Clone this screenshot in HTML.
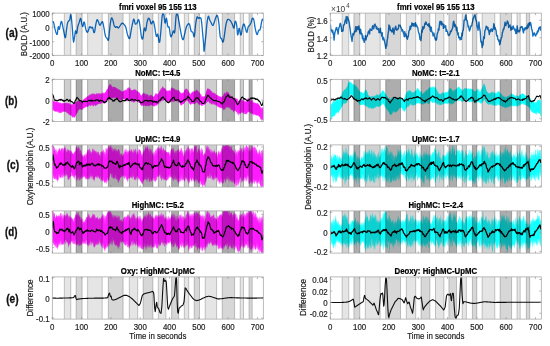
<!DOCTYPE html>
<html><head><meta charset="utf-8"><title>fNIRS motion correction figure</title>
<style>html,body{margin:0;padding:0;background:#fff;width:550px;height:346px;overflow:hidden}svg{display:block}</style>
</head><body>
<svg width="550" height="346" viewBox="0 0 550 346" font-family="'Liberation Sans', Arial, Helvetica, sans-serif"><defs><clipPath id="c00"><rect x="52.3" y="13.1" width="211" height="42.2"/></clipPath><clipPath id="c01"><rect x="52.3" y="79.3" width="211" height="42.2"/></clipPath><clipPath id="c02"><rect x="52.3" y="144.9" width="211" height="42.2"/></clipPath><clipPath id="c03"><rect x="52.3" y="210.9" width="211" height="42.2"/></clipPath><clipPath id="c04"><rect x="52.3" y="276.9" width="211" height="42.2"/></clipPath><clipPath id="c10"><rect x="330.3" y="13.1" width="211" height="42.2"/></clipPath><clipPath id="c11"><rect x="330.3" y="79.3" width="211" height="42.2"/></clipPath><clipPath id="c12"><rect x="330.3" y="144.9" width="211" height="42.2"/></clipPath><clipPath id="c13"><rect x="330.3" y="210.9" width="211" height="42.2"/></clipPath><clipPath id="c14"><rect x="330.3" y="276.9" width="211" height="42.2"/></clipPath></defs><rect width="550" height="346" fill="#fff"/><g clip-path="url(#c00)">
<path d="M52,22.48 L52.4,22.07 L52.8,21.59 L53.2,21.53 L53.6,22.38 L54,24.14 L54.4,26.26 L54.8,28.13 L55.2,29.71 L55.6,31.18 L56,32.45 L56.4,33.53 L56.8,34.48 L57.2,34.43 L57.6,31.94 L58,27.99 L58.4,26.57 L58.8,28.19 L59.2,29.41 L59.6,28.44 L60,26.64 L60.4,24.91 L60.8,22.92 L61.2,21.32 L61.6,21.32 L62,22.64 L62.4,24.59 L62.8,26.58 L63.2,28.54 L63.6,30.65 L64,32.68 L64.4,34.5 L64.8,36.48 L65.2,37.75 L65.6,37.21 L66,34.29 L66.4,30.61 L66.8,27.64 L67.2,24.87 L67.6,22.89 L68,21.91 L68.4,21.4 L68.8,20.88 L69.2,20.59 L69.6,20.07 L70,18.42 L70.4,15.64 L70.8,14.35 L71.2,16.19 L71.6,19.85 L72,24.2 L72.4,28.95 L72.8,34.71 L73.2,39.75 L73.6,42.18 L74,40.75 L74.4,37.62 L74.8,35.06 L75.2,32.28 L75.6,30.76 L76,31.72 L76.4,33.37 L76.8,33.18 L77.2,30.67 L77.6,27.65 L78,25.75 L78.4,24.48 L78.8,23.45 L79.2,22.38 L79.6,20.98 L80,19.51 L80.4,18.49 L80.8,18.47 L81.2,20.31 L81.6,22.85 L82,24.69 L82.4,26.2 L82.8,26.6 L83.2,25.31 L83.6,23.29 L84,21.88 L84.4,22.24 L84.8,24.05 L85.2,26.36 L85.6,28.23 L86,29.74 L86.4,31.08 L86.8,32.01 L87.2,32.3 L87.6,32.03 L88,31.41 L88.4,30.61 L88.8,29.33 L89.2,27.85 L89.6,26.77 L90,26.6 L90.4,27.12 L90.8,27.77 L91.2,28.02 L91.6,27.68 L92,27.23 L92.4,27.23 L92.8,28.17 L93.2,29.8 L93.6,31.52 L94,32.7 L94.4,32.68 L94.8,30.89 L95.2,28.14 L95.6,25.57 L96,23.59 L96.4,21.68 L96.8,20.21 L97.2,19.59 L97.6,19.91 L98,20.77 L98.4,21.71 L98.8,22.74 L99.2,23.99 L99.6,24.99 L100,25.25 L100.4,24.74 L100.8,23.9 L101.2,23.18 L101.6,22.51 L102,21.81 L102.4,21.58 L102.8,22.29 L103.2,23.91 L103.6,26 L104,28.12 L104.4,30.43 L104.8,32.9 L105.2,35.01 L105.6,36.31 L106,37.11 L106.4,37.62 L106.8,38.01 L107.2,38.46 L107.6,39.4 L108,40.34 L108.4,40.29 L108.8,38.28 L109.2,34.36 L109.6,29.86 L110,26.17 L110.4,23.16 L110.8,20.55 L111.2,18.69 L111.6,17.91 L112,18.11 L112.4,18.92 L112.8,19.94 L113.2,21.48 L113.6,23.33 L114,24.95 L114.4,25.98 L114.8,26.69 L115.2,27.14 L115.6,27.36 L116,27.18 L116.4,26.82 L116.8,26.62 L117.2,26.89 L117.6,27.46 L118,27.94 L118.4,27.96 L118.8,27.6 L119.2,27.03 L119.6,26.4 L120,25.84 L120.4,25.25 L120.8,24.61 L121.2,24.01 L121.6,23.51 L122,23.2 L122.4,23.14 L122.8,23.27 L123.2,23.56 L123.6,23.94 L124,24.38 L124.4,24.82 L124.8,25.29 L125.2,25.88 L125.6,26.72 L126,27.92 L126.4,29.62 L126.8,31.55 L127.2,33.4 L127.6,34.88 L128,36.04 L128.4,37.13 L128.8,38 L129.2,38.52 L129.6,38.52 L130,37.56 L130.4,35.28 L130.8,32.54 L131.2,30.21 L131.6,28.1 L132,26.03 L132.4,24.06 L132.8,22.27 L133.2,20.5 L133.6,19.21 L134,19.19 L134.4,20.58 L134.8,22.45 L135.2,23.79 L135.6,24.15 L136,24.1 L136.4,23.77 L136.8,23.3 L137.2,22.64 L137.6,21.54 L138,20.41 L138.4,19.69 L138.8,19.83 L139.2,21.2 L139.6,23.43 L140,26.01 L140.4,28.83 L140.8,32.25 L141.2,35.42 L141.6,37.5 L142,38.72 L142.4,39.16 L142.8,38.63 L143.2,36.48 L143.6,32.78 L144,29.31 L144.4,27.81 L144.8,28.67 L145.2,30.27 L145.6,30.86 L146,29.34 L146.4,26.6 L146.8,23.74 L147.2,21.73 L147.6,20.19 L148,19.03 L148.4,18.33 L148.8,18.22 L149.2,18.61 L149.6,19.3 L150,20.21 L150.4,21.69 L150.8,23.14 L151.2,23.87 L151.6,23.63 L152,22.89 L152.4,21.98 L152.8,21.25 L153.2,21.05 L153.6,21.74 L154,23.32 L154.4,25.33 L154.8,27.43 L155.2,30.02 L155.6,32.78 L156,35.14 L156.4,36.49 L156.8,36.05 L157.2,34.77 L157.6,34.14 L158,35.31 L158.4,37.72 L158.8,40.36 L159.2,42.25 L159.6,42.39 L160,40.03 L160.4,36.06 L160.8,31.71 L161.2,27.36 L161.6,22.32 L162,17.76 L162.4,14.87 L162.8,13.55 L163.2,13.34 L163.6,13.99 L164,15.93 L164.4,19.26 L164.8,22.25 L165.2,23.17 L165.6,21.62 L166,19.34 L166.4,18.29 L166.8,19.76 L167.2,22.69 L167.6,25.59 L168,27.04 L168.4,27.04 L168.8,26.75 L169.2,27.3 L169.6,29.57 L170,32.77 L170.4,35.54 L170.8,36.72 L171.2,36.6 L171.6,35.81 L172,34.91 L172.4,33.72 L172.8,32.23 L173.2,31.05 L173.6,30.92 L174,32.07 L174.4,32.97 L174.8,31.89 L175.2,27.58 L175.6,21.68 L176,16.64 L176.4,14.32 L176.8,13.76 L177.2,14.2 L177.6,15.02 L178,16.4 L178.4,18.34 L178.8,20.5 L179.2,22.71 L179.6,25.18 L180,27.68 L180.4,29.97 L180.8,32.17 L181.2,34.23 L181.6,36.01 L182,37.53 L182.4,38.87 L182.8,39.71 L183.2,39.67 L183.6,38.59 L184,36.91 L184.4,35.17 L184.8,33.54 L185.2,31.73 L185.6,29.91 L186,28.27 L186.4,26.96 L186.8,26.06 L187.2,25.29 L187.6,24.64 L188,24.15 L188.4,23.83 L188.8,23.72 L189.2,23.84 L189.6,24.37 L190,25.95 L190.4,28.07 L190.8,30.05 L191.2,31.26 L191.6,31.73 L192,31.85 L192.4,31.92 L192.8,32.24 L193.2,33.37 L193.6,35.33 L194,36.75 L194.4,36.2 L194.8,33.11 L195.2,28.78 L195.6,24.77 L196,21.98 L196.4,19.63 L196.8,17.84 L197.2,16.85 L197.6,16.97 L198,17.71 L198.4,18.34 L198.8,18.34 L199.2,18.01 L199.6,17.7 L200,17.74 L200.4,17.76 L200.8,18.06 L201.2,19.28 L201.6,21.98 L202,25.95 L202.4,30.48 L202.8,34.86 L203.2,39.22 L203.6,43.97 L204,51.23 L204.4,49.92 L204.8,45 L205.2,41.54 L205.6,38.17 L206,34.36 L206.4,29.47 L206.8,24.87 L207.2,21.7 L207.6,19.02 L208,17.09 L208.4,16.21 L208.8,16.75 L209.2,18.14 L209.6,19.55 L210,20.46 L210.4,21.29 L210.8,22.06 L211.2,22.78 L211.6,23.62 L212,24.47 L212.4,25.14 L212.8,25.42 L213.2,25.12 L213.6,24.24 L214,23.05 L214.4,21.78 L214.8,20.62 L215.2,19.31 L215.6,18.02 L216,17 L216.4,16.15 L216.8,15.47 L217.2,15.33 L217.6,16.1 L218,17.64 L218.4,19.84 L218.8,22.6 L219.2,26.44 L219.6,31.07 L220,35.16 L220.4,37.51 L220.8,38.26 L221.2,38.34 L221.6,38.7 L222,39.85 L222.4,41.23 L222.8,42.14 L223.2,41.89 L223.6,40.31 L224,38.02 L224.4,35.45 L224.8,32.44 L225.2,29.33 L225.6,26.55 L226,24.41 L226.4,22.7 L226.8,21.34 L227.2,20.32 L227.6,19.63 L228,19.33 L228.4,19.34 L228.8,19.53 L229.2,19.75 L229.6,19.97 L230,20.31 L230.4,20.77 L230.8,21.36 L231.2,22.03 L231.6,22.78 L232,23.59 L232.4,24.44 L232.8,25.51 L233.2,26.98 L233.6,28.1 L234,28.05 L234.4,26.14 L234.8,23.43 L235.2,21.43 L235.6,21.19 L236,22.03 L236.4,23.67 L236.8,25.98 L237.2,30.74 L237.6,34.87 L238,34.59 L238.4,31.91 L238.8,29.09 L239.2,28.26 L239.6,29.53 L240,31.73 L240.4,33.92 L240.8,35.15 L241.2,34.64 L241.6,32.68 L242,30.1 L242.4,27.68 L242.8,26.1 L243.2,24.91 L243.6,24.16 L244,24 L244.4,24.69 L244.8,26.03 L245.2,27.54 L245.6,28.89 L246,30.51 L246.4,31.91 L246.8,32.4 L247.2,31.39 L247.6,29.42 L248,27.47 L248.4,26.39 L248.8,25.98 L249.2,25.78 L249.6,25.4 L250,24.74 L250.4,23.97 L250.8,23.09 L251.2,22.02 L251.6,20.6 L252,19.23 L252.4,18.4 L252.8,18.19 L253.2,18.42 L253.6,19.18 L254,20.66 L254.4,23.06 L254.8,25.8 L255.2,28.2 L255.6,30.09 L256,31.74 L256.4,33.17 L256.8,34.31 L257.2,34.62 L257.6,33.78 L258,32.41 L258.4,31.04 L258.8,30.16 L259.2,30.05 L259.6,30.17 L260,29.84 L260.4,28.49 L260.8,26.39 L261.2,24.1 L261.6,22.15 L262,20.31 L262.4,19.16 L262.8,19.44 L263.2,20.64" fill="none" stroke="#0f6fcb" stroke-width="1.3" stroke-linejoin="round"/>
<rect x="64.3" y="13.1" width="6.5" height="42.2" fill="#000" fill-opacity="0.1"/>
<line x1="64.3" y1="13.1" x2="64.3" y2="55.3" stroke="#000" stroke-opacity="0.3" stroke-width="0.7"/>
<line x1="70.8" y1="13.1" x2="70.8" y2="55.3" stroke="#000" stroke-opacity="0.3" stroke-width="0.7"/>
<rect x="76.1" y="13.1" width="6" height="42.2" fill="#000" fill-opacity="0.155"/>
<line x1="76.1" y1="13.1" x2="76.1" y2="55.3" stroke="#000" stroke-opacity="0.3" stroke-width="0.7"/>
<line x1="82.1" y1="13.1" x2="82.1" y2="55.3" stroke="#000" stroke-opacity="0.3" stroke-width="0.7"/>
<rect x="87.6" y="13.1" width="14.6" height="42.2" fill="#000" fill-opacity="0.1"/>
<line x1="87.6" y1="13.1" x2="87.6" y2="55.3" stroke="#000" stroke-opacity="0.3" stroke-width="0.7"/>
<line x1="102.2" y1="13.1" x2="102.2" y2="55.3" stroke="#000" stroke-opacity="0.3" stroke-width="0.7"/>
<rect x="108.3" y="13.1" width="14.8" height="42.2" fill="#000" fill-opacity="0.155"/>
<line x1="108.3" y1="13.1" x2="108.3" y2="55.3" stroke="#000" stroke-opacity="0.3" stroke-width="0.7"/>
<line x1="123.1" y1="13.1" x2="123.1" y2="55.3" stroke="#000" stroke-opacity="0.3" stroke-width="0.7"/>
<rect x="129.3" y="13.1" width="8.4" height="42.2" fill="#000" fill-opacity="0.1"/>
<line x1="129.3" y1="13.1" x2="129.3" y2="55.3" stroke="#000" stroke-opacity="0.3" stroke-width="0.7"/>
<line x1="137.7" y1="13.1" x2="137.7" y2="55.3" stroke="#000" stroke-opacity="0.3" stroke-width="0.7"/>
<rect x="143.1" y="13.1" width="9.8" height="42.2" fill="#000" fill-opacity="0.155"/>
<line x1="143.1" y1="13.1" x2="143.1" y2="55.3" stroke="#000" stroke-opacity="0.3" stroke-width="0.7"/>
<line x1="152.9" y1="13.1" x2="152.9" y2="55.3" stroke="#000" stroke-opacity="0.3" stroke-width="0.7"/>
<rect x="158.3" y="13.1" width="7.6" height="42.2" fill="#000" fill-opacity="0.1"/>
<line x1="158.3" y1="13.1" x2="158.3" y2="55.3" stroke="#000" stroke-opacity="0.3" stroke-width="0.7"/>
<line x1="165.9" y1="13.1" x2="165.9" y2="55.3" stroke="#000" stroke-opacity="0.3" stroke-width="0.7"/>
<rect x="171.6" y="13.1" width="7" height="42.2" fill="#000" fill-opacity="0.155"/>
<line x1="171.6" y1="13.1" x2="171.6" y2="55.3" stroke="#000" stroke-opacity="0.3" stroke-width="0.7"/>
<line x1="178.6" y1="13.1" x2="178.6" y2="55.3" stroke="#000" stroke-opacity="0.3" stroke-width="0.7"/>
<rect x="184.3" y="13.1" width="4.4" height="42.2" fill="#000" fill-opacity="0.1"/>
<line x1="184.3" y1="13.1" x2="184.3" y2="55.3" stroke="#000" stroke-opacity="0.3" stroke-width="0.7"/>
<line x1="188.7" y1="13.1" x2="188.7" y2="55.3" stroke="#000" stroke-opacity="0.3" stroke-width="0.7"/>
<rect x="194.2" y="13.1" width="5.3" height="42.2" fill="#000" fill-opacity="0.155"/>
<line x1="194.2" y1="13.1" x2="194.2" y2="55.3" stroke="#000" stroke-opacity="0.3" stroke-width="0.7"/>
<line x1="199.5" y1="13.1" x2="199.5" y2="55.3" stroke="#000" stroke-opacity="0.3" stroke-width="0.7"/>
<rect x="205.2" y="13.1" width="11.4" height="42.2" fill="#000" fill-opacity="0.1"/>
<line x1="205.2" y1="13.1" x2="205.2" y2="55.3" stroke="#000" stroke-opacity="0.3" stroke-width="0.7"/>
<line x1="216.6" y1="13.1" x2="216.6" y2="55.3" stroke="#000" stroke-opacity="0.3" stroke-width="0.7"/>
<rect x="222.2" y="13.1" width="12.4" height="42.2" fill="#000" fill-opacity="0.155"/>
<line x1="222.2" y1="13.1" x2="222.2" y2="55.3" stroke="#000" stroke-opacity="0.3" stroke-width="0.7"/>
<line x1="234.6" y1="13.1" x2="234.6" y2="55.3" stroke="#000" stroke-opacity="0.3" stroke-width="0.7"/>
<rect x="240.2" y="13.1" width="3.3" height="42.2" fill="#000" fill-opacity="0.1"/>
<line x1="240.2" y1="13.1" x2="240.2" y2="55.3" stroke="#000" stroke-opacity="0.3" stroke-width="0.7"/>
<line x1="243.5" y1="13.1" x2="243.5" y2="55.3" stroke="#000" stroke-opacity="0.3" stroke-width="0.7"/>
<rect x="249" y="13.1" width="3.2" height="42.2" fill="#000" fill-opacity="0.155"/>
<line x1="249" y1="13.1" x2="249" y2="55.3" stroke="#000" stroke-opacity="0.3" stroke-width="0.7"/>
<line x1="252.2" y1="13.1" x2="252.2" y2="55.3" stroke="#000" stroke-opacity="0.3" stroke-width="0.7"/>
</g>
<rect x="52.3" y="13.1" width="211" height="42.2" fill="none" stroke="#a4a4a4" stroke-width="0.75"/>
<line x1="52.3" y1="55.3" x2="52.3" y2="53.3" stroke="#8a8a8a" stroke-width="0.6"/>
<line x1="52.3" y1="13.1" x2="52.3" y2="15.1" stroke="#8a8a8a" stroke-width="0.6"/>
<line x1="81.61" y1="55.3" x2="81.61" y2="53.3" stroke="#8a8a8a" stroke-width="0.6"/>
<line x1="81.61" y1="13.1" x2="81.61" y2="15.1" stroke="#8a8a8a" stroke-width="0.6"/>
<line x1="110.91" y1="55.3" x2="110.91" y2="53.3" stroke="#8a8a8a" stroke-width="0.6"/>
<line x1="110.91" y1="13.1" x2="110.91" y2="15.1" stroke="#8a8a8a" stroke-width="0.6"/>
<line x1="140.22" y1="55.3" x2="140.22" y2="53.3" stroke="#8a8a8a" stroke-width="0.6"/>
<line x1="140.22" y1="13.1" x2="140.22" y2="15.1" stroke="#8a8a8a" stroke-width="0.6"/>
<line x1="169.52" y1="55.3" x2="169.52" y2="53.3" stroke="#8a8a8a" stroke-width="0.6"/>
<line x1="169.52" y1="13.1" x2="169.52" y2="15.1" stroke="#8a8a8a" stroke-width="0.6"/>
<line x1="198.83" y1="55.3" x2="198.83" y2="53.3" stroke="#8a8a8a" stroke-width="0.6"/>
<line x1="198.83" y1="13.1" x2="198.83" y2="15.1" stroke="#8a8a8a" stroke-width="0.6"/>
<line x1="228.13" y1="55.3" x2="228.13" y2="53.3" stroke="#8a8a8a" stroke-width="0.6"/>
<line x1="228.13" y1="13.1" x2="228.13" y2="15.1" stroke="#8a8a8a" stroke-width="0.6"/>
<line x1="257.44" y1="55.3" x2="257.44" y2="53.3" stroke="#8a8a8a" stroke-width="0.6"/>
<line x1="257.44" y1="13.1" x2="257.44" y2="15.1" stroke="#8a8a8a" stroke-width="0.6"/>
<line x1="52.3" y1="13.2" x2="54.3" y2="13.2" stroke="#8a8a8a" stroke-width="0.6"/>
<line x1="263.3" y1="13.2" x2="261.3" y2="13.2" stroke="#8a8a8a" stroke-width="0.6"/>
<line x1="52.3" y1="27.2" x2="54.3" y2="27.2" stroke="#8a8a8a" stroke-width="0.6"/>
<line x1="263.3" y1="27.2" x2="261.3" y2="27.2" stroke="#8a8a8a" stroke-width="0.6"/>
<line x1="52.3" y1="41.7" x2="54.3" y2="41.7" stroke="#8a8a8a" stroke-width="0.6"/>
<line x1="263.3" y1="41.7" x2="261.3" y2="41.7" stroke="#8a8a8a" stroke-width="0.6"/>
<line x1="52.3" y1="55.5" x2="54.3" y2="55.5" stroke="#8a8a8a" stroke-width="0.6"/>
<line x1="263.3" y1="55.5" x2="261.3" y2="55.5" stroke="#8a8a8a" stroke-width="0.6"/>
<text font-size="7.9" text-anchor="end" stroke="#1e1e1e" stroke-width="0.18" fill="#1e1e1e" transform="translate(49.7 17.1) scale(1 1.12)">1000</text>
<text font-size="7.9" text-anchor="end" stroke="#1e1e1e" stroke-width="0.18" fill="#1e1e1e" transform="translate(49.7 31.1) scale(1 1.12)">0</text>
<text font-size="7.9" text-anchor="end" stroke="#1e1e1e" stroke-width="0.18" fill="#1e1e1e" transform="translate(49.7 45.6) scale(1 1.12)">-1000</text>
<text font-size="7.9" text-anchor="end" stroke="#1e1e1e" stroke-width="0.18" fill="#1e1e1e" transform="translate(49.7 59.4) scale(1 1.12)">-2000</text>
<text font-size="7.9" text-anchor="middle" stroke="#1e1e1e" stroke-width="0.18" fill="#1e1e1e" transform="translate(52.3 66.2) scale(1 1.12)">0</text>
<text font-size="7.9" text-anchor="middle" stroke="#1e1e1e" stroke-width="0.18" fill="#1e1e1e" transform="translate(81.61 66.2) scale(1 1.12)">100</text>
<text font-size="7.9" text-anchor="middle" stroke="#1e1e1e" stroke-width="0.18" fill="#1e1e1e" transform="translate(110.91 66.2) scale(1 1.12)">200</text>
<text font-size="7.9" text-anchor="middle" stroke="#1e1e1e" stroke-width="0.18" fill="#1e1e1e" transform="translate(140.22 66.2) scale(1 1.12)">300</text>
<text font-size="7.9" text-anchor="middle" stroke="#1e1e1e" stroke-width="0.18" fill="#1e1e1e" transform="translate(169.52 66.2) scale(1 1.12)">400</text>
<text font-size="7.9" text-anchor="middle" stroke="#1e1e1e" stroke-width="0.18" fill="#1e1e1e" transform="translate(198.83 66.2) scale(1 1.12)">500</text>
<text font-size="7.9" text-anchor="middle" stroke="#1e1e1e" stroke-width="0.18" fill="#1e1e1e" transform="translate(228.13 66.2) scale(1 1.12)">600</text>
<text font-size="7.9" text-anchor="middle" stroke="#1e1e1e" stroke-width="0.18" fill="#1e1e1e" transform="translate(257.44 66.2) scale(1 1.12)">700</text>
<text font-size="7.8" text-anchor="middle" font-weight="bold" fill="#000" transform="translate(157.8 10.2) scale(1 1.12)" stroke="#000" stroke-width="0.2">fmri voxel 95 155 113</text>
<g clip-path="url(#c01)">
<rect x="64.3" y="79.3" width="6.5" height="42.2" fill="#f0f0f0"/>
<rect x="76.1" y="79.3" width="6" height="42.2" fill="#e4e4e4"/>
<rect x="87.6" y="79.3" width="14.6" height="42.2" fill="#f0f0f0"/>
<rect x="108.3" y="79.3" width="14.8" height="42.2" fill="#e4e4e4"/>
<rect x="129.3" y="79.3" width="8.4" height="42.2" fill="#f0f0f0"/>
<rect x="143.1" y="79.3" width="9.8" height="42.2" fill="#e4e4e4"/>
<rect x="158.3" y="79.3" width="7.6" height="42.2" fill="#f0f0f0"/>
<rect x="171.6" y="79.3" width="7" height="42.2" fill="#e4e4e4"/>
<rect x="184.3" y="79.3" width="4.4" height="42.2" fill="#f0f0f0"/>
<rect x="194.2" y="79.3" width="5.3" height="42.2" fill="#e4e4e4"/>
<rect x="205.2" y="79.3" width="11.4" height="42.2" fill="#f0f0f0"/>
<rect x="222.2" y="79.3" width="12.4" height="42.2" fill="#e4e4e4"/>
<rect x="240.2" y="79.3" width="3.3" height="42.2" fill="#f0f0f0"/>
<rect x="249" y="79.3" width="3.2" height="42.2" fill="#e4e4e4"/>
<path d="M52.3,99.3 52.9,100.4 53.5,102.1 54.1,101.4 54.7,101.5 55.3,101.1 55.9,101.7 56.5,102.4 57.1,101.8 57.7,102.0 58.3,102.2 58.9,102.3 59.5,102.7 60.1,103.0 60.7,103.0 61.3,103.1 61.9,102.7 62.5,103.1 63.1,102.6 63.7,104.2 64.3,103.1 64.9,102.2 65.5,103.4 66.1,102.9 66.7,102.4 67.3,103.3 67.9,103.7 68.5,103.4 69.1,103.1 69.7,103.4 70.3,105.7 70.9,105.2 71.5,104.1 72.1,105.4 72.7,104.3 73.3,103.3 73.9,104.2 74.5,103.7 75.1,102.8 75.7,101.7 76.3,101.5 76.9,102.0 77.5,101.3 78.1,100.0 78.7,100.3 79.3,101.4 79.9,100.7 80.5,101.0 81.1,100.6 81.7,100.9 82.3,101.1 82.9,100.7 83.5,99.6 84.1,98.9 84.7,98.4 85.3,97.6 85.9,97.7 86.5,97.1 87.1,97.4 87.7,96.7 88.3,95.7 88.9,95.2 89.5,95.1 90.1,94.6 90.7,94.8 91.3,94.1 91.9,93.4 92.5,94.3 93.1,93.7 93.7,93.2 94.3,94.0 94.9,93.2 95.5,94.6 96.1,94.3 96.7,93.0 97.3,94.7 97.9,94.1 98.5,94.9 99.1,93.8 99.7,93.3 100.3,93.0 100.9,94.6 101.5,92.9 102.1,92.5 102.7,92.3 103.3,92.8 103.9,93.5 104.5,93.2 105.1,92.5 105.7,91.4 106.3,91.0 106.9,89.2 107.5,89.3 108.1,88.6 108.7,86.6 109.3,85.1 109.9,84.2 110.5,84.0 111.1,86.2 111.7,86.8 112.3,87.8 112.9,88.6 113.5,86.8 114.1,86.9 114.7,87.1 115.3,88.0 115.9,88.7 116.5,88.9 117.1,88.2 117.7,89.0 118.3,89.8 118.9,90.3 119.5,89.8 120.1,90.0 120.7,90.4 121.3,91.0 121.9,91.5 122.5,92.2 123.1,91.3 123.7,91.0 124.3,91.6 124.9,89.9 125.5,90.2 126.1,90.7 126.7,89.6 127.3,90.7 127.9,88.2 128.5,88.5 129.1,87.4 129.7,88.4 130.3,88.8 130.9,90.4 131.5,90.0 132.1,90.8 132.7,90.1 133.3,90.1 133.9,89.6 134.5,89.6 135.1,91.1 135.7,89.9 136.3,90.3 136.9,90.7 137.5,91.4 138.1,91.3 138.7,93.5 139.3,93.5 139.9,92.7 140.5,94.7 141.1,95.7 141.7,95.2 142.3,94.6 142.9,93.2 143.5,93.3 144.1,93.1 144.7,94.3 145.3,93.8 145.9,93.3 146.5,93.9 147.1,93.9 147.7,95.2 148.3,94.8 148.9,95.0 149.5,96.3 150.1,96.4 150.7,95.2 151.3,95.3 151.9,95.8 152.5,95.9 153.1,96.8 153.7,97.0 154.3,95.9 154.9,95.1 155.5,94.1 156.1,94.0 156.7,94.4 157.3,95.0 157.9,94.6 158.5,94.3 159.1,93.2 159.7,91.2 160.3,90.5 160.9,88.4 161.5,89.1 162.1,89.0 162.7,87.0 163.3,88.3 163.9,88.8 164.5,88.5 165.1,88.9 165.7,89.1 166.3,90.5 166.9,92.0 167.5,90.7 168.1,90.9 168.7,90.4 169.3,90.0 169.9,90.3 170.5,90.9 171.1,89.2 171.7,88.8 172.3,88.3 172.9,88.0 173.5,88.6 174.1,89.0 174.7,90.8 175.3,90.4 175.9,89.1 176.5,91.5 177.1,90.3 177.7,90.9 178.3,89.5 178.9,91.8 179.5,90.9 180.1,92.2 180.7,93.3 181.3,93.2 181.9,93.3 182.5,92.8 183.1,92.1 183.7,93.1 184.3,90.2 184.9,90.8 185.5,88.8 186.1,88.9 186.7,90.5 187.3,89.9 187.9,90.2 188.5,91.4 189.1,91.7 189.7,93.7 190.3,95.2 190.9,95.0 191.5,93.0 192.1,92.2 192.7,92.3 193.3,92.6 193.9,91.3 194.5,91.6 195.1,91.6 195.7,90.7 196.3,89.3 196.9,90.3 197.5,90.2 198.1,91.2 198.7,92.7 199.3,92.9 199.9,92.8 200.5,93.8 201.1,94.4 201.7,95.9 202.3,96.6 202.9,96.1 203.5,96.7 204.1,96.4 204.7,96.5 205.3,95.5 205.9,92.6 206.5,90.7 207.1,89.2 207.7,88.2 208.3,89.0 208.9,88.0 209.5,90.2 210.1,89.9 210.7,92.2 211.3,92.9 211.9,93.0 212.5,93.2 213.1,93.1 213.7,93.8 214.3,92.5 214.9,93.4 215.5,94.4 216.1,94.2 216.7,94.9 217.3,95.2 217.9,95.0 218.5,96.0 219.1,97.1 219.7,96.1 220.3,98.0 220.9,96.4 221.5,97.7 222.1,97.5 222.7,96.0 223.3,94.5 223.9,93.6 224.5,92.8 225.1,92.2 225.7,93.8 226.3,94.5 226.9,94.6 227.5,92.2 228.1,92.8 228.7,92.9 229.3,94.8 229.9,94.5 230.5,95.2 231.1,99.0 231.7,96.2 232.3,98.2 232.9,98.0 233.5,99.4 234.1,99.3 234.7,98.3 235.3,97.8 235.9,98.7 236.5,99.4 237.1,98.6 237.7,99.1 238.3,101.4 238.9,101.3 239.5,101.9 240.1,100.2 240.7,100.6 241.3,100.6 241.9,98.7 242.5,101.2 243.1,100.6 243.7,101.1 244.3,101.1 244.9,101.6 245.5,101.7 246.1,101.0 246.7,102.7 247.3,99.8 247.9,97.8 248.5,98.9 249.1,100.1 249.7,98.8 250.3,100.1 250.9,101.0 251.5,98.8 252.1,100.1 252.7,100.2 253.3,101.6 253.9,102.9 254.5,103.3 255.1,103.3 255.7,103.6 256.3,103.1 256.9,103.2 257.5,103.2 258.1,104.0 258.7,104.2 259.3,105.1 259.9,105.2 260.5,107.3 261.1,107.1 261.7,108.6 262.3,107.4 262.9,107.6 263.5,109.1 263.5,119.5 262.9,119.8 262.3,119.1 261.7,119.1 261.1,118.0 260.5,118.7 259.9,117.0 259.3,116.9 258.7,116.6 258.1,115.6 257.5,115.3 256.9,115.5 256.3,115.1 255.7,115.0 255.1,115.6 254.5,114.8 253.9,114.0 253.3,113.7 252.7,114.5 252.1,113.6 251.5,112.9 250.9,112.9 250.3,112.6 249.7,112.2 249.1,111.5 248.5,112.4 247.9,112.1 247.3,113.1 246.7,112.1 246.1,114.1 245.5,113.5 244.9,114.0 244.3,114.2 243.7,113.9 243.1,112.7 242.5,113.4 241.9,111.7 241.3,112.7 240.7,113.6 240.1,114.3 239.5,113.0 238.9,112.2 238.3,115.9 237.7,114.6 237.1,112.3 236.5,112.2 235.9,111.7 235.3,111.2 234.7,108.8 234.1,112.4 233.5,110.9 232.9,109.7 232.3,109.4 231.7,110.1 231.1,110.0 230.5,109.6 229.9,104.8 229.3,108.7 228.7,107.2 228.1,107.3 227.5,106.9 226.9,107.4 226.3,108.7 225.7,106.3 225.1,108.3 224.5,109.8 223.9,110.2 223.3,109.6 222.7,107.5 222.1,108.4 221.5,108.3 220.9,106.8 220.3,108.5 219.7,107.0 219.1,107.2 218.5,107.1 217.9,106.9 217.3,104.2 216.7,103.4 216.1,105.2 215.5,104.1 214.9,104.7 214.3,104.5 213.7,101.7 213.1,104.5 212.5,103.0 211.9,103.4 211.3,104.3 210.7,103.3 210.1,101.7 209.5,103.8 208.9,102.4 208.3,101.8 207.7,101.9 207.1,101.5 206.5,103.0 205.9,103.8 205.3,103.9 204.7,103.9 204.1,104.0 203.5,104.1 202.9,104.7 202.3,105.2 201.7,105.9 201.1,104.8 200.5,104.7 199.9,104.9 199.3,104.6 198.7,103.5 198.1,103.2 197.5,103.2 196.9,101.8 196.3,102.8 195.7,103.4 195.1,103.6 194.5,104.4 193.9,103.0 193.3,103.2 192.7,103.3 192.1,102.2 191.5,103.9 190.9,104.5 190.3,104.5 189.7,104.0 189.1,103.0 188.5,101.4 187.9,100.1 187.3,100.8 186.7,100.8 186.1,100.0 185.5,100.9 184.9,102.2 184.3,103.1 183.7,104.0 183.1,104.1 182.5,104.8 181.9,104.9 181.3,104.1 180.7,104.9 180.1,103.5 179.5,101.4 178.9,102.2 178.3,102.6 177.7,101.0 177.1,100.7 176.5,102.1 175.9,100.0 175.3,100.2 174.7,101.8 174.1,100.1 173.5,102.5 172.9,100.2 172.3,100.8 171.7,101.3 171.1,101.1 170.5,102.2 169.9,102.6 169.3,102.4 168.7,101.4 168.1,102.1 167.5,101.8 166.9,101.2 166.3,101.3 165.7,100.8 165.1,99.4 164.5,99.2 163.9,100.3 163.3,100.8 162.7,99.8 162.1,101.6 161.5,100.5 160.9,100.2 160.3,100.2 159.7,100.7 159.1,103.2 158.5,104.4 157.9,103.8 157.3,105.0 156.7,105.8 156.1,104.5 155.5,105.0 154.9,106.4 154.3,105.2 153.7,105.9 153.1,105.5 152.5,105.2 151.9,105.3 151.3,105.0 150.7,104.9 150.1,105.8 149.5,105.6 148.9,105.0 148.3,105.8 147.7,105.6 147.1,105.4 146.5,106.4 145.9,106.0 145.3,105.5 144.7,105.8 144.1,105.3 143.5,105.8 142.9,104.2 142.3,105.8 141.7,105.8 141.1,105.3 140.5,105.1 139.9,102.6 139.3,101.9 138.7,102.9 138.1,102.3 137.5,100.7 136.9,101.2 136.3,99.4 135.7,99.3 135.1,101.3 134.5,101.2 133.9,101.1 133.3,102.4 132.7,101.6 132.1,101.3 131.5,102.1 130.9,101.6 130.3,100.0 129.7,100.1 129.1,100.1 128.5,101.0 127.9,101.0 127.3,101.3 126.7,101.4 126.1,100.5 125.5,100.7 124.9,99.6 124.3,99.2 123.7,98.7 123.1,98.1 122.5,100.3 121.9,100.1 121.3,100.3 120.7,100.9 120.1,100.3 119.5,99.4 118.9,99.3 118.3,99.1 117.7,99.6 117.1,99.3 116.5,96.7 115.9,97.2 115.3,97.6 114.7,98.0 114.1,97.6 113.5,97.6 112.9,97.9 112.3,97.9 111.7,98.6 111.1,98.6 110.5,98.4 109.9,97.6 109.3,97.0 108.7,99.6 108.1,98.6 107.5,99.6 106.9,99.4 106.3,100.8 105.7,102.2 105.1,103.4 104.5,103.6 103.9,103.0 103.3,102.5 102.7,102.2 102.1,103.5 101.5,102.4 100.9,104.2 100.3,103.8 99.7,103.2 99.1,102.4 98.5,102.7 97.9,104.2 97.3,104.9 96.7,104.7 96.1,104.1 95.5,106.4 94.9,105.5 94.3,103.9 93.7,106.0 93.1,105.5 92.5,105.3 91.9,103.7 91.3,103.3 90.7,106.1 90.1,105.4 89.5,104.8 88.9,105.6 88.3,106.5 87.7,106.8 87.1,105.6 86.5,106.1 85.9,106.9 85.3,107.2 84.7,107.8 84.1,108.3 83.5,108.6 82.9,108.9 82.3,109.4 81.7,109.4 81.1,109.7 80.5,108.8 79.9,109.1 79.3,109.1 78.7,109.9 78.1,110.4 77.5,111.9 76.9,113.2 76.3,114.5 75.7,115.4 75.1,115.8 74.5,117.1 73.9,116.9 73.3,117.7 72.7,116.8 72.1,116.0 71.5,116.2 70.9,114.9 70.3,115.0 69.7,114.7 69.1,114.9 68.5,112.6 67.9,113.8 67.3,113.0 66.7,112.4 66.1,111.6 65.5,111.3 64.9,112.2 64.3,111.6 63.7,111.0 63.1,111.5 62.5,112.0 61.9,112.9 61.3,113.0 60.7,112.9 60.1,113.2 59.5,112.4 58.9,112.7 58.3,112.3 57.7,111.0 57.1,110.5 56.5,111.6 55.9,111.8 55.3,111.1 54.7,110.8 54.1,110.8 53.5,109.4 52.9,109.7 52.3,109.8Z" fill="#ff00ff" fill-opacity="0.52"/>
<path d="M52.3,100.0 52.9,101.0 53.5,100.1 54.1,101.1 54.7,102.5 55.3,101.7 55.9,101.4 56.5,101.4 57.1,101.7 57.7,102.3 58.3,102.7 58.9,101.8 59.5,103.0 60.1,102.8 60.7,102.3 61.3,103.9 61.9,104.4 62.5,103.3 63.1,102.8 63.7,103.6 64.3,103.6 64.9,103.5 65.5,102.8 66.1,102.8 66.7,103.7 67.3,104.2 67.9,103.8 68.5,103.3 69.1,103.3 69.7,104.6 70.3,104.6 70.9,104.2 71.5,103.9 72.1,105.3 72.7,104.3 73.3,103.8 73.9,103.7 74.5,104.3 75.1,102.6 75.7,102.0 76.3,102.8 76.9,102.5 77.5,101.3 78.1,101.5 78.7,100.2 79.3,101.0 79.9,100.1 80.5,100.6 81.1,101.9 81.7,101.3 82.3,102.5 82.9,100.9 83.5,99.2 84.1,99.5 84.7,98.7 85.3,97.7 85.9,98.9 86.5,97.0 87.1,96.1 87.7,96.5 88.3,95.5 88.9,96.9 89.5,95.2 90.1,94.8 90.7,94.3 91.3,93.6 91.9,94.1 92.5,93.6 93.1,94.7 93.7,94.6 94.3,95.2 94.9,93.6 95.5,94.4 96.1,94.6 96.7,94.1 97.3,94.2 97.9,92.9 98.5,93.2 99.1,93.2 99.7,93.4 100.3,94.8 100.9,94.3 101.5,93.1 102.1,93.9 102.7,93.5 103.3,92.8 103.9,94.1 104.5,93.9 105.1,92.6 105.7,92.1 106.3,90.2 106.9,89.4 107.5,89.2 108.1,88.0 108.7,85.9 109.3,85.8 109.9,85.1 110.5,85.9 111.1,86.6 111.7,85.7 112.3,86.7 112.9,88.2 113.5,87.0 114.1,86.5 114.7,87.3 115.3,87.1 115.9,87.3 116.5,87.9 117.1,88.3 117.7,88.9 118.3,89.4 118.9,90.0 119.5,90.5 120.1,90.3 120.7,91.5 121.3,90.8 121.9,92.0 122.5,92.6 123.1,91.8 123.7,91.3 124.3,90.2 124.9,90.7 125.5,89.7 126.1,89.1 126.7,90.0 127.3,88.1 127.9,87.6 128.5,87.4 129.1,87.1 129.7,89.9 130.3,89.0 130.9,89.7 131.5,90.7 132.1,91.1 132.7,90.2 133.3,90.0 133.9,89.8 134.5,90.0 135.1,89.3 135.7,89.6 136.3,90.7 136.9,90.7 137.5,91.2 138.1,91.4 138.7,93.1 139.3,91.8 139.9,93.3 140.5,94.9 141.1,96.2 141.7,96.2 142.3,94.2 142.9,93.4 143.5,93.0 144.1,92.8 144.7,94.1 145.3,95.4 145.9,95.4 146.5,95.8 147.1,94.1 147.7,94.8 148.3,97.3 148.9,97.1 149.5,96.1 150.1,94.9 150.7,94.8 151.3,94.8 151.9,96.4 152.5,97.4 153.1,98.1 153.7,96.9 154.3,95.7 154.9,95.7 155.5,93.4 156.1,93.0 156.7,94.6 157.3,95.2 157.9,93.9 158.5,93.2 159.1,92.2 159.7,90.5 160.3,90.5 160.9,91.0 161.5,88.9 162.1,87.1 162.7,86.4 163.3,87.2 163.9,88.2 164.5,88.2 165.1,88.7 165.7,90.1 166.3,90.9 166.9,90.5 167.5,90.8 168.1,90.0 168.7,91.2 169.3,90.4 169.9,91.2 170.5,90.7 171.1,87.5 171.7,87.6 172.3,87.2 172.9,88.0 173.5,88.8 174.1,88.9 174.7,88.3 175.3,89.7 175.9,89.8 176.5,90.2 177.1,89.5 177.7,91.3 178.3,90.7 178.9,89.6 179.5,91.2 180.1,92.2 180.7,92.9 181.3,92.8 181.9,93.6 182.5,92.8 183.1,92.8 183.7,93.8 184.3,89.7 184.9,89.8 185.5,89.2 186.1,88.1 186.7,89.1 187.3,88.9 187.9,91.0 188.5,90.6 189.1,92.7 189.7,92.6 190.3,94.0 190.9,94.2 191.5,92.7 192.1,92.8 192.7,91.2 193.3,91.3 193.9,90.9 194.5,91.3 195.1,91.5 195.7,90.9 196.3,90.9 196.9,90.4 197.5,90.9 198.1,90.9 198.7,91.6 199.3,91.9 199.9,94.2 200.5,94.5 201.1,96.0 201.7,98.0 202.3,96.6 202.9,96.3 203.5,96.7 204.1,96.8 204.7,96.7 205.3,94.6 205.9,92.9 206.5,91.5 207.1,88.9 207.7,89.2 208.3,89.2 208.9,89.8 209.5,89.3 210.1,89.1 210.7,91.8 211.3,91.1 211.9,90.9 212.5,93.1 213.1,92.1 213.7,93.1 214.3,92.6 214.9,93.8 215.5,95.7 216.1,95.6 216.7,97.0 217.3,95.6 217.9,95.5 218.5,96.0 219.1,96.3 219.7,96.2 220.3,96.6 220.9,96.5 221.5,97.9 222.1,97.8 222.7,95.8 223.3,96.6 223.9,93.6 224.5,93.5 225.1,94.1 225.7,93.4 226.3,91.5 226.9,91.4 227.5,93.7 228.1,92.6 228.7,94.4 229.3,94.7 229.9,95.6 230.5,95.9 231.1,98.2 231.7,96.4 232.3,97.6 232.9,97.5 233.5,98.8 234.1,99.0 234.7,97.4 235.3,97.8 235.9,98.3 236.5,99.4 237.1,98.6 237.7,99.8 238.3,101.2 238.9,100.1 239.5,101.3 240.1,101.1 240.7,99.8 241.3,98.8 241.9,97.9 242.5,100.1 243.1,99.9 243.7,100.2 244.3,99.8 244.9,102.5 245.5,101.8 246.1,100.8 246.7,100.3 247.3,99.3 247.9,98.6 248.5,98.2 249.1,97.7 249.7,99.4 250.3,98.5 250.9,101.2 251.5,100.9 252.1,101.7 252.7,102.8 253.3,102.8 253.9,102.1 254.5,103.1 255.1,102.5 255.7,103.3 256.3,104.2 256.9,103.9 257.5,103.5 258.1,103.3 258.7,105.1 259.3,105.5 259.9,105.8 260.5,108.4 261.1,107.6 261.7,109.7 262.3,109.2 262.9,108.1 263.5,108.0 263.5,119.6 262.9,120.4 262.3,119.1 261.7,120.7 261.1,119.4 260.5,119.7 259.9,116.9 259.3,115.9 258.7,115.9 258.1,114.8 257.5,115.3 256.9,115.2 256.3,115.7 255.7,114.9 255.1,114.5 254.5,113.3 253.9,113.0 253.3,114.7 252.7,114.5 252.1,112.8 251.5,113.4 250.9,113.4 250.3,112.1 249.7,112.3 249.1,112.1 248.5,112.1 247.9,111.3 247.3,112.6 246.7,114.5 246.1,113.2 245.5,114.3 244.9,112.4 244.3,111.7 243.7,113.8 243.1,113.4 242.5,112.2 241.9,111.5 241.3,112.9 240.7,112.7 240.1,112.8 239.5,113.9 238.9,112.8 238.3,114.3 237.7,113.5 237.1,111.0 236.5,112.7 235.9,110.6 235.3,109.8 234.7,109.7 234.1,111.2 233.5,112.5 232.9,110.5 232.3,110.2 231.7,109.7 231.1,109.8 230.5,108.3 229.9,106.8 229.3,109.3 228.7,106.3 228.1,107.6 227.5,106.8 226.9,105.6 226.3,107.0 225.7,107.3 225.1,109.2 224.5,108.9 223.9,109.4 223.3,107.9 222.7,108.7 222.1,108.3 221.5,107.4 220.9,107.9 220.3,107.3 219.7,107.1 219.1,106.4 218.5,107.0 217.9,106.9 217.3,106.2 216.7,104.7 216.1,106.0 215.5,105.2 214.9,104.3 214.3,104.1 213.7,103.0 213.1,104.0 212.5,104.7 211.9,102.9 211.3,104.1 210.7,102.9 210.1,102.8 209.5,103.4 208.9,101.1 208.3,100.8 207.7,102.2 207.1,102.0 206.5,102.4 205.9,102.1 205.3,103.6 204.7,104.6 204.1,104.9 203.5,105.1 202.9,105.7 202.3,104.6 201.7,106.2 201.1,103.5 200.5,104.0 199.9,104.9 199.3,104.4 198.7,103.9 198.1,104.2 197.5,103.1 196.9,99.8 196.3,100.5 195.7,102.9 195.1,103.9 194.5,103.8 193.9,103.7 193.3,103.4 192.7,104.3 192.1,103.4 191.5,103.2 190.9,104.5 190.3,104.2 189.7,103.9 189.1,102.1 188.5,101.3 187.9,101.5 187.3,100.9 186.7,100.1 186.1,101.2 185.5,101.6 184.9,102.2 184.3,103.0 183.7,103.8 183.1,103.7 182.5,103.6 181.9,105.3 181.3,104.8 180.7,105.2 180.1,103.8 179.5,102.9 178.9,101.9 178.3,101.4 177.7,102.5 177.1,100.6 176.5,99.9 175.9,101.2 175.3,100.8 174.7,101.0 174.1,101.7 173.5,101.4 172.9,102.1 172.3,101.8 171.7,102.4 171.1,99.9 170.5,102.7 169.9,101.5 169.3,100.6 168.7,102.8 168.1,100.3 167.5,101.7 166.9,101.2 166.3,100.7 165.7,100.7 165.1,99.4 164.5,99.3 163.9,99.8 163.3,101.2 162.7,100.2 162.1,99.5 161.5,100.4 160.9,102.1 160.3,102.4 159.7,102.9 159.1,102.1 158.5,102.7 157.9,102.7 157.3,103.8 156.7,105.9 156.1,104.2 155.5,104.5 154.9,105.0 154.3,106.9 153.7,105.5 153.1,106.6 152.5,106.0 151.9,105.6 151.3,104.5 150.7,105.6 150.1,105.2 149.5,105.4 148.9,106.6 148.3,105.5 147.7,105.7 147.1,105.3 146.5,106.2 145.9,105.7 145.3,106.6 144.7,105.7 144.1,104.2 143.5,105.8 142.9,105.4 142.3,105.9 141.7,106.5 141.1,104.8 140.5,105.0 139.9,103.0 139.3,101.8 138.7,102.2 138.1,101.8 137.5,101.9 136.9,100.6 136.3,100.3 135.7,100.2 135.1,101.9 134.5,102.2 133.9,102.0 133.3,101.6 132.7,101.5 132.1,101.4 131.5,102.2 130.9,98.9 130.3,100.8 129.7,100.7 129.1,99.8 128.5,100.5 127.9,101.2 127.3,101.0 126.7,100.5 126.1,99.4 125.5,100.2 124.9,99.1 124.3,99.2 123.7,98.4 123.1,98.7 122.5,99.8 121.9,99.7 121.3,100.4 120.7,100.3 120.1,99.9 119.5,98.9 118.9,99.6 118.3,100.0 117.7,99.0 117.1,98.3 116.5,98.2 115.9,97.3 115.3,97.2 114.7,97.5 114.1,98.2 113.5,98.3 112.9,98.4 112.3,98.6 111.7,97.4 111.1,98.0 110.5,98.7 109.9,97.9 109.3,99.0 108.7,100.5 108.1,99.7 107.5,99.4 106.9,99.1 106.3,100.4 105.7,101.2 105.1,102.5 104.5,103.5 103.9,102.0 103.3,103.0 102.7,103.4 102.1,102.0 101.5,102.8 100.9,103.7 100.3,103.2 99.7,103.8 99.1,103.5 98.5,104.0 97.9,104.2 97.3,103.8 96.7,104.8 96.1,105.8 95.5,105.8 94.9,104.7 94.3,105.3 93.7,106.5 93.1,106.5 92.5,104.3 91.9,105.0 91.3,104.8 90.7,105.8 90.1,106.5 89.5,104.5 88.9,105.1 88.3,106.7 87.7,106.6 87.1,106.5 86.5,106.5 85.9,107.1 85.3,107.3 84.7,107.9 84.1,107.9 83.5,108.1 82.9,109.2 82.3,109.8 81.7,109.2 81.1,109.5 80.5,109.7 79.9,109.7 79.3,109.2 78.7,110.8 78.1,110.9 77.5,112.5 76.9,113.0 76.3,114.6 75.7,116.6 75.1,116.6 74.5,117.4 73.9,117.2 73.3,116.8 72.7,117.8 72.1,116.0 71.5,114.8 70.9,115.1 70.3,115.7 69.7,115.3 69.1,113.3 68.5,114.0 67.9,113.3 67.3,112.8 66.7,112.7 66.1,112.1 65.5,111.9 64.9,111.5 64.3,111.4 63.7,111.4 63.1,111.9 62.5,111.5 61.9,111.5 61.3,112.7 60.7,112.5 60.1,112.4 59.5,112.7 58.9,112.5 58.3,112.5 57.7,111.5 57.1,111.0 56.5,112.1 55.9,111.7 55.3,111.5 54.7,111.0 54.1,110.9 53.5,110.7 52.9,110.6 52.3,109.9Z" fill="#ff00ff" fill-opacity="0.52"/>
<path d="M52.3,99.7 52.9,100.2 53.5,101.3 54.1,101.2 54.7,101.1 55.3,103.0 55.9,102.9 56.5,101.3 57.1,102.8 57.7,103.3 58.3,104.3 58.9,102.8 59.5,103.2 60.1,103.2 60.7,104.0 61.3,103.8 61.9,104.2 62.5,103.7 63.1,102.4 63.7,103.1 64.3,103.3 64.9,103.5 65.5,103.3 66.1,103.3 66.7,103.0 67.3,102.4 67.9,103.6 68.5,103.0 69.1,104.1 69.7,103.3 70.3,103.4 70.9,105.1 71.5,105.1 72.1,104.0 72.7,103.8 73.3,105.1 73.9,103.1 74.5,102.5 75.1,101.2 75.7,102.7 76.3,102.7 76.9,101.9 77.5,101.0 78.1,100.8 78.7,101.0 79.3,100.5 79.9,101.4 80.5,100.8 81.1,100.6 81.7,101.0 82.3,101.6 82.9,99.8 83.5,99.7 84.1,99.5 84.7,98.6 85.3,97.7 85.9,98.6 86.5,97.5 87.1,96.7 87.7,95.9 88.3,96.6 88.9,95.3 89.5,94.3 90.1,96.5 90.7,94.8 91.3,95.4 91.9,95.7 92.5,93.4 93.1,94.1 93.7,94.2 94.3,93.4 94.9,94.3 95.5,95.5 96.1,93.6 96.7,93.2 97.3,93.5 97.9,93.7 98.5,93.3 99.1,94.1 99.7,94.3 100.3,94.5 100.9,93.0 101.5,94.0 102.1,95.1 102.7,94.4 103.3,93.1 103.9,92.5 104.5,92.9 105.1,92.2 105.7,92.4 106.3,90.9 106.9,90.1 107.5,88.6 108.1,88.7 108.7,85.8 109.3,84.8 109.9,83.8 110.5,84.4 111.1,84.6 111.7,85.2 112.3,86.8 112.9,86.8 113.5,86.9 114.1,86.9 114.7,87.5 115.3,88.2 115.9,87.4 116.5,88.6 117.1,88.0 117.7,90.1 118.3,89.4 118.9,89.3 119.5,89.2 120.1,90.2 120.7,90.8 121.3,91.3 121.9,92.8 122.5,91.2 123.1,90.5 123.7,90.9 124.3,90.1 124.9,90.7 125.5,90.5 126.1,90.2 126.7,90.2 127.3,88.4 127.9,87.7 128.5,88.7 129.1,87.4 129.7,87.7 130.3,88.1 130.9,90.1 131.5,90.3 132.1,89.8 132.7,90.3 133.3,90.1 133.9,89.6 134.5,89.3 135.1,89.8 135.7,89.7 136.3,91.0 136.9,92.4 137.5,91.0 138.1,92.1 138.7,92.6 139.3,92.8 139.9,93.7 140.5,94.9 141.1,95.4 141.7,94.9 142.3,95.2 142.9,93.2 143.5,94.2 144.1,93.8 144.7,93.2 145.3,94.8 145.9,94.2 146.5,94.9 147.1,94.4 147.7,94.0 148.3,96.3 148.9,97.5 149.5,95.2 150.1,94.7 150.7,95.9 151.3,95.0 151.9,95.8 152.5,95.8 153.1,96.3 153.7,96.8 154.3,96.2 154.9,95.0 155.5,94.0 156.1,92.8 156.7,93.7 157.3,94.1 157.9,93.6 158.5,93.8 159.1,92.0 159.7,90.5 160.3,90.1 160.9,88.4 161.5,88.2 162.1,88.1 162.7,86.0 163.3,87.1 163.9,87.9 164.5,88.2 165.1,88.3 165.7,89.7 166.3,90.3 166.9,91.8 167.5,91.2 168.1,91.2 168.7,90.8 169.3,90.4 169.9,91.0 170.5,92.1 171.1,87.8 171.7,88.5 172.3,88.7 172.9,88.7 173.5,88.2 174.1,88.7 174.7,89.0 175.3,90.2 175.9,91.0 176.5,89.8 177.1,89.9 177.7,90.6 178.3,91.8 178.9,90.5 179.5,91.9 180.1,92.5 180.7,92.4 181.3,94.4 181.9,94.4 182.5,93.6 183.1,93.6 183.7,92.2 184.3,90.7 184.9,90.1 185.5,88.8 186.1,89.2 186.7,88.8 187.3,89.0 187.9,90.0 188.5,91.9 189.1,92.9 189.7,93.6 190.3,93.9 190.9,93.9 191.5,92.3 192.1,92.8 192.7,92.1 193.3,92.4 193.9,92.1 194.5,91.7 195.1,90.6 195.7,90.9 196.3,89.0 196.9,89.9 197.5,90.2 198.1,91.9 198.7,91.4 199.3,91.9 199.9,94.0 200.5,94.4 201.1,94.3 201.7,96.5 202.3,97.2 202.9,97.2 203.5,96.5 204.1,96.4 204.7,96.7 205.3,95.9 205.9,95.2 206.5,91.4 207.1,88.9 207.7,88.1 208.3,88.7 208.9,90.1 209.5,88.9 210.1,89.6 210.7,90.2 211.3,91.0 211.9,91.0 212.5,92.6 213.1,93.3 213.7,93.3 214.3,94.1 214.9,93.7 215.5,93.3 216.1,94.5 216.7,95.2 217.3,95.3 217.9,95.2 218.5,97.1 219.1,96.8 219.7,96.7 220.3,97.1 220.9,96.4 221.5,97.0 222.1,95.9 222.7,95.7 223.3,95.5 223.9,96.5 224.5,92.8 225.1,94.8 225.7,93.4 226.3,92.4 226.9,91.9 227.5,91.5 228.1,92.3 228.7,92.7 229.3,94.2 229.9,95.9 230.5,95.7 231.1,96.0 231.7,96.5 232.3,97.0 232.9,97.2 233.5,97.7 234.1,99.1 234.7,98.0 235.3,99.1 235.9,98.3 236.5,97.9 237.1,100.4 237.7,103.1 238.3,101.4 238.9,100.4 239.5,100.4 240.1,99.1 240.7,98.5 241.3,101.1 241.9,99.8 242.5,101.0 243.1,101.1 243.7,101.4 244.3,102.0 244.9,100.3 245.5,101.4 246.1,102.0 246.7,102.5 247.3,99.4 247.9,98.7 248.5,99.0 249.1,98.6 249.7,98.9 250.3,100.1 250.9,100.7 251.5,101.0 252.1,100.5 252.7,101.1 253.3,103.3 253.9,102.7 254.5,102.4 255.1,102.8 255.7,103.3 256.3,103.7 256.9,103.5 257.5,103.3 258.1,102.9 258.7,104.5 259.3,106.3 259.9,106.1 260.5,108.5 261.1,107.7 261.7,107.9 262.3,107.2 262.9,108.3 263.5,108.1 263.5,120.1 262.9,120.0 262.3,120.1 261.7,118.9 261.1,120.2 260.5,117.1 259.9,116.7 259.3,115.7 258.7,115.8 258.1,115.1 257.5,115.4 256.9,115.4 256.3,115.2 255.7,115.0 255.1,113.4 254.5,114.4 253.9,115.5 253.3,115.0 252.7,113.8 252.1,113.5 251.5,113.2 250.9,114.0 250.3,114.1 249.7,111.8 249.1,110.9 248.5,111.1 247.9,111.6 247.3,113.3 246.7,114.6 246.1,114.0 245.5,114.1 244.9,114.7 244.3,112.1 243.7,111.5 243.1,112.3 242.5,112.2 241.9,110.2 241.3,113.1 240.7,113.3 240.1,114.1 239.5,114.4 238.9,112.3 238.3,115.6 237.7,114.2 237.1,111.7 236.5,111.9 235.9,111.6 235.3,110.5 234.7,111.2 234.1,110.4 233.5,112.0 232.9,110.5 232.3,110.1 231.7,109.1 231.1,109.0 230.5,107.3 229.9,108.4 229.3,107.3 228.7,107.3 228.1,108.1 227.5,107.7 226.9,105.2 226.3,107.1 225.7,107.5 225.1,109.2 224.5,108.3 223.9,110.4 223.3,109.1 222.7,108.2 222.1,108.0 221.5,106.7 220.9,107.2 220.3,108.5 219.7,107.7 219.1,107.7 218.5,107.2 217.9,105.2 217.3,106.5 216.7,106.1 216.1,105.4 215.5,104.5 214.9,104.4 214.3,104.8 213.7,104.2 213.1,104.4 212.5,104.0 211.9,103.4 211.3,104.8 210.7,104.4 210.1,102.5 209.5,102.1 208.9,100.5 208.3,100.8 207.7,101.2 207.1,101.3 206.5,102.6 205.9,103.7 205.3,104.0 204.7,105.0 204.1,104.4 203.5,104.3 202.9,105.5 202.3,105.9 201.7,106.0 201.1,105.8 200.5,104.7 199.9,104.2 199.3,102.1 198.7,104.9 198.1,102.8 197.5,101.9 196.9,102.8 196.3,101.9 195.7,103.1 195.1,103.0 194.5,104.3 193.9,104.4 193.3,103.6 192.7,103.4 192.1,103.5 191.5,104.0 190.9,104.9 190.3,104.5 189.7,103.6 189.1,101.9 188.5,102.4 187.9,100.7 187.3,100.7 186.7,100.5 186.1,100.2 185.5,101.6 184.9,102.5 184.3,102.0 183.7,103.5 183.1,104.3 182.5,103.3 181.9,105.2 181.3,105.9 180.7,105.2 180.1,104.1 179.5,101.1 178.9,102.1 178.3,101.8 177.7,100.6 177.1,100.7 176.5,101.2 175.9,99.5 175.3,100.0 174.7,100.9 174.1,101.9 173.5,101.0 172.9,100.1 172.3,101.9 171.7,101.3 171.1,100.3 170.5,101.9 169.9,102.7 169.3,102.2 168.7,101.9 168.1,101.5 167.5,101.7 166.9,101.8 166.3,101.1 165.7,100.7 165.1,99.8 164.5,99.0 163.9,98.7 163.3,99.3 162.7,99.6 162.1,101.2 161.5,100.5 160.9,100.9 160.3,100.5 159.7,101.7 159.1,103.7 158.5,102.6 157.9,103.9 157.3,105.2 156.7,105.5 156.1,105.0 155.5,106.3 154.9,106.1 154.3,106.3 153.7,106.0 153.1,106.3 152.5,105.3 151.9,104.2 151.3,105.8 150.7,104.3 150.1,104.9 149.5,106.3 148.9,106.4 148.3,105.9 147.7,105.5 147.1,105.8 146.5,104.9 145.9,105.9 145.3,105.6 144.7,105.8 144.1,103.7 143.5,105.9 142.9,105.1 142.3,105.1 141.7,106.0 141.1,105.6 140.5,104.8 139.9,103.1 139.3,103.0 138.7,101.7 138.1,101.2 137.5,101.3 136.9,100.3 136.3,101.0 135.7,101.1 135.1,101.8 134.5,102.2 133.9,102.9 133.3,102.3 132.7,101.6 132.1,101.3 131.5,100.5 130.9,100.9 130.3,100.0 129.7,98.8 129.1,100.2 128.5,99.2 127.9,100.6 127.3,99.8 126.7,100.9 126.1,98.5 125.5,100.1 124.9,99.5 124.3,99.5 123.7,99.0 123.1,99.3 122.5,98.4 121.9,99.4 121.3,100.2 120.7,99.1 120.1,100.1 119.5,99.6 118.9,99.7 118.3,99.6 117.7,98.5 117.1,98.6 116.5,98.5 115.9,98.6 115.3,98.6 114.7,97.5 114.1,96.9 113.5,97.1 112.9,97.2 112.3,98.2 111.7,97.7 111.1,99.2 110.5,99.3 109.9,99.6 109.3,99.6 108.7,99.2 108.1,100.1 107.5,100.4 106.9,99.3 106.3,101.1 105.7,102.4 105.1,103.2 104.5,103.6 103.9,103.4 103.3,102.7 102.7,102.5 102.1,102.3 101.5,103.6 100.9,103.4 100.3,103.4 99.7,103.9 99.1,104.0 98.5,103.9 97.9,104.0 97.3,104.5 96.7,105.4 96.1,105.1 95.5,106.0 94.9,105.4 94.3,104.5 93.7,105.6 93.1,104.4 92.5,105.9 91.9,106.3 91.3,105.2 90.7,104.4 90.1,105.9 89.5,105.4 88.9,105.3 88.3,105.7 87.7,106.9 87.1,107.2 86.5,106.9 85.9,106.7 85.3,106.7 84.7,106.8 84.1,106.6 83.5,107.4 82.9,108.5 82.3,108.8 81.7,109.8 81.1,109.1 80.5,109.0 79.9,107.7 79.3,109.2 78.7,109.6 78.1,109.7 77.5,112.2 76.9,113.5 76.3,113.7 75.7,113.8 75.1,117.0 74.5,117.7 73.9,117.0 73.3,116.3 72.7,118.0 72.1,116.7 71.5,116.6 70.9,115.1 70.3,114.1 69.7,114.3 69.1,114.7 68.5,114.7 67.9,113.0 67.3,112.3 66.7,112.5 66.1,112.2 65.5,110.8 64.9,111.7 64.3,111.3 63.7,111.6 63.1,111.4 62.5,111.9 61.9,111.9 61.3,111.0 60.7,112.9 60.1,112.9 59.5,112.0 58.9,111.1 58.3,111.8 57.7,112.4 57.1,111.4 56.5,111.1 55.9,111.7 55.3,111.3 54.7,111.4 54.1,110.4 53.5,110.2 52.9,109.2 52.3,108.0Z" fill="#ff00ff" fill-opacity="0.52"/>
<path d="M52,93.91 L52.5,94.35 L53,95.31 L53.5,96.57 L54,98.64 L54.5,100.15 L55,99.95 L55.5,100.54 L56,100.16 L56.5,100.29 L57,101.05 L57.5,100.6 L58,100.32 L58.5,100.46 L59,99.82 L59.5,99.86 L60,99.38 L60.5,100.17 L61,99.23 L61.5,99.88 L62,99.88 L62.5,100.59 L63,100.16 L63.5,101.21 L64,100.53 L64.5,101.05 L65,100.53 L65.5,100.74 L66,100.52 L66.5,99.41 L67,99.17 L67.5,99.51 L68,100.06 L68.5,101.2 L69,101.23 L69.5,100.42 L70,99.63 L70.5,100.73 L71,101.72 L71.5,101.58 L72,101.79 L72.5,102.06 L73,102.75 L73.5,103.54 L74,102.88 L74.5,103.17 L75,101.48 L75.5,99.9 L76,99.73 L76.5,98.29 L77,97.33 L77.5,98.01 L78,98.2 L78.5,99.26 L79,99.31 L79.5,100.72 L80,100.6 L80.5,100.51 L81,100.84 L81.5,100.98 L82,102.05 L82.5,102.56 L83,101.18 L83.5,101.39 L84,101.26 L84.5,101.58 L85,101.38 L85.5,101.38 L86,101.46 L86.5,101.61 L87,101.38 L87.5,101.18 L88,100.88 L88.5,100.56 L89,100.2 L89.5,100.74 L90,100.31 L90.5,100.44 L91,101.21 L91.5,99.95 L92,101.01 L92.5,100.38 L93,100.71 L93.5,100.72 L94,100.78 L94.5,100.7 L95,100.39 L95.5,100.65 L96,99.62 L96.5,100.03 L97,99.8 L97.5,99.9 L98,100.44 L98.5,100.18 L99,101.37 L99.5,101.41 L100,100.66 L100.5,100.19 L101,100.76 L101.5,100.46 L102,100.64 L102.5,100.49 L103,101.25 L103.5,101.75 L104,102.65 L104.5,102 L105,102.5 L105.5,101.7 L106,101.59 L106.5,101.77 L107,100.03 L107.5,99.02 L108,98.48 L108.5,97.95 L109,98.51 L109.5,97.23 L110,98.71 L110.5,98.49 L111,99.33 L111.5,99.31 L112,99.46 L112.5,100.42 L113,101.31 L113.5,100.62 L114,100.32 L114.5,100.81 L115,99.27 L115.5,99.78 L116,99.49 L116.5,98.49 L117,98.18 L117.5,99.17 L118,99.88 L118.5,100.38 L119,101.2 L119.5,100.94 L120,101.91 L120.5,101.8 L121,101.51 L121.5,101.45 L122,100.99 L122.5,100.2 L123,100.4 L123.5,100.61 L124,100.91 L124.5,100.45 L125,100.87 L125.5,99.94 L126,100.32 L126.5,98.74 L127,99.5 L127.5,98.64 L128,99.67 L128.5,100.11 L129,100.73 L129.5,100.7 L130,100.55 L130.5,99.96 L131,100.1 L131.5,99.24 L132,99.52 L132.5,99.34 L133,99.77 L133.5,100.12 L134,100.41 L134.5,99.96 L135,99.48 L135.5,99.92 L136,100.22 L136.5,100.34 L137,100.71 L137.5,100.95 L138,100.42 L138.5,100.35 L139,100.28 L139.5,101.08 L140,102.17 L140.5,102.07 L141,103.03 L141.5,102.65 L142,102.61 L142.5,102.45 L143,101.92 L143.5,101.57 L144,101.33 L144.5,100.71 L145,100.53 L145.5,100.52 L146,100.68 L146.5,100.3 L147,100.63 L147.5,100.82 L148,101.36 L148.5,100.8 L149,100.69 L149.5,100.55 L150,101.07 L150.5,100.57 L151,100.59 L151.5,100.74 L152,101 L152.5,101.96 L153,101.16 L153.5,101.79 L154,102 L154.5,101.18 L155,101.66 L155.5,102.12 L156,101.24 L156.5,101.76 L157,102.93 L157.5,102.12 L158,101.79 L158.5,101.6 L159,100.54 L159.5,100.27 L160,99.79 L160.5,100.22 L161,99.02 L161.5,97.8 L162,98.2 L162.5,97.25 L163,96.91 L163.5,97.62 L164,98.14 L164.5,99.37 L165,99.06 L165.5,100.18 L166,100.78 L166.5,101.28 L167,101.58 L167.5,102.32 L168,102.64 L168.5,102.72 L169,102.47 L169.5,101.25 L170,101.34 L170.5,100.75 L171,99.46 L171.5,99.33 L172,99.13 L172.5,97.76 L173,97.66 L173.5,97.44 L174,97.13 L174.5,98.74 L175,99.93 L175.5,100.44 L176,100.15 L176.5,99.95 L177,100.1 L177.5,99.94 L178,99.41 L178.5,99.6 L179,100.48 L179.5,101.16 L180,101.82 L180.5,101.61 L181,102.6 L181.5,101.35 L182,101.38 L182.5,101.31 L183,100.74 L183.5,100.17 L184,99.95 L184.5,99.81 L185,99.75 L185.5,99.71 L186,98.85 L186.5,98.68 L187,98.25 L187.5,97.1 L188,96.11 L188.5,96.9 L189,97.72 L189.5,97.81 L190,99.09 L190.5,99.1 L191,99.79 L191.5,100.85 L192,101.72 L192.5,101.52 L193,101.42 L193.5,101.13 L194,101.01 L194.5,101.04 L195,99.53 L195.5,98.81 L196,98.02 L196.5,98.12 L197,97.78 L197.5,98.22 L198,97.84 L198.5,99.12 L199,99.33 L199.5,100.01 L200,101.12 L200.5,101.21 L201,101.65 L201.5,101.96 L202,103.41 L202.5,103.41 L203,103.58 L203.5,103.46 L204,103.09 L204.5,102.62 L205,101.8 L205.5,100.39 L206,98.99 L206.5,97.76 L207,96.75 L207.5,95.26 L208,95.21 L208.5,95.75 L209,96.22 L209.5,97.06 L210,97.58 L210.5,97.99 L211,97.89 L211.5,99.21 L212,99.25 L212.5,99.41 L213,100.22 L213.5,100.65 L214,100.72 L214.5,100.43 L215,100.39 L215.5,100.75 L216,100.49 L216.5,100.48 L217,101 L217.5,101.28 L218,101.36 L218.5,101.28 L219,101.69 L219.5,101.7 L220,101.99 L220.5,102.86 L221,102.73 L221.5,103.25 L222,104.07 L222.5,104.07 L223,102.54 L223.5,101.87 L224,101.96 L224.5,101.06 L225,99.21 L225.5,98.27 L226,96.73 L226.5,96.76 L227,96.13 L227.5,95.76 L228,94.77 L228.5,95.91 L229,96.48 L229.5,97.14 L230,97.42 L230.5,97.1 L231,97.52 L231.5,97.56 L232,96.79 L232.5,97.63 L233,98.3 L233.5,98.97 L234,98.63 L234.5,99.2 L235,100.05 L235.5,100.66 L236,101.6 L236.5,102.82 L237,103.8 L237.5,104.66 L238,104.34 L238.5,103.34 L239,102.79 L239.5,101.42 L240,100.58 L240.5,99.36 L241,98.76 L241.5,97.57 L242,97.5 L242.5,97 L243,97.62 L243.5,98.27 L244,99.36 L244.5,98.53 L245,98.8 L245.5,99.55 L246,99.81 L246.5,100.06 L247,100.36 L247.5,101.02 L248,100.48 L248.5,100.29 L249,99.82 L249.5,99.5 L250,99.29 L250.5,98.33 L251,98.12 L251.5,98.79 L252,97.68 L252.5,97.9 L253,98.71 L253.5,98.19 L254,97.88 L254.5,98.58 L255,98.61 L255.5,99.31 L256,98.69 L256.5,99.23 L257,99.64 L257.5,99.07 L258,100.01 L258.5,100.22 L259,101.37 L259.5,101 L260,101.97 L260.5,103.1 L261,104.36 L261.5,105.49 L262,105.47 L262.5,104.29 L263,102.39 L263.5,100.68" fill="none" stroke="#000" stroke-width="1.1" stroke-linejoin="round"/>
<rect x="64.3" y="79.3" width="6.5" height="42.2" fill="#000" fill-opacity="0.14"/>
<line x1="64.3" y1="79.3" x2="64.3" y2="121.5" stroke="#000" stroke-opacity="0.38" stroke-width="0.7"/>
<line x1="70.8" y1="79.3" x2="70.8" y2="121.5" stroke="#000" stroke-opacity="0.38" stroke-width="0.7"/>
<rect x="76.1" y="79.3" width="6" height="42.2" fill="#000" fill-opacity="0.25"/>
<line x1="76.1" y1="79.3" x2="76.1" y2="121.5" stroke="#000" stroke-opacity="0.38" stroke-width="0.7"/>
<line x1="82.1" y1="79.3" x2="82.1" y2="121.5" stroke="#000" stroke-opacity="0.38" stroke-width="0.7"/>
<rect x="87.6" y="79.3" width="14.6" height="42.2" fill="#000" fill-opacity="0.14"/>
<line x1="87.6" y1="79.3" x2="87.6" y2="121.5" stroke="#000" stroke-opacity="0.38" stroke-width="0.7"/>
<line x1="102.2" y1="79.3" x2="102.2" y2="121.5" stroke="#000" stroke-opacity="0.38" stroke-width="0.7"/>
<rect x="108.3" y="79.3" width="14.8" height="42.2" fill="#000" fill-opacity="0.25"/>
<line x1="108.3" y1="79.3" x2="108.3" y2="121.5" stroke="#000" stroke-opacity="0.38" stroke-width="0.7"/>
<line x1="123.1" y1="79.3" x2="123.1" y2="121.5" stroke="#000" stroke-opacity="0.38" stroke-width="0.7"/>
<rect x="129.3" y="79.3" width="8.4" height="42.2" fill="#000" fill-opacity="0.14"/>
<line x1="129.3" y1="79.3" x2="129.3" y2="121.5" stroke="#000" stroke-opacity="0.38" stroke-width="0.7"/>
<line x1="137.7" y1="79.3" x2="137.7" y2="121.5" stroke="#000" stroke-opacity="0.38" stroke-width="0.7"/>
<rect x="143.1" y="79.3" width="9.8" height="42.2" fill="#000" fill-opacity="0.25"/>
<line x1="143.1" y1="79.3" x2="143.1" y2="121.5" stroke="#000" stroke-opacity="0.38" stroke-width="0.7"/>
<line x1="152.9" y1="79.3" x2="152.9" y2="121.5" stroke="#000" stroke-opacity="0.38" stroke-width="0.7"/>
<rect x="158.3" y="79.3" width="7.6" height="42.2" fill="#000" fill-opacity="0.14"/>
<line x1="158.3" y1="79.3" x2="158.3" y2="121.5" stroke="#000" stroke-opacity="0.38" stroke-width="0.7"/>
<line x1="165.9" y1="79.3" x2="165.9" y2="121.5" stroke="#000" stroke-opacity="0.38" stroke-width="0.7"/>
<rect x="171.6" y="79.3" width="7" height="42.2" fill="#000" fill-opacity="0.25"/>
<line x1="171.6" y1="79.3" x2="171.6" y2="121.5" stroke="#000" stroke-opacity="0.38" stroke-width="0.7"/>
<line x1="178.6" y1="79.3" x2="178.6" y2="121.5" stroke="#000" stroke-opacity="0.38" stroke-width="0.7"/>
<rect x="184.3" y="79.3" width="4.4" height="42.2" fill="#000" fill-opacity="0.14"/>
<line x1="184.3" y1="79.3" x2="184.3" y2="121.5" stroke="#000" stroke-opacity="0.38" stroke-width="0.7"/>
<line x1="188.7" y1="79.3" x2="188.7" y2="121.5" stroke="#000" stroke-opacity="0.38" stroke-width="0.7"/>
<rect x="194.2" y="79.3" width="5.3" height="42.2" fill="#000" fill-opacity="0.25"/>
<line x1="194.2" y1="79.3" x2="194.2" y2="121.5" stroke="#000" stroke-opacity="0.38" stroke-width="0.7"/>
<line x1="199.5" y1="79.3" x2="199.5" y2="121.5" stroke="#000" stroke-opacity="0.38" stroke-width="0.7"/>
<rect x="205.2" y="79.3" width="11.4" height="42.2" fill="#000" fill-opacity="0.14"/>
<line x1="205.2" y1="79.3" x2="205.2" y2="121.5" stroke="#000" stroke-opacity="0.38" stroke-width="0.7"/>
<line x1="216.6" y1="79.3" x2="216.6" y2="121.5" stroke="#000" stroke-opacity="0.38" stroke-width="0.7"/>
<rect x="222.2" y="79.3" width="12.4" height="42.2" fill="#000" fill-opacity="0.25"/>
<line x1="222.2" y1="79.3" x2="222.2" y2="121.5" stroke="#000" stroke-opacity="0.38" stroke-width="0.7"/>
<line x1="234.6" y1="79.3" x2="234.6" y2="121.5" stroke="#000" stroke-opacity="0.38" stroke-width="0.7"/>
<rect x="240.2" y="79.3" width="3.3" height="42.2" fill="#000" fill-opacity="0.14"/>
<line x1="240.2" y1="79.3" x2="240.2" y2="121.5" stroke="#000" stroke-opacity="0.38" stroke-width="0.7"/>
<line x1="243.5" y1="79.3" x2="243.5" y2="121.5" stroke="#000" stroke-opacity="0.38" stroke-width="0.7"/>
<rect x="249" y="79.3" width="3.2" height="42.2" fill="#000" fill-opacity="0.25"/>
<line x1="249" y1="79.3" x2="249" y2="121.5" stroke="#000" stroke-opacity="0.38" stroke-width="0.7"/>
<line x1="252.2" y1="79.3" x2="252.2" y2="121.5" stroke="#000" stroke-opacity="0.38" stroke-width="0.7"/>
</g>
<rect x="52.3" y="79.3" width="211" height="42.2" fill="none" stroke="#a4a4a4" stroke-width="0.75"/>
<line x1="52.3" y1="121.5" x2="52.3" y2="119.5" stroke="#8a8a8a" stroke-width="0.6"/>
<line x1="52.3" y1="79.3" x2="52.3" y2="81.3" stroke="#8a8a8a" stroke-width="0.6"/>
<line x1="81.61" y1="121.5" x2="81.61" y2="119.5" stroke="#8a8a8a" stroke-width="0.6"/>
<line x1="81.61" y1="79.3" x2="81.61" y2="81.3" stroke="#8a8a8a" stroke-width="0.6"/>
<line x1="110.91" y1="121.5" x2="110.91" y2="119.5" stroke="#8a8a8a" stroke-width="0.6"/>
<line x1="110.91" y1="79.3" x2="110.91" y2="81.3" stroke="#8a8a8a" stroke-width="0.6"/>
<line x1="140.22" y1="121.5" x2="140.22" y2="119.5" stroke="#8a8a8a" stroke-width="0.6"/>
<line x1="140.22" y1="79.3" x2="140.22" y2="81.3" stroke="#8a8a8a" stroke-width="0.6"/>
<line x1="169.52" y1="121.5" x2="169.52" y2="119.5" stroke="#8a8a8a" stroke-width="0.6"/>
<line x1="169.52" y1="79.3" x2="169.52" y2="81.3" stroke="#8a8a8a" stroke-width="0.6"/>
<line x1="198.83" y1="121.5" x2="198.83" y2="119.5" stroke="#8a8a8a" stroke-width="0.6"/>
<line x1="198.83" y1="79.3" x2="198.83" y2="81.3" stroke="#8a8a8a" stroke-width="0.6"/>
<line x1="228.13" y1="121.5" x2="228.13" y2="119.5" stroke="#8a8a8a" stroke-width="0.6"/>
<line x1="228.13" y1="79.3" x2="228.13" y2="81.3" stroke="#8a8a8a" stroke-width="0.6"/>
<line x1="257.44" y1="121.5" x2="257.44" y2="119.5" stroke="#8a8a8a" stroke-width="0.6"/>
<line x1="257.44" y1="79.3" x2="257.44" y2="81.3" stroke="#8a8a8a" stroke-width="0.6"/>
<line x1="52.3" y1="79.2" x2="54.3" y2="79.2" stroke="#8a8a8a" stroke-width="0.6"/>
<line x1="263.3" y1="79.2" x2="261.3" y2="79.2" stroke="#8a8a8a" stroke-width="0.6"/>
<line x1="52.3" y1="100.1" x2="54.3" y2="100.1" stroke="#8a8a8a" stroke-width="0.6"/>
<line x1="263.3" y1="100.1" x2="261.3" y2="100.1" stroke="#8a8a8a" stroke-width="0.6"/>
<line x1="52.3" y1="121.1" x2="54.3" y2="121.1" stroke="#8a8a8a" stroke-width="0.6"/>
<line x1="263.3" y1="121.1" x2="261.3" y2="121.1" stroke="#8a8a8a" stroke-width="0.6"/>
<text font-size="7.9" text-anchor="end" stroke="#1e1e1e" stroke-width="0.18" fill="#1e1e1e" transform="translate(49.7 83.1) scale(1 1.12)">2</text>
<text font-size="7.9" text-anchor="end" stroke="#1e1e1e" stroke-width="0.18" fill="#1e1e1e" transform="translate(49.7 104) scale(1 1.12)">0</text>
<text font-size="7.9" text-anchor="end" stroke="#1e1e1e" stroke-width="0.18" fill="#1e1e1e" transform="translate(49.7 125) scale(1 1.12)">-2</text>
<text font-size="7.8" text-anchor="middle" font-weight="bold" fill="#000" transform="translate(157.8 76.4) scale(1 1.12)" stroke="#000" stroke-width="0.2">NoMC: t=4.5</text>
<g clip-path="url(#c02)">
<rect x="64.3" y="144.9" width="6.5" height="42.2" fill="#f0f0f0"/>
<rect x="76.1" y="144.9" width="6" height="42.2" fill="#e4e4e4"/>
<rect x="87.6" y="144.9" width="14.6" height="42.2" fill="#f0f0f0"/>
<rect x="108.3" y="144.9" width="14.8" height="42.2" fill="#e4e4e4"/>
<rect x="129.3" y="144.9" width="8.4" height="42.2" fill="#f0f0f0"/>
<rect x="143.1" y="144.9" width="9.8" height="42.2" fill="#e4e4e4"/>
<rect x="158.3" y="144.9" width="7.6" height="42.2" fill="#f0f0f0"/>
<rect x="171.6" y="144.9" width="7" height="42.2" fill="#e4e4e4"/>
<rect x="184.3" y="144.9" width="4.4" height="42.2" fill="#f0f0f0"/>
<rect x="194.2" y="144.9" width="5.3" height="42.2" fill="#e4e4e4"/>
<rect x="205.2" y="144.9" width="11.4" height="42.2" fill="#f0f0f0"/>
<rect x="222.2" y="144.9" width="12.4" height="42.2" fill="#e4e4e4"/>
<rect x="240.2" y="144.9" width="3.3" height="42.2" fill="#f0f0f0"/>
<rect x="249" y="144.9" width="3.2" height="42.2" fill="#e4e4e4"/>
<path d="M52.3,146.3 52.9,145.9 53.5,145.5 54.1,151.1 54.7,149.7 55.3,150.9 55.9,155.8 56.5,153.3 57.1,155.9 57.7,154.8 58.3,150.9 58.9,149.7 59.5,149.8 60.1,151.0 60.7,149.8 61.3,148.5 61.9,148.5 62.5,148.4 63.1,149.5 63.7,147.2 64.3,151.9 64.9,145.8 65.5,150.9 66.1,152.8 66.7,153.0 67.3,149.8 67.9,148.0 68.5,151.3 69.1,151.0 69.7,154.7 70.3,153.5 70.9,151.1 71.5,151.4 72.1,152.4 72.7,154.3 73.3,154.3 73.9,152.9 74.5,152.7 75.1,154.4 75.7,147.9 76.3,147.0 76.9,147.4 77.5,150.9 78.1,150.6 78.7,148.4 79.3,148.1 79.9,149.1 80.5,150.7 81.1,151.4 81.7,153.9 82.3,156.6 82.9,156.6 83.5,157.0 84.1,156.3 84.7,153.4 85.3,157.7 85.9,157.2 86.5,153.9 87.1,152.0 87.7,151.8 88.3,150.8 88.9,148.7 89.5,148.9 90.1,151.1 90.7,150.3 91.3,153.6 91.9,153.8 92.5,151.4 93.1,148.6 93.7,152.4 94.3,150.7 94.9,153.9 95.5,151.1 96.1,150.5 96.7,151.8 97.3,151.9 97.9,153.0 98.5,151.4 99.1,153.2 99.7,155.7 100.3,156.4 100.9,153.3 101.5,149.7 102.1,155.6 102.7,152.5 103.3,152.5 103.9,152.8 104.5,154.6 105.1,157.3 105.7,156.7 106.3,147.8 106.9,155.2 107.5,152.9 108.1,153.4 108.7,150.3 109.3,146.4 109.9,147.8 110.5,148.9 111.1,146.0 111.7,149.6 112.3,147.5 112.9,148.6 113.5,150.1 114.1,147.7 114.7,152.3 115.3,151.5 115.9,154.6 116.5,149.3 117.1,151.5 117.7,151.0 118.3,149.0 118.9,149.2 119.5,150.9 120.1,153.8 120.7,153.3 121.3,154.4 121.9,154.5 122.5,156.0 123.1,154.9 123.7,153.0 124.3,150.4 124.9,149.4 125.5,152.1 126.1,152.3 126.7,151.7 127.3,152.3 127.9,149.4 128.5,152.4 129.1,153.3 129.7,152.6 130.3,150.9 130.9,151.8 131.5,149.8 132.1,151.4 132.7,152.4 133.3,152.4 133.9,152.4 134.5,149.7 135.1,152.3 135.7,152.5 136.3,155.3 136.9,152.4 137.5,151.8 138.1,148.2 138.7,150.6 139.3,149.0 139.9,150.0 140.5,151.8 141.1,155.4 141.7,153.5 142.3,153.9 142.9,152.8 143.5,153.1 144.1,151.1 144.7,151.4 145.3,147.4 145.9,146.1 146.5,149.2 147.1,145.5 147.7,149.3 148.3,151.8 148.9,149.1 149.5,153.4 150.1,149.5 150.7,150.9 151.3,148.2 151.9,151.3 152.5,153.4 153.1,150.5 153.7,155.6 154.3,151.0 154.9,153.2 155.5,150.3 156.1,154.7 156.7,152.0 157.3,150.5 157.9,152.8 158.5,150.7 159.1,149.8 159.7,152.4 160.3,149.7 160.9,145.5 161.5,147.1 162.1,149.8 162.7,151.7 163.3,155.1 163.9,151.2 164.5,150.0 165.1,149.9 165.7,150.0 166.3,152.1 166.9,151.7 167.5,152.2 168.1,153.5 168.7,152.5 169.3,154.9 169.9,156.3 170.5,151.7 171.1,149.1 171.7,150.6 172.3,152.6 172.9,153.7 173.5,150.0 174.1,148.5 174.7,152.5 175.3,150.7 175.9,155.8 176.5,151.3 177.1,149.5 177.7,149.7 178.3,151.1 178.9,151.4 179.5,151.9 180.1,149.9 180.7,151.2 181.3,150.8 181.9,153.2 182.5,152.8 183.1,153.9 183.7,157.6 184.3,155.3 184.9,152.2 185.5,149.5 186.1,150.9 186.7,147.4 187.3,152.1 187.9,145.0 188.5,148.2 189.1,152.9 189.7,151.6 190.3,153.4 190.9,155.3 191.5,147.9 192.1,153.3 192.7,150.5 193.3,153.0 193.9,149.4 194.5,147.0 195.1,146.9 195.7,147.8 196.3,152.5 196.9,151.7 197.5,152.4 198.1,147.7 198.7,149.4 199.3,150.7 199.9,150.4 200.5,149.0 201.1,152.3 201.7,152.5 202.3,148.2 202.9,156.0 203.5,157.1 204.1,153.1 204.7,153.8 205.3,155.2 205.9,149.3 206.5,145.7 207.1,146.0 207.7,147.4 208.3,146.8 208.9,149.0 209.5,150.4 210.1,148.6 210.7,151.8 211.3,153.8 211.9,154.7 212.5,150.3 213.1,152.3 213.7,154.8 214.3,151.5 214.9,154.8 215.5,155.3 216.1,152.5 216.7,156.3 217.3,158.5 217.9,151.3 218.5,152.7 219.1,154.5 219.7,153.9 220.3,151.2 220.9,154.5 221.5,148.1 222.1,149.5 222.7,150.5 223.3,144.9 223.9,145.5 224.5,147.0 225.1,147.3 225.7,142.9 226.3,145.2 226.9,147.2 227.5,143.5 228.1,146.4 228.7,149.0 229.3,146.1 229.9,147.3 230.5,149.8 231.1,147.8 231.7,146.3 232.3,153.3 232.9,152.3 233.5,150.8 234.1,152.5 234.7,152.7 235.3,149.4 235.9,148.9 236.5,153.2 237.1,158.2 237.7,155.2 238.3,150.1 238.9,150.2 239.5,150.6 240.1,151.3 240.7,147.6 241.3,148.8 241.9,152.2 242.5,152.9 243.1,148.1 243.7,151.9 244.3,150.2 244.9,147.8 245.5,152.8 246.1,150.6 246.7,150.1 247.3,145.4 247.9,148.4 248.5,147.3 249.1,144.1 249.7,151.5 250.3,151.7 250.9,147.7 251.5,150.9 252.1,150.0 252.7,146.7 253.3,146.2 253.9,148.6 254.5,145.3 255.1,148.1 255.7,149.7 256.3,151.6 256.9,152.8 257.5,157.6 258.1,152.6 258.7,153.3 259.3,150.0 259.9,153.9 260.5,155.4 261.1,150.3 261.7,151.0 262.3,150.8 262.9,154.5 263.5,146.3 263.5,185.2 262.9,188.9 262.3,184.9 261.7,186.2 261.1,186.9 260.5,185.6 259.9,184.1 259.3,181.1 258.7,179.9 258.1,182.6 257.5,183.6 256.9,180.2 256.3,177.9 255.7,183.0 255.1,179.4 254.5,182.8 253.9,181.0 253.3,178.8 252.7,181.8 252.1,182.1 251.5,182.3 250.9,180.0 250.3,180.1 249.7,184.4 249.1,179.3 248.5,174.5 247.9,175.4 247.3,176.7 246.7,181.2 246.1,175.9 245.5,182.3 244.9,177.2 244.3,176.8 243.7,178.7 243.1,181.1 242.5,180.8 241.9,182.9 241.3,182.5 240.7,176.8 240.1,179.0 239.5,178.8 238.9,184.2 238.3,180.0 237.7,180.1 237.1,183.6 236.5,186.1 235.9,187.1 235.3,185.7 234.7,183.0 234.1,184.4 233.5,180.9 232.9,179.6 232.3,181.2 231.7,179.5 231.1,180.4 230.5,180.3 229.9,179.3 229.3,179.2 228.7,182.5 228.1,179.4 227.5,175.9 226.9,175.9 226.3,178.4 225.7,182.3 225.1,183.1 224.5,179.0 223.9,182.9 223.3,183.3 222.7,183.6 222.1,183.8 221.5,178.4 220.9,185.2 220.3,179.8 219.7,180.3 219.1,185.2 218.5,180.3 217.9,182.2 217.3,179.8 216.7,175.2 216.1,176.3 215.5,175.7 214.9,178.0 214.3,180.4 213.7,179.8 213.1,177.0 212.5,178.5 211.9,175.1 211.3,175.5 210.7,179.2 210.1,177.8 209.5,177.9 208.9,177.8 208.3,179.3 207.7,173.4 207.1,178.5 206.5,180.1 205.9,181.9 205.3,179.5 204.7,187.7 204.1,179.1 203.5,183.2 202.9,186.0 202.3,186.9 201.7,184.8 201.1,184.6 200.5,185.2 199.9,180.0 199.3,180.6 198.7,184.2 198.1,181.0 197.5,180.0 196.9,184.5 196.3,178.9 195.7,180.1 195.1,178.6 194.5,180.3 193.9,174.0 193.3,181.1 192.7,176.6 192.1,181.3 191.5,179.2 190.9,179.2 190.3,177.0 189.7,180.7 189.1,183.6 188.5,178.1 187.9,181.4 187.3,176.1 186.7,180.5 186.1,175.9 185.5,177.3 184.9,177.1 184.3,174.0 183.7,179.6 183.1,179.0 182.5,182.0 181.9,178.4 181.3,180.3 180.7,181.2 180.1,181.5 179.5,181.7 178.9,183.1 178.3,184.4 177.7,179.8 177.1,176.7 176.5,178.4 175.9,180.1 175.3,179.8 174.7,178.9 174.1,180.1 173.5,174.6 172.9,177.2 172.3,178.6 171.7,177.3 171.1,176.7 170.5,177.9 169.9,175.9 169.3,173.4 168.7,176.5 168.1,179.7 167.5,179.7 166.9,180.9 166.3,180.5 165.7,179.8 165.1,178.8 164.5,180.3 163.9,178.0 163.3,180.8 162.7,176.6 162.1,174.5 161.5,176.6 160.9,178.3 160.3,178.6 159.7,175.9 159.1,174.1 158.5,177.6 157.9,176.8 157.3,176.3 156.7,176.9 156.1,180.9 155.5,181.5 154.9,181.3 154.3,181.8 153.7,175.1 153.1,175.7 152.5,180.0 151.9,181.4 151.3,179.9 150.7,178.2 150.1,182.8 149.5,180.9 148.9,178.2 148.3,176.8 147.7,177.0 147.1,180.2 146.5,181.9 145.9,179.0 145.3,175.8 144.7,179.9 144.1,179.4 143.5,179.2 142.9,182.3 142.3,184.4 141.7,181.8 141.1,181.8 140.5,180.4 139.9,179.0 139.3,177.5 138.7,180.4 138.1,177.2 137.5,180.6 136.9,175.8 136.3,177.8 135.7,179.9 135.1,180.6 134.5,178.3 133.9,175.4 133.3,176.5 132.7,176.3 132.1,174.9 131.5,178.3 130.9,178.0 130.3,174.8 129.7,176.6 129.1,176.8 128.5,177.7 127.9,182.2 127.3,180.5 126.7,178.8 126.1,177.9 125.5,176.1 124.9,179.3 124.3,174.9 123.7,177.5 123.1,175.5 122.5,175.0 121.9,177.6 121.3,174.5 120.7,175.2 120.1,177.5 119.5,176.6 118.9,182.9 118.3,183.1 117.7,179.3 117.1,177.3 116.5,179.7 115.9,174.4 115.3,175.4 114.7,179.6 114.1,176.8 113.5,179.3 112.9,177.1 112.3,178.4 111.7,177.4 111.1,176.7 110.5,172.6 109.9,176.2 109.3,180.1 108.7,181.3 108.1,178.0 107.5,182.7 106.9,180.2 106.3,181.3 105.7,183.0 105.1,181.2 104.5,183.4 103.9,181.3 103.3,180.8 102.7,182.3 102.1,177.5 101.5,181.1 100.9,176.1 100.3,180.9 99.7,178.1 99.1,179.2 98.5,176.3 97.9,176.2 97.3,178.2 96.7,175.2 96.1,175.9 95.5,176.3 94.9,179.3 94.3,176.8 93.7,179.6 93.1,177.1 92.5,176.0 91.9,175.4 91.3,176.4 90.7,172.8 90.1,173.0 89.5,178.0 88.9,180.1 88.3,178.4 87.7,179.3 87.1,177.5 86.5,180.2 85.9,178.3 85.3,176.4 84.7,176.5 84.1,175.6 83.5,175.2 82.9,176.7 82.3,176.2 81.7,178.5 81.1,176.6 80.5,178.8 79.9,176.4 79.3,181.0 78.7,175.5 78.1,179.9 77.5,177.6 76.9,181.1 76.3,180.9 75.7,175.6 75.1,174.8 74.5,176.8 73.9,178.2 73.3,171.7 72.7,175.1 72.1,174.6 71.5,171.9 70.9,172.1 70.3,175.1 69.7,176.0 69.1,178.3 68.5,178.4 67.9,175.4 67.3,174.6 66.7,174.8 66.1,174.6 65.5,176.4 64.9,176.8 64.3,171.3 63.7,176.5 63.1,176.0 62.5,173.8 61.9,174.2 61.3,174.5 60.7,178.2 60.1,177.7 59.5,177.0 58.9,180.1 58.3,180.6 57.7,178.2 57.1,180.2 56.5,179.3 55.9,179.4 55.3,177.4 54.7,179.1 54.1,179.3 53.5,176.4 52.9,173.5 52.3,179.1Z" fill="#ff00ff" fill-opacity="0.52"/>
<path d="M52.3,148.4 52.9,153.1 53.5,152.7 54.1,149.8 54.7,149.0 55.3,153.7 55.9,150.1 56.5,153.2 57.1,154.0 57.7,149.7 58.3,152.6 58.9,150.3 59.5,148.0 60.1,148.3 60.7,152.5 61.3,148.3 61.9,148.3 62.5,147.8 63.1,149.3 63.7,150.2 64.3,148.5 64.9,147.7 65.5,149.2 66.1,152.7 66.7,151.6 67.3,152.2 67.9,151.5 68.5,150.1 69.1,150.6 69.7,150.9 70.3,150.7 70.9,149.4 71.5,150.8 72.1,153.3 72.7,152.5 73.3,154.4 73.9,155.2 74.5,152.2 75.1,152.3 75.7,150.3 76.3,147.5 76.9,146.1 77.5,149.4 78.1,148.0 78.7,146.3 79.3,151.2 79.9,153.3 80.5,153.6 81.1,154.0 81.7,153.4 82.3,154.6 82.9,155.7 83.5,154.8 84.1,156.7 84.7,156.4 85.3,153.5 85.9,155.1 86.5,154.9 87.1,150.7 87.7,148.8 88.3,152.1 88.9,155.2 89.5,153.3 90.1,151.8 90.7,152.3 91.3,152.2 91.9,150.7 92.5,148.1 93.1,151.9 93.7,152.1 94.3,149.1 94.9,151.1 95.5,151.1 96.1,153.0 96.7,152.4 97.3,155.3 97.9,155.1 98.5,154.6 99.1,156.2 99.7,153.3 100.3,156.5 100.9,157.8 101.5,155.0 102.1,151.4 102.7,151.8 103.3,149.5 103.9,149.9 104.5,153.6 105.1,153.3 105.7,154.7 106.3,148.7 106.9,150.7 107.5,148.6 108.1,147.2 108.7,145.8 109.3,148.0 109.9,144.6 110.5,144.0 111.1,146.3 111.7,148.3 112.3,151.7 112.9,150.6 113.5,149.0 114.1,149.0 114.7,150.9 115.3,148.4 115.9,150.4 116.5,150.4 117.1,153.6 117.7,150.1 118.3,149.0 118.9,155.9 119.5,155.9 120.1,155.7 120.7,153.7 121.3,155.6 121.9,155.6 122.5,157.0 123.1,153.0 123.7,155.5 124.3,154.4 124.9,153.0 125.5,149.0 126.1,148.2 126.7,152.1 127.3,154.9 127.9,149.7 128.5,153.5 129.1,149.8 129.7,151.4 130.3,151.9 130.9,151.8 131.5,149.2 132.1,149.6 132.7,153.7 133.3,155.0 133.9,152.1 134.5,151.8 135.1,148.5 135.7,148.8 136.3,151.7 136.9,155.2 137.5,150.4 138.1,153.9 138.7,152.0 139.3,149.0 139.9,149.9 140.5,150.9 141.1,155.3 141.7,155.4 142.3,159.0 142.9,152.1 143.5,150.2 144.1,149.2 144.7,149.4 145.3,146.9 145.9,150.3 146.5,148.4 147.1,147.1 147.7,145.2 148.3,149.8 148.9,154.1 149.5,156.7 150.1,150.4 150.7,147.8 151.3,151.0 151.9,155.6 152.5,154.6 153.1,155.6 153.7,152.1 154.3,154.2 154.9,156.5 155.5,154.3 156.1,155.5 156.7,151.6 157.3,146.7 157.9,147.5 158.5,149.9 159.1,148.0 159.7,148.1 160.3,148.6 160.9,149.4 161.5,150.5 162.1,150.6 162.7,151.5 163.3,147.6 163.9,148.4 164.5,150.8 165.1,151.1 165.7,150.8 166.3,152.2 166.9,151.9 167.5,153.8 168.1,151.4 168.7,152.8 169.3,152.6 169.9,157.1 170.5,154.6 171.1,150.1 171.7,149.0 172.3,149.9 172.9,147.7 173.5,148.7 174.1,152.7 174.7,153.9 175.3,150.1 175.9,153.0 176.5,150.5 177.1,151.3 177.7,150.0 178.3,148.7 178.9,148.7 179.5,151.2 180.1,153.1 180.7,149.1 181.3,147.7 181.9,148.7 182.5,152.5 183.1,156.6 183.7,151.4 184.3,150.1 184.9,153.4 185.5,153.1 186.1,151.6 186.7,150.3 187.3,149.1 187.9,152.9 188.5,146.8 189.1,148.1 189.7,149.1 190.3,148.5 190.9,154.0 191.5,147.4 192.1,152.4 192.7,147.9 193.3,151.8 193.9,152.6 194.5,151.6 195.1,147.7 195.7,146.0 196.3,145.4 196.9,147.4 197.5,153.0 198.1,153.2 198.7,147.7 199.3,147.1 199.9,152.9 200.5,154.5 201.1,153.2 201.7,150.6 202.3,152.2 202.9,153.5 203.5,155.0 204.1,155.0 204.7,151.7 205.3,155.3 205.9,151.3 206.5,148.8 207.1,151.0 207.7,149.1 208.3,149.0 208.9,150.8 209.5,151.6 210.1,148.2 210.7,153.0 211.3,152.5 211.9,152.4 212.5,153.3 213.1,150.2 213.7,151.4 214.3,149.0 214.9,152.7 215.5,152.4 216.1,153.9 216.7,151.4 217.3,154.5 217.9,156.4 218.5,150.6 219.1,154.0 219.7,154.9 220.3,151.3 220.9,151.5 221.5,153.6 222.1,148.8 222.7,149.6 223.3,151.4 223.9,148.3 224.5,144.6 225.1,147.4 225.7,146.3 226.3,144.2 226.9,147.2 227.5,145.2 228.1,142.6 228.7,145.2 229.3,149.8 229.9,149.8 230.5,150.8 231.1,148.8 231.7,150.9 232.3,150.0 232.9,150.0 233.5,151.3 234.1,152.0 234.7,155.2 235.3,153.5 235.9,151.7 236.5,152.3 237.1,153.9 237.7,149.8 238.3,152.1 238.9,153.8 239.5,148.9 240.1,146.6 240.7,151.0 241.3,149.5 241.9,148.0 242.5,148.1 243.1,151.4 243.7,147.1 244.3,151.2 244.9,148.9 245.5,146.6 246.1,144.5 246.7,144.9 247.3,149.3 247.9,148.1 248.5,151.7 249.1,152.1 249.7,149.7 250.3,150.5 250.9,151.6 251.5,147.0 252.1,144.8 252.7,146.7 253.3,152.0 253.9,152.7 254.5,147.2 255.1,151.2 255.7,155.3 256.3,147.3 256.9,150.4 257.5,153.7 258.1,150.4 258.7,156.1 259.3,149.3 259.9,150.8 260.5,152.5 261.1,154.8 261.7,151.8 262.3,149.0 262.9,150.4 263.5,150.2 263.5,190.0 262.9,187.2 262.3,179.4 261.7,181.4 261.1,179.6 260.5,187.1 259.9,179.3 259.3,177.3 258.7,181.2 258.1,183.8 257.5,181.1 256.9,180.2 256.3,183.4 255.7,180.2 255.1,182.2 254.5,184.4 253.9,183.4 253.3,182.2 252.7,184.3 252.1,182.3 251.5,178.2 250.9,182.9 250.3,183.1 249.7,178.6 249.1,174.9 248.5,178.6 247.9,176.1 247.3,173.6 246.7,181.3 246.1,181.5 245.5,177.5 244.9,175.6 244.3,180.5 243.7,182.0 243.1,179.1 242.5,182.5 241.9,181.2 241.3,178.4 240.7,174.8 240.1,182.3 239.5,177.8 238.9,182.7 238.3,182.9 237.7,186.6 237.1,182.3 236.5,180.6 235.9,180.3 235.3,182.1 234.7,183.2 234.1,183.6 233.5,178.6 232.9,176.9 232.3,180.1 231.7,181.7 231.1,182.6 230.5,179.8 229.9,179.4 229.3,176.7 228.7,179.4 228.1,177.6 227.5,180.1 226.9,179.2 226.3,181.0 225.7,177.9 225.1,179.0 224.5,179.7 223.9,178.3 223.3,181.0 222.7,183.5 222.1,182.6 221.5,181.9 220.9,182.7 220.3,181.0 219.7,181.9 219.1,182.7 218.5,179.0 217.9,182.0 217.3,179.1 216.7,177.4 216.1,178.0 215.5,177.8 214.9,175.2 214.3,173.9 213.7,177.8 213.1,178.2 212.5,180.8 211.9,177.0 211.3,174.7 210.7,175.5 210.1,172.6 209.5,172.0 208.9,176.1 208.3,176.1 207.7,175.6 207.1,177.6 206.5,178.1 205.9,176.3 205.3,181.6 204.7,185.5 204.1,185.4 203.5,184.8 202.9,180.8 202.3,186.6 201.7,184.3 201.1,179.7 200.5,181.4 199.9,181.2 199.3,183.9 198.7,183.8 198.1,182.3 197.5,180.4 196.9,182.1 196.3,176.8 195.7,177.9 195.1,181.5 194.5,181.8 193.9,180.1 193.3,179.5 192.7,177.6 192.1,182.6 191.5,180.5 190.9,178.2 190.3,176.7 189.7,179.6 189.1,181.1 188.5,184.5 187.9,181.6 187.3,181.1 186.7,175.3 186.1,178.4 185.5,179.0 184.9,180.7 184.3,181.2 183.7,179.6 183.1,181.2 182.5,177.4 181.9,174.1 181.3,175.6 180.7,176.8 180.1,182.2 179.5,177.8 178.9,180.0 178.3,182.5 177.7,180.7 177.1,182.5 176.5,179.6 175.9,178.2 175.3,176.3 174.7,178.8 174.1,178.0 173.5,181.5 172.9,178.0 172.3,179.9 171.7,178.2 171.1,173.4 170.5,175.7 169.9,177.2 169.3,174.8 168.7,177.8 168.1,180.6 167.5,178.4 166.9,180.0 166.3,181.2 165.7,178.2 165.1,180.0 164.5,179.1 163.9,176.7 163.3,177.9 162.7,178.4 162.1,178.8 161.5,180.5 160.9,178.1 160.3,174.9 159.7,175.4 159.1,172.4 158.5,172.8 157.9,180.2 157.3,174.7 156.7,175.4 156.1,180.4 155.5,182.8 154.9,178.1 154.3,178.3 153.7,180.5 153.1,180.8 152.5,176.6 151.9,180.2 151.3,182.3 150.7,178.2 150.1,180.9 149.5,174.7 148.9,176.9 148.3,178.6 147.7,182.2 147.1,176.3 146.5,179.6 145.9,179.6 145.3,179.0 144.7,179.8 144.1,180.3 143.5,180.4 142.9,182.7 142.3,184.6 141.7,181.5 141.1,181.6 140.5,181.4 139.9,179.9 139.3,177.5 138.7,178.8 138.1,178.0 137.5,174.9 136.9,177.2 136.3,180.8 135.7,176.0 135.1,179.7 134.5,179.1 133.9,176.6 133.3,177.3 132.7,178.2 132.1,179.0 131.5,177.5 130.9,176.0 130.3,177.6 129.7,178.7 129.1,177.3 128.5,178.3 127.9,178.6 127.3,179.4 126.7,175.4 126.1,175.5 125.5,175.5 124.9,177.5 124.3,175.6 123.7,175.7 123.1,174.5 122.5,176.6 121.9,175.2 121.3,177.3 120.7,178.2 120.1,176.8 119.5,180.4 118.9,179.4 118.3,180.6 117.7,182.3 117.1,177.0 116.5,180.3 115.9,178.8 115.3,178.6 114.7,178.8 114.1,176.6 113.5,178.2 112.9,178.3 112.3,173.6 111.7,172.5 111.1,174.7 110.5,172.7 109.9,177.5 109.3,174.2 108.7,180.1 108.1,181.5 107.5,176.6 106.9,183.5 106.3,183.5 105.7,181.3 105.1,183.4 104.5,182.7 103.9,179.9 103.3,176.0 102.7,181.5 102.1,180.9 101.5,179.2 100.9,180.0 100.3,175.2 99.7,179.3 99.1,178.6 98.5,175.9 97.9,179.2 97.3,174.9 96.7,178.0 96.1,177.8 95.5,175.4 94.9,179.2 94.3,180.2 93.7,180.8 93.1,176.8 92.5,173.9 91.9,175.1 91.3,179.6 90.7,177.9 90.1,175.9 89.5,179.6 88.9,175.7 88.3,176.1 87.7,178.6 87.1,180.1 86.5,178.0 85.9,179.1 85.3,176.6 84.7,176.6 84.1,178.0 83.5,176.7 82.9,178.1 82.3,179.0 81.7,178.6 81.1,176.9 80.5,179.6 79.9,174.5 79.3,176.7 78.7,176.4 78.1,181.3 77.5,176.5 76.9,175.2 76.3,171.5 75.7,175.6 75.1,180.0 74.5,178.7 73.9,177.6 73.3,176.1 72.7,177.1 72.1,174.6 71.5,170.6 70.9,175.7 70.3,177.0 69.7,178.9 69.1,178.3 68.5,179.7 67.9,179.8 67.3,178.6 66.7,175.0 66.1,174.9 65.5,170.4 64.9,175.3 64.3,176.9 63.7,177.5 63.1,171.8 62.5,178.2 61.9,174.4 61.3,177.7 60.7,177.1 60.1,176.9 59.5,174.4 58.9,172.9 58.3,176.6 57.7,182.4 57.1,181.2 56.5,179.1 55.9,179.6 55.3,179.2 54.7,177.7 54.1,175.0 53.5,175.4 52.9,177.7 52.3,180.2Z" fill="#ff00ff" fill-opacity="0.52"/>
<path d="M52.3,146.3 52.9,144.8 53.5,145.8 54.1,147.4 54.7,147.0 55.3,150.2 55.9,148.4 56.5,149.3 57.1,151.7 57.7,152.6 58.3,150.6 58.9,147.7 59.5,148.8 60.1,149.7 60.7,151.6 61.3,149.3 61.9,150.5 62.5,153.1 63.1,152.8 63.7,152.4 64.3,148.1 64.9,147.4 65.5,146.6 66.1,149.6 66.7,150.2 67.3,151.8 67.9,149.0 68.5,150.0 69.1,149.9 69.7,151.1 70.3,152.3 70.9,153.2 71.5,152.1 72.1,153.9 72.7,153.0 73.3,153.9 73.9,152.6 74.5,151.4 75.1,150.7 75.7,151.2 76.3,152.3 76.9,146.7 77.5,148.9 78.1,146.0 78.7,147.4 79.3,154.9 79.9,149.7 80.5,150.5 81.1,150.2 81.7,157.5 82.3,155.4 82.9,156.5 83.5,157.5 84.1,156.0 84.7,153.4 85.3,157.9 85.9,152.2 86.5,155.2 87.1,153.5 87.7,150.0 88.3,150.2 88.9,150.5 89.5,147.8 90.1,152.1 90.7,155.0 91.3,152.8 91.9,153.7 92.5,149.5 93.1,148.3 93.7,150.2 94.3,149.9 94.9,152.5 95.5,150.7 96.1,155.0 96.7,153.6 97.3,151.4 97.9,152.0 98.5,151.6 99.1,155.5 99.7,154.8 100.3,152.1 100.9,152.1 101.5,151.8 102.1,151.7 102.7,150.5 103.3,153.7 103.9,149.3 104.5,152.3 105.1,152.4 105.7,147.7 106.3,148.4 106.9,148.4 107.5,149.9 108.1,144.9 108.7,148.2 109.3,150.5 109.9,146.3 110.5,146.1 111.1,146.8 111.7,152.1 112.3,153.2 112.9,151.1 113.5,151.3 114.1,151.3 114.7,148.4 115.3,148.2 115.9,151.2 116.5,148.8 117.1,153.4 117.7,150.7 118.3,148.9 118.9,149.6 119.5,151.0 120.1,153.6 120.7,158.6 121.3,154.1 121.9,153.1 122.5,156.9 123.1,153.2 123.7,156.3 124.3,153.3 124.9,151.2 125.5,152.7 126.1,147.7 126.7,153.5 127.3,154.3 127.9,150.3 128.5,152.6 129.1,148.5 129.7,150.9 130.3,150.9 130.9,148.7 131.5,149.8 132.1,153.2 132.7,152.2 133.3,148.9 133.9,149.4 134.5,150.2 135.1,152.1 135.7,149.0 136.3,150.3 136.9,154.7 137.5,154.1 138.1,154.7 138.7,153.5 139.3,149.2 139.9,152.8 140.5,150.0 141.1,151.6 141.7,155.7 142.3,156.3 142.9,155.3 143.5,151.4 144.1,152.4 144.7,151.2 145.3,150.4 145.9,146.1 146.5,149.8 147.1,148.1 147.7,148.3 148.3,147.7 148.9,150.5 149.5,147.0 150.1,150.3 150.7,151.3 151.3,152.5 151.9,155.5 152.5,153.5 153.1,153.4 153.7,157.4 154.3,157.4 154.9,149.8 155.5,150.8 156.1,148.6 156.7,149.6 157.3,148.1 157.9,149.6 158.5,146.9 159.1,147.3 159.7,149.6 160.3,149.7 160.9,146.0 161.5,146.0 162.1,150.2 162.7,148.5 163.3,148.4 163.9,149.5 164.5,152.2 165.1,154.8 165.7,150.6 166.3,153.5 166.9,151.4 167.5,152.2 168.1,153.5 168.7,151.4 169.3,153.1 169.9,155.9 170.5,151.6 171.1,149.2 171.7,148.1 172.3,151.0 172.9,147.6 173.5,149.8 174.1,152.7 174.7,156.1 175.3,152.9 175.9,150.5 176.5,156.7 177.1,153.8 177.7,149.9 178.3,154.3 178.9,153.0 179.5,151.6 180.1,152.3 180.7,148.3 181.3,148.0 181.9,152.7 182.5,149.7 183.1,155.6 183.7,155.4 184.3,156.0 184.9,153.0 185.5,151.1 186.1,151.8 186.7,150.6 187.3,146.2 187.9,148.0 188.5,151.5 189.1,150.0 189.7,149.1 190.3,152.1 190.9,148.1 191.5,148.5 192.1,149.4 192.7,146.9 193.3,151.9 193.9,147.9 194.5,145.8 195.1,145.6 195.7,145.4 196.3,144.8 196.9,153.9 197.5,153.1 198.1,149.1 198.7,148.9 199.3,151.4 199.9,155.2 200.5,151.4 201.1,148.9 201.7,147.3 202.3,149.8 202.9,149.9 203.5,155.1 204.1,155.2 204.7,153.3 205.3,155.8 205.9,151.3 206.5,145.7 207.1,150.1 207.7,144.4 208.3,146.8 208.9,150.6 209.5,146.5 210.1,154.2 210.7,151.8 211.3,149.6 211.9,150.3 212.5,152.6 213.1,152.6 213.7,151.9 214.3,151.9 214.9,150.1 215.5,154.0 216.1,151.9 216.7,151.5 217.3,159.3 217.9,152.5 218.5,150.8 219.1,150.4 219.7,152.7 220.3,155.1 220.9,156.3 221.5,148.6 222.1,147.2 222.7,147.0 223.3,145.3 223.9,145.2 224.5,146.2 225.1,145.5 225.7,143.6 226.3,143.6 226.9,144.5 227.5,144.8 228.1,146.8 228.7,143.6 229.3,146.6 229.9,146.2 230.5,146.6 231.1,145.8 231.7,147.4 232.3,149.5 232.9,150.5 233.5,151.1 234.1,149.8 234.7,153.2 235.3,155.9 235.9,154.7 236.5,149.9 237.1,154.6 237.7,149.9 238.3,153.2 238.9,151.0 239.5,150.9 240.1,152.5 240.7,153.4 241.3,147.3 241.9,151.5 242.5,152.3 243.1,152.1 243.7,152.1 244.3,147.3 244.9,146.5 245.5,149.9 246.1,145.2 246.7,145.2 247.3,146.9 247.9,147.1 248.5,150.8 249.1,146.7 249.7,151.4 250.3,150.0 250.9,145.2 251.5,146.8 252.1,152.9 252.7,147.4 253.3,148.5 253.9,145.5 254.5,148.5 255.1,147.8 255.7,147.1 256.3,150.0 256.9,150.1 257.5,153.6 258.1,154.3 258.7,154.8 259.3,152.0 259.9,154.8 260.5,157.2 261.1,157.1 261.7,158.3 262.3,154.9 262.9,152.5 263.5,151.4 263.5,186.2 262.9,185.5 262.3,187.4 261.7,187.9 261.1,187.7 260.5,186.5 259.9,184.2 259.3,183.3 258.7,182.4 258.1,181.4 257.5,185.6 256.9,185.1 256.3,182.7 255.7,179.5 255.1,181.1 254.5,180.2 253.9,178.2 253.3,181.3 252.7,181.0 252.1,185.8 251.5,183.6 250.9,180.7 250.3,182.2 249.7,184.6 249.1,183.9 248.5,183.3 247.9,180.8 247.3,178.9 246.7,175.6 246.1,179.2 245.5,177.0 244.9,177.9 244.3,181.8 243.7,177.6 243.1,178.0 242.5,178.0 241.9,180.4 241.3,179.2 240.7,177.0 240.1,177.1 239.5,181.9 238.9,183.7 238.3,186.0 237.7,185.8 237.1,179.1 236.5,187.3 235.9,184.5 235.3,181.9 234.7,181.5 234.1,184.1 233.5,181.2 232.9,182.3 232.3,182.4 231.7,180.7 231.1,177.6 230.5,182.8 229.9,176.9 229.3,184.0 228.7,175.1 228.1,176.5 227.5,178.2 226.9,179.7 226.3,175.5 225.7,183.4 225.1,177.8 224.5,178.6 223.9,179.3 223.3,182.3 222.7,179.2 222.1,177.9 221.5,179.8 220.9,184.8 220.3,178.2 219.7,181.7 219.1,184.4 218.5,178.4 217.9,177.2 217.3,176.6 216.7,178.0 216.1,178.0 215.5,178.9 214.9,178.7 214.3,177.8 213.7,180.3 213.1,180.2 212.5,177.3 211.9,180.3 211.3,176.8 210.7,175.0 210.1,178.4 209.5,173.4 208.9,178.3 208.3,175.9 207.7,176.1 207.1,178.1 206.5,178.1 205.9,184.6 205.3,181.4 204.7,185.9 204.1,183.4 203.5,185.8 202.9,187.6 202.3,182.8 201.7,183.5 201.1,184.0 200.5,180.7 199.9,180.5 199.3,183.3 198.7,182.4 198.1,180.1 197.5,178.6 196.9,179.9 196.3,178.8 195.7,182.3 195.1,177.9 194.5,182.4 193.9,181.6 193.3,179.8 192.7,177.5 192.1,178.7 191.5,182.3 190.9,180.0 190.3,178.5 189.7,183.1 189.1,182.1 188.5,177.4 187.9,178.9 187.3,180.8 186.7,178.9 186.1,177.6 185.5,176.7 184.9,181.9 184.3,181.2 183.7,177.5 183.1,179.2 182.5,178.4 181.9,180.7 181.3,178.6 180.7,179.0 180.1,177.1 179.5,180.1 178.9,180.3 178.3,177.5 177.7,177.5 177.1,181.2 176.5,176.3 175.9,174.3 175.3,177.7 174.7,176.0 174.1,173.7 173.5,180.4 172.9,181.6 172.3,173.9 171.7,176.3 171.1,177.6 170.5,175.8 169.9,177.9 169.3,177.5 168.7,178.1 168.1,175.8 167.5,177.6 166.9,177.1 166.3,176.2 165.7,180.4 165.1,178.5 164.5,180.4 163.9,177.0 163.3,180.9 162.7,176.3 162.1,180.6 161.5,180.7 160.9,175.0 160.3,171.7 159.7,175.1 159.1,177.1 158.5,176.2 157.9,177.3 157.3,175.2 156.7,180.1 156.1,180.6 155.5,177.2 154.9,181.6 154.3,180.0 153.7,177.8 153.1,178.2 152.5,179.5 151.9,180.8 151.3,179.9 150.7,178.9 150.1,181.7 149.5,182.1 148.9,182.4 148.3,178.3 147.7,179.2 147.1,179.5 146.5,174.9 145.9,179.4 145.3,179.6 144.7,176.7 144.1,178.5 143.5,182.3 142.9,181.5 142.3,184.5 141.7,184.1 141.1,182.3 140.5,180.8 139.9,179.6 139.3,179.9 138.7,177.4 138.1,175.8 137.5,175.4 136.9,177.6 136.3,177.3 135.7,178.5 135.1,179.3 134.5,180.3 133.9,179.5 133.3,173.5 132.7,173.5 132.1,178.8 131.5,176.4 130.9,177.2 130.3,176.9 129.7,178.9 129.1,178.7 128.5,178.2 127.9,183.0 127.3,178.9 126.7,180.4 126.1,179.3 125.5,176.3 124.9,177.6 124.3,179.6 123.7,178.3 123.1,174.7 122.5,176.6 121.9,178.1 121.3,175.7 120.7,178.0 120.1,178.0 119.5,181.3 118.9,179.1 118.3,181.5 117.7,179.8 117.1,178.5 116.5,177.6 115.9,173.2 115.3,174.5 114.7,178.1 114.1,176.0 113.5,179.6 112.9,175.7 112.3,172.4 111.7,174.0 111.1,174.5 110.5,172.3 109.9,173.1 109.3,178.1 108.7,180.4 108.1,178.7 107.5,177.6 106.9,180.2 106.3,179.8 105.7,181.3 105.1,181.2 104.5,180.7 103.9,181.2 103.3,179.3 102.7,179.7 102.1,179.5 101.5,180.8 100.9,182.3 100.3,175.4 99.7,176.6 99.1,178.7 98.5,175.2 97.9,177.4 97.3,174.1 96.7,177.1 96.1,176.5 95.5,176.6 94.9,177.3 94.3,182.1 93.7,178.7 93.1,179.7 92.5,179.0 91.9,176.7 91.3,176.2 90.7,177.2 90.1,175.6 89.5,179.0 88.9,177.6 88.3,179.7 87.7,176.2 87.1,176.2 86.5,177.5 85.9,179.8 85.3,178.8 84.7,175.5 84.1,177.2 83.5,176.9 82.9,175.4 82.3,174.2 81.7,175.9 81.1,178.3 80.5,179.4 79.9,180.3 79.3,180.5 78.7,177.1 78.1,179.1 77.5,180.5 76.9,175.3 76.3,177.6 75.7,174.3 75.1,176.1 74.5,175.2 73.9,177.5 73.3,176.6 72.7,176.0 72.1,175.8 71.5,175.9 70.9,176.4 70.3,176.9 69.7,177.2 69.1,180.1 68.5,180.6 67.9,174.9 67.3,175.7 66.7,175.7 66.1,171.3 65.5,176.7 64.9,175.4 64.3,174.7 63.7,172.2 63.1,178.7 62.5,177.7 61.9,176.2 61.3,178.6 60.7,177.5 60.1,177.3 59.5,174.7 58.9,173.0 58.3,176.9 57.7,180.8 57.1,178.0 56.5,173.6 55.9,175.7 55.3,176.9 54.7,179.1 54.1,178.7 53.5,177.5 52.9,181.2 52.3,180.8Z" fill="#ff00ff" fill-opacity="0.52"/>
<path d="M52,160.67 L52.5,158.8 L53,154.84 L53.5,157.95 L54,161.59 L54.5,164.85 L55,164.1 L55.5,165.71 L56,166.19 L56.5,168.31 L57,167.73 L57.5,166.76 L58,166.85 L58.5,165.96 L59,164.92 L59.5,164.36 L60,163.28 L60.5,164.29 L61,162.73 L61.5,163.6 L62,164.11 L62.5,164.3 L63,165.36 L63.5,164.81 L64,165.38 L64.5,164.32 L65,165.5 L65.5,162.96 L66,164.13 L66.5,162.78 L67,162.96 L67.5,161.95 L68,163.19 L68.5,164.23 L69,164.06 L69.5,165.09 L70,165.89 L70.5,165.87 L71,166.23 L71.5,166.86 L72,167.4 L72.5,165.43 L73,166.72 L73.5,166.56 L74,168.66 L74.5,168.82 L75,167.73 L75.5,165.63 L76,164.85 L76.5,162.91 L77,162.21 L77.5,162.4 L78,161.31 L78.5,161.08 L79,161.56 L79.5,164.57 L80,164.57 L80.5,162.92 L81,162.56 L81.5,162.84 L82,165.65 L82.5,167.04 L83,166.53 L83.5,165.35 L84,165.74 L84.5,165.11 L85,166.23 L85.5,164.99 L86,165.74 L86.5,164.6 L87,163.85 L87.5,165.1 L88,165.15 L88.5,164.74 L89,163.71 L89.5,165.25 L90,165.2 L90.5,164.93 L91,164.03 L91.5,163.64 L92,163.38 L92.5,163.36 L93,164.12 L93.5,165.43 L94,165.85 L94.5,165.18 L95,165.24 L95.5,165.79 L96,165.27 L96.5,165.31 L97,164.5 L97.5,164.05 L98,164.97 L98.5,163.89 L99,164.92 L99.5,164.17 L100,164.86 L100.5,164.7 L101,165.09 L101.5,165.07 L102,166.44 L102.5,165.84 L103,165.92 L103.5,166.39 L104,168.12 L104.5,167.65 L105,168.04 L105.5,168.2 L106,168.51 L106.5,167.63 L107,167.18 L107.5,166.92 L108,165.8 L108.5,163.01 L109,161.91 L109.5,160.84 L110,161.47 L110.5,161.3 L111,161.06 L111.5,161.66 L112,161.18 L112.5,163 L113,162.67 L113.5,162.57 L114,163.35 L114.5,163.72 L115,163.68 L115.5,164.31 L116,164.03 L116.5,162.49 L117,161.34 L117.5,162.17 L118,163.49 L118.5,164.77 L119,167.05 L119.5,167.91 L120,165.43 L120.5,166.7 L121,166.31 L121.5,166.34 L122,166.61 L122.5,166.38 L123,165.19 L123.5,165.72 L124,165.5 L124.5,164.59 L125,165.36 L125.5,164.87 L126,164.14 L126.5,163.79 L127,164.03 L127.5,163.38 L128,164.37 L128.5,163.08 L129,162.48 L129.5,165.1 L130,165.93 L130.5,167.39 L131,166.43 L131.5,165.93 L132,164.88 L132.5,165.36 L133,163.74 L133.5,163.62 L134,163.61 L134.5,163.93 L135,162.81 L135.5,162.98 L136,164.36 L136.5,163.76 L137,163.95 L137.5,164.11 L138,164.92 L138.5,164.85 L139,163.7 L139.5,166.48 L140,167.36 L140.5,167.95 L141,168.03 L141.5,169.32 L142,168.17 L142.5,169.82 L143,167.27 L143.5,165.82 L144,165.07 L144.5,165.09 L145,163.26 L145.5,163.46 L146,162.6 L146.5,162.58 L147,163.48 L147.5,164.28 L148,163.33 L148.5,163.35 L149,163.83 L149.5,164.22 L150,164.28 L150.5,164.59 L151,164.79 L151.5,165.77 L152,166.61 L152.5,168.74 L153,166.68 L153.5,167.53 L154,165.98 L154.5,165.46 L155,165.92 L155.5,166.44 L156,165.6 L156.5,165.71 L157,166.11 L157.5,165.83 L158,165.28 L158.5,165.09 L159,164.27 L159.5,162.69 L160,162.18 L160.5,161.69 L161,160.38 L161.5,158.71 L162,159.71 L162.5,160.54 L163,161.21 L163.5,163.01 L164,164.81 L164.5,167.25 L165,167 L165.5,166.44 L166,166.99 L166.5,167.46 L167,167.14 L167.5,167.73 L168,167.04 L168.5,167.91 L169,168.18 L169.5,167.5 L170,167.7 L170.5,166.85 L171,166.03 L171.5,165.5 L172,163.51 L172.5,162.89 L173,161.89 L173.5,160.02 L174,162.74 L174.5,163.53 L175,165.03 L175.5,164.85 L176,165.47 L176.5,165.86 L177,165.44 L177.5,165.21 L178,164.04 L178.5,162.43 L179,162.78 L179.5,163.8 L180,165.25 L180.5,165.33 L181,166.39 L181.5,166.88 L182,167.19 L182.5,165.78 L183,166.96 L183.5,166.07 L184,166.52 L184.5,166.35 L185,165.44 L185.5,163.92 L186,163.35 L186.5,163.64 L187,161.97 L187.5,160.26 L188,159.92 L188.5,161.01 L189,161.46 L189.5,163.42 L190,164 L190.5,165.78 L191,166.71 L191.5,168.05 L192,166.94 L192.5,168.73 L193,168.74 L193.5,170.23 L194,168.23 L194.5,166.82 L195,164.43 L195.5,162.91 L196,162.26 L196.5,161.98 L197,159.96 L197.5,161.87 L198,162.53 L198.5,162.64 L199,164.86 L199.5,164.26 L200,165.48 L200.5,165.25 L201,166.25 L201.5,167.78 L202,168.83 L202.5,171.71 L203,171.49 L203.5,171.56 L204,172.06 L204.5,171.56 L205,169.28 L205.5,165.7 L206,164.93 L206.5,161.41 L207,159.27 L207.5,158.49 L208,156.76 L208.5,157.29 L209,157.92 L209.5,158.76 L210,159.83 L210.5,162.13 L211,162.53 L211.5,163.14 L212,163.34 L212.5,165.58 L213,165.29 L213.5,166.06 L214,166.16 L214.5,166.03 L215,165.46 L215.5,166.41 L216,166.42 L216.5,165.26 L217,165.38 L217.5,166.23 L218,165.23 L218.5,165.52 L219,164.92 L219.5,166.44 L220,167.9 L220.5,169.09 L221,169.13 L221.5,170.51 L222,170.41 L222.5,169.23 L223,170 L223.5,169.94 L224,167.54 L224.5,167.3 L225,164.6 L225.5,164.72 L226,162.43 L226.5,160.23 L227,161.54 L227.5,160.44 L228,160.79 L228.5,160.31 L229,161.62 L229.5,161.45 L230,161.3 L230.5,162.12 L231,162.43 L231.5,162.35 L232,162.42 L232.5,163.33 L233,162.3 L233.5,163.8 L234,163.61 L234.5,164.64 L235,165.29 L235.5,166.64 L236,168.36 L236.5,168.09 L237,169.96 L237.5,170.01 L238,170.61 L238.5,169.49 L239,168.93 L239.5,167.64 L240,167.58 L240.5,164.92 L241,164.38 L241.5,162.49 L242,160.65 L242.5,161.03 L243,161.94 L243.5,161.06 L244,161.94 L244.5,161.89 L245,165.42 L245.5,164.61 L246,167.07 L246.5,167.49 L247,167.68 L247.5,167.82 L248,166.62 L248.5,164.47 L249,164.96 L249.5,162.3 L250,162.11 L250.5,161.55 L251,161.6 L251.5,162.24 L252,161.46 L252.5,163.3 L253,162.78 L253.5,163.17 L254,162.83 L254.5,163.77 L255,164.42 L255.5,164.3 L256,163.94 L256.5,165.43 L257,165.74 L257.5,166.08 L258,165.62 L258.5,166.29 L259,166.28 L259.5,167.14 L260,167.03 L260.5,167.26 L261,169.1 L261.5,171.55 L262,173.41 L262.5,171.67 L263,170.89 L263.5,170.08" fill="none" stroke="#000" stroke-width="1.15" stroke-linejoin="round"/>
<rect x="64.3" y="144.9" width="6.5" height="42.2" fill="#000" fill-opacity="0.14"/>
<line x1="64.3" y1="144.9" x2="64.3" y2="187.1" stroke="#000" stroke-opacity="0.38" stroke-width="0.7"/>
<line x1="70.8" y1="144.9" x2="70.8" y2="187.1" stroke="#000" stroke-opacity="0.38" stroke-width="0.7"/>
<rect x="76.1" y="144.9" width="6" height="42.2" fill="#000" fill-opacity="0.25"/>
<line x1="76.1" y1="144.9" x2="76.1" y2="187.1" stroke="#000" stroke-opacity="0.38" stroke-width="0.7"/>
<line x1="82.1" y1="144.9" x2="82.1" y2="187.1" stroke="#000" stroke-opacity="0.38" stroke-width="0.7"/>
<rect x="87.6" y="144.9" width="14.6" height="42.2" fill="#000" fill-opacity="0.14"/>
<line x1="87.6" y1="144.9" x2="87.6" y2="187.1" stroke="#000" stroke-opacity="0.38" stroke-width="0.7"/>
<line x1="102.2" y1="144.9" x2="102.2" y2="187.1" stroke="#000" stroke-opacity="0.38" stroke-width="0.7"/>
<rect x="108.3" y="144.9" width="14.8" height="42.2" fill="#000" fill-opacity="0.25"/>
<line x1="108.3" y1="144.9" x2="108.3" y2="187.1" stroke="#000" stroke-opacity="0.38" stroke-width="0.7"/>
<line x1="123.1" y1="144.9" x2="123.1" y2="187.1" stroke="#000" stroke-opacity="0.38" stroke-width="0.7"/>
<rect x="129.3" y="144.9" width="8.4" height="42.2" fill="#000" fill-opacity="0.14"/>
<line x1="129.3" y1="144.9" x2="129.3" y2="187.1" stroke="#000" stroke-opacity="0.38" stroke-width="0.7"/>
<line x1="137.7" y1="144.9" x2="137.7" y2="187.1" stroke="#000" stroke-opacity="0.38" stroke-width="0.7"/>
<rect x="143.1" y="144.9" width="9.8" height="42.2" fill="#000" fill-opacity="0.25"/>
<line x1="143.1" y1="144.9" x2="143.1" y2="187.1" stroke="#000" stroke-opacity="0.38" stroke-width="0.7"/>
<line x1="152.9" y1="144.9" x2="152.9" y2="187.1" stroke="#000" stroke-opacity="0.38" stroke-width="0.7"/>
<rect x="158.3" y="144.9" width="7.6" height="42.2" fill="#000" fill-opacity="0.14"/>
<line x1="158.3" y1="144.9" x2="158.3" y2="187.1" stroke="#000" stroke-opacity="0.38" stroke-width="0.7"/>
<line x1="165.9" y1="144.9" x2="165.9" y2="187.1" stroke="#000" stroke-opacity="0.38" stroke-width="0.7"/>
<rect x="171.6" y="144.9" width="7" height="42.2" fill="#000" fill-opacity="0.25"/>
<line x1="171.6" y1="144.9" x2="171.6" y2="187.1" stroke="#000" stroke-opacity="0.38" stroke-width="0.7"/>
<line x1="178.6" y1="144.9" x2="178.6" y2="187.1" stroke="#000" stroke-opacity="0.38" stroke-width="0.7"/>
<rect x="184.3" y="144.9" width="4.4" height="42.2" fill="#000" fill-opacity="0.14"/>
<line x1="184.3" y1="144.9" x2="184.3" y2="187.1" stroke="#000" stroke-opacity="0.38" stroke-width="0.7"/>
<line x1="188.7" y1="144.9" x2="188.7" y2="187.1" stroke="#000" stroke-opacity="0.38" stroke-width="0.7"/>
<rect x="194.2" y="144.9" width="5.3" height="42.2" fill="#000" fill-opacity="0.25"/>
<line x1="194.2" y1="144.9" x2="194.2" y2="187.1" stroke="#000" stroke-opacity="0.38" stroke-width="0.7"/>
<line x1="199.5" y1="144.9" x2="199.5" y2="187.1" stroke="#000" stroke-opacity="0.38" stroke-width="0.7"/>
<rect x="205.2" y="144.9" width="11.4" height="42.2" fill="#000" fill-opacity="0.14"/>
<line x1="205.2" y1="144.9" x2="205.2" y2="187.1" stroke="#000" stroke-opacity="0.38" stroke-width="0.7"/>
<line x1="216.6" y1="144.9" x2="216.6" y2="187.1" stroke="#000" stroke-opacity="0.38" stroke-width="0.7"/>
<rect x="222.2" y="144.9" width="12.4" height="42.2" fill="#000" fill-opacity="0.25"/>
<line x1="222.2" y1="144.9" x2="222.2" y2="187.1" stroke="#000" stroke-opacity="0.38" stroke-width="0.7"/>
<line x1="234.6" y1="144.9" x2="234.6" y2="187.1" stroke="#000" stroke-opacity="0.38" stroke-width="0.7"/>
<rect x="240.2" y="144.9" width="3.3" height="42.2" fill="#000" fill-opacity="0.14"/>
<line x1="240.2" y1="144.9" x2="240.2" y2="187.1" stroke="#000" stroke-opacity="0.38" stroke-width="0.7"/>
<line x1="243.5" y1="144.9" x2="243.5" y2="187.1" stroke="#000" stroke-opacity="0.38" stroke-width="0.7"/>
<rect x="249" y="144.9" width="3.2" height="42.2" fill="#000" fill-opacity="0.25"/>
<line x1="249" y1="144.9" x2="249" y2="187.1" stroke="#000" stroke-opacity="0.38" stroke-width="0.7"/>
<line x1="252.2" y1="144.9" x2="252.2" y2="187.1" stroke="#000" stroke-opacity="0.38" stroke-width="0.7"/>
</g>
<rect x="52.3" y="144.9" width="211" height="42.2" fill="none" stroke="#a4a4a4" stroke-width="0.75"/>
<line x1="52.3" y1="187.1" x2="52.3" y2="185.1" stroke="#8a8a8a" stroke-width="0.6"/>
<line x1="52.3" y1="144.9" x2="52.3" y2="146.9" stroke="#8a8a8a" stroke-width="0.6"/>
<line x1="81.61" y1="187.1" x2="81.61" y2="185.1" stroke="#8a8a8a" stroke-width="0.6"/>
<line x1="81.61" y1="144.9" x2="81.61" y2="146.9" stroke="#8a8a8a" stroke-width="0.6"/>
<line x1="110.91" y1="187.1" x2="110.91" y2="185.1" stroke="#8a8a8a" stroke-width="0.6"/>
<line x1="110.91" y1="144.9" x2="110.91" y2="146.9" stroke="#8a8a8a" stroke-width="0.6"/>
<line x1="140.22" y1="187.1" x2="140.22" y2="185.1" stroke="#8a8a8a" stroke-width="0.6"/>
<line x1="140.22" y1="144.9" x2="140.22" y2="146.9" stroke="#8a8a8a" stroke-width="0.6"/>
<line x1="169.52" y1="187.1" x2="169.52" y2="185.1" stroke="#8a8a8a" stroke-width="0.6"/>
<line x1="169.52" y1="144.9" x2="169.52" y2="146.9" stroke="#8a8a8a" stroke-width="0.6"/>
<line x1="198.83" y1="187.1" x2="198.83" y2="185.1" stroke="#8a8a8a" stroke-width="0.6"/>
<line x1="198.83" y1="144.9" x2="198.83" y2="146.9" stroke="#8a8a8a" stroke-width="0.6"/>
<line x1="228.13" y1="187.1" x2="228.13" y2="185.1" stroke="#8a8a8a" stroke-width="0.6"/>
<line x1="228.13" y1="144.9" x2="228.13" y2="146.9" stroke="#8a8a8a" stroke-width="0.6"/>
<line x1="257.44" y1="187.1" x2="257.44" y2="185.1" stroke="#8a8a8a" stroke-width="0.6"/>
<line x1="257.44" y1="144.9" x2="257.44" y2="146.9" stroke="#8a8a8a" stroke-width="0.6"/>
<line x1="52.3" y1="147.1" x2="54.3" y2="147.1" stroke="#8a8a8a" stroke-width="0.6"/>
<line x1="263.3" y1="147.1" x2="261.3" y2="147.1" stroke="#8a8a8a" stroke-width="0.6"/>
<line x1="52.3" y1="164.55" x2="54.3" y2="164.55" stroke="#8a8a8a" stroke-width="0.6"/>
<line x1="263.3" y1="164.55" x2="261.3" y2="164.55" stroke="#8a8a8a" stroke-width="0.6"/>
<line x1="52.3" y1="181.6" x2="54.3" y2="181.6" stroke="#8a8a8a" stroke-width="0.6"/>
<line x1="263.3" y1="181.6" x2="261.3" y2="181.6" stroke="#8a8a8a" stroke-width="0.6"/>
<text font-size="7.9" text-anchor="end" stroke="#1e1e1e" stroke-width="0.18" fill="#1e1e1e" transform="translate(49.7 151) scale(1 1.12)">0.5</text>
<text font-size="7.9" text-anchor="end" stroke="#1e1e1e" stroke-width="0.18" fill="#1e1e1e" transform="translate(49.7 168.45) scale(1 1.12)">0</text>
<text font-size="7.9" text-anchor="end" stroke="#1e1e1e" stroke-width="0.18" fill="#1e1e1e" transform="translate(49.7 185.5) scale(1 1.12)">-0.5</text>
<text font-size="7.8" text-anchor="middle" font-weight="bold" fill="#000" transform="translate(157.8 142) scale(1 1.12)" stroke="#000" stroke-width="0.2">UpMC: t=4.9</text>
<g clip-path="url(#c03)">
<rect x="64.3" y="210.9" width="6.5" height="42.2" fill="#f0f0f0"/>
<rect x="76.1" y="210.9" width="6" height="42.2" fill="#e4e4e4"/>
<rect x="87.6" y="210.9" width="14.6" height="42.2" fill="#f0f0f0"/>
<rect x="108.3" y="210.9" width="14.8" height="42.2" fill="#e4e4e4"/>
<rect x="129.3" y="210.9" width="8.4" height="42.2" fill="#f0f0f0"/>
<rect x="143.1" y="210.9" width="9.8" height="42.2" fill="#e4e4e4"/>
<rect x="158.3" y="210.9" width="7.6" height="42.2" fill="#f0f0f0"/>
<rect x="171.6" y="210.9" width="7" height="42.2" fill="#e4e4e4"/>
<rect x="184.3" y="210.9" width="4.4" height="42.2" fill="#f0f0f0"/>
<rect x="194.2" y="210.9" width="5.3" height="42.2" fill="#e4e4e4"/>
<rect x="205.2" y="210.9" width="11.4" height="42.2" fill="#f0f0f0"/>
<rect x="222.2" y="210.9" width="12.4" height="42.2" fill="#e4e4e4"/>
<rect x="240.2" y="210.9" width="3.3" height="42.2" fill="#f0f0f0"/>
<rect x="249" y="210.9" width="3.2" height="42.2" fill="#e4e4e4"/>
<path d="M52.3,208.6 52.9,214.6 53.5,210.3 54.1,212.7 54.7,213.5 55.3,219.0 55.9,217.8 56.5,215.8 57.1,215.7 57.7,218.6 58.3,214.7 58.9,222.7 59.5,216.3 60.1,213.3 60.7,212.7 61.3,213.1 61.9,217.7 62.5,214.0 63.1,214.6 63.7,216.7 64.3,215.5 64.9,217.6 65.5,218.5 66.1,212.1 66.7,214.5 67.3,212.7 67.9,214.2 68.5,217.5 69.1,219.0 69.7,217.5 70.3,218.0 70.9,217.8 71.5,218.4 72.1,220.0 72.7,218.5 73.3,219.3 73.9,221.7 74.5,221.2 75.1,215.8 75.7,214.6 76.3,216.2 76.9,214.7 77.5,211.8 78.1,214.8 78.7,216.6 79.3,215.0 79.9,215.8 80.5,217.0 81.1,217.6 81.7,220.9 82.3,217.9 82.9,221.0 83.5,221.9 84.1,222.3 84.7,220.2 85.3,223.7 85.9,218.9 86.5,216.6 87.1,219.0 87.7,213.4 88.3,213.8 88.9,216.2 89.5,219.0 90.1,218.7 90.7,217.4 91.3,215.8 91.9,216.9 92.5,214.8 93.1,215.2 93.7,214.6 94.3,214.8 94.9,213.9 95.5,216.7 96.1,218.2 96.7,217.6 97.3,216.2 97.9,218.6 98.5,220.4 99.1,219.5 99.7,219.7 100.3,218.7 100.9,217.2 101.5,218.2 102.1,215.4 102.7,216.5 103.3,214.5 103.9,216.0 104.5,220.2 105.1,216.1 105.7,219.3 106.3,214.2 106.9,215.2 107.5,212.3 108.1,215.1 108.7,213.1 109.3,209.9 109.9,210.7 110.5,211.8 111.1,214.3 111.7,212.5 112.3,218.1 112.9,216.0 113.5,218.5 114.1,215.2 114.7,218.2 115.3,216.7 115.9,217.4 116.5,217.9 117.1,218.1 117.7,217.7 118.3,220.9 118.9,216.6 119.5,215.5 120.1,219.1 120.7,219.7 121.3,220.8 121.9,222.6 122.5,222.1 123.1,218.5 123.7,218.9 124.3,216.7 124.9,216.3 125.5,222.9 126.1,217.4 126.7,216.8 127.3,214.0 127.9,215.1 128.5,213.9 129.1,215.7 129.7,217.0 130.3,217.5 130.9,220.3 131.5,216.9 132.1,217.4 132.7,218.0 133.3,215.8 133.9,219.5 134.5,214.6 135.1,218.5 135.7,218.0 136.3,220.4 136.9,220.2 137.5,216.5 138.1,218.8 138.7,220.2 139.3,219.0 139.9,215.1 140.5,215.7 141.1,218.3 141.7,222.6 142.3,221.4 142.9,218.7 143.5,215.8 144.1,218.7 144.7,216.6 145.3,213.3 145.9,217.2 146.5,220.6 147.1,218.6 147.7,215.2 148.3,212.1 148.9,215.7 149.5,220.9 150.1,217.8 150.7,221.8 151.3,216.8 151.9,216.3 152.5,216.7 153.1,216.3 153.7,218.3 154.3,219.1 154.9,218.1 155.5,215.0 156.1,218.7 156.7,214.4 157.3,218.7 157.9,215.3 158.5,220.1 159.1,216.0 159.7,217.3 160.3,213.9 160.9,218.4 161.5,216.8 162.1,213.3 162.7,216.4 163.3,219.1 163.9,219.1 164.5,217.0 165.1,216.6 165.7,217.4 166.3,215.3 166.9,222.0 167.5,218.6 168.1,220.9 168.7,219.6 169.3,216.5 169.9,219.1 170.5,218.6 171.1,215.8 171.7,216.5 172.3,216.0 172.9,217.9 173.5,218.0 174.1,216.5 174.7,218.0 175.3,221.1 175.9,215.3 176.5,216.1 177.1,219.2 177.7,219.5 178.3,219.0 178.9,218.2 179.5,214.9 180.1,214.3 180.7,216.1 181.3,218.1 181.9,215.4 182.5,217.7 183.1,217.7 183.7,218.1 184.3,216.3 184.9,220.3 185.5,215.8 186.1,213.9 186.7,215.0 187.3,210.6 187.9,209.6 188.5,212.9 189.1,216.1 189.7,215.6 190.3,213.4 190.9,218.1 191.5,214.3 192.1,213.2 192.7,216.6 193.3,213.7 193.9,212.9 194.5,213.6 195.1,214.1 195.7,213.9 196.3,211.9 196.9,214.7 197.5,215.0 198.1,213.3 198.7,216.1 199.3,214.7 199.9,214.0 200.5,214.3 201.1,215.9 201.7,219.8 202.3,218.9 202.9,220.0 203.5,218.6 204.1,221.6 204.7,221.8 205.3,221.5 205.9,221.4 206.5,214.1 207.1,214.4 207.7,214.0 208.3,212.4 208.9,211.2 209.5,214.3 210.1,214.7 210.7,218.1 211.3,218.8 211.9,215.4 212.5,216.1 213.1,215.7 213.7,216.1 214.3,218.0 214.9,219.9 215.5,217.3 216.1,219.3 216.7,217.4 217.3,221.8 217.9,221.7 218.5,218.3 219.1,215.0 219.7,216.9 220.3,216.2 220.9,215.1 221.5,213.3 222.1,218.5 222.7,215.9 223.3,211.3 223.9,210.4 224.5,212.3 225.1,215.3 225.7,210.8 226.3,212.1 226.9,209.6 227.5,210.7 228.1,209.6 228.7,215.7 229.3,215.6 229.9,215.8 230.5,212.5 231.1,214.5 231.7,211.6 232.3,221.4 232.9,216.1 233.5,213.4 234.1,217.8 234.7,216.8 235.3,213.0 235.9,213.9 236.5,219.1 237.1,217.6 237.7,220.3 238.3,220.6 238.9,222.7 239.5,214.1 240.1,215.5 240.7,217.3 241.3,213.4 241.9,215.4 242.5,212.8 243.1,213.0 243.7,215.7 244.3,218.7 244.9,215.0 245.5,215.1 246.1,212.6 246.7,212.4 247.3,214.0 247.9,212.8 248.5,212.6 249.1,214.5 249.7,217.2 250.3,208.5 250.9,210.4 251.5,209.6 252.1,215.7 252.7,217.2 253.3,217.9 253.9,213.5 254.5,211.9 255.1,216.8 255.7,211.9 256.3,213.8 256.9,217.7 257.5,215.9 258.1,219.5 258.7,223.4 259.3,223.3 259.9,222.6 260.5,222.7 261.1,219.6 261.7,223.3 262.3,222.0 262.9,218.7 263.5,219.6 263.5,257.2 262.9,247.7 262.3,255.6 261.7,253.5 261.1,251.8 260.5,245.4 259.9,247.3 259.3,253.4 258.7,251.8 258.1,249.1 257.5,244.8 256.9,242.0 256.3,244.4 255.7,251.0 255.1,245.4 254.5,249.7 253.9,245.4 253.3,244.3 252.7,244.9 252.1,250.7 251.5,248.7 250.9,249.1 250.3,249.5 249.7,244.5 249.1,248.0 248.5,247.2 247.9,249.1 247.3,244.3 246.7,245.4 246.1,244.7 245.5,243.3 244.9,245.5 244.3,248.3 243.7,247.7 243.1,243.4 242.5,242.0 241.9,240.1 241.3,246.1 240.7,245.0 240.1,249.8 239.5,250.3 238.9,252.5 238.3,250.7 237.7,251.2 237.1,249.7 236.5,246.6 235.9,244.5 235.3,247.5 234.7,250.1 234.1,244.1 233.5,243.9 232.9,248.4 232.3,245.8 231.7,247.3 231.1,248.4 230.5,242.5 229.9,241.6 229.3,245.3 228.7,246.5 228.1,245.3 227.5,242.5 226.9,243.3 226.3,246.9 225.7,244.5 225.1,245.8 224.5,247.6 223.9,246.4 223.3,245.7 222.7,245.5 222.1,248.8 221.5,245.9 220.9,245.3 220.3,244.6 219.7,243.5 219.1,246.0 218.5,249.4 217.9,248.8 217.3,241.8 216.7,246.3 216.1,243.6 215.5,242.9 214.9,243.9 214.3,241.5 213.7,247.1 213.1,245.4 212.5,245.0 211.9,245.1 211.3,242.1 210.7,241.3 210.1,241.1 209.5,244.7 208.9,241.5 208.3,244.2 207.7,244.5 207.1,244.3 206.5,249.3 205.9,244.4 205.3,250.2 204.7,247.5 204.1,243.2 203.5,247.5 202.9,249.9 202.3,252.3 201.7,250.6 201.1,246.5 200.5,248.2 199.9,247.8 199.3,251.2 198.7,247.6 198.1,245.5 197.5,251.6 196.9,247.1 196.3,243.7 195.7,242.5 195.1,244.1 194.5,244.8 193.9,246.2 193.3,245.3 192.7,245.3 192.1,244.4 191.5,248.7 190.9,248.1 190.3,245.6 189.7,249.2 189.1,243.9 188.5,244.4 187.9,242.5 187.3,245.6 186.7,245.8 186.1,246.3 185.5,247.3 184.9,246.8 184.3,248.7 183.7,247.0 183.1,248.0 182.5,241.8 181.9,247.2 181.3,243.5 180.7,246.0 180.1,243.3 179.5,247.4 178.9,249.3 178.3,250.1 177.7,245.6 177.1,245.4 176.5,241.6 175.9,245.9 175.3,240.8 174.7,245.5 174.1,245.3 173.5,248.1 172.9,243.6 172.3,243.0 171.7,244.2 171.1,243.4 170.5,241.5 169.9,242.5 169.3,243.8 168.7,243.0 168.1,242.0 167.5,242.0 166.9,244.3 166.3,242.9 165.7,244.4 165.1,242.8 164.5,241.8 163.9,245.1 163.3,243.5 162.7,243.1 162.1,239.3 161.5,240.3 160.9,244.0 160.3,244.4 159.7,245.8 159.1,247.1 158.5,244.2 157.9,242.7 157.3,248.8 156.7,246.5 156.1,244.2 155.5,243.0 154.9,247.2 154.3,243.7 153.7,245.5 153.1,247.0 152.5,247.3 151.9,243.4 151.3,245.8 150.7,248.3 150.1,244.2 149.5,246.2 148.9,248.9 148.3,243.6 147.7,245.8 147.1,245.6 146.5,243.6 145.9,245.5 145.3,245.0 144.7,242.8 144.1,245.1 143.5,249.2 142.9,245.4 142.3,245.2 141.7,248.1 141.1,249.6 140.5,247.6 139.9,248.5 139.3,245.3 138.7,244.1 138.1,246.9 137.5,247.0 136.9,244.7 136.3,245.0 135.7,242.8 135.1,245.8 134.5,244.1 133.9,240.8 133.3,240.1 132.7,245.7 132.1,241.2 131.5,241.7 130.9,243.9 130.3,243.3 129.7,244.5 129.1,246.7 128.5,243.7 127.9,247.6 127.3,247.2 126.7,244.8 126.1,245.2 125.5,245.8 124.9,244.3 124.3,243.2 123.7,244.3 123.1,240.7 122.5,242.2 121.9,240.7 121.3,242.8 120.7,240.7 120.1,243.3 119.5,246.9 118.9,246.4 118.3,243.0 117.7,246.6 117.1,245.4 116.5,243.1 115.9,244.3 115.3,246.0 114.7,244.8 114.1,243.2 113.5,241.5 112.9,237.8 112.3,236.7 111.7,239.2 111.1,240.7 110.5,244.0 109.9,244.4 109.3,242.7 108.7,247.8 108.1,243.7 107.5,246.8 106.9,247.9 106.3,243.0 105.7,247.6 105.1,251.4 104.5,245.9 103.9,249.6 103.3,244.1 102.7,242.3 102.1,243.2 101.5,245.4 100.9,245.5 100.3,244.3 99.7,240.0 99.1,241.9 98.5,245.5 97.9,241.1 97.3,244.4 96.7,243.3 96.1,244.8 95.5,245.7 94.9,247.0 94.3,247.4 93.7,246.8 93.1,246.2 92.5,242.7 91.9,242.2 91.3,245.3 90.7,245.8 90.1,242.4 89.5,244.4 88.9,243.7 88.3,247.5 87.7,243.2 87.1,244.8 86.5,239.9 85.9,240.1 85.3,244.2 84.7,244.0 84.1,241.6 83.5,244.6 82.9,242.5 82.3,241.0 81.7,240.8 81.1,243.3 80.5,243.1 79.9,246.7 79.3,244.1 78.7,247.0 78.1,243.2 77.5,245.4 76.9,241.3 76.3,245.6 75.7,243.0 75.1,244.2 74.5,244.3 73.9,243.8 73.3,240.3 72.7,240.0 72.1,240.8 71.5,241.1 70.9,241.5 70.3,244.5 69.7,242.5 69.1,246.2 68.5,247.9 67.9,241.8 67.3,242.9 66.7,241.2 66.1,238.9 65.5,240.4 64.9,240.1 64.3,241.3 63.7,243.6 63.1,244.9 62.5,242.6 61.9,243.7 61.3,244.5 60.7,240.5 60.1,241.1 59.5,245.4 58.9,243.6 58.3,242.0 57.7,243.9 57.1,249.7 56.5,241.7 55.9,247.3 55.3,243.4 54.7,247.0 54.1,245.0 53.5,244.5 52.9,242.2 52.3,245.5Z" fill="#ff00ff" fill-opacity="0.52"/>
<path d="M52.3,211.4 52.9,215.2 53.5,217.3 54.1,214.8 54.7,213.2 55.3,218.7 55.9,216.0 56.5,214.8 57.1,214.7 57.7,217.5 58.3,216.4 58.9,214.1 59.5,216.6 60.1,217.5 60.7,215.2 61.3,216.8 61.9,215.7 62.5,217.9 63.1,218.6 63.7,219.2 64.3,216.4 64.9,214.2 65.5,217.2 66.1,214.4 66.7,218.1 67.3,213.6 67.9,217.0 68.5,215.7 69.1,214.8 69.7,216.5 70.3,220.4 70.9,216.5 71.5,217.4 72.1,218.0 72.7,218.6 73.3,221.3 73.9,223.1 74.5,218.3 75.1,217.4 75.7,213.0 76.3,215.4 76.9,212.1 77.5,215.4 78.1,212.1 78.7,212.4 79.3,214.9 79.9,218.8 80.5,220.2 81.1,219.5 81.7,216.9 82.3,223.9 82.9,224.5 83.5,223.1 84.1,221.9 84.7,223.8 85.3,220.4 85.9,216.9 86.5,217.4 87.1,216.5 87.7,217.7 88.3,215.6 88.9,213.8 89.5,214.9 90.1,218.9 90.7,217.2 91.3,219.0 91.9,217.4 92.5,217.0 93.1,216.7 93.7,214.0 94.3,216.1 94.9,216.6 95.5,219.8 96.1,218.3 96.7,218.2 97.3,217.2 97.9,219.0 98.5,219.1 99.1,221.0 99.7,217.6 100.3,218.2 100.9,218.2 101.5,220.8 102.1,214.2 102.7,214.0 103.3,214.0 103.9,219.0 104.5,221.2 105.1,224.8 105.7,221.8 106.3,216.8 106.9,213.4 107.5,212.5 108.1,212.0 108.7,210.6 109.3,210.2 109.9,209.3 110.5,210.9 111.1,214.7 111.7,217.5 112.3,214.7 112.9,214.8 113.5,215.6 114.1,214.4 114.7,216.4 115.3,217.8 115.9,214.6 116.5,216.3 117.1,221.0 117.7,218.8 118.3,216.9 118.9,216.6 119.5,220.6 120.1,220.9 120.7,222.1 121.3,219.6 121.9,219.2 122.5,222.7 123.1,219.7 123.7,218.3 124.3,222.0 124.9,216.2 125.5,217.6 126.1,216.9 126.7,216.8 127.3,215.6 127.9,216.4 128.5,215.7 129.1,215.6 129.7,219.4 130.3,217.2 130.9,217.9 131.5,214.0 132.1,220.2 132.7,213.9 133.3,214.5 133.9,212.7 134.5,213.8 135.1,218.2 135.7,222.4 136.3,217.5 136.9,218.4 137.5,215.4 138.1,216.1 138.7,220.6 139.3,219.9 139.9,218.8 140.5,219.6 141.1,219.5 141.7,221.1 142.3,221.1 142.9,218.5 143.5,220.3 144.1,217.4 144.7,216.1 145.3,215.9 145.9,217.1 146.5,212.4 147.1,219.5 147.7,214.4 148.3,215.6 148.9,212.8 149.5,217.7 150.1,214.1 150.7,213.8 151.3,217.0 151.9,216.2 152.5,218.4 153.1,219.5 153.7,217.2 154.3,221.1 154.9,218.5 155.5,214.7 156.1,214.3 156.7,216.7 157.3,217.8 157.9,214.6 158.5,215.3 159.1,215.1 159.7,217.2 160.3,216.8 160.9,215.2 161.5,211.7 162.1,218.2 162.7,215.4 163.3,215.1 163.9,217.1 164.5,218.6 165.1,219.5 165.7,218.4 166.3,217.0 166.9,219.3 167.5,215.8 168.1,220.8 168.7,218.9 169.3,217.9 169.9,218.2 170.5,218.7 171.1,216.2 171.7,217.4 172.3,217.9 172.9,216.6 173.5,212.7 174.1,216.0 174.7,222.3 175.3,219.1 175.9,220.3 176.5,221.3 177.1,218.6 177.7,215.4 178.3,218.3 178.9,219.4 179.5,216.7 180.1,220.0 180.7,218.3 181.3,216.8 181.9,218.5 182.5,215.0 183.1,216.6 183.7,216.0 184.3,218.6 184.9,218.9 185.5,216.2 186.1,218.9 186.7,217.7 187.3,213.3 187.9,211.4 188.5,216.9 189.1,211.3 189.7,214.1 190.3,215.7 190.9,216.3 191.5,217.7 192.1,219.4 192.7,218.1 193.3,217.7 193.9,215.7 194.5,216.3 195.1,217.9 195.7,214.9 196.3,211.2 196.9,212.4 197.5,213.3 198.1,211.7 198.7,213.8 199.3,217.2 199.9,218.5 200.5,215.4 201.1,215.7 201.7,218.3 202.3,215.7 202.9,216.3 203.5,218.1 204.1,216.2 204.7,215.3 205.3,219.5 205.9,218.8 206.5,212.1 207.1,210.6 207.7,210.3 208.3,217.0 208.9,211.4 209.5,213.2 210.1,216.8 210.7,218.2 211.3,216.1 211.9,219.9 212.5,221.7 213.1,213.8 213.7,214.5 214.3,215.0 214.9,220.8 215.5,219.1 216.1,220.8 216.7,220.3 217.3,216.1 217.9,215.6 218.5,217.4 219.1,215.7 219.7,214.8 220.3,215.6 220.9,214.6 221.5,215.9 222.1,216.7 222.7,212.5 223.3,212.9 223.9,210.1 224.5,209.1 225.1,211.5 225.7,208.6 226.3,208.7 226.9,211.6 227.5,210.7 228.1,209.5 228.7,214.5 229.3,214.5 229.9,215.8 230.5,214.6 231.1,211.8 231.7,215.3 232.3,217.8 232.9,216.1 233.5,212.8 234.1,213.2 234.7,213.2 235.3,215.6 235.9,219.9 236.5,213.5 237.1,214.7 237.7,217.7 238.3,220.4 238.9,219.7 239.5,216.9 240.1,213.8 240.7,217.7 241.3,217.8 241.9,215.8 242.5,214.4 243.1,217.6 243.7,216.9 244.3,213.3 244.9,213.7 245.5,219.0 246.1,213.5 246.7,216.3 247.3,214.9 247.9,211.6 248.5,213.6 249.1,214.3 249.7,208.2 250.3,211.2 250.9,209.6 251.5,214.4 252.1,214.0 252.7,213.2 253.3,211.9 253.9,217.0 254.5,218.0 255.1,216.4 255.7,218.1 256.3,217.3 256.9,217.4 257.5,220.7 258.1,219.7 258.7,218.3 259.3,216.1 259.9,218.7 260.5,217.2 261.1,218.4 261.7,216.2 262.3,219.2 262.9,214.1 263.5,219.7 263.5,249.5 262.9,249.8 262.3,252.2 261.7,252.6 261.1,251.1 260.5,252.6 259.9,249.9 259.3,252.9 258.7,249.6 258.1,248.5 257.5,250.8 256.9,245.7 256.3,249.6 255.7,248.4 255.1,249.9 254.5,246.5 253.9,246.1 253.3,252.1 252.7,247.8 252.1,249.2 251.5,251.8 250.9,243.2 250.3,240.4 249.7,245.5 249.1,248.8 248.5,242.1 247.9,248.9 247.3,240.8 246.7,242.8 246.1,244.9 245.5,246.7 244.9,247.8 244.3,246.4 243.7,247.0 243.1,245.5 242.5,245.0 241.9,247.2 241.3,246.1 240.7,247.4 240.1,248.7 239.5,247.9 238.9,244.9 238.3,244.8 237.7,249.8 237.1,249.8 236.5,247.9 235.9,246.8 235.3,246.2 234.7,246.6 234.1,246.2 233.5,244.8 232.9,249.2 232.3,241.1 231.7,245.0 231.1,248.4 230.5,246.3 229.9,247.2 229.3,245.4 228.7,250.1 228.1,242.7 227.5,244.6 226.9,243.1 226.3,247.1 225.7,244.9 225.1,243.8 224.5,248.1 223.9,246.5 223.3,248.4 222.7,249.5 222.1,247.7 221.5,248.0 220.9,247.3 220.3,245.5 219.7,250.3 219.1,248.1 218.5,244.1 217.9,249.3 217.3,243.1 216.7,246.0 216.1,244.8 215.5,246.1 214.9,245.1 214.3,243.2 213.7,245.2 213.1,242.8 212.5,244.1 211.9,246.4 211.3,239.4 210.7,242.9 210.1,241.0 209.5,243.8 208.9,244.5 208.3,242.5 207.7,242.6 207.1,243.6 206.5,243.7 205.9,246.6 205.3,247.8 204.7,246.3 204.1,252.1 203.5,247.3 202.9,248.8 202.3,251.0 201.7,246.7 201.1,246.1 200.5,245.4 199.9,249.1 199.3,246.7 198.7,249.3 198.1,247.3 197.5,247.0 196.9,246.8 196.3,243.1 195.7,242.8 195.1,248.1 194.5,243.7 193.9,243.9 193.3,244.3 192.7,246.2 192.1,248.2 191.5,247.8 190.9,245.5 190.3,245.6 189.7,246.3 189.1,247.7 188.5,246.3 187.9,245.0 187.3,245.0 186.7,243.5 186.1,245.3 185.5,245.4 184.9,244.1 184.3,246.2 183.7,243.2 183.1,245.9 182.5,246.0 181.9,246.6 181.3,248.3 180.7,244.1 180.1,246.8 179.5,249.3 178.9,247.0 178.3,250.4 177.7,244.9 177.1,246.7 176.5,247.7 175.9,244.9 175.3,242.6 174.7,243.3 174.1,246.8 173.5,246.8 172.9,246.9 172.3,244.4 171.7,242.9 171.1,247.2 170.5,240.3 169.9,241.6 169.3,242.4 168.7,242.9 168.1,242.9 167.5,241.7 166.9,247.2 166.3,243.8 165.7,243.0 165.1,246.1 164.5,246.9 163.9,245.7 163.3,241.2 162.7,242.8 162.1,246.5 161.5,240.8 160.9,245.5 160.3,245.9 159.7,244.8 159.1,244.6 158.5,243.6 157.9,248.3 157.3,248.7 156.7,247.8 156.1,243.4 155.5,242.5 154.9,243.9 154.3,244.5 153.7,247.7 153.1,246.2 152.5,248.2 151.9,240.3 151.3,246.0 150.7,244.3 150.1,246.5 149.5,244.7 148.9,246.6 148.3,246.3 147.7,248.8 147.1,241.8 146.5,249.2 145.9,249.7 145.3,248.3 144.7,246.5 144.1,242.8 143.5,242.3 142.9,246.2 142.3,250.0 141.7,247.9 141.1,244.8 140.5,245.9 139.9,247.8 139.3,245.3 138.7,248.8 138.1,246.5 137.5,243.3 136.9,241.7 136.3,240.7 135.7,244.3 135.1,243.3 134.5,243.7 133.9,242.6 133.3,245.1 132.7,245.8 132.1,239.9 131.5,245.2 130.9,246.2 130.3,245.5 129.7,248.1 129.1,246.9 128.5,245.5 127.9,246.9 127.3,244.0 126.7,244.0 126.1,244.2 125.5,246.7 124.9,242.1 124.3,242.6 123.7,241.9 123.1,241.0 122.5,240.0 121.9,243.5 121.3,241.2 120.7,243.7 120.1,239.8 119.5,245.8 118.9,248.7 118.3,246.0 117.7,243.0 117.1,245.4 116.5,243.9 115.9,245.6 115.3,244.8 114.7,244.8 114.1,242.1 113.5,238.0 112.9,245.9 112.3,243.9 111.7,241.8 111.1,241.7 110.5,240.0 109.9,241.2 109.3,242.5 108.7,242.8 108.1,245.3 107.5,246.5 106.9,249.3 106.3,246.4 105.7,247.6 105.1,249.4 104.5,252.3 103.9,245.7 103.3,243.9 102.7,247.8 102.1,248.5 101.5,245.6 100.9,242.7 100.3,242.6 99.7,243.4 99.1,240.2 98.5,244.9 97.9,244.0 97.3,243.0 96.7,245.2 96.1,245.1 95.5,244.0 94.9,243.2 94.3,247.6 93.7,244.2 93.1,240.6 92.5,240.4 91.9,241.7 91.3,245.1 90.7,239.7 90.1,241.9 89.5,245.3 88.9,245.8 88.3,243.8 87.7,244.3 87.1,246.3 86.5,243.3 85.9,244.6 85.3,243.6 84.7,241.0 84.1,241.5 83.5,244.6 82.9,240.2 82.3,242.8 81.7,245.0 81.1,245.0 80.5,243.8 79.9,245.6 79.3,242.7 78.7,240.8 78.1,245.6 77.5,244.1 76.9,244.9 76.3,245.7 75.7,240.5 75.1,239.0 74.5,242.8 73.9,240.9 73.3,241.5 72.7,244.1 72.1,240.8 71.5,240.3 70.9,239.2 70.3,244.1 69.7,244.8 69.1,244.3 68.5,247.1 67.9,242.2 67.3,242.6 66.7,242.1 66.1,243.6 65.5,243.6 64.9,245.0 64.3,242.0 63.7,245.3 63.1,242.8 62.5,244.5 61.9,245.0 61.3,244.7 60.7,238.9 60.1,245.8 59.5,243.7 58.9,244.5 58.3,247.3 57.7,248.3 57.1,249.6 56.5,243.9 55.9,243.2 55.3,247.4 54.7,242.3 54.1,243.5 53.5,242.9 52.9,246.7 52.3,240.9Z" fill="#ff00ff" fill-opacity="0.52"/>
<path d="M52.3,214.8 52.9,209.3 53.5,217.5 54.1,212.3 54.7,217.9 55.3,218.2 55.9,215.9 56.5,216.7 57.1,216.8 57.7,216.2 58.3,216.1 58.9,216.5 59.5,215.3 60.1,218.9 60.7,213.7 61.3,213.8 61.9,217.9 62.5,222.2 63.1,218.2 63.7,214.1 64.3,215.6 64.9,214.9 65.5,215.5 66.1,215.4 66.7,215.5 67.3,216.3 67.9,214.0 68.5,220.7 69.1,217.4 69.7,215.9 70.3,216.9 70.9,215.6 71.5,218.6 72.1,220.1 72.7,220.2 73.3,221.9 73.9,218.1 74.5,217.1 75.1,218.7 75.7,215.3 76.3,217.5 76.9,213.2 77.5,215.9 78.1,217.5 78.7,216.2 79.3,217.3 79.9,216.6 80.5,219.9 81.1,219.8 81.7,218.1 82.3,223.5 82.9,218.5 83.5,221.6 84.1,222.4 84.7,221.2 85.3,218.9 85.9,219.9 86.5,221.1 87.1,217.9 87.7,219.1 88.3,217.3 88.9,219.8 89.5,215.0 90.1,217.8 90.7,218.3 91.3,217.8 91.9,218.3 92.5,212.9 93.1,213.8 93.7,214.8 94.3,217.0 94.9,220.8 95.5,217.7 96.1,218.6 96.7,217.8 97.3,216.6 97.9,219.0 98.5,218.8 99.1,218.0 99.7,217.3 100.3,220.4 100.9,219.0 101.5,214.9 102.1,217.8 102.7,215.9 103.3,218.4 103.9,218.8 104.5,214.9 105.1,215.4 105.7,216.3 106.3,217.4 106.9,216.0 107.5,211.6 108.1,210.7 108.7,213.2 109.3,212.3 109.9,212.9 110.5,210.6 111.1,212.7 111.7,214.7 112.3,218.0 112.9,217.9 113.5,220.0 114.1,219.0 114.7,215.8 115.3,215.5 115.9,217.8 116.5,216.3 117.1,217.8 117.7,214.8 118.3,215.4 118.9,217.2 119.5,220.7 120.1,221.3 120.7,220.0 121.3,220.1 121.9,222.4 122.5,222.1 123.1,218.6 123.7,217.5 124.3,216.8 124.9,217.8 125.5,216.2 126.1,219.8 126.7,217.5 127.3,217.7 127.9,215.6 128.5,218.9 129.1,221.6 129.7,218.9 130.3,217.0 130.9,224.0 131.5,216.7 132.1,213.9 132.7,216.2 133.3,213.1 133.9,214.3 134.5,217.2 135.1,219.0 135.7,215.1 136.3,217.9 136.9,217.9 137.5,220.9 138.1,215.9 138.7,218.5 139.3,215.4 139.9,218.3 140.5,219.1 141.1,217.0 141.7,223.5 142.3,220.2 142.9,218.1 143.5,218.3 144.1,218.3 144.7,213.9 145.3,218.6 145.9,217.4 146.5,217.1 147.1,215.0 147.7,216.1 148.3,210.3 148.9,216.3 149.5,213.8 150.1,214.6 150.7,215.4 151.3,216.8 151.9,218.7 152.5,218.2 153.1,219.4 153.7,217.4 154.3,218.2 154.9,215.1 155.5,216.7 156.1,217.5 156.7,214.8 157.3,215.9 157.9,217.3 158.5,215.9 159.1,217.7 159.7,214.0 160.3,216.2 160.9,212.7 161.5,217.7 162.1,214.3 162.7,215.9 163.3,214.0 163.9,214.3 164.5,218.5 165.1,219.2 165.7,218.7 166.3,219.7 166.9,219.3 167.5,221.8 168.1,216.6 168.7,215.5 169.3,219.5 169.9,219.4 170.5,219.9 171.1,215.6 171.7,213.9 172.3,213.6 172.9,215.8 173.5,218.2 174.1,213.7 174.7,214.4 175.3,216.6 175.9,217.2 176.5,221.0 177.1,221.4 177.7,213.9 178.3,218.7 178.9,221.8 179.5,215.5 180.1,215.2 180.7,215.3 181.3,213.6 181.9,219.8 182.5,222.2 183.1,220.3 183.7,219.0 184.3,221.2 184.9,220.8 185.5,218.5 186.1,218.6 186.7,215.5 187.3,211.4 187.9,214.1 188.5,216.1 189.1,217.7 189.7,218.3 190.3,216.9 190.9,213.4 191.5,215.3 192.1,215.7 192.7,213.3 193.3,217.1 193.9,213.4 194.5,213.5 195.1,211.0 195.7,213.5 196.3,216.8 196.9,216.4 197.5,211.5 198.1,214.9 198.7,212.9 199.3,217.7 199.9,218.6 200.5,215.8 201.1,216.6 201.7,215.5 202.3,213.7 202.9,217.2 203.5,214.1 204.1,217.4 204.7,221.2 205.3,218.6 205.9,215.1 206.5,214.4 207.1,210.2 207.7,209.6 208.3,216.7 208.9,217.1 209.5,213.6 210.1,214.6 210.7,217.6 211.3,215.2 211.9,217.2 212.5,215.1 213.1,218.1 213.7,218.7 214.3,217.6 214.9,217.9 215.5,217.5 216.1,219.5 216.7,218.9 217.3,217.6 217.9,218.9 218.5,217.7 219.1,216.8 219.7,214.9 220.3,214.3 220.9,214.1 221.5,215.6 222.1,213.7 222.7,217.6 223.3,212.4 223.9,210.5 224.5,209.8 225.1,211.2 225.7,208.8 226.3,212.4 226.9,208.2 227.5,209.5 228.1,210.0 228.7,215.3 229.3,209.6 229.9,211.2 230.5,213.8 231.1,213.8 231.7,212.3 232.3,214.7 232.9,214.9 233.5,216.0 234.1,215.4 234.7,214.6 235.3,213.6 235.9,218.1 236.5,219.2 237.1,221.3 237.7,219.7 238.3,219.2 238.9,221.8 239.5,219.5 240.1,213.8 240.7,215.1 241.3,213.7 241.9,215.2 242.5,218.0 243.1,217.9 243.7,215.5 244.3,216.6 244.9,213.8 245.5,216.3 246.1,217.1 246.7,212.7 247.3,213.8 247.9,209.4 248.5,210.7 249.1,211.0 249.7,213.1 250.3,209.0 250.9,211.6 251.5,214.8 252.1,212.1 252.7,215.6 253.3,211.6 253.9,211.0 254.5,217.0 255.1,214.9 255.7,211.7 256.3,217.5 256.9,221.8 257.5,220.0 258.1,217.7 258.7,224.0 259.3,220.7 259.9,219.2 260.5,223.5 261.1,220.4 261.7,218.9 262.3,213.8 262.9,220.9 263.5,213.9 263.5,253.7 262.9,253.5 262.3,252.4 261.7,255.3 261.1,251.3 260.5,250.1 259.9,249.1 259.3,247.7 258.7,247.6 258.1,243.5 257.5,249.0 256.9,245.2 256.3,248.2 255.7,250.1 255.1,248.6 254.5,244.8 253.9,244.0 253.3,248.7 252.7,247.8 252.1,246.1 251.5,240.9 250.9,250.5 250.3,249.7 249.7,249.0 249.1,247.0 248.5,243.8 247.9,240.3 247.3,248.7 246.7,244.7 246.1,243.8 245.5,244.2 244.9,243.1 244.3,244.4 243.7,248.8 243.1,245.0 242.5,248.7 241.9,245.3 241.3,243.7 240.7,247.7 240.1,250.8 239.5,251.5 238.9,251.1 238.3,252.9 237.7,252.3 237.1,248.4 236.5,244.3 235.9,250.0 235.3,246.5 234.7,241.7 234.1,250.6 233.5,247.7 232.9,249.3 232.3,247.6 231.7,248.6 231.1,248.0 230.5,243.5 229.9,245.4 229.3,245.0 228.7,248.1 228.1,249.5 227.5,250.0 226.9,246.8 226.3,241.6 225.7,245.2 225.1,244.9 224.5,246.1 223.9,245.1 223.3,250.2 222.7,248.2 222.1,248.0 221.5,248.8 220.9,249.9 220.3,247.4 219.7,248.0 219.1,247.6 218.5,250.0 217.9,244.4 217.3,245.5 216.7,246.3 216.1,243.6 215.5,244.3 214.9,245.4 214.3,245.5 213.7,244.2 213.1,244.1 212.5,246.9 211.9,243.6 211.3,242.9 210.7,243.0 210.1,243.0 209.5,245.6 208.9,238.9 208.3,241.8 207.7,246.0 207.1,247.8 206.5,246.4 205.9,243.6 205.3,248.2 204.7,250.9 204.1,246.7 203.5,246.8 202.9,248.1 202.3,248.1 201.7,246.2 201.1,250.7 200.5,249.8 199.9,242.3 199.3,250.1 198.7,246.4 198.1,248.1 197.5,250.9 196.9,248.0 196.3,246.4 195.7,245.9 195.1,247.7 194.5,243.9 193.9,246.4 193.3,245.9 192.7,245.4 192.1,248.7 191.5,246.2 190.9,244.8 190.3,249.0 189.7,250.2 189.1,246.3 188.5,250.8 187.9,249.4 187.3,240.8 186.7,242.4 186.1,245.7 185.5,241.6 184.9,240.9 184.3,247.4 183.7,247.3 183.1,243.2 182.5,241.9 181.9,241.2 181.3,241.1 180.7,245.4 180.1,242.4 179.5,250.0 178.9,246.9 178.3,242.9 177.7,245.1 177.1,248.6 176.5,245.0 175.9,244.7 175.3,241.0 174.7,240.8 174.1,242.6 173.5,243.8 172.9,239.7 172.3,248.1 171.7,245.7 171.1,243.0 170.5,240.2 169.9,240.3 169.3,240.2 168.7,244.4 168.1,241.4 167.5,242.7 166.9,245.6 166.3,243.8 165.7,241.6 165.1,243.2 164.5,242.7 163.9,245.8 163.3,242.0 162.7,242.8 162.1,241.9 161.5,242.8 160.9,243.3 160.3,244.7 159.7,244.3 159.1,240.4 158.5,239.8 157.9,242.6 157.3,247.1 156.7,248.1 156.1,248.8 155.5,245.5 154.9,246.5 154.3,247.7 153.7,247.5 153.1,247.5 152.5,246.1 151.9,247.0 151.3,249.0 150.7,243.1 150.1,242.4 149.5,247.6 148.9,248.0 148.3,240.5 147.7,244.0 147.1,247.8 146.5,247.0 145.9,245.3 145.3,246.1 144.7,247.7 144.1,246.4 143.5,249.1 142.9,249.5 142.3,248.8 141.7,249.1 141.1,248.0 140.5,243.2 139.9,243.8 139.3,245.9 138.7,245.5 138.1,244.3 137.5,247.6 136.9,240.8 136.3,243.5 135.7,246.7 135.1,244.6 134.5,241.4 133.9,243.1 133.3,246.0 132.7,240.0 132.1,240.7 131.5,240.8 130.9,245.8 130.3,243.7 129.7,247.1 129.1,248.4 128.5,248.0 127.9,242.6 127.3,240.9 126.7,241.7 126.1,241.3 125.5,242.3 124.9,245.2 124.3,244.9 123.7,243.6 123.1,242.1 122.5,240.9 121.9,243.6 121.3,238.5 120.7,242.3 120.1,240.1 119.5,241.2 118.9,246.2 118.3,249.7 117.7,247.7 117.1,246.1 116.5,246.2 115.9,245.7 115.3,240.5 114.7,240.2 114.1,240.5 113.5,239.8 112.9,241.3 112.3,242.8 111.7,244.0 111.1,245.4 110.5,242.3 109.9,244.4 109.3,246.7 108.7,242.7 108.1,246.2 107.5,246.1 106.9,242.8 106.3,247.3 105.7,246.9 105.1,248.6 104.5,249.5 103.9,248.3 103.3,248.2 102.7,242.1 102.1,247.4 101.5,247.0 100.9,244.7 100.3,241.1 99.7,245.8 99.1,239.3 98.5,239.6 97.9,244.6 97.3,245.2 96.7,242.8 96.1,240.4 95.5,243.0 94.9,245.9 94.3,247.9 93.7,242.7 93.1,242.9 92.5,243.7 91.9,241.6 91.3,242.6 90.7,240.8 90.1,241.8 89.5,242.7 88.9,242.9 88.3,245.6 87.7,246.3 87.1,241.2 86.5,239.4 85.9,241.1 85.3,241.2 84.7,244.0 84.1,243.0 83.5,240.9 82.9,242.5 82.3,244.3 81.7,244.2 81.1,244.1 80.5,246.1 79.9,245.7 79.3,245.5 78.7,242.9 78.1,244.1 77.5,244.3 76.9,245.2 76.3,244.0 75.7,245.0 75.1,238.8 74.5,242.7 73.9,244.3 73.3,244.1 72.7,243.4 72.1,241.6 71.5,242.8 70.9,241.5 70.3,241.3 69.7,243.4 69.1,243.8 68.5,245.0 67.9,244.7 67.3,241.9 66.7,241.3 66.1,240.9 65.5,239.3 64.9,240.6 64.3,242.3 63.7,239.6 63.1,244.6 62.5,244.5 61.9,245.0 61.3,239.7 60.7,242.9 60.1,246.4 59.5,242.0 58.9,242.9 58.3,246.6 57.7,247.1 57.1,246.9 56.5,247.7 55.9,248.4 55.3,244.4 54.7,245.3 54.1,241.0 53.5,240.9 52.9,243.0 52.3,241.4Z" fill="#ff00ff" fill-opacity="0.52"/>
<path d="M52,228.28 L52.5,224.57 L53,221.12 L53.5,222.6 L54,228.66 L54.5,230.98 L55,232 L55.5,231.89 L56,232.03 L56.5,233.63 L57,232.46 L57.5,233.05 L58,233.42 L58.5,232.68 L59,231.64 L59.5,229.6 L60,229 L60.5,230.05 L61,230.25 L61.5,229.37 L62,229.05 L62.5,230.23 L63,231.06 L63.5,230.71 L64,230.29 L64.5,231.72 L65,231.04 L65.5,230.17 L66,229.95 L66.5,228.76 L67,229.28 L67.5,228.13 L68,228.6 L68.5,229.95 L69,231.8 L69.5,229.27 L70,230.81 L70.5,232.56 L71,232.77 L71.5,232.98 L72,232.42 L72.5,231.69 L73,232.45 L73.5,233.92 L74,235.06 L74.5,234.1 L75,232.87 L75.5,230.9 L76,230.98 L76.5,229.7 L77,229.2 L77.5,228.75 L78,227.18 L78.5,227.49 L79,228.22 L79.5,230.01 L80,229.1 L80.5,229.08 L81,228.08 L81.5,229.74 L82,231.32 L82.5,232.35 L83,233.58 L83.5,232.53 L84,231.76 L84.5,232.36 L85,231.34 L85.5,230.74 L86,231.52 L86.5,230.67 L87,229.73 L87.5,230.35 L88,231.13 L88.5,230.73 L89,231.05 L89.5,230.86 L90,231.16 L90.5,231.53 L91,230.83 L91.5,230.26 L92,230.08 L92.5,230.59 L93,230.57 L93.5,231.21 L94,231.44 L94.5,231.69 L95,231.76 L95.5,231.9 L96,231.74 L96.5,229.06 L97,229.63 L97.5,230.36 L98,230.6 L98.5,230.79 L99,229.89 L99.5,230.31 L100,230.15 L100.5,231.5 L101,231.11 L101.5,230.3 L102,231.56 L102.5,231.57 L103,232.67 L103.5,232.27 L104,232.88 L104.5,233.66 L105,235.14 L105.5,234.39 L106,234.15 L106.5,233.51 L107,233.29 L107.5,233.36 L108,231.06 L108.5,229.64 L109,227.65 L109.5,227.12 L110,227.9 L110.5,226.76 L111,227.73 L111.5,227.53 L112,227.21 L112.5,229.06 L113,228.92 L113.5,229.47 L114,229.66 L114.5,229.53 L115,229.31 L115.5,230.68 L116,229.47 L116.5,228.51 L117,226.84 L117.5,228.61 L118,229.98 L118.5,229.53 L119,231.04 L119.5,232.02 L120,231.96 L120.5,232.45 L121,232.39 L121.5,233.51 L122,233.03 L122.5,231.49 L123,232.11 L123.5,231.51 L124,231.19 L124.5,230.61 L125,231.2 L125.5,230.54 L126,229.3 L126.5,230.52 L127,229.79 L127.5,229.56 L128,228.5 L128.5,228.47 L129,228.34 L129.5,230.83 L130,232.59 L130.5,233.27 L131,234.36 L131.5,231.5 L132,230.01 L132.5,230.77 L133,229.21 L133.5,229.04 L134,229.53 L134.5,227.98 L135,228.88 L135.5,229.52 L136,230.06 L136.5,230.61 L137,229.98 L137.5,231 L138,229.54 L138.5,230.22 L139,231.03 L139.5,232.01 L140,233.02 L140.5,234.45 L141,234.83 L141.5,235.63 L142,235.78 L142.5,233.8 L143,234.63 L143.5,232.63 L144,230.61 L144.5,229.57 L145,229.88 L145.5,229.29 L146,229.53 L146.5,229.76 L147,229.28 L147.5,230.09 L148,230.36 L148.5,229.66 L149,230.18 L149.5,230.17 L150,230.24 L150.5,230.59 L151,230.7 L151.5,232 L152,232.52 L152.5,233.82 L153,233.65 L153.5,232.55 L154,231.75 L154.5,231.64 L155,231.38 L155.5,231.64 L156,232.84 L156.5,232.76 L157,232.2 L157.5,232.23 L158,231.28 L158.5,230.52 L159,229.93 L159.5,228.84 L160,227.42 L160.5,227.13 L161,225.97 L161.5,224.58 L162,225.62 L162.5,226.42 L163,227.9 L163.5,230.27 L164,230.19 L164.5,232.85 L165,232.36 L165.5,232.44 L166,232.67 L166.5,234.42 L167,233.25 L167.5,234.53 L168,233.75 L168.5,233.24 L169,233.84 L169.5,234.55 L170,234.3 L170.5,232.4 L171,232.1 L171.5,231.14 L172,230.12 L172.5,229.11 L173,227.97 L173.5,226.7 L174,228.89 L174.5,229.05 L175,230.43 L175.5,231.58 L176,230.87 L176.5,231.27 L177,231.83 L177.5,230.55 L178,229.24 L178.5,229.13 L179,228.61 L179.5,229.26 L180,229.63 L180.5,232.16 L181,232.33 L181.5,231.96 L182,232.39 L182.5,232.49 L183,232.58 L183.5,232.93 L184,232.44 L184.5,230.81 L185,230.35 L185.5,229.87 L186,228.82 L186.5,230.82 L187,227.67 L187.5,226.71 L188,226.01 L188.5,226.28 L189,227.12 L189.5,230.02 L190,229.91 L190.5,232.02 L191,232.47 L191.5,235.32 L192,234.83 L192.5,234.67 L193,234.21 L193.5,234.89 L194,233.02 L194.5,232.27 L195,230.34 L195.5,230.05 L196,228.61 L196.5,227.49 L197,228.07 L197.5,227.04 L198,228.49 L198.5,229.3 L199,229.68 L199.5,230.12 L200,232.19 L200.5,231.07 L201,232.35 L201.5,233.02 L202,235.64 L202.5,238.31 L203,237.33 L203.5,237.95 L204,238.3 L204.5,236.92 L205,234.19 L205.5,232.28 L206,229.79 L206.5,228.26 L207,225.37 L207.5,224.75 L208,221.94 L208.5,222.61 L209,223.68 L209.5,223.68 L210,226.8 L210.5,227.3 L211,229.32 L211.5,229.71 L212,229.43 L212.5,230.19 L213,231.16 L213.5,230.98 L214,233.45 L214.5,232.94 L215,232.15 L215.5,232.27 L216,231.68 L216.5,232.03 L217,230.71 L217.5,231.22 L218,231.55 L218.5,230.35 L219,231.54 L219.5,232.39 L220,234.78 L220.5,235.5 L221,234.87 L221.5,235.5 L222,236.05 L222.5,237.1 L223,236.63 L223.5,235.97 L224,234.49 L224.5,232.83 L225,231.87 L225.5,230.06 L226,227.93 L226.5,226.86 L227,226.5 L227.5,226.67 L228,226.11 L228.5,225.54 L229,226.38 L229.5,226.5 L230,227.75 L230.5,227.8 L231,227.44 L231.5,229.26 L232,228.84 L232.5,228.38 L233,228.98 L233.5,228.92 L234,230.8 L234.5,231.23 L235,231.76 L235.5,232.86 L236,234.09 L236.5,233.9 L237,234.97 L237.5,235.97 L238,236.46 L238.5,234.71 L239,235.41 L239.5,232.36 L240,232 L240.5,229.93 L241,229.92 L241.5,227.47 L242,226.94 L242.5,227.29 L243,228.21 L243.5,227.82 L244,227.4 L244.5,228.58 L245,230.26 L245.5,231.31 L246,233.11 L246.5,232.51 L247,233.57 L247.5,234.16 L248,232.94 L248.5,232.81 L249,230.65 L249.5,229.18 L250,228.91 L250.5,229.03 L251,228.28 L251.5,228.74 L252,229.1 L252.5,229.01 L253,228.17 L253.5,228.54 L254,229.61 L254.5,229.95 L255,230.13 L255.5,230.26 L256,230.35 L256.5,231.06 L257,230.7 L257.5,230.86 L258,231.89 L258.5,232.93 L259,232.78 L259.5,233.38 L260,233.43 L260.5,234.34 L261,234.74 L261.5,237 L262,239.8 L262.5,238.42 L263,237.87 L263.5,235.18" fill="none" stroke="#000" stroke-width="1.15" stroke-linejoin="round"/>
<rect x="64.3" y="210.9" width="6.5" height="42.2" fill="#000" fill-opacity="0.14"/>
<line x1="64.3" y1="210.9" x2="64.3" y2="253.1" stroke="#000" stroke-opacity="0.38" stroke-width="0.7"/>
<line x1="70.8" y1="210.9" x2="70.8" y2="253.1" stroke="#000" stroke-opacity="0.38" stroke-width="0.7"/>
<rect x="76.1" y="210.9" width="6" height="42.2" fill="#000" fill-opacity="0.25"/>
<line x1="76.1" y1="210.9" x2="76.1" y2="253.1" stroke="#000" stroke-opacity="0.38" stroke-width="0.7"/>
<line x1="82.1" y1="210.9" x2="82.1" y2="253.1" stroke="#000" stroke-opacity="0.38" stroke-width="0.7"/>
<rect x="87.6" y="210.9" width="14.6" height="42.2" fill="#000" fill-opacity="0.14"/>
<line x1="87.6" y1="210.9" x2="87.6" y2="253.1" stroke="#000" stroke-opacity="0.38" stroke-width="0.7"/>
<line x1="102.2" y1="210.9" x2="102.2" y2="253.1" stroke="#000" stroke-opacity="0.38" stroke-width="0.7"/>
<rect x="108.3" y="210.9" width="14.8" height="42.2" fill="#000" fill-opacity="0.25"/>
<line x1="108.3" y1="210.9" x2="108.3" y2="253.1" stroke="#000" stroke-opacity="0.38" stroke-width="0.7"/>
<line x1="123.1" y1="210.9" x2="123.1" y2="253.1" stroke="#000" stroke-opacity="0.38" stroke-width="0.7"/>
<rect x="129.3" y="210.9" width="8.4" height="42.2" fill="#000" fill-opacity="0.14"/>
<line x1="129.3" y1="210.9" x2="129.3" y2="253.1" stroke="#000" stroke-opacity="0.38" stroke-width="0.7"/>
<line x1="137.7" y1="210.9" x2="137.7" y2="253.1" stroke="#000" stroke-opacity="0.38" stroke-width="0.7"/>
<rect x="143.1" y="210.9" width="9.8" height="42.2" fill="#000" fill-opacity="0.25"/>
<line x1="143.1" y1="210.9" x2="143.1" y2="253.1" stroke="#000" stroke-opacity="0.38" stroke-width="0.7"/>
<line x1="152.9" y1="210.9" x2="152.9" y2="253.1" stroke="#000" stroke-opacity="0.38" stroke-width="0.7"/>
<rect x="158.3" y="210.9" width="7.6" height="42.2" fill="#000" fill-opacity="0.14"/>
<line x1="158.3" y1="210.9" x2="158.3" y2="253.1" stroke="#000" stroke-opacity="0.38" stroke-width="0.7"/>
<line x1="165.9" y1="210.9" x2="165.9" y2="253.1" stroke="#000" stroke-opacity="0.38" stroke-width="0.7"/>
<rect x="171.6" y="210.9" width="7" height="42.2" fill="#000" fill-opacity="0.25"/>
<line x1="171.6" y1="210.9" x2="171.6" y2="253.1" stroke="#000" stroke-opacity="0.38" stroke-width="0.7"/>
<line x1="178.6" y1="210.9" x2="178.6" y2="253.1" stroke="#000" stroke-opacity="0.38" stroke-width="0.7"/>
<rect x="184.3" y="210.9" width="4.4" height="42.2" fill="#000" fill-opacity="0.14"/>
<line x1="184.3" y1="210.9" x2="184.3" y2="253.1" stroke="#000" stroke-opacity="0.38" stroke-width="0.7"/>
<line x1="188.7" y1="210.9" x2="188.7" y2="253.1" stroke="#000" stroke-opacity="0.38" stroke-width="0.7"/>
<rect x="194.2" y="210.9" width="5.3" height="42.2" fill="#000" fill-opacity="0.25"/>
<line x1="194.2" y1="210.9" x2="194.2" y2="253.1" stroke="#000" stroke-opacity="0.38" stroke-width="0.7"/>
<line x1="199.5" y1="210.9" x2="199.5" y2="253.1" stroke="#000" stroke-opacity="0.38" stroke-width="0.7"/>
<rect x="205.2" y="210.9" width="11.4" height="42.2" fill="#000" fill-opacity="0.14"/>
<line x1="205.2" y1="210.9" x2="205.2" y2="253.1" stroke="#000" stroke-opacity="0.38" stroke-width="0.7"/>
<line x1="216.6" y1="210.9" x2="216.6" y2="253.1" stroke="#000" stroke-opacity="0.38" stroke-width="0.7"/>
<rect x="222.2" y="210.9" width="12.4" height="42.2" fill="#000" fill-opacity="0.25"/>
<line x1="222.2" y1="210.9" x2="222.2" y2="253.1" stroke="#000" stroke-opacity="0.38" stroke-width="0.7"/>
<line x1="234.6" y1="210.9" x2="234.6" y2="253.1" stroke="#000" stroke-opacity="0.38" stroke-width="0.7"/>
<rect x="240.2" y="210.9" width="3.3" height="42.2" fill="#000" fill-opacity="0.14"/>
<line x1="240.2" y1="210.9" x2="240.2" y2="253.1" stroke="#000" stroke-opacity="0.38" stroke-width="0.7"/>
<line x1="243.5" y1="210.9" x2="243.5" y2="253.1" stroke="#000" stroke-opacity="0.38" stroke-width="0.7"/>
<rect x="249" y="210.9" width="3.2" height="42.2" fill="#000" fill-opacity="0.25"/>
<line x1="249" y1="210.9" x2="249" y2="253.1" stroke="#000" stroke-opacity="0.38" stroke-width="0.7"/>
<line x1="252.2" y1="210.9" x2="252.2" y2="253.1" stroke="#000" stroke-opacity="0.38" stroke-width="0.7"/>
</g>
<rect x="52.3" y="210.9" width="211" height="42.2" fill="none" stroke="#a4a4a4" stroke-width="0.75"/>
<line x1="52.3" y1="253.1" x2="52.3" y2="251.1" stroke="#8a8a8a" stroke-width="0.6"/>
<line x1="52.3" y1="210.9" x2="52.3" y2="212.9" stroke="#8a8a8a" stroke-width="0.6"/>
<line x1="81.61" y1="253.1" x2="81.61" y2="251.1" stroke="#8a8a8a" stroke-width="0.6"/>
<line x1="81.61" y1="210.9" x2="81.61" y2="212.9" stroke="#8a8a8a" stroke-width="0.6"/>
<line x1="110.91" y1="253.1" x2="110.91" y2="251.1" stroke="#8a8a8a" stroke-width="0.6"/>
<line x1="110.91" y1="210.9" x2="110.91" y2="212.9" stroke="#8a8a8a" stroke-width="0.6"/>
<line x1="140.22" y1="253.1" x2="140.22" y2="251.1" stroke="#8a8a8a" stroke-width="0.6"/>
<line x1="140.22" y1="210.9" x2="140.22" y2="212.9" stroke="#8a8a8a" stroke-width="0.6"/>
<line x1="169.52" y1="253.1" x2="169.52" y2="251.1" stroke="#8a8a8a" stroke-width="0.6"/>
<line x1="169.52" y1="210.9" x2="169.52" y2="212.9" stroke="#8a8a8a" stroke-width="0.6"/>
<line x1="198.83" y1="253.1" x2="198.83" y2="251.1" stroke="#8a8a8a" stroke-width="0.6"/>
<line x1="198.83" y1="210.9" x2="198.83" y2="212.9" stroke="#8a8a8a" stroke-width="0.6"/>
<line x1="228.13" y1="253.1" x2="228.13" y2="251.1" stroke="#8a8a8a" stroke-width="0.6"/>
<line x1="228.13" y1="210.9" x2="228.13" y2="212.9" stroke="#8a8a8a" stroke-width="0.6"/>
<line x1="257.44" y1="253.1" x2="257.44" y2="251.1" stroke="#8a8a8a" stroke-width="0.6"/>
<line x1="257.44" y1="210.9" x2="257.44" y2="212.9" stroke="#8a8a8a" stroke-width="0.6"/>
<line x1="52.3" y1="214.3" x2="54.3" y2="214.3" stroke="#8a8a8a" stroke-width="0.6"/>
<line x1="263.3" y1="214.3" x2="261.3" y2="214.3" stroke="#8a8a8a" stroke-width="0.6"/>
<line x1="52.3" y1="230.8" x2="54.3" y2="230.8" stroke="#8a8a8a" stroke-width="0.6"/>
<line x1="263.3" y1="230.8" x2="261.3" y2="230.8" stroke="#8a8a8a" stroke-width="0.6"/>
<line x1="52.3" y1="247.6" x2="54.3" y2="247.6" stroke="#8a8a8a" stroke-width="0.6"/>
<line x1="263.3" y1="247.6" x2="261.3" y2="247.6" stroke="#8a8a8a" stroke-width="0.6"/>
<text font-size="7.9" text-anchor="end" stroke="#1e1e1e" stroke-width="0.18" fill="#1e1e1e" transform="translate(49.7 218.2) scale(1 1.12)">0.5</text>
<text font-size="7.9" text-anchor="end" stroke="#1e1e1e" stroke-width="0.18" fill="#1e1e1e" transform="translate(49.7 234.7) scale(1 1.12)">0</text>
<text font-size="7.9" text-anchor="end" stroke="#1e1e1e" stroke-width="0.18" fill="#1e1e1e" transform="translate(49.7 251.5) scale(1 1.12)">-0.5</text>
<text font-size="7.8" text-anchor="middle" font-weight="bold" fill="#000" transform="translate(157.8 208) scale(1 1.12)" stroke="#000" stroke-width="0.2">HighMC: t=5.2</text>
<g clip-path="url(#c04)">
<path d="M52,298.08 L52.3,298.08 L52.6,298.09 L52.9,298.1 L53.2,298.11 L53.5,298.11 L53.8,298.12 L54.1,298.13 L54.4,298.14 L54.7,298.14 L55,298.15 L55.3,298.16 L55.6,298.17 L55.9,298.17 L56.2,298.18 L56.5,298.19 L56.8,298.2 L57.1,298.2 L57.4,298.21 L57.7,298.21 L58,298.2 L58.3,298.19 L58.6,298.18 L58.9,298.18 L59.2,298.17 L59.5,298.16 L59.8,298.15 L60.1,298.15 L60.4,298.14 L60.7,298.13 L61,298.12 L61.3,298.12 L61.6,298.11 L61.9,298.1 L62.2,298.09 L62.5,298.09 L62.8,298.08 L63.1,298.07 L63.4,298.06 L63.7,298.06 L64,298.05 L64.3,298.04 L64.6,298.03 L64.9,298.03 L65.2,298.02 L65.5,298.01 L65.8,298 L66.1,298 L66.4,297.99 L66.7,297.98 L67,297.97 L67.3,297.97 L67.6,297.96 L67.9,297.95 L68.2,297.94 L68.5,297.93 L68.8,297.92 L69.1,297.91 L69.4,297.9 L69.7,297.89 L70,297.88 L70.3,297.87 L70.6,297.86 L70.9,297.85 L71.2,297.84 L71.5,297.83 L71.8,297.82 L72.1,297.81 L72.4,297.8 L72.7,297.74 L73,297.68 L73.3,297.62 L73.6,297.56 L73.9,297.22 L74.2,296.69 L74.5,296.17 L74.8,295.64 L75.1,295.49 L75.4,295.58 L75.7,296.83 L76,298.08 L76.3,299 L76.6,299.52 L76.9,299.61 L77.2,299.46 L77.5,299.31 L77.8,299.16 L78.1,299.12 L78.4,299.08 L78.7,299.04 L79,299 L79.3,298.96 L79.6,298.92 L79.9,298.88 L80.2,298.84 L80.5,298.8 L80.8,298.76 L81.1,298.72 L81.4,298.68 L81.7,298.64 L82,298.61 L82.3,298.6 L82.6,298.58 L82.9,298.57 L83.2,298.55 L83.5,298.54 L83.8,298.52 L84.1,298.51 L84.4,298.49 L84.7,298.48 L85,298.46 L85.3,298.45 L85.6,298.43 L85.9,298.42 L86.2,298.4 L86.5,298.39 L86.8,298.37 L87.1,298.36 L87.4,298.35 L87.7,298.34 L88,298.33 L88.3,298.32 L88.6,298.32 L88.9,298.31 L89.2,298.3 L89.5,298.29 L89.8,298.29 L90.1,298.28 L90.4,298.27 L90.7,298.26 L91,298.26 L91.3,298.25 L91.6,298.24 L91.9,298.23 L92.2,298.23 L92.5,298.22 L92.8,298.21 L93.1,298.2 L93.4,298.2 L93.7,298.19 L94,298.18 L94.3,298.17 L94.6,298.17 L94.9,298.16 L95.2,298.15 L95.5,298.14 L95.8,298.14 L96.1,298.13 L96.4,298.12 L96.7,298.11 L97,298.11 L97.3,298.1 L97.6,298.09 L97.9,298.08 L98.2,298.08 L98.5,298.08 L98.8,298.08 L99.1,298.08 L99.4,298.08 L99.7,298.08 L100,298.08 L100.3,298.08 L100.6,298.08 L100.9,298.08 L101.2,298.08 L101.5,298.08 L101.8,298.08 L102.1,298.08 L102.4,298.08 L102.7,298.08 L103,298.08 L103.3,298.08 L103.6,298.08 L103.9,298.05 L104.2,298.03 L104.5,298 L104.8,297.98 L105.1,297.96 L105.4,297.93 L105.7,297.91 L106,297.88 L106.3,297.86 L106.6,297.84 L106.9,297.81 L107.2,297.81 L107.5,297.81 L107.8,297.49 L108.1,296.38 L108.4,295.27 L108.7,294.16 L109,293.66 L109.3,293.26 L109.6,293.12 L109.9,294.52 L110.2,295.92 L110.5,296.6 L110.8,296.32 L111.1,296.05 L111.4,297.5 L111.7,299 L112,299.54 L112.3,299.69 L112.6,299.84 L112.9,299.99 L113.2,300.1 L113.5,300.02 L113.8,299.95 L114.1,299.87 L114.4,299.8 L114.7,299.72 L115,299.65 L115.3,299.57 L115.6,299.5 L115.9,299.41 L116.2,299.26 L116.5,299.11 L116.8,298.96 L117.1,298.81 L117.4,298.66 L117.7,298.51 L118,298.36 L118.3,298.21 L118.6,298.06 L118.9,297.91 L119.2,297.76 L119.5,297.61 L119.8,297.46 L120.1,297.31 L120.4,297.16 L120.7,297.01 L121,296.86 L121.3,296.71 L121.6,296.56 L121.9,296.41 L122.2,296.26 L122.5,296.11 L122.8,295.96 L123.1,295.81 L123.4,295.66 L123.7,295.51 L124,295.36 L124.3,295.36 L124.6,295.36 L124.9,295.36 L125.2,295.36 L125.5,295.36 L125.8,295.36 L126.1,295.36 L126.4,295.36 L126.7,295.36 L127,295.5 L127.3,295.65 L127.6,295.8 L127.9,295.95 L128.2,296.1 L128.5,296.25 L128.8,296.4 L129.1,296.55 L129.4,296.7 L129.7,296.92 L130,297.14 L130.3,297.37 L130.6,297.59 L130.9,297.82 L131.2,298.04 L131.5,298.27 L131.8,298.49 L132.1,298.72 L132.4,299.01 L132.7,299.31 L133,299.61 L133.3,299.91 L133.6,300.21 L133.9,300.51 L134.2,300.81 L134.5,301.11 L134.8,301.41 L135.1,301.71 L135.4,302.01 L135.7,302.31 L136,302.61 L136.3,302.91 L136.6,303.21 L136.9,303.51 L137.2,303.81 L137.5,304.11 L137.8,304.41 L138.1,304.71 L138.4,305.01 L138.7,305.31 L139,305.45 L139.3,305 L139.6,304.55 L139.9,304.1 L140.2,303.65 L140.5,302.68 L140.8,301.48 L141.1,300.28 L141.4,299.08 L141.7,297.88 L142,296.68 L142.3,295.48 L142.6,295.09 L142.9,294.79 L143.2,294.49 L143.5,294.19 L143.8,293.97 L144.1,293.87 L144.4,293.77 L144.7,293.67 L145,293.57 L145.3,293.47 L145.6,293.37 L145.9,293.28 L146.2,293.21 L146.5,293.13 L146.8,293.06 L147.1,292.98 L147.4,292.91 L147.7,292.83 L148,292.76 L148.3,292.68 L148.6,292.61 L148.9,292.53 L149.2,292.46 L149.5,292.38 L149.8,292.31 L150.1,292.23 L150.4,292.16 L150.7,292.08 L151,292.01 L151.3,291.91 L151.6,291.78 L151.9,291.66 L152.2,291.53 L152.5,291.41 L152.8,291.32 L153.1,291.91 L153.4,292.5 L153.7,293.09 L154,296.18 L154.3,302.18 L154.6,307.59 L154.9,309.69 L155.2,311.79 L155.5,309.85 L155.8,307.15 L156.1,304.92 L156.4,303.12 L156.7,302.25 L157,304.65 L157.3,307.05 L157.6,307.54 L157.9,307.84 L158.2,308.14 L158.5,308.44 L158.8,308.91 L159.1,309.81 L159.4,310.71 L159.7,311.61 L160,312.51 L160.3,312.96 L160.6,313.17 L160.9,313.38 L161.2,312.31 L161.5,309.56 L161.8,306.81 L162.1,302.19 L162.4,296.61 L162.7,291.04 L163,286.06 L163.3,281.86 L163.6,278.27 L163.9,279.21 L164.2,280.14 L164.5,281.08 L164.8,281.44 L165.1,281.01 L165.4,280.59 L165.7,280.41 L166,281.31 L166.3,282.21 L166.6,287.06 L166.9,292.46 L167.2,297.86 L167.5,303.26 L167.8,307.5 L168.1,308.4 L168.4,309.3 L168.7,308.53 L169,307.68 L169.3,306.82 L169.6,306.04 L169.9,305.29 L170.2,304.54 L170.5,303.79 L170.8,303.04 L171.1,302.29 L171.4,301.54 L171.7,300.79 L172,300.1 L172.3,299.5 L172.6,298.9 L172.9,298.3 L173.2,297.7 L173.5,297.27 L173.8,296.9 L174.1,296.52 L174.4,295.94 L174.7,292.94 L175,289.59 L175.3,285.09 L175.6,281.17 L175.9,278.17 L176.2,277.57 L176.5,279.07 L176.8,287.78 L177.1,299.78 L177.4,306.44 L177.7,312.06 L178,312.86 L178.3,313.22 L178.6,311.22 L178.9,309.22 L179.2,307.89 L179.5,307.7 L179.8,307.52 L180.1,307.33 L180.4,307.07 L180.7,306.77 L181,306.47 L181.3,306.17 L181.6,305.87 L181.9,305.72 L182.2,305.57 L182.5,305.42 L182.8,305.27 L183.1,304.78 L183.4,303.85 L183.7,302.91 L184,301.97 L184.3,298.96 L184.6,295.21 L184.9,291.46 L185.2,287.87 L185.5,288.12 L185.8,288.37 L186.1,288.7 L186.4,289.27 L186.7,289.83 L187,290.39 L187.3,290.89 L187.6,291.34 L187.9,291.79 L188.2,292.24 L188.5,292.69 L188.8,293.09 L189.1,293.49 L189.4,293.89 L189.7,294.29 L190,294.69 L190.3,295.09 L190.6,295.49 L190.9,295.89 L191.2,296.29 L191.5,296.69 L191.8,297.09 L192.1,297.49 L192.4,297.89 L192.7,298.28 L193,298.54 L193.3,298.8 L193.6,299.06 L193.9,299.32 L194.2,299.58 L194.5,299.84 L194.8,300.07 L195.1,300.15 L195.4,300.23 L195.7,300.31 L196,300.39 L196.3,300.47 L196.6,300.55 L196.9,300.6 L197.2,300.52 L197.5,300.44 L197.8,300.36 L198.1,300.28 L198.4,300.2 L198.7,300.12 L199,300.02 L199.3,299.9 L199.6,299.78 L199.9,299.66 L200.2,299.54 L200.5,299.42 L200.8,299.3 L201.1,299.17 L201.4,299 L201.7,298.84 L202,298.68 L202.3,298.51 L202.6,298.35 L202.9,298.2 L203.2,298.08 L203.5,297.96 L203.8,297.84 L204.1,297.71 L204.4,297.59 L204.7,297.47 L205,297.35 L205.3,297.13 L205.6,296.86 L205.9,296.81 L206.2,296.76 L206.5,296.71 L206.8,296.66 L207.1,296.61 L207.4,296.53 L207.7,296.41 L208,296.3 L208.3,296.18 L208.6,296.22 L208.9,296.27 L209.2,296.32 L209.5,296.37 L209.8,296.42 L210.1,296.47 L210.4,296.51 L210.7,296.54 L211,296.58 L211.3,296.67 L211.6,296.77 L211.9,296.88 L212.2,296.98 L212.5,297.09 L212.8,297.19 L213.1,297.3 L213.4,297.4 L213.7,297.51 L214,297.61 L214.3,297.71 L214.6,297.81 L214.9,297.91 L215.2,298.01 L215.5,298.11 L215.8,298.21 L216.1,298.31 L216.4,298.41 L216.7,298.51 L217,298.61 L217.3,298.71 L217.6,298.81 L217.9,298.91 L218.2,298.93 L218.5,298.91 L218.8,298.89 L219.1,298.87 L219.4,298.85 L219.7,298.83 L220,298.81 L220.3,298.79 L220.6,298.77 L220.9,298.75 L221.2,298.73 L221.5,298.71 L221.8,298.69 L222.1,298.67 L222.4,298.63 L222.7,298.58 L223,298.53 L223.3,298.48 L223.6,298.43 L223.9,298.38 L224.2,298.33 L224.5,298.28 L224.8,298.23 L225.1,298.18 L225.4,298.13 L225.7,298.08 L226,298.03 L226.3,297.98 L226.6,297.95 L226.9,297.92 L227.2,297.89 L227.5,297.86 L227.8,297.83 L228.1,297.8 L228.4,297.77 L228.7,297.74 L229,297.71 L229.3,297.68 L229.6,297.65 L229.9,297.62 L230.2,297.59 L230.5,297.56 L230.8,297.58 L231.1,297.59 L231.4,297.61 L231.7,297.62 L232,297.64 L232.3,297.65 L232.6,297.67 L232.9,297.68 L233.2,297.7 L233.5,297.71 L233.8,297.73 L234.1,297.74 L234.4,297.76 L234.7,297.77 L235,297.79 L235.3,297.8 L235.6,297.82 L235.9,297.83 L236.2,297.84 L236.5,297.85 L236.8,297.86 L237.1,297.86 L237.4,297.87 L237.7,297.88 L238,297.89 L238.3,297.89 L238.6,297.9 L238.9,297.91 L239.2,297.92 L239.5,297.92 L239.8,297.93 L240.1,297.94 L240.4,297.95 L240.7,297.95 L241,297.96 L241.3,297.97 L241.6,297.98 L241.9,297.98 L242.2,297.99 L242.5,297.99 L242.8,298 L243.1,298.01 L243.4,298.01 L243.7,298.02 L244,298.02 L244.3,298.03 L244.6,298.04 L244.9,298.04 L245.2,298.05 L245.5,298.05 L245.8,298.06 L246.1,298.07 L246.4,298.07 L246.7,298.08 L247,298.08 L247.3,298.09 L247.6,298.1 L247.9,298.1 L248.2,298.11 L248.5,298.11 L248.8,298.12 L249.1,298.12 L249.4,298.12 L249.7,298.12 L250,298.12 L250.3,298.12 L250.6,298.12 L250.9,298.12 L251.2,298.12 L251.5,298.12 L251.8,298.12 L252.1,298.12 L252.4,298.12 L252.7,298.12 L253,298.12 L253.3,298.12 L253.6,298.12 L253.9,298.12 L254.2,298.12 L254.5,298.12 L254.8,298.12 L255.1,298.12 L255.4,298.12 L255.7,298.11 L256,298.1 L256.3,298.09 L256.6,298.09 L256.9,298.08 L257.2,298.07 L257.5,298.06 L257.8,298.06 L258.1,298.05 L258.4,298.04 L258.7,298.03 L259,298.03 L259.3,298.02 L259.6,298.01 L259.9,298 L260.2,298 L260.5,297.99 L260.8,297.98 L261.1,297.97 L261.4,297.96 L261.7,297.94 L262,297.93 L262.3,297.91 L262.6,297.9 L262.9,297.88 L263.2,297.87 L263.5,297.85" fill="none" stroke="#111" stroke-width="1.1" stroke-linejoin="round"/>
<rect x="64.3" y="276.9" width="6.5" height="42.2" fill="#000" fill-opacity="0.1"/>
<line x1="64.3" y1="276.9" x2="64.3" y2="319.1" stroke="#000" stroke-opacity="0.3" stroke-width="0.7"/>
<line x1="70.8" y1="276.9" x2="70.8" y2="319.1" stroke="#000" stroke-opacity="0.3" stroke-width="0.7"/>
<rect x="76.1" y="276.9" width="6" height="42.2" fill="#000" fill-opacity="0.155"/>
<line x1="76.1" y1="276.9" x2="76.1" y2="319.1" stroke="#000" stroke-opacity="0.3" stroke-width="0.7"/>
<line x1="82.1" y1="276.9" x2="82.1" y2="319.1" stroke="#000" stroke-opacity="0.3" stroke-width="0.7"/>
<rect x="87.6" y="276.9" width="14.6" height="42.2" fill="#000" fill-opacity="0.1"/>
<line x1="87.6" y1="276.9" x2="87.6" y2="319.1" stroke="#000" stroke-opacity="0.3" stroke-width="0.7"/>
<line x1="102.2" y1="276.9" x2="102.2" y2="319.1" stroke="#000" stroke-opacity="0.3" stroke-width="0.7"/>
<rect x="108.3" y="276.9" width="14.8" height="42.2" fill="#000" fill-opacity="0.155"/>
<line x1="108.3" y1="276.9" x2="108.3" y2="319.1" stroke="#000" stroke-opacity="0.3" stroke-width="0.7"/>
<line x1="123.1" y1="276.9" x2="123.1" y2="319.1" stroke="#000" stroke-opacity="0.3" stroke-width="0.7"/>
<rect x="129.3" y="276.9" width="8.4" height="42.2" fill="#000" fill-opacity="0.1"/>
<line x1="129.3" y1="276.9" x2="129.3" y2="319.1" stroke="#000" stroke-opacity="0.3" stroke-width="0.7"/>
<line x1="137.7" y1="276.9" x2="137.7" y2="319.1" stroke="#000" stroke-opacity="0.3" stroke-width="0.7"/>
<rect x="143.1" y="276.9" width="9.8" height="42.2" fill="#000" fill-opacity="0.155"/>
<line x1="143.1" y1="276.9" x2="143.1" y2="319.1" stroke="#000" stroke-opacity="0.3" stroke-width="0.7"/>
<line x1="152.9" y1="276.9" x2="152.9" y2="319.1" stroke="#000" stroke-opacity="0.3" stroke-width="0.7"/>
<rect x="158.3" y="276.9" width="7.6" height="42.2" fill="#000" fill-opacity="0.1"/>
<line x1="158.3" y1="276.9" x2="158.3" y2="319.1" stroke="#000" stroke-opacity="0.3" stroke-width="0.7"/>
<line x1="165.9" y1="276.9" x2="165.9" y2="319.1" stroke="#000" stroke-opacity="0.3" stroke-width="0.7"/>
<rect x="171.6" y="276.9" width="7" height="42.2" fill="#000" fill-opacity="0.155"/>
<line x1="171.6" y1="276.9" x2="171.6" y2="319.1" stroke="#000" stroke-opacity="0.3" stroke-width="0.7"/>
<line x1="178.6" y1="276.9" x2="178.6" y2="319.1" stroke="#000" stroke-opacity="0.3" stroke-width="0.7"/>
<rect x="184.3" y="276.9" width="4.4" height="42.2" fill="#000" fill-opacity="0.1"/>
<line x1="184.3" y1="276.9" x2="184.3" y2="319.1" stroke="#000" stroke-opacity="0.3" stroke-width="0.7"/>
<line x1="188.7" y1="276.9" x2="188.7" y2="319.1" stroke="#000" stroke-opacity="0.3" stroke-width="0.7"/>
<rect x="194.2" y="276.9" width="5.3" height="42.2" fill="#000" fill-opacity="0.155"/>
<line x1="194.2" y1="276.9" x2="194.2" y2="319.1" stroke="#000" stroke-opacity="0.3" stroke-width="0.7"/>
<line x1="199.5" y1="276.9" x2="199.5" y2="319.1" stroke="#000" stroke-opacity="0.3" stroke-width="0.7"/>
<rect x="205.2" y="276.9" width="11.4" height="42.2" fill="#000" fill-opacity="0.1"/>
<line x1="205.2" y1="276.9" x2="205.2" y2="319.1" stroke="#000" stroke-opacity="0.3" stroke-width="0.7"/>
<line x1="216.6" y1="276.9" x2="216.6" y2="319.1" stroke="#000" stroke-opacity="0.3" stroke-width="0.7"/>
<rect x="222.2" y="276.9" width="12.4" height="42.2" fill="#000" fill-opacity="0.155"/>
<line x1="222.2" y1="276.9" x2="222.2" y2="319.1" stroke="#000" stroke-opacity="0.3" stroke-width="0.7"/>
<line x1="234.6" y1="276.9" x2="234.6" y2="319.1" stroke="#000" stroke-opacity="0.3" stroke-width="0.7"/>
<rect x="240.2" y="276.9" width="3.3" height="42.2" fill="#000" fill-opacity="0.1"/>
<line x1="240.2" y1="276.9" x2="240.2" y2="319.1" stroke="#000" stroke-opacity="0.3" stroke-width="0.7"/>
<line x1="243.5" y1="276.9" x2="243.5" y2="319.1" stroke="#000" stroke-opacity="0.3" stroke-width="0.7"/>
<rect x="249" y="276.9" width="3.2" height="42.2" fill="#000" fill-opacity="0.155"/>
<line x1="249" y1="276.9" x2="249" y2="319.1" stroke="#000" stroke-opacity="0.3" stroke-width="0.7"/>
<line x1="252.2" y1="276.9" x2="252.2" y2="319.1" stroke="#000" stroke-opacity="0.3" stroke-width="0.7"/>
</g>
<rect x="52.3" y="276.9" width="211" height="42.2" fill="none" stroke="#a4a4a4" stroke-width="0.75"/>
<line x1="52.3" y1="319.1" x2="52.3" y2="317.1" stroke="#8a8a8a" stroke-width="0.6"/>
<line x1="52.3" y1="276.9" x2="52.3" y2="278.9" stroke="#8a8a8a" stroke-width="0.6"/>
<line x1="81.61" y1="319.1" x2="81.61" y2="317.1" stroke="#8a8a8a" stroke-width="0.6"/>
<line x1="81.61" y1="276.9" x2="81.61" y2="278.9" stroke="#8a8a8a" stroke-width="0.6"/>
<line x1="110.91" y1="319.1" x2="110.91" y2="317.1" stroke="#8a8a8a" stroke-width="0.6"/>
<line x1="110.91" y1="276.9" x2="110.91" y2="278.9" stroke="#8a8a8a" stroke-width="0.6"/>
<line x1="140.22" y1="319.1" x2="140.22" y2="317.1" stroke="#8a8a8a" stroke-width="0.6"/>
<line x1="140.22" y1="276.9" x2="140.22" y2="278.9" stroke="#8a8a8a" stroke-width="0.6"/>
<line x1="169.52" y1="319.1" x2="169.52" y2="317.1" stroke="#8a8a8a" stroke-width="0.6"/>
<line x1="169.52" y1="276.9" x2="169.52" y2="278.9" stroke="#8a8a8a" stroke-width="0.6"/>
<line x1="198.83" y1="319.1" x2="198.83" y2="317.1" stroke="#8a8a8a" stroke-width="0.6"/>
<line x1="198.83" y1="276.9" x2="198.83" y2="278.9" stroke="#8a8a8a" stroke-width="0.6"/>
<line x1="228.13" y1="319.1" x2="228.13" y2="317.1" stroke="#8a8a8a" stroke-width="0.6"/>
<line x1="228.13" y1="276.9" x2="228.13" y2="278.9" stroke="#8a8a8a" stroke-width="0.6"/>
<line x1="257.44" y1="319.1" x2="257.44" y2="317.1" stroke="#8a8a8a" stroke-width="0.6"/>
<line x1="257.44" y1="276.9" x2="257.44" y2="278.9" stroke="#8a8a8a" stroke-width="0.6"/>
<line x1="52.3" y1="277.7" x2="54.3" y2="277.7" stroke="#8a8a8a" stroke-width="0.6"/>
<line x1="263.3" y1="277.7" x2="261.3" y2="277.7" stroke="#8a8a8a" stroke-width="0.6"/>
<line x1="52.3" y1="297.9" x2="54.3" y2="297.9" stroke="#8a8a8a" stroke-width="0.6"/>
<line x1="263.3" y1="297.9" x2="261.3" y2="297.9" stroke="#8a8a8a" stroke-width="0.6"/>
<line x1="52.3" y1="318.1" x2="54.3" y2="318.1" stroke="#8a8a8a" stroke-width="0.6"/>
<line x1="263.3" y1="318.1" x2="261.3" y2="318.1" stroke="#8a8a8a" stroke-width="0.6"/>
<text font-size="7.9" text-anchor="end" stroke="#1e1e1e" stroke-width="0.18" fill="#1e1e1e" transform="translate(49.7 281.6) scale(1 1.12)">0.1</text>
<text font-size="7.9" text-anchor="end" stroke="#1e1e1e" stroke-width="0.18" fill="#1e1e1e" transform="translate(49.7 301.8) scale(1 1.12)">0</text>
<text font-size="7.9" text-anchor="end" stroke="#1e1e1e" stroke-width="0.18" fill="#1e1e1e" transform="translate(49.7 322) scale(1 1.12)">-0.1</text>
<text font-size="7.9" text-anchor="middle" stroke="#1e1e1e" stroke-width="0.18" fill="#1e1e1e" transform="translate(52.3 330) scale(1 1.12)">0</text>
<text font-size="7.9" text-anchor="middle" stroke="#1e1e1e" stroke-width="0.18" fill="#1e1e1e" transform="translate(81.61 330) scale(1 1.12)">100</text>
<text font-size="7.9" text-anchor="middle" stroke="#1e1e1e" stroke-width="0.18" fill="#1e1e1e" transform="translate(110.91 330) scale(1 1.12)">200</text>
<text font-size="7.9" text-anchor="middle" stroke="#1e1e1e" stroke-width="0.18" fill="#1e1e1e" transform="translate(140.22 330) scale(1 1.12)">300</text>
<text font-size="7.9" text-anchor="middle" stroke="#1e1e1e" stroke-width="0.18" fill="#1e1e1e" transform="translate(169.52 330) scale(1 1.12)">400</text>
<text font-size="7.9" text-anchor="middle" stroke="#1e1e1e" stroke-width="0.18" fill="#1e1e1e" transform="translate(198.83 330) scale(1 1.12)">500</text>
<text font-size="7.9" text-anchor="middle" stroke="#1e1e1e" stroke-width="0.18" fill="#1e1e1e" transform="translate(228.13 330) scale(1 1.12)">600</text>
<text font-size="7.9" text-anchor="middle" stroke="#1e1e1e" stroke-width="0.18" fill="#1e1e1e" transform="translate(257.44 330) scale(1 1.12)">700</text>
<text font-size="7.8" text-anchor="middle" font-weight="bold" fill="#000" transform="translate(157.8 274) scale(1 1.12)" stroke="#000" stroke-width="0.2">Oxy: HighMC-UpMC</text>
<g clip-path="url(#c10)">
<path d="M330,31.29 L330.45,24.83 L330.9,30.49 L331.35,29.81 L331.8,30.93 L332.25,32.25 L332.7,30.3 L333.15,33.94 L333.6,33.15 L334.05,40.07 L334.5,35.07 L334.95,32.46 L335.4,30.88 L335.85,29.11 L336.3,27.59 L336.75,27.76 L337.2,29.97 L337.65,30.79 L338.1,34.05 L338.55,29.57 L339,27.31 L339.45,27.12 L339.9,24.34 L340.35,23.33 L340.8,24.52 L341.25,26.92 L341.7,31.4 L342.15,30.12 L342.6,31.16 L343.05,30.91 L343.5,25.64 L343.95,24.43 L344.4,24.51 L344.85,22.22 L345.3,19.93 L345.75,21.53 L346.2,16.61 L346.65,23.38 L347.1,19.08 L347.55,16.82 L348,18.81 L348.45,19.8 L348.9,21.06 L349.35,23.14 L349.8,27.26 L350.25,29.38 L350.7,33.97 L351.15,36.06 L351.6,38.55 L352.05,41.42 L352.5,36.74 L352.95,33.35 L353.4,35.09 L353.85,34.41 L354.3,32.46 L354.75,30.88 L355.2,31.82 L355.65,26.8 L356.1,31.44 L356.55,30.67 L357,26.81 L357.45,29.08 L357.9,26.99 L358.35,29.3 L358.8,25.86 L359.25,28.94 L359.7,32.4 L360.15,33.79 L360.6,29.16 L361.05,32.49 L361.5,34.49 L361.95,33.66 L362.4,38.46 L362.85,35.81 L363.3,40.08 L363.75,38.71 L364.2,42.42 L364.65,39.91 L365.1,38.78 L365.55,35.5 L366,39.82 L366.45,37.27 L366.9,36.38 L367.35,36.09 L367.8,34.03 L368.25,31.99 L368.7,31.29 L369.15,30.84 L369.6,33.86 L370.05,28.88 L370.5,29.81 L370.95,29.8 L371.4,30.23 L371.85,30.34 L372.3,26.97 L372.75,25.75 L373.2,28.06 L373.65,28.75 L374.1,26.67 L374.55,24.46 L375,24.09 L375.45,25.96 L375.9,26 L376.35,28.6 L376.8,26.92 L377.25,29.31 L377.7,28.93 L378.15,29.53 L378.6,28.57 L379.05,32.62 L379.5,31.83 L379.95,32.73 L380.4,28.19 L380.85,32.26 L381.3,33.18 L381.75,36.17 L382.2,32.58 L382.65,39 L383.1,39.88 L383.55,37.44 L384,39.31 L384.45,40.88 L384.9,43.36 L385.35,45.44 L385.8,48.37 L386.25,45.34 L386.7,45.81 L387.15,40.33 L387.6,38.63 L388.05,33.85 L388.5,31.7 L388.95,24.95 L389.4,26.82 L389.85,26.27 L390.3,30.44 L390.75,30.43 L391.2,30.24 L391.65,31.35 L392.1,32.12 L392.55,29.32 L393,28.06 L393.45,30.56 L393.9,34.18 L394.35,30.29 L394.8,29.21 L395.25,27.33 L395.7,26.17 L396.15,29.17 L396.6,30.14 L397.05,29.24 L397.5,29.67 L397.95,28.87 L398.4,28.46 L398.85,24.95 L399.3,25.47 L399.75,25.64 L400.2,25.34 L400.65,26.95 L401.1,27.46 L401.55,28.76 L402,31.17 L402.45,29.68 L402.9,30.66 L403.35,33.24 L403.8,34.01 L404.25,36.73 L404.7,31.58 L405.15,36.07 L405.6,33.71 L406.05,34.5 L406.5,36.75 L406.95,38.27 L407.4,39.32 L407.85,36.27 L408.3,36.8 L408.75,31.97 L409.2,30.4 L409.65,30.1 L410.1,26.14 L410.55,29.04 L411,25.86 L411.45,26.36 L411.9,23.06 L412.35,23.39 L412.8,25.17 L413.25,26.14 L413.7,23.58 L414.15,24.68 L414.6,23.83 L415.05,26.45 L415.5,22.8 L415.95,26.16 L416.4,24.8 L416.85,25.65 L417.3,27.23 L417.75,27.36 L418.2,30.4 L418.65,32.98 L419.1,33.4 L419.55,35.93 L420,39.37 L420.45,39.12 L420.9,40.56 L421.35,35.95 L421.8,29.96 L422.25,32.17 L422.7,26.79 L423.15,29.3 L423.6,27.25 L424.05,28.18 L424.5,25.37 L424.95,23.26 L425.4,24.25 L425.85,21.88 L426.3,22.79 L426.75,24.04 L427.2,24.66 L427.65,25.21 L428.1,24.63 L428.55,26.11 L429,23.44 L429.45,27.06 L429.9,25.84 L430.35,30.2 L430.8,31.33 L431.25,27.08 L431.7,31.49 L432.15,32.41 L432.6,32.28 L433.05,35.92 L433.5,34.78 L433.95,33.14 L434.4,36.16 L434.85,37.7 L435.3,39.46 L435.75,38.41 L436.2,40.24 L436.65,39.3 L437.1,34.45 L437.55,32.98 L438,31.65 L438.45,28.63 L438.9,30.07 L439.35,25.37 L439.8,21.81 L440.25,21.27 L440.7,21.54 L441.15,25.03 L441.6,21.75 L442.05,22.91 L442.5,24.21 L442.95,23.99 L443.4,28.38 L443.85,24.5 L444.3,27 L444.75,26.51 L445.2,27.77 L445.65,25.79 L446.1,31.41 L446.55,29.35 L447,31.4 L447.45,31.65 L447.9,33.78 L448.35,35.4 L448.8,35.63 L449.25,34.81 L449.7,34.67 L450.15,32.98 L450.6,30.98 L451.05,31.75 L451.5,30.92 L451.95,29.35 L452.4,28.52 L452.85,26.72 L453.3,22.34 L453.75,21.13 L454.2,23.75 L454.65,26.54 L455.1,24.33 L455.55,25.87 L456,27.15 L456.45,30.67 L456.9,27.13 L457.35,32 L457.8,34.67 L458.25,32.81 L458.7,37.85 L459.15,37.67 L459.6,37.29 L460.05,39.84 L460.5,37.54 L460.95,37.3 L461.4,39.32 L461.85,33.17 L462.3,35.75 L462.75,30.87 L463.2,30.69 L463.65,26.47 L464.1,20.11 L464.55,20.13 L465,20 L465.45,16.5 L465.9,14.84 L466.35,19.62 L466.8,20.2 L467.25,20.74 L467.7,23.8 L468.15,27.17 L468.6,25.93 L469.05,29.09 L469.5,30.93 L469.95,29.44 L470.4,27.94 L470.85,25.86 L471.3,26.1 L471.75,25.76 L472.2,22.98 L472.65,21.62 L473.1,18.24 L473.55,18.36 L474,16.23 L474.45,15.56 L474.9,14.81 L475.35,16.16 L475.8,19.7 L476.25,20.5 L476.7,22.54 L477.15,26.95 L477.6,26.74 L478.05,30.22 L478.5,25.69 L478.95,22.06 L479.4,27.13 L479.85,29.27 L480.3,31.89 L480.75,40.53 L481.2,42.5 L481.65,41.55 L482.1,47.49 L482.55,43.55 L483,45.16 L483.45,39.49 L483.9,36.39 L484.35,38.51 L484.8,31.23 L485.25,30.13 L485.7,28.97 L486.15,26.31 L486.6,26.45 L487.05,27.19 L487.5,29.06 L487.95,27.33 L488.4,30.5 L488.85,31.19 L489.3,34.45 L489.75,30.63 L490.2,29.94 L490.65,31.68 L491.1,28.97 L491.55,29.17 L492,29.32 L492.45,31.42 L492.9,28.95 L493.35,28.92 L493.8,23.64 L494.25,24.95 L494.7,29.3 L495.15,27.55 L495.6,29.32 L496.05,30.29 L496.5,34.97 L496.95,36.12 L497.4,35.57 L497.85,39.43 L498.3,39.68 L498.75,41.37 L499.2,40.04 L499.65,44.75 L500.1,43.52 L500.55,41.39 L501,38.95 L501.45,37.59 L501.9,37 L502.35,32.49 L502.8,31.95 L503.25,29.22 L503.7,29.54 L504.15,27.79 L504.6,25.59 L505.05,22.19 L505.5,25.27 L505.95,25.59 L506.4,23.69 L506.85,23.42 L507.3,20.87 L507.75,22.03 L508.2,22.48 L508.65,27.52 L509.1,26.35 L509.55,25.76 L510,24.87 L510.45,27.2 L510.9,30.2 L511.35,29.09 L511.8,27.14 L512.25,29.24 L512.7,27.89 L513.15,26.04 L513.6,27.09 L514.05,29.02 L514.5,29.39 L514.95,30.71 L515.4,29.13 L515.85,33.67 L516.3,31.29 L516.75,33.26 L517.2,25.85 L517.65,30.26 L518.1,31.6 L518.55,30.38 L519,31.99 L519.45,31.56 L519.9,30.39 L520.35,27.64 L520.8,26.93 L521.25,27.44 L521.7,26.5 L522.15,26.62 L522.6,28.83 L523.05,31.28 L523.5,32.87 L523.95,29.08 L524.4,28.19 L524.85,30.06 L525.3,27.64 L525.75,28.02 L526.2,28.65 L526.65,28.83 L527.1,25.9 L527.55,28.45 L528,23.87 L528.45,27.14 L528.9,23.29 L529.35,22.89 L529.8,25.05 L530.25,22.48 L530.7,23.06 L531.15,25.42 L531.6,28.67 L532.05,29.91 L532.5,32.2 L532.95,36.18 L533.4,34.35 L533.85,33.84 L534.3,32.86 L534.75,34.94 L535.2,35.11 L535.65,36.03 L536.1,34.35 L536.55,33.26 L537,33.97 L537.45,31.08 L537.9,32.14 L538.35,31.07 L538.8,27.89 L539.25,27.97 L539.7,27.02 L540.15,29.08 L540.6,30.1 L541.05,26.18" fill="none" stroke="#1670c0" stroke-width="1.4" stroke-linejoin="round"/>
<rect x="342.1" y="13.1" width="6.7" height="42.2" fill="#000" fill-opacity="0.1"/>
<line x1="342.1" y1="13.1" x2="342.1" y2="55.3" stroke="#000" stroke-opacity="0.3" stroke-width="0.7"/>
<line x1="348.8" y1="13.1" x2="348.8" y2="55.3" stroke="#000" stroke-opacity="0.3" stroke-width="0.7"/>
<rect x="353.9" y="13.1" width="5.9" height="42.2" fill="#000" fill-opacity="0.155"/>
<line x1="353.9" y1="13.1" x2="353.9" y2="55.3" stroke="#000" stroke-opacity="0.3" stroke-width="0.7"/>
<line x1="359.8" y1="13.1" x2="359.8" y2="55.3" stroke="#000" stroke-opacity="0.3" stroke-width="0.7"/>
<rect x="365.3" y="13.1" width="14.9" height="42.2" fill="#000" fill-opacity="0.1"/>
<line x1="365.3" y1="13.1" x2="365.3" y2="55.3" stroke="#000" stroke-opacity="0.3" stroke-width="0.7"/>
<line x1="380.2" y1="13.1" x2="380.2" y2="55.3" stroke="#000" stroke-opacity="0.3" stroke-width="0.7"/>
<rect x="385.7" y="13.1" width="14.8" height="42.2" fill="#000" fill-opacity="0.155"/>
<line x1="385.7" y1="13.1" x2="385.7" y2="55.3" stroke="#000" stroke-opacity="0.3" stroke-width="0.7"/>
<line x1="400.5" y1="13.1" x2="400.5" y2="55.3" stroke="#000" stroke-opacity="0.3" stroke-width="0.7"/>
<rect x="406.3" y="13.1" width="9.4" height="42.2" fill="#000" fill-opacity="0.1"/>
<line x1="406.3" y1="13.1" x2="406.3" y2="55.3" stroke="#000" stroke-opacity="0.3" stroke-width="0.7"/>
<line x1="415.7" y1="13.1" x2="415.7" y2="55.3" stroke="#000" stroke-opacity="0.3" stroke-width="0.7"/>
<rect x="421" y="13.1" width="8.9" height="42.2" fill="#000" fill-opacity="0.155"/>
<line x1="421" y1="13.1" x2="421" y2="55.3" stroke="#000" stroke-opacity="0.3" stroke-width="0.7"/>
<line x1="429.9" y1="13.1" x2="429.9" y2="55.3" stroke="#000" stroke-opacity="0.3" stroke-width="0.7"/>
<rect x="435.5" y="13.1" width="8.4" height="42.2" fill="#000" fill-opacity="0.1"/>
<line x1="435.5" y1="13.1" x2="435.5" y2="55.3" stroke="#000" stroke-opacity="0.3" stroke-width="0.7"/>
<line x1="443.9" y1="13.1" x2="443.9" y2="55.3" stroke="#000" stroke-opacity="0.3" stroke-width="0.7"/>
<rect x="448.9" y="13.1" width="7.6" height="42.2" fill="#000" fill-opacity="0.155"/>
<line x1="448.9" y1="13.1" x2="448.9" y2="55.3" stroke="#000" stroke-opacity="0.3" stroke-width="0.7"/>
<line x1="456.5" y1="13.1" x2="456.5" y2="55.3" stroke="#000" stroke-opacity="0.3" stroke-width="0.7"/>
<rect x="462.2" y="13.1" width="4.2" height="42.2" fill="#000" fill-opacity="0.1"/>
<line x1="462.2" y1="13.1" x2="462.2" y2="55.3" stroke="#000" stroke-opacity="0.3" stroke-width="0.7"/>
<line x1="466.4" y1="13.1" x2="466.4" y2="55.3" stroke="#000" stroke-opacity="0.3" stroke-width="0.7"/>
<rect x="472.4" y="13.1" width="4.4" height="42.2" fill="#000" fill-opacity="0.155"/>
<line x1="472.4" y1="13.1" x2="472.4" y2="55.3" stroke="#000" stroke-opacity="0.3" stroke-width="0.7"/>
<line x1="476.8" y1="13.1" x2="476.8" y2="55.3" stroke="#000" stroke-opacity="0.3" stroke-width="0.7"/>
<rect x="482.1" y="13.1" width="12.7" height="42.2" fill="#000" fill-opacity="0.1"/>
<line x1="482.1" y1="13.1" x2="482.1" y2="55.3" stroke="#000" stroke-opacity="0.3" stroke-width="0.7"/>
<line x1="494.8" y1="13.1" x2="494.8" y2="55.3" stroke="#000" stroke-opacity="0.3" stroke-width="0.7"/>
<rect x="500.1" y="13.1" width="11.5" height="42.2" fill="#000" fill-opacity="0.155"/>
<line x1="500.1" y1="13.1" x2="500.1" y2="55.3" stroke="#000" stroke-opacity="0.3" stroke-width="0.7"/>
<line x1="511.6" y1="13.1" x2="511.6" y2="55.3" stroke="#000" stroke-opacity="0.3" stroke-width="0.7"/>
<rect x="517" y="13.1" width="3.2" height="42.2" fill="#000" fill-opacity="0.1"/>
<line x1="517" y1="13.1" x2="517" y2="55.3" stroke="#000" stroke-opacity="0.3" stroke-width="0.7"/>
<line x1="520.2" y1="13.1" x2="520.2" y2="55.3" stroke="#000" stroke-opacity="0.3" stroke-width="0.7"/>
<rect x="526.3" y="13.1" width="3.4" height="42.2" fill="#000" fill-opacity="0.155"/>
<line x1="526.3" y1="13.1" x2="526.3" y2="55.3" stroke="#000" stroke-opacity="0.3" stroke-width="0.7"/>
<line x1="529.7" y1="13.1" x2="529.7" y2="55.3" stroke="#000" stroke-opacity="0.3" stroke-width="0.7"/>
</g>
<rect x="330.3" y="13.1" width="211" height="42.2" fill="none" stroke="#a4a4a4" stroke-width="0.75"/>
<line x1="330.3" y1="55.3" x2="330.3" y2="53.3" stroke="#8a8a8a" stroke-width="0.6"/>
<line x1="330.3" y1="13.1" x2="330.3" y2="15.1" stroke="#8a8a8a" stroke-width="0.6"/>
<line x1="359.61" y1="55.3" x2="359.61" y2="53.3" stroke="#8a8a8a" stroke-width="0.6"/>
<line x1="359.61" y1="13.1" x2="359.61" y2="15.1" stroke="#8a8a8a" stroke-width="0.6"/>
<line x1="388.91" y1="55.3" x2="388.91" y2="53.3" stroke="#8a8a8a" stroke-width="0.6"/>
<line x1="388.91" y1="13.1" x2="388.91" y2="15.1" stroke="#8a8a8a" stroke-width="0.6"/>
<line x1="418.22" y1="55.3" x2="418.22" y2="53.3" stroke="#8a8a8a" stroke-width="0.6"/>
<line x1="418.22" y1="13.1" x2="418.22" y2="15.1" stroke="#8a8a8a" stroke-width="0.6"/>
<line x1="447.52" y1="55.3" x2="447.52" y2="53.3" stroke="#8a8a8a" stroke-width="0.6"/>
<line x1="447.52" y1="13.1" x2="447.52" y2="15.1" stroke="#8a8a8a" stroke-width="0.6"/>
<line x1="476.83" y1="55.3" x2="476.83" y2="53.3" stroke="#8a8a8a" stroke-width="0.6"/>
<line x1="476.83" y1="13.1" x2="476.83" y2="15.1" stroke="#8a8a8a" stroke-width="0.6"/>
<line x1="506.13" y1="55.3" x2="506.13" y2="53.3" stroke="#8a8a8a" stroke-width="0.6"/>
<line x1="506.13" y1="13.1" x2="506.13" y2="15.1" stroke="#8a8a8a" stroke-width="0.6"/>
<line x1="535.44" y1="55.3" x2="535.44" y2="53.3" stroke="#8a8a8a" stroke-width="0.6"/>
<line x1="535.44" y1="13.1" x2="535.44" y2="15.1" stroke="#8a8a8a" stroke-width="0.6"/>
<line x1="330.3" y1="20.3" x2="332.3" y2="20.3" stroke="#8a8a8a" stroke-width="0.6"/>
<line x1="541.3" y1="20.3" x2="539.3" y2="20.3" stroke="#8a8a8a" stroke-width="0.6"/>
<line x1="330.3" y1="37.8" x2="332.3" y2="37.8" stroke="#8a8a8a" stroke-width="0.6"/>
<line x1="541.3" y1="37.8" x2="539.3" y2="37.8" stroke="#8a8a8a" stroke-width="0.6"/>
<line x1="330.3" y1="55.1" x2="332.3" y2="55.1" stroke="#8a8a8a" stroke-width="0.6"/>
<line x1="541.3" y1="55.1" x2="539.3" y2="55.1" stroke="#8a8a8a" stroke-width="0.6"/>
<text font-size="7.9" text-anchor="end" stroke="#1e1e1e" stroke-width="0.18" fill="#1e1e1e" transform="translate(327.7 24.2) scale(1 1.12)">1.6</text>
<text font-size="7.9" text-anchor="end" stroke="#1e1e1e" stroke-width="0.18" fill="#1e1e1e" transform="translate(327.7 41.7) scale(1 1.12)">1.4</text>
<text font-size="7.9" text-anchor="end" stroke="#1e1e1e" stroke-width="0.18" fill="#1e1e1e" transform="translate(327.7 59) scale(1 1.12)">1.2</text>
<text font-size="7.9" text-anchor="middle" stroke="#1e1e1e" stroke-width="0.18" fill="#1e1e1e" transform="translate(330.3 66.2) scale(1 1.12)">0</text>
<text font-size="7.9" text-anchor="middle" stroke="#1e1e1e" stroke-width="0.18" fill="#1e1e1e" transform="translate(359.61 66.2) scale(1 1.12)">100</text>
<text font-size="7.9" text-anchor="middle" stroke="#1e1e1e" stroke-width="0.18" fill="#1e1e1e" transform="translate(388.91 66.2) scale(1 1.12)">200</text>
<text font-size="7.9" text-anchor="middle" stroke="#1e1e1e" stroke-width="0.18" fill="#1e1e1e" transform="translate(418.22 66.2) scale(1 1.12)">300</text>
<text font-size="7.9" text-anchor="middle" stroke="#1e1e1e" stroke-width="0.18" fill="#1e1e1e" transform="translate(447.52 66.2) scale(1 1.12)">400</text>
<text font-size="7.9" text-anchor="middle" stroke="#1e1e1e" stroke-width="0.18" fill="#1e1e1e" transform="translate(476.83 66.2) scale(1 1.12)">500</text>
<text font-size="7.9" text-anchor="middle" stroke="#1e1e1e" stroke-width="0.18" fill="#1e1e1e" transform="translate(506.13 66.2) scale(1 1.12)">600</text>
<text font-size="7.9" text-anchor="middle" stroke="#1e1e1e" stroke-width="0.18" fill="#1e1e1e" transform="translate(535.44 66.2) scale(1 1.12)">700</text>
<text font-size="7.8" text-anchor="middle" font-weight="bold" fill="#000" transform="translate(435.8 10.2) scale(1 1.12)" stroke="#000" stroke-width="0.2">fmri voxel 95 155 113</text>
<g clip-path="url(#c11)">
<path d="M330.3,105.4 330.9,104.5 331.5,104.6 332.1,104.1 332.7,102.8 333.3,100.9 333.9,101.2 334.5,100.9 335.1,100.8 335.7,100.3 336.3,100.2 336.9,100.3 337.5,99.1 338.1,101.3 338.7,99.9 339.3,98.7 339.9,97.5 340.5,98.3 341.1,96.0 341.7,94.3 342.3,92.6 342.9,91.3 343.5,91.7 344.1,90.1 344.7,89.6 345.3,90.1 345.9,89.7 346.5,87.4 347.1,87.2 347.7,84.2 348.3,83.0 348.9,83.4 349.5,82.3 350.1,81.7 350.7,82.5 351.3,83.1 351.9,84.7 352.5,85.3 353.1,85.2 353.7,86.9 354.3,85.9 354.9,84.8 355.5,85.4 356.1,86.4 356.7,87.8 357.3,88.2 357.9,88.5 358.5,90.2 359.1,89.6 359.7,90.7 360.3,93.2 360.9,94.4 361.5,91.8 362.1,92.4 362.7,93.7 363.3,93.2 363.9,92.6 364.5,91.2 365.1,90.3 365.7,89.2 366.3,90.1 366.9,90.9 367.5,92.6 368.1,94.9 368.7,95.3 369.3,96.8 369.9,96.7 370.5,95.5 371.1,97.9 371.7,96.4 372.3,96.0 372.9,96.2 373.5,98.4 374.1,97.7 374.7,96.5 375.3,95.5 375.9,95.9 376.5,94.9 377.1,95.5 377.7,94.7 378.3,96.2 378.9,95.6 379.5,95.0 380.1,94.1 380.7,93.5 381.3,92.1 381.9,91.6 382.5,90.5 383.1,89.9 383.7,91.5 384.3,91.6 384.9,93.0 385.5,94.3 386.1,95.1 386.7,96.1 387.3,96.7 387.9,98.6 388.5,97.9 389.1,97.7 389.7,98.6 390.3,99.4 390.9,100.1 391.5,99.6 392.1,98.3 392.7,98.3 393.3,97.3 393.9,98.0 394.5,98.9 395.1,98.9 395.7,98.9 396.3,99.0 396.9,98.3 397.5,98.0 398.1,96.8 398.7,100.2 399.3,98.1 399.9,97.3 400.5,98.4 401.1,98.3 401.7,98.6 402.3,99.0 402.9,100.5 403.5,99.6 404.1,98.6 404.7,98.2 405.3,96.1 405.9,94.6 406.5,92.7 407.1,91.7 407.7,91.1 408.3,92.0 408.9,90.0 409.5,90.5 410.1,90.4 410.7,90.7 411.3,91.7 411.9,91.6 412.5,93.4 413.1,93.4 413.7,92.6 414.3,93.0 414.9,91.1 415.5,90.5 416.1,90.4 416.7,90.3 417.3,88.0 417.9,88.5 418.5,88.5 419.1,90.2 419.7,91.2 420.3,91.2 420.9,92.5 421.5,91.8 422.1,93.4 422.7,94.2 423.3,93.9 423.9,93.3 424.5,93.1 425.1,92.5 425.7,91.2 426.3,90.8 426.9,89.9 427.5,91.3 428.1,88.5 428.7,88.8 429.3,87.6 429.9,87.2 430.5,87.1 431.1,87.0 431.7,88.4 432.3,87.8 432.9,87.2 433.5,87.5 434.1,85.7 434.7,86.5 435.3,87.8 435.9,89.0 436.5,90.3 437.1,89.9 437.7,91.8 438.3,92.3 438.9,93.3 439.5,93.7 440.1,94.6 440.7,93.7 441.3,94.7 441.9,93.2 442.5,92.8 443.1,93.2 443.7,93.9 444.3,94.2 444.9,93.2 445.5,91.9 446.1,92.2 446.7,92.8 447.3,92.1 447.9,92.9 448.5,91.6 449.1,89.5 449.7,88.1 450.3,89.2 450.9,89.3 451.5,89.8 452.1,90.2 452.7,90.3 453.3,92.7 453.9,92.6 454.5,91.2 455.1,90.2 455.7,88.9 456.3,89.2 456.9,88.0 457.5,88.6 458.1,87.3 458.7,87.3 459.3,89.3 459.9,88.3 460.5,89.1 461.1,88.9 461.7,90.1 462.3,91.4 462.9,89.1 463.5,88.8 464.1,89.2 464.7,88.2 465.3,88.7 465.9,88.2 466.5,88.3 467.1,88.7 467.7,88.9 468.3,89.9 468.9,88.7 469.5,89.1 470.1,89.1 470.7,88.5 471.3,89.0 471.9,89.0 472.5,89.1 473.1,89.2 473.7,91.0 474.3,91.4 474.9,90.9 475.5,91.5 476.1,90.2 476.7,90.2 477.3,90.8 477.9,88.6 478.5,89.1 479.1,91.0 479.7,92.0 480.3,92.8 480.9,90.3 481.5,89.7 482.1,87.8 482.7,87.0 483.3,85.4 483.9,84.8 484.5,84.9 485.1,86.9 485.7,89.1 486.3,90.8 486.9,92.6 487.5,92.5 488.1,93.3 488.7,93.6 489.3,93.7 489.9,93.4 490.5,93.6 491.1,92.8 491.7,93.0 492.3,93.7 492.9,93.0 493.5,93.8 494.1,93.2 494.7,93.5 495.3,92.8 495.9,93.3 496.5,93.5 497.1,92.6 497.7,91.8 498.3,92.2 498.9,91.7 499.5,93.1 500.1,93.5 500.7,94.5 501.3,94.5 501.9,95.5 502.5,95.9 503.1,95.5 503.7,97.4 504.3,97.3 504.9,96.6 505.5,97.3 506.1,98.0 506.7,97.2 507.3,96.4 507.9,95.7 508.5,96.8 509.1,95.2 509.7,96.3 510.3,96.0 510.9,95.0 511.5,94.3 512.1,94.9 512.7,94.2 513.3,95.1 513.9,96.3 514.5,95.5 515.1,95.4 515.7,95.8 516.3,95.0 516.9,95.4 517.5,97.4 518.1,96.4 518.7,97.0 519.3,96.8 519.9,95.5 520.5,94.6 521.1,94.2 521.7,94.7 522.3,93.6 522.9,93.6 523.5,93.9 524.1,95.3 524.7,95.6 525.3,96.2 525.9,96.6 526.5,96.3 527.1,95.4 527.7,96.0 528.3,96.4 528.9,95.9 529.5,96.8 530.1,98.2 530.7,99.1 531.3,100.9 531.9,100.6 532.5,100.9 533.1,101.0 533.7,102.6 534.3,102.4 534.9,101.7 535.5,103.3 536.1,103.4 536.7,102.2 537.3,100.4 537.9,99.5 538.5,100.0 539.1,100.2 539.7,101.0 540.3,101.2 540.9,101.6 541.5,102.4 541.5,117.5 540.9,117.1 540.3,114.5 539.7,113.3 539.1,112.7 538.5,113.1 537.9,110.2 537.3,111.4 536.7,112.6 536.1,112.8 535.5,113.4 534.9,113.2 534.3,112.7 533.7,111.6 533.1,111.5 532.5,111.6 531.9,111.9 531.3,111.6 530.7,110.5 530.1,109.0 529.5,107.4 528.9,107.2 528.3,106.1 527.7,106.3 527.1,105.8 526.5,105.3 525.9,105.0 525.3,103.7 524.7,104.0 524.1,105.0 523.5,105.2 522.9,103.1 522.3,103.1 521.7,104.6 521.1,102.7 520.5,103.6 519.9,104.0 519.3,105.5 518.7,106.4 518.1,105.8 517.5,106.4 516.9,105.0 516.3,104.5 515.7,106.3 515.1,105.5 514.5,105.9 513.9,105.9 513.3,106.0 512.7,105.3 512.1,104.7 511.5,104.3 510.9,105.8 510.3,106.0 509.7,105.6 509.1,105.6 508.5,105.2 507.9,106.8 507.3,106.2 506.7,107.0 506.1,108.0 505.5,108.3 504.9,107.4 504.3,106.9 503.7,107.1 503.1,106.8 502.5,106.6 501.9,106.2 501.3,106.2 500.7,105.5 500.1,105.3 499.5,104.7 498.9,104.4 498.3,104.7 497.7,105.1 497.1,105.6 496.5,106.0 495.9,105.4 495.3,105.2 494.7,105.8 494.1,104.7 493.5,105.1 492.9,104.6 492.3,104.5 491.7,103.9 491.1,103.3 490.5,105.2 489.9,103.0 489.3,101.8 488.7,103.5 488.1,103.9 487.5,104.1 486.9,102.6 486.3,101.7 485.7,102.3 485.1,100.1 484.5,100.1 483.9,100.6 483.3,100.8 482.7,100.9 482.1,102.5 481.5,103.5 480.9,103.4 480.3,101.8 479.7,101.9 479.1,101.3 478.5,102.2 477.9,102.3 477.3,102.0 476.7,102.0 476.1,102.7 475.5,102.3 474.9,102.7 474.3,102.4 473.7,100.5 473.1,100.4 472.5,101.0 471.9,101.3 471.3,102.4 470.7,101.3 470.1,100.9 469.5,102.5 468.9,102.1 468.3,100.8 467.7,100.7 467.1,100.3 466.5,99.9 465.9,99.2 465.3,100.6 464.7,99.4 464.1,100.3 463.5,101.0 462.9,100.3 462.3,101.4 461.7,101.2 461.1,100.8 460.5,99.1 459.9,98.4 459.3,99.7 458.7,101.1 458.1,101.4 457.5,100.2 456.9,99.7 456.3,102.1 455.7,100.8 455.1,102.4 454.5,102.1 453.9,102.9 453.3,103.6 452.7,103.4 452.1,103.0 451.5,104.4 450.9,104.2 450.3,104.4 449.7,102.9 449.1,103.4 448.5,102.4 447.9,104.2 447.3,104.3 446.7,103.7 446.1,103.4 445.5,102.4 444.9,102.9 444.3,103.1 443.7,104.7 443.1,102.7 442.5,102.9 441.9,104.9 441.3,104.2 440.7,105.1 440.1,105.3 439.5,105.4 438.9,104.6 438.3,103.8 437.7,103.1 437.1,103.6 436.5,101.9 435.9,102.3 435.3,103.3 434.7,102.6 434.1,103.2 433.5,102.6 432.9,103.1 432.3,102.6 431.7,102.7 431.1,100.9 430.5,100.4 429.9,101.6 429.3,103.5 428.7,104.0 428.1,103.3 427.5,101.7 426.9,102.9 426.3,102.4 425.7,103.7 425.1,102.9 424.5,103.5 423.9,104.8 423.3,103.7 422.7,103.5 422.1,104.7 421.5,103.7 420.9,103.2 420.3,103.1 419.7,103.9 419.1,101.8 418.5,102.5 417.9,102.7 417.3,102.6 416.7,103.3 416.1,103.2 415.5,105.5 414.9,103.8 414.3,104.5 413.7,105.4 413.1,105.4 412.5,105.6 411.9,104.7 411.3,104.9 410.7,102.5 410.1,103.6 409.5,105.9 408.9,104.8 408.3,106.9 407.7,105.6 407.1,105.7 406.5,108.6 405.9,109.0 405.3,110.3 404.7,111.4 404.1,111.3 403.5,111.1 402.9,109.3 402.3,109.2 401.7,108.0 401.1,107.4 400.5,107.9 399.9,108.3 399.3,108.3 398.7,109.3 398.1,110.8 397.5,110.6 396.9,110.2 396.3,111.5 395.7,112.1 395.1,111.0 394.5,111.4 393.9,112.7 393.3,111.3 392.7,110.6 392.1,112.9 391.5,112.8 390.9,113.6 390.3,113.6 389.7,114.2 389.1,112.0 388.5,111.8 387.9,109.8 387.3,110.5 386.7,109.9 386.1,109.1 385.5,107.3 384.9,106.2 384.3,104.7 383.7,105.1 383.1,103.3 382.5,103.7 381.9,105.2 381.3,104.7 380.7,104.7 380.1,105.9 379.5,107.0 378.9,105.4 378.3,106.7 377.7,106.9 377.1,105.0 376.5,106.0 375.9,107.1 375.3,108.0 374.7,107.6 374.1,108.4 373.5,108.0 372.9,107.9 372.3,108.5 371.7,109.3 371.1,108.8 370.5,108.1 369.9,108.1 369.3,108.7 368.7,106.9 368.1,106.3 367.5,106.1 366.9,107.0 366.3,106.7 365.7,105.1 365.1,106.0 364.5,104.7 363.9,104.3 363.3,104.3 362.7,104.2 362.1,105.1 361.5,105.5 360.9,105.0 360.3,105.2 359.7,104.0 359.1,102.9 358.5,102.2 357.9,101.3 357.3,101.6 356.7,99.3 356.1,100.3 355.5,99.4 354.9,100.0 354.3,99.3 353.7,97.3 353.1,96.9 352.5,95.2 351.9,95.6 351.3,94.8 350.7,94.1 350.1,95.5 349.5,96.8 348.9,96.7 348.3,98.3 347.7,100.3 347.1,101.5 346.5,102.7 345.9,102.6 345.3,102.8 344.7,102.7 344.1,103.1 343.5,102.4 342.9,104.5 342.3,105.1 341.7,105.8 341.1,107.6 340.5,109.0 339.9,109.6 339.3,110.3 338.7,113.3 338.1,113.2 337.5,111.6 336.9,112.2 336.3,112.9 335.7,112.6 335.1,116.0 334.5,116.3 333.9,115.9 333.3,116.3 332.7,117.0 332.1,117.4 331.5,117.5 330.9,119.7 330.3,120.1Z" fill="#00ffff" fill-opacity="0.6"/>
<path d="M330.3,107.4 330.9,105.7 331.5,103.6 332.1,104.4 332.7,101.2 333.3,103.3 333.9,103.0 334.5,101.1 335.1,101.0 335.7,100.1 336.3,98.7 336.9,100.0 337.5,99.2 338.1,98.6 338.7,99.8 339.3,97.7 339.9,97.5 340.5,97.2 341.1,96.0 341.7,96.0 342.3,94.6 342.9,91.2 343.5,90.1 344.1,91.1 344.7,89.4 345.3,89.3 345.9,89.0 346.5,87.3 347.1,87.4 347.7,85.6 348.3,82.5 348.9,82.4 349.5,81.6 350.1,81.9 350.7,81.4 351.3,82.5 351.9,84.0 352.5,83.4 353.1,84.5 353.7,84.8 354.3,86.2 354.9,85.8 355.5,86.2 356.1,86.7 356.7,86.1 357.3,87.2 357.9,87.8 358.5,88.8 359.1,91.6 359.7,91.8 360.3,91.8 360.9,92.0 361.5,91.9 362.1,92.7 362.7,92.8 363.3,92.9 363.9,92.9 364.5,91.3 365.1,92.0 365.7,91.5 366.3,90.0 366.9,90.9 367.5,92.5 368.1,95.2 368.7,95.3 369.3,97.1 369.9,97.6 370.5,97.6 371.1,96.7 371.7,96.1 372.3,96.0 372.9,96.4 373.5,95.9 374.1,95.5 374.7,95.8 375.3,95.9 375.9,95.7 376.5,94.0 377.1,93.4 377.7,94.7 378.3,94.7 378.9,95.8 379.5,95.4 380.1,94.7 380.7,93.0 381.3,92.4 381.9,92.3 382.5,90.5 383.1,90.8 383.7,91.6 384.3,92.6 384.9,93.1 385.5,93.6 386.1,94.9 386.7,97.7 387.3,97.8 387.9,97.5 388.5,98.7 389.1,98.5 389.7,98.7 390.3,98.5 390.9,101.4 391.5,98.5 392.1,99.3 392.7,98.3 393.3,96.8 393.9,99.8 394.5,98.1 395.1,98.6 395.7,98.4 396.3,98.2 396.9,98.7 397.5,98.9 398.1,97.4 398.7,97.3 399.3,97.1 399.9,98.6 400.5,98.5 401.1,98.0 401.7,99.2 402.3,99.5 402.9,99.3 403.5,101.3 404.1,99.4 404.7,97.3 405.3,96.3 405.9,94.3 406.5,92.6 407.1,92.1 407.7,90.5 408.3,93.1 408.9,90.8 409.5,90.7 410.1,90.3 410.7,91.9 411.3,92.6 411.9,92.9 412.5,92.1 413.1,92.1 413.7,91.9 414.3,91.7 414.9,91.2 415.5,90.7 416.1,89.7 416.7,89.3 417.3,87.5 417.9,89.4 418.5,89.4 419.1,89.6 419.7,91.4 420.3,91.6 420.9,91.5 421.5,91.6 422.1,92.8 422.7,94.5 423.3,93.3 423.9,93.3 424.5,92.0 425.1,91.2 425.7,90.9 426.3,90.2 426.9,89.8 427.5,90.8 428.1,88.7 428.7,89.0 429.3,87.7 429.9,88.4 430.5,87.9 431.1,86.8 431.7,87.4 432.3,87.4 432.9,87.7 433.5,87.7 434.1,87.6 434.7,88.8 435.3,87.7 435.9,88.2 436.5,89.5 437.1,91.6 437.7,93.2 438.3,93.7 438.9,94.5 439.5,94.0 440.1,94.5 440.7,94.8 441.3,93.3 441.9,93.5 442.5,91.6 443.1,92.8 443.7,92.4 444.3,92.9 444.9,93.2 445.5,92.1 446.1,92.5 446.7,92.4 447.3,91.8 447.9,92.1 448.5,90.2 449.1,88.8 449.7,88.7 450.3,87.6 450.9,87.9 451.5,89.5 452.1,90.9 452.7,90.5 453.3,90.7 453.9,90.0 454.5,89.4 455.1,89.8 455.7,90.6 456.3,88.8 456.9,88.8 457.5,87.5 458.1,86.5 458.7,86.6 459.3,87.4 459.9,87.4 460.5,88.9 461.1,88.6 461.7,90.3 462.3,91.3 462.9,90.2 463.5,90.2 464.1,88.4 464.7,89.1 465.3,88.5 465.9,88.7 466.5,88.6 467.1,88.1 467.7,89.3 468.3,88.1 468.9,88.2 469.5,89.4 470.1,88.6 470.7,89.5 471.3,88.6 471.9,88.9 472.5,89.1 473.1,91.1 473.7,91.1 474.3,92.0 474.9,91.7 475.5,91.6 476.1,91.1 476.7,91.3 477.3,91.0 477.9,88.4 478.5,89.7 479.1,90.5 479.7,91.4 480.3,92.6 480.9,91.2 481.5,90.0 482.1,89.5 482.7,88.1 483.3,85.2 483.9,84.9 484.5,84.3 485.1,85.6 485.7,87.8 486.3,91.0 486.9,91.5 487.5,92.0 488.1,92.4 488.7,94.1 489.3,92.7 489.9,92.8 490.5,92.9 491.1,92.3 491.7,91.8 492.3,91.8 492.9,92.0 493.5,91.7 494.1,92.5 494.7,92.8 495.3,92.6 495.9,93.3 496.5,93.7 497.1,92.4 497.7,90.4 498.3,90.7 498.9,91.7 499.5,92.1 500.1,93.8 500.7,94.5 501.3,93.3 501.9,94.9 502.5,96.0 503.1,96.7 503.7,95.8 504.3,97.6 504.9,96.1 505.5,97.0 506.1,98.2 506.7,96.7 507.3,96.7 507.9,96.3 508.5,96.8 509.1,95.7 509.7,96.9 510.3,95.5 510.9,93.9 511.5,93.1 512.1,93.8 512.7,93.9 513.3,95.2 513.9,94.7 514.5,94.9 515.1,96.9 515.7,95.2 516.3,97.2 516.9,96.5 517.5,96.9 518.1,95.8 518.7,96.4 519.3,95.4 519.9,95.6 520.5,95.6 521.1,93.6 521.7,93.9 522.3,93.1 522.9,93.8 523.5,93.7 524.1,94.3 524.7,94.5 525.3,95.5 525.9,96.6 526.5,95.2 527.1,95.8 527.7,95.8 528.3,95.8 528.9,96.8 529.5,98.5 530.1,97.7 530.7,99.7 531.3,101.2 531.9,101.6 532.5,102.5 533.1,101.3 533.7,102.3 534.3,103.6 534.9,102.8 535.5,102.1 536.1,102.1 536.7,103.1 537.3,102.5 537.9,100.3 538.5,99.5 539.1,100.0 539.7,100.4 540.3,99.9 540.9,100.4 541.5,101.9 541.5,117.0 540.9,116.1 540.3,114.5 539.7,113.1 539.1,113.2 538.5,113.4 537.9,111.8 537.3,113.9 536.7,114.4 536.1,114.6 535.5,114.0 534.9,112.8 534.3,113.1 533.7,113.1 533.1,112.7 532.5,112.2 531.9,109.4 531.3,111.4 530.7,110.1 530.1,109.3 529.5,106.7 528.9,107.4 528.3,105.8 527.7,106.3 527.1,105.3 526.5,105.5 525.9,106.0 525.3,104.8 524.7,104.6 524.1,104.1 523.5,103.8 522.9,103.1 522.3,103.3 521.7,103.4 521.1,104.1 520.5,104.7 519.9,103.7 519.3,105.0 518.7,104.8 518.1,105.5 517.5,106.7 516.9,106.2 516.3,105.3 515.7,106.3 515.1,106.2 514.5,105.7 513.9,106.5 513.3,106.2 512.7,106.5 512.1,106.0 511.5,104.5 510.9,105.6 510.3,107.0 509.7,106.2 509.1,106.7 508.5,107.5 507.9,107.1 507.3,108.0 506.7,107.7 506.1,107.1 505.5,108.4 504.9,107.8 504.3,106.8 503.7,105.7 503.1,107.1 502.5,107.4 501.9,106.3 501.3,105.8 500.7,105.3 500.1,105.4 499.5,105.7 498.9,104.6 498.3,104.7 497.7,103.4 497.1,103.7 496.5,104.7 495.9,105.6 495.3,106.1 494.7,104.8 494.1,104.3 493.5,105.4 492.9,105.3 492.3,105.4 491.7,105.2 491.1,103.5 490.5,104.8 489.9,104.3 489.3,104.6 488.7,104.5 488.1,104.5 487.5,102.7 486.9,102.9 486.3,102.9 485.7,101.8 485.1,99.8 484.5,98.3 483.9,100.3 483.3,100.3 482.7,99.8 482.1,103.0 481.5,102.8 480.9,103.6 480.3,103.0 479.7,101.8 479.1,102.8 478.5,101.9 477.9,102.2 477.3,100.6 476.7,103.1 476.1,103.2 475.5,103.4 474.9,102.9 474.3,101.8 473.7,101.6 473.1,100.9 472.5,101.2 471.9,102.2 471.3,100.7 470.7,101.8 470.1,102.1 469.5,102.5 468.9,102.0 468.3,100.8 467.7,101.5 467.1,101.2 466.5,98.6 465.9,99.7 465.3,100.9 464.7,100.9 464.1,100.9 463.5,101.3 462.9,101.6 462.3,101.4 461.7,102.4 461.1,100.1 460.5,99.8 459.9,100.5 459.3,99.4 458.7,98.5 458.1,99.6 457.5,99.8 456.9,99.7 456.3,99.7 455.7,100.9 455.1,101.9 454.5,101.5 453.9,103.1 453.3,103.3 452.7,104.5 452.1,103.5 451.5,103.1 450.9,103.1 450.3,102.1 449.7,102.5 449.1,102.9 448.5,103.2 447.9,103.1 447.3,104.1 446.7,103.1 446.1,103.5 445.5,103.2 444.9,103.7 444.3,102.8 443.7,103.8 443.1,103.7 442.5,103.3 441.9,104.4 441.3,102.6 440.7,104.5 440.1,105.3 439.5,103.4 438.9,103.3 438.3,102.7 437.7,104.5 437.1,103.0 436.5,103.6 435.9,102.3 435.3,100.9 434.7,102.9 434.1,100.5 433.5,101.5 432.9,102.8 432.3,102.7 431.7,101.6 431.1,101.1 430.5,101.1 429.9,102.4 429.3,103.6 428.7,104.1 428.1,104.1 427.5,103.5 426.9,102.0 426.3,102.0 425.7,102.7 425.1,103.1 424.5,103.7 423.9,103.1 423.3,102.9 422.7,105.2 422.1,103.7 421.5,103.7 420.9,103.1 420.3,103.0 419.7,103.4 419.1,103.5 418.5,102.8 417.9,103.3 417.3,103.5 416.7,103.9 416.1,102.9 415.5,104.5 414.9,105.6 414.3,104.9 413.7,104.5 413.1,105.4 412.5,105.1 411.9,104.3 411.3,103.9 410.7,102.4 410.1,104.7 409.5,105.2 408.9,105.8 408.3,106.7 407.7,106.4 407.1,107.6 406.5,106.8 405.9,108.6 405.3,110.4 404.7,111.6 404.1,111.4 403.5,110.5 402.9,109.9 402.3,109.0 401.7,107.8 401.1,106.9 400.5,107.7 399.9,108.4 399.3,108.3 398.7,108.6 398.1,110.0 397.5,111.8 396.9,110.9 396.3,112.2 395.7,111.5 395.1,112.4 394.5,111.9 393.9,110.7 393.3,110.6 392.7,112.8 392.1,113.6 391.5,115.2 390.9,115.3 390.3,114.9 389.7,113.8 389.1,111.6 388.5,112.1 387.9,110.4 387.3,108.4 386.7,108.6 386.1,107.3 385.5,108.0 384.9,107.6 384.3,104.2 383.7,104.6 383.1,103.6 382.5,103.3 381.9,104.9 381.3,105.0 380.7,106.3 380.1,105.5 379.5,105.6 378.9,107.1 378.3,106.6 377.7,106.9 377.1,106.2 376.5,106.7 375.9,107.2 375.3,107.0 374.7,107.1 374.1,107.5 373.5,108.0 372.9,107.1 372.3,107.2 371.7,108.4 371.1,107.2 370.5,106.4 369.9,107.4 369.3,107.2 368.7,106.7 368.1,108.1 367.5,107.3 366.9,106.1 366.3,106.1 365.7,104.6 365.1,105.6 364.5,106.1 363.9,104.5 363.3,105.0 362.7,104.0 362.1,104.7 361.5,104.4 360.9,104.8 360.3,103.7 359.7,103.0 359.1,104.4 358.5,101.1 357.9,100.7 357.3,101.0 356.7,99.5 356.1,100.1 355.5,99.2 354.9,100.2 354.3,99.2 353.7,98.2 353.1,96.4 352.5,95.1 351.9,95.7 351.3,94.4 350.7,94.7 350.1,94.9 349.5,97.1 348.9,96.6 348.3,98.5 347.7,99.8 347.1,98.5 346.5,102.9 345.9,103.3 345.3,103.7 344.7,104.4 344.1,103.4 343.5,103.1 342.9,105.2 342.3,106.2 341.7,107.4 341.1,107.1 340.5,109.8 339.9,109.4 339.3,109.4 338.7,112.5 338.1,112.0 337.5,112.4 336.9,113.4 336.3,112.7 335.7,112.4 335.1,115.0 334.5,114.9 333.9,116.7 333.3,115.1 332.7,116.2 332.1,116.2 331.5,116.5 330.9,118.2 330.3,119.6Z" fill="#00ffff" fill-opacity="0.6"/>
<path d="M330.3,106.2 330.9,105.7 331.5,103.0 332.1,104.6 332.7,102.6 333.3,101.6 333.9,100.7 334.5,102.0 335.1,103.2 335.7,102.0 336.3,98.9 336.9,99.9 337.5,98.9 338.1,100.2 338.7,100.1 339.3,99.6 339.9,99.3 340.5,98.0 341.1,96.0 341.7,94.1 342.3,93.3 342.9,93.1 343.5,92.0 344.1,89.4 344.7,90.5 345.3,89.0 345.9,87.9 346.5,87.6 347.1,87.5 347.7,86.4 348.3,83.8 348.9,81.6 349.5,81.8 350.1,82.9 350.7,82.9 351.3,82.8 351.9,83.0 352.5,84.0 353.1,84.1 353.7,84.4 354.3,85.2 354.9,83.9 355.5,85.5 356.1,85.5 356.7,88.2 357.3,89.9 357.9,90.6 358.5,89.6 359.1,92.2 359.7,92.3 360.3,92.3 360.9,93.1 361.5,91.9 362.1,91.9 362.7,94.7 363.3,93.8 363.9,92.9 364.5,93.0 365.1,91.2 365.7,89.1 366.3,90.7 366.9,93.2 367.5,94.8 368.1,95.0 368.7,96.3 369.3,95.9 369.9,97.1 370.5,97.2 371.1,97.0 371.7,97.9 372.3,97.5 372.9,98.3 373.5,97.8 374.1,97.1 374.7,96.3 375.3,96.1 375.9,95.1 376.5,95.4 377.1,96.1 377.7,95.7 378.3,95.7 378.9,94.3 379.5,94.4 380.1,95.2 380.7,94.4 381.3,94.0 381.9,91.2 382.5,91.1 383.1,91.6 383.7,91.3 384.3,93.5 384.9,94.0 385.5,95.0 386.1,94.6 386.7,96.3 387.3,96.2 387.9,97.3 388.5,98.0 389.1,98.0 389.7,99.7 390.3,99.1 390.9,100.3 391.5,98.1 392.1,96.9 392.7,97.3 393.3,97.3 393.9,97.5 394.5,99.0 395.1,98.7 395.7,98.8 396.3,98.7 396.9,99.6 397.5,99.5 398.1,98.3 398.7,97.1 399.3,98.5 399.9,97.9 400.5,97.7 401.1,98.3 401.7,98.0 402.3,98.6 402.9,99.6 403.5,99.9 404.1,99.1 404.7,97.6 405.3,95.8 405.9,93.7 406.5,93.0 407.1,91.6 407.7,92.7 408.3,91.2 408.9,90.4 409.5,91.2 410.1,91.8 410.7,90.9 411.3,92.5 411.9,92.6 412.5,93.7 413.1,94.0 413.7,92.4 414.3,92.1 414.9,91.9 415.5,91.7 416.1,91.6 416.7,89.9 417.3,89.3 417.9,88.1 418.5,89.2 419.1,90.3 419.7,92.0 420.3,92.3 420.9,92.1 421.5,92.8 422.1,94.5 422.7,94.9 423.3,93.1 423.9,92.4 424.5,92.8 425.1,91.9 425.7,91.8 426.3,91.4 426.9,90.7 427.5,89.3 428.1,89.5 428.7,88.3 429.3,88.6 429.9,87.6 430.5,87.6 431.1,86.8 431.7,88.5 432.3,86.7 432.9,86.6 433.5,86.8 434.1,88.4 434.7,87.9 435.3,87.0 435.9,87.6 436.5,90.4 437.1,92.1 437.7,92.7 438.3,93.9 438.9,93.4 439.5,95.1 440.1,94.9 440.7,94.5 441.3,93.3 441.9,92.9 442.5,92.8 443.1,94.4 443.7,93.9 444.3,92.5 444.9,93.1 445.5,92.1 446.1,92.6 446.7,91.9 447.3,92.8 447.9,91.0 448.5,91.7 449.1,90.4 449.7,89.0 450.3,88.4 450.9,88.4 451.5,89.1 452.1,90.4 452.7,92.1 453.3,93.5 453.9,92.9 454.5,91.3 455.1,89.4 455.7,90.7 456.3,89.8 456.9,90.2 457.5,88.1 458.1,87.2 458.7,87.0 459.3,87.5 459.9,87.0 460.5,89.3 461.1,89.3 461.7,90.6 462.3,91.4 462.9,91.5 463.5,90.5 464.1,88.7 464.7,88.0 465.3,88.7 465.9,88.5 466.5,89.2 467.1,88.9 467.7,89.2 468.3,89.6 468.9,90.1 469.5,89.9 470.1,89.9 470.7,88.4 471.3,89.1 471.9,90.7 472.5,89.5 473.1,90.6 473.7,90.7 474.3,90.8 474.9,91.5 475.5,90.9 476.1,90.8 476.7,90.0 477.3,88.7 477.9,88.6 478.5,91.2 479.1,92.8 479.7,92.8 480.3,91.6 480.9,90.8 481.5,89.3 482.1,87.7 482.7,87.5 483.3,83.7 483.9,83.4 484.5,84.2 485.1,85.8 485.7,87.9 486.3,90.0 486.9,91.0 487.5,93.5 488.1,93.5 488.7,93.1 489.3,93.7 489.9,94.5 490.5,92.8 491.1,92.5 491.7,91.8 492.3,91.5 492.9,94.2 493.5,93.2 494.1,94.0 494.7,93.9 495.3,93.3 495.9,94.2 496.5,93.4 497.1,92.5 497.7,92.2 498.3,91.6 498.9,92.4 499.5,91.5 500.1,92.2 500.7,94.3 501.3,93.4 501.9,95.1 502.5,95.2 503.1,96.3 503.7,96.8 504.3,96.8 504.9,98.6 505.5,97.3 506.1,98.0 506.7,96.7 507.3,96.6 507.9,96.2 508.5,95.9 509.1,95.0 509.7,95.5 510.3,95.5 510.9,93.6 511.5,93.4 512.1,94.3 512.7,95.0 513.3,93.8 513.9,95.2 514.5,95.8 515.1,95.7 515.7,96.9 516.3,95.0 516.9,95.8 517.5,96.3 518.1,95.5 518.7,96.3 519.3,95.6 519.9,95.1 520.5,94.8 521.1,93.7 521.7,94.4 522.3,94.1 522.9,94.6 523.5,94.0 524.1,94.0 524.7,95.4 525.3,95.8 525.9,95.3 526.5,96.4 527.1,95.8 527.7,95.5 528.3,96.3 528.9,97.2 529.5,97.2 530.1,98.2 530.7,99.4 531.3,100.9 531.9,101.5 532.5,101.7 533.1,101.2 533.7,102.3 534.3,102.9 534.9,103.4 535.5,103.4 536.1,102.2 536.7,102.1 537.3,100.5 537.9,99.8 538.5,100.7 539.1,102.0 539.7,100.4 540.3,99.8 540.9,100.5 541.5,100.5 541.5,116.9 540.9,116.8 540.3,114.6 539.7,114.1 539.1,112.5 538.5,113.5 537.9,112.0 537.3,112.6 536.7,111.4 536.1,113.4 535.5,113.4 534.9,112.6 534.3,113.3 533.7,112.6 533.1,113.0 532.5,112.5 531.9,111.7 531.3,110.5 530.7,109.2 530.1,108.1 529.5,106.6 528.9,107.6 528.3,107.1 527.7,106.2 527.1,105.7 526.5,104.1 525.9,104.6 525.3,105.4 524.7,104.3 524.1,104.7 523.5,103.7 522.9,103.9 522.3,103.7 521.7,104.3 521.1,104.2 520.5,104.7 519.9,105.3 519.3,105.2 518.7,104.5 518.1,106.1 517.5,106.8 516.9,104.8 516.3,106.5 515.7,105.8 515.1,105.4 514.5,105.4 513.9,105.9 513.3,105.8 512.7,104.8 512.1,105.5 511.5,105.4 510.9,106.3 510.3,106.4 509.7,106.6 509.1,106.2 508.5,107.1 507.9,106.1 507.3,107.3 506.7,107.0 506.1,106.8 505.5,107.8 504.9,107.7 504.3,106.6 503.7,106.5 503.1,107.0 502.5,107.2 501.9,105.6 501.3,104.0 500.7,104.8 500.1,105.7 499.5,104.2 498.9,103.8 498.3,103.2 497.7,103.0 497.1,105.3 496.5,105.3 495.9,105.4 495.3,106.1 494.7,105.0 494.1,105.9 493.5,105.1 492.9,104.4 492.3,104.3 491.7,103.2 491.1,104.5 490.5,102.1 489.9,104.3 489.3,104.1 488.7,105.2 488.1,104.3 487.5,104.3 486.9,103.7 486.3,101.8 485.7,101.0 485.1,100.6 484.5,99.0 483.9,98.8 483.3,102.2 482.7,100.6 482.1,102.8 481.5,102.2 480.9,103.6 480.3,103.5 479.7,103.0 479.1,101.4 478.5,100.5 477.9,100.2 477.3,101.6 476.7,102.8 476.1,102.8 475.5,102.3 474.9,101.3 474.3,99.8 473.7,102.3 473.1,101.2 472.5,101.4 471.9,101.8 471.3,102.6 470.7,100.2 470.1,101.4 469.5,100.2 468.9,100.8 468.3,102.5 467.7,99.8 467.1,100.5 466.5,98.2 465.9,100.1 465.3,100.0 464.7,99.3 464.1,99.7 463.5,101.2 462.9,101.9 462.3,100.7 461.7,101.7 461.1,101.3 460.5,100.3 459.9,100.9 459.3,100.7 458.7,99.9 458.1,100.1 457.5,100.9 456.9,100.9 456.3,100.0 455.7,99.6 455.1,101.3 454.5,101.7 453.9,103.4 453.3,103.8 452.7,103.6 452.1,104.1 451.5,104.6 450.9,104.2 450.3,102.5 449.7,102.0 449.1,102.8 448.5,103.9 447.9,101.7 447.3,102.9 446.7,102.8 446.1,103.3 445.5,103.1 444.9,104.0 444.3,103.1 443.7,104.0 443.1,103.5 442.5,104.8 441.9,104.8 441.3,104.4 440.7,105.0 440.1,104.9 439.5,103.8 438.9,104.5 438.3,104.5 437.7,104.4 437.1,104.4 436.5,103.3 435.9,102.3 435.3,100.3 434.7,102.2 434.1,101.3 433.5,101.4 432.9,102.4 432.3,102.3 431.7,101.9 431.1,101.4 430.5,100.5 429.9,101.2 429.3,103.7 428.7,102.2 428.1,102.0 427.5,103.1 426.9,102.4 426.3,102.2 425.7,102.8 425.1,104.0 424.5,102.8 423.9,104.5 423.3,103.8 422.7,104.8 422.1,103.3 421.5,104.6 420.9,104.4 420.3,103.7 419.7,102.6 419.1,103.9 418.5,101.8 417.9,103.1 417.3,103.6 416.7,102.5 416.1,103.4 415.5,104.6 414.9,104.4 414.3,105.2 413.7,105.5 413.1,103.5 412.5,105.6 411.9,104.7 411.3,105.3 410.7,103.6 410.1,105.3 409.5,105.1 408.9,105.9 408.3,107.1 407.7,104.9 407.1,107.2 406.5,107.8 405.9,107.8 405.3,107.8 404.7,108.8 404.1,111.3 403.5,110.3 402.9,109.3 402.3,107.9 401.7,108.1 401.1,106.7 400.5,106.4 399.9,107.8 399.3,108.4 398.7,109.6 398.1,110.4 397.5,109.6 396.9,111.1 396.3,112.3 395.7,112.5 395.1,112.8 394.5,111.9 393.9,111.3 393.3,111.2 392.7,112.2 392.1,114.2 391.5,114.1 390.9,114.4 390.3,114.0 389.7,114.2 389.1,112.8 388.5,111.3 387.9,110.8 387.3,109.4 386.7,108.1 386.1,106.3 385.5,105.7 384.9,106.7 384.3,104.8 383.7,103.7 383.1,103.2 382.5,102.5 381.9,103.9 381.3,105.3 380.7,106.1 380.1,105.5 379.5,106.7 378.9,106.7 378.3,106.2 377.7,106.8 377.1,105.5 376.5,106.3 375.9,104.8 375.3,106.3 374.7,107.2 374.1,108.5 373.5,108.8 372.9,108.5 372.3,108.4 371.7,107.9 371.1,107.8 370.5,107.3 369.9,106.7 369.3,108.7 368.7,108.3 368.1,107.8 367.5,105.6 366.9,106.5 366.3,106.4 365.7,104.0 365.1,105.8 364.5,104.2 363.9,104.3 363.3,104.6 362.7,104.9 362.1,103.3 361.5,104.1 360.9,105.1 360.3,105.1 359.7,104.7 359.1,104.3 358.5,103.1 357.9,101.2 357.3,100.0 356.7,100.7 356.1,100.8 355.5,98.8 354.9,99.2 354.3,98.8 353.7,97.8 353.1,97.1 352.5,95.1 351.9,94.2 351.3,93.9 350.7,93.2 350.1,94.5 349.5,96.7 348.9,95.6 348.3,98.7 347.7,99.0 347.1,101.8 346.5,102.5 345.9,103.2 345.3,102.6 344.7,102.0 344.1,102.6 343.5,103.2 342.9,104.9 342.3,106.1 341.7,107.6 341.1,107.6 340.5,109.6 339.9,110.3 339.3,111.5 338.7,111.3 338.1,112.4 337.5,111.2 336.9,111.5 336.3,113.8 335.7,114.5 335.1,113.5 334.5,116.0 333.9,114.9 333.3,116.1 332.7,115.7 332.1,117.9 331.5,118.4 330.9,120.4 330.3,120.6Z" fill="#00ffff" fill-opacity="0.6"/>
<path d="M330,101.56 L330.5,100.69 L331,100.23 L331.5,99.13 L332,99.77 L332.5,99.21 L333,99.32 L333.5,99.12 L334,100.27 L334.5,99.55 L335,99.57 L335.5,99.81 L336,98.75 L336.5,98.77 L337,99.09 L337.5,98.35 L338,97.74 L338.5,98.32 L339,98.5 L339.5,97.97 L340,98.22 L340.5,97.47 L341,96.94 L341.5,97.53 L342,98.08 L342.5,98.3 L343,98.66 L343.5,98.92 L344,99.15 L344.5,98.54 L345,98.85 L345.5,98.82 L346,99.22 L346.5,99.52 L347,99.9 L347.5,99.41 L348,98.98 L348.5,98.72 L349,98.54 L349.5,97.93 L350,97.21 L350.5,97.32 L351,95.57 L351.5,95.89 L352,96.17 L352.5,96.83 L353,97.64 L353.5,98.89 L354,98.13 L354.5,99.04 L355,99.48 L355.5,99.98 L356,99.29 L356.5,100.75 L357,100.29 L357.5,101.38 L358,100.67 L358.5,100.77 L359,100.58 L359.5,100.61 L360,100.82 L360.5,100.22 L361,99.71 L361.5,99.08 L362,98.68 L362.5,99.45 L363,99.88 L363.5,98.94 L364,99.14 L364.5,98.4 L365,98.5 L365.5,97.87 L366,98.72 L366.5,97.92 L367,98.6 L367.5,99.08 L368,98.75 L368.5,98.33 L369,98.75 L369.5,97.63 L370,98.48 L370.5,98.89 L371,99.41 L371.5,100.13 L372,99.41 L372.5,98.86 L373,98.41 L373.5,98.15 L374,98.82 L374.5,98.9 L375,99.58 L375.5,100.09 L376,100.53 L376.5,99.77 L377,99.08 L377.5,99.3 L378,98.43 L378.5,99.16 L379,99.46 L379.5,100.17 L380,99.95 L380.5,98.7 L381,98.62 L381.5,97.4 L382,97.37 L382.5,97.19 L383,97.29 L383.5,97.91 L384,97.36 L384.5,97.84 L385,97.49 L385.5,97.48 L386,98.49 L386.5,98.61 L387,99.31 L387.5,99.14 L388,99.46 L388.5,101.42 L389,101.33 L389.5,101.92 L390,102.91 L390.5,102.72 L391,101.23 L391.5,100.74 L392,100.09 L392.5,99.62 L393,98.97 L393.5,97.74 L394,97.37 L394.5,97.3 L395,97.73 L395.5,97.32 L396,97.91 L396.5,98.35 L397,97.99 L397.5,98.87 L398,98.55 L398.5,98.82 L399,98.56 L399.5,97.73 L400,97.73 L400.5,97.94 L401,98.2 L401.5,98.27 L402,98.61 L402.5,98.78 L403,99.78 L403.5,100.2 L404,100.85 L404.5,101.7 L405,99.88 L405.5,100.1 L406,99.85 L406.5,99.07 L407,99.62 L407.5,99.26 L408,100.24 L408.5,98.98 L409,98.59 L409.5,98.52 L410,98.35 L410.5,98.18 L411,98.52 L411.5,98.58 L412,98.39 L412.5,98.1 L413,98.19 L413.5,97.63 L414,97.5 L414.5,97.92 L415,97.54 L415.5,97.39 L416,97.19 L416.5,97.42 L417,96.57 L417.5,97.12 L418,96.54 L418.5,97.51 L419,97.61 L419.5,97.84 L420,97.73 L420.5,98.26 L421,98.9 L421.5,99.5 L422,99.41 L422.5,99.84 L423,100.42 L423.5,100.71 L424,100.55 L424.5,101.12 L425,101.95 L425.5,101.47 L426,99.84 L426.5,100.43 L427,100.11 L427.5,99.66 L428,99.06 L428.5,98.79 L429,98.99 L429.5,98.5 L430,98.7 L430.5,97.36 L431,97.78 L431.5,96.9 L432,96.63 L432.5,95.84 L433,96.23 L433.5,97.02 L434,96.74 L434.5,97.3 L435,97.85 L435.5,97.73 L436,97.62 L436.5,97.46 L437,97.9 L437.5,98.04 L438,98.64 L438.5,99.52 L439,99.65 L439.5,99.9 L440,100.28 L440.5,99.86 L441,100.04 L441.5,99.61 L442,99.91 L442.5,101.13 L443,101.48 L443.5,100.44 L444,99.98 L444.5,99.6 L445,98.58 L445.5,99.06 L446,98.84 L446.5,98.8 L447,97.99 L447.5,97.95 L448,98.19 L448.5,97.19 L449,97.08 L449.5,97.22 L450,97.17 L450.5,97.39 L451,98.19 L451.5,98.29 L452,98.79 L452.5,99.23 L453,98.66 L453.5,99.54 L454,99.62 L454.5,100.02 L455,99.77 L455.5,99.94 L456,99.63 L456.5,100.39 L457,99.52 L457.5,99.26 L458,98.75 L458.5,98.48 L459,98.14 L459.5,98.02 L460,96.57 L460.5,97.12 L461,95.63 L461.5,96.62 L462,96.97 L462.5,97.13 L463,98.23 L463.5,98.27 L464,99.98 L464.5,100.2 L465,100.74 L465.5,100.8 L466,101.59 L466.5,101.37 L467,100.84 L467.5,100.38 L468,100.29 L468.5,99.57 L469,98.87 L469.5,99.05 L470,98.87 L470.5,97.82 L471,97.38 L471.5,97.86 L472,97.1 L472.5,97.87 L473,97.82 L473.5,99.17 L474,100.26 L474.5,101.79 L475,102.25 L475.5,100.78 L476,101.02 L476.5,100.69 L477,100.21 L477.5,99.99 L478,100.17 L478.5,99.38 L479,98.6 L479.5,98.87 L480,98.63 L480.5,98.31 L481,98.24 L481.5,97.34 L482,97.49 L482.5,97.03 L483,96.09 L483.5,95.48 L484,95.03 L484.5,95.6 L485,95.45 L485.5,96.45 L486,98.1 L486.5,98.2 L487,99.05 L487.5,99.83 L488,100.64 L488.5,101.47 L489,101.47 L489.5,101.44 L490,100.99 L490.5,101.09 L491,100.77 L491.5,100.32 L492,99.85 L492.5,100.25 L493,100.15 L493.5,99.13 L494,99.21 L494.5,99.53 L495,98.58 L495.5,99.3 L496,98.28 L496.5,98.71 L497,97.78 L497.5,97.76 L498,97.75 L498.5,97.32 L499,98.11 L499.5,97.8 L500,98.25 L500.5,98.63 L501,99.05 L501.5,99.58 L502,99.94 L502.5,100.24 L503,100.3 L503.5,101.26 L504,100.53 L504.5,101.53 L505,101.72 L505.5,102.24 L506,100.95 L506.5,100.53 L507,100.65 L507.5,99.86 L508,98.79 L508.5,98.72 L509,99.01 L509.5,97.9 L510,98.11 L510.5,97.83 L511,97.67 L511.5,97.36 L512,97.7 L512.5,97.74 L513,98.16 L513.5,97.96 L514,98.35 L514.5,98.18 L515,98.27 L515.5,98.97 L516,99.94 L516.5,99.57 L517,99.52 L517.5,99.56 L518,98.77 L518.5,98.92 L519,99.43 L519.5,99.53 L520,100.22 L520.5,100.24 L521,99.86 L521.5,100.03 L522,99.91 L522.5,100.51 L523,98.86 L523.5,99.45 L524,99.71 L524.5,98.75 L525,98.96 L525.5,98.49 L526,98.47 L526.5,97.66 L527,96.6 L527.5,96.41 L528,96.25 L528.5,95.63 L529,98.1 L529.5,99.76 L530,100.42 L530.5,101.3 L531,100.97 L531.5,101.84 L532,101.28 L532.5,101.03 L533,101.34 L533.5,100.58 L534,100.73 L534.5,100.45 L535,99.24 L535.5,98.25 L536,97.57 L536.5,96.61 L537,96.01 L537.5,96.53 L538,96.44 L538.5,96.7 L539,96.35 L539.5,95.94 L540,95.45 L540.5,96.92 L541,98.66" fill="none" stroke="#000" stroke-width="1.1" stroke-linejoin="round"/>
<rect x="342.1" y="79.3" width="6.7" height="42.2" fill="#000" fill-opacity="0.18"/>
<line x1="342.1" y1="79.3" x2="342.1" y2="121.5" stroke="#000" stroke-opacity="0.38" stroke-width="0.7"/>
<line x1="348.8" y1="79.3" x2="348.8" y2="121.5" stroke="#000" stroke-opacity="0.38" stroke-width="0.7"/>
<rect x="353.9" y="79.3" width="5.9" height="42.2" fill="#000" fill-opacity="0.32"/>
<line x1="353.9" y1="79.3" x2="353.9" y2="121.5" stroke="#000" stroke-opacity="0.38" stroke-width="0.7"/>
<line x1="359.8" y1="79.3" x2="359.8" y2="121.5" stroke="#000" stroke-opacity="0.38" stroke-width="0.7"/>
<rect x="365.3" y="79.3" width="14.9" height="42.2" fill="#000" fill-opacity="0.18"/>
<line x1="365.3" y1="79.3" x2="365.3" y2="121.5" stroke="#000" stroke-opacity="0.38" stroke-width="0.7"/>
<line x1="380.2" y1="79.3" x2="380.2" y2="121.5" stroke="#000" stroke-opacity="0.38" stroke-width="0.7"/>
<rect x="385.7" y="79.3" width="14.8" height="42.2" fill="#000" fill-opacity="0.32"/>
<line x1="385.7" y1="79.3" x2="385.7" y2="121.5" stroke="#000" stroke-opacity="0.38" stroke-width="0.7"/>
<line x1="400.5" y1="79.3" x2="400.5" y2="121.5" stroke="#000" stroke-opacity="0.38" stroke-width="0.7"/>
<rect x="406.3" y="79.3" width="9.4" height="42.2" fill="#000" fill-opacity="0.18"/>
<line x1="406.3" y1="79.3" x2="406.3" y2="121.5" stroke="#000" stroke-opacity="0.38" stroke-width="0.7"/>
<line x1="415.7" y1="79.3" x2="415.7" y2="121.5" stroke="#000" stroke-opacity="0.38" stroke-width="0.7"/>
<rect x="421" y="79.3" width="8.9" height="42.2" fill="#000" fill-opacity="0.32"/>
<line x1="421" y1="79.3" x2="421" y2="121.5" stroke="#000" stroke-opacity="0.38" stroke-width="0.7"/>
<line x1="429.9" y1="79.3" x2="429.9" y2="121.5" stroke="#000" stroke-opacity="0.38" stroke-width="0.7"/>
<rect x="435.5" y="79.3" width="8.4" height="42.2" fill="#000" fill-opacity="0.18"/>
<line x1="435.5" y1="79.3" x2="435.5" y2="121.5" stroke="#000" stroke-opacity="0.38" stroke-width="0.7"/>
<line x1="443.9" y1="79.3" x2="443.9" y2="121.5" stroke="#000" stroke-opacity="0.38" stroke-width="0.7"/>
<rect x="448.9" y="79.3" width="7.6" height="42.2" fill="#000" fill-opacity="0.32"/>
<line x1="448.9" y1="79.3" x2="448.9" y2="121.5" stroke="#000" stroke-opacity="0.38" stroke-width="0.7"/>
<line x1="456.5" y1="79.3" x2="456.5" y2="121.5" stroke="#000" stroke-opacity="0.38" stroke-width="0.7"/>
<rect x="462.2" y="79.3" width="4.2" height="42.2" fill="#000" fill-opacity="0.18"/>
<line x1="462.2" y1="79.3" x2="462.2" y2="121.5" stroke="#000" stroke-opacity="0.38" stroke-width="0.7"/>
<line x1="466.4" y1="79.3" x2="466.4" y2="121.5" stroke="#000" stroke-opacity="0.38" stroke-width="0.7"/>
<rect x="472.4" y="79.3" width="4.4" height="42.2" fill="#000" fill-opacity="0.32"/>
<line x1="472.4" y1="79.3" x2="472.4" y2="121.5" stroke="#000" stroke-opacity="0.38" stroke-width="0.7"/>
<line x1="476.8" y1="79.3" x2="476.8" y2="121.5" stroke="#000" stroke-opacity="0.38" stroke-width="0.7"/>
<rect x="482.1" y="79.3" width="12.7" height="42.2" fill="#000" fill-opacity="0.18"/>
<line x1="482.1" y1="79.3" x2="482.1" y2="121.5" stroke="#000" stroke-opacity="0.38" stroke-width="0.7"/>
<line x1="494.8" y1="79.3" x2="494.8" y2="121.5" stroke="#000" stroke-opacity="0.38" stroke-width="0.7"/>
<rect x="500.1" y="79.3" width="11.5" height="42.2" fill="#000" fill-opacity="0.32"/>
<line x1="500.1" y1="79.3" x2="500.1" y2="121.5" stroke="#000" stroke-opacity="0.38" stroke-width="0.7"/>
<line x1="511.6" y1="79.3" x2="511.6" y2="121.5" stroke="#000" stroke-opacity="0.38" stroke-width="0.7"/>
<rect x="517" y="79.3" width="3.2" height="42.2" fill="#000" fill-opacity="0.18"/>
<line x1="517" y1="79.3" x2="517" y2="121.5" stroke="#000" stroke-opacity="0.38" stroke-width="0.7"/>
<line x1="520.2" y1="79.3" x2="520.2" y2="121.5" stroke="#000" stroke-opacity="0.38" stroke-width="0.7"/>
<rect x="526.3" y="79.3" width="3.4" height="42.2" fill="#000" fill-opacity="0.32"/>
<line x1="526.3" y1="79.3" x2="526.3" y2="121.5" stroke="#000" stroke-opacity="0.38" stroke-width="0.7"/>
<line x1="529.7" y1="79.3" x2="529.7" y2="121.5" stroke="#000" stroke-opacity="0.38" stroke-width="0.7"/>
</g>
<rect x="330.3" y="79.3" width="211" height="42.2" fill="none" stroke="#a4a4a4" stroke-width="0.75"/>
<line x1="330.3" y1="121.5" x2="330.3" y2="119.5" stroke="#8a8a8a" stroke-width="0.6"/>
<line x1="330.3" y1="79.3" x2="330.3" y2="81.3" stroke="#8a8a8a" stroke-width="0.6"/>
<line x1="359.61" y1="121.5" x2="359.61" y2="119.5" stroke="#8a8a8a" stroke-width="0.6"/>
<line x1="359.61" y1="79.3" x2="359.61" y2="81.3" stroke="#8a8a8a" stroke-width="0.6"/>
<line x1="388.91" y1="121.5" x2="388.91" y2="119.5" stroke="#8a8a8a" stroke-width="0.6"/>
<line x1="388.91" y1="79.3" x2="388.91" y2="81.3" stroke="#8a8a8a" stroke-width="0.6"/>
<line x1="418.22" y1="121.5" x2="418.22" y2="119.5" stroke="#8a8a8a" stroke-width="0.6"/>
<line x1="418.22" y1="79.3" x2="418.22" y2="81.3" stroke="#8a8a8a" stroke-width="0.6"/>
<line x1="447.52" y1="121.5" x2="447.52" y2="119.5" stroke="#8a8a8a" stroke-width="0.6"/>
<line x1="447.52" y1="79.3" x2="447.52" y2="81.3" stroke="#8a8a8a" stroke-width="0.6"/>
<line x1="476.83" y1="121.5" x2="476.83" y2="119.5" stroke="#8a8a8a" stroke-width="0.6"/>
<line x1="476.83" y1="79.3" x2="476.83" y2="81.3" stroke="#8a8a8a" stroke-width="0.6"/>
<line x1="506.13" y1="121.5" x2="506.13" y2="119.5" stroke="#8a8a8a" stroke-width="0.6"/>
<line x1="506.13" y1="79.3" x2="506.13" y2="81.3" stroke="#8a8a8a" stroke-width="0.6"/>
<line x1="535.44" y1="121.5" x2="535.44" y2="119.5" stroke="#8a8a8a" stroke-width="0.6"/>
<line x1="535.44" y1="79.3" x2="535.44" y2="81.3" stroke="#8a8a8a" stroke-width="0.6"/>
<line x1="330.3" y1="79.6" x2="332.3" y2="79.6" stroke="#8a8a8a" stroke-width="0.6"/>
<line x1="541.3" y1="79.6" x2="539.3" y2="79.6" stroke="#8a8a8a" stroke-width="0.6"/>
<line x1="330.3" y1="99.2" x2="332.3" y2="99.2" stroke="#8a8a8a" stroke-width="0.6"/>
<line x1="541.3" y1="99.2" x2="539.3" y2="99.2" stroke="#8a8a8a" stroke-width="0.6"/>
<line x1="330.3" y1="118.7" x2="332.3" y2="118.7" stroke="#8a8a8a" stroke-width="0.6"/>
<line x1="541.3" y1="118.7" x2="539.3" y2="118.7" stroke="#8a8a8a" stroke-width="0.6"/>
<text font-size="7.9" text-anchor="end" stroke="#1e1e1e" stroke-width="0.18" fill="#1e1e1e" transform="translate(327.7 83.5) scale(1 1.12)">0.5</text>
<text font-size="7.9" text-anchor="end" stroke="#1e1e1e" stroke-width="0.18" fill="#1e1e1e" transform="translate(327.7 103.1) scale(1 1.12)">0</text>
<text font-size="7.9" text-anchor="end" stroke="#1e1e1e" stroke-width="0.18" fill="#1e1e1e" transform="translate(327.7 122.6) scale(1 1.12)">-0.5</text>
<text font-size="7.8" text-anchor="middle" font-weight="bold" fill="#000" transform="translate(435.8 76.4) scale(1 1.12)" stroke="#000" stroke-width="0.2">NoMC: t=-2.1</text>
<g clip-path="url(#c12)">
<path d="M330.3,157.5 330.9,160.5 331.5,160.3 332.1,161.6 332.7,153.4 333.3,153.2 333.9,158.5 334.5,159.5 335.1,156.6 335.7,156.7 336.3,160.2 336.9,156.2 337.5,154.7 338.1,156.7 338.7,157.7 339.3,155.3 339.9,160.8 340.5,159.1 341.1,157.1 341.7,161.3 342.3,158.4 342.9,156.3 343.5,148.2 344.1,153.1 344.7,152.8 345.3,153.5 345.9,151.5 346.5,152.7 347.1,154.6 347.7,153.7 348.3,154.0 348.9,155.1 349.5,158.8 350.1,154.0 350.7,159.0 351.3,155.5 351.9,158.1 352.5,159.8 353.1,154.0 353.7,157.2 354.3,153.7 354.9,150.8 355.5,155.9 356.1,156.8 356.7,161.4 357.3,162.3 357.9,162.1 358.5,157.9 359.1,158.5 359.7,164.2 360.3,160.9 360.9,157.9 361.5,160.5 362.1,155.9 362.7,157.4 363.3,157.0 363.9,150.1 364.5,156.8 365.1,156.2 365.7,148.8 366.3,153.4 366.9,156.0 367.5,151.7 368.1,152.4 368.7,154.4 369.3,153.8 369.9,148.4 370.5,154.5 371.1,153.8 371.7,148.5 372.3,156.8 372.9,155.7 373.5,156.8 374.1,156.7 374.7,154.4 375.3,153.7 375.9,154.8 376.5,156.9 377.1,158.3 377.7,153.6 378.3,155.0 378.9,156.9 379.5,155.2 380.1,160.2 380.7,153.4 381.3,153.9 381.9,146.2 382.5,149.0 383.1,148.6 383.7,151.4 384.3,146.6 384.9,147.0 385.5,156.9 386.1,147.8 386.7,145.6 387.3,147.7 387.9,147.7 388.5,152.5 389.1,160.3 389.7,151.8 390.3,161.1 390.9,148.9 391.5,161.2 392.1,162.0 392.7,152.8 393.3,156.8 393.9,153.9 394.5,161.5 395.1,160.2 395.7,154.1 396.3,158.6 396.9,158.7 397.5,148.0 398.1,152.9 398.7,153.9 399.3,149.4 399.9,155.3 400.5,153.2 401.1,150.2 401.7,156.1 402.3,154.2 402.9,155.3 403.5,153.7 404.1,150.8 404.7,151.1 405.3,156.1 405.9,151.4 406.5,150.2 407.1,150.4 407.7,153.0 408.3,150.4 408.9,154.7 409.5,154.6 410.1,153.7 410.7,156.3 411.3,154.6 411.9,148.2 412.5,154.4 413.1,155.8 413.7,157.0 414.3,157.6 414.9,155.5 415.5,156.2 416.1,151.2 416.7,155.5 417.3,157.2 417.9,156.5 418.5,156.4 419.1,156.2 419.7,158.6 420.3,156.5 420.9,154.1 421.5,158.1 422.1,158.9 422.7,158.0 423.3,158.7 423.9,161.4 424.5,150.8 425.1,153.1 425.7,155.6 426.3,154.7 426.9,152.4 427.5,154.3 428.1,155.6 428.7,153.3 429.3,155.9 429.9,153.9 430.5,160.7 431.1,159.6 431.7,157.7 432.3,150.8 432.9,154.5 433.5,152.0 434.1,151.4 434.7,150.3 435.3,151.5 435.9,157.2 436.5,156.2 437.1,158.4 437.7,155.9 438.3,160.4 438.9,159.3 439.5,152.9 440.1,149.1 440.7,159.4 441.3,161.9 441.9,157.0 442.5,155.0 443.1,160.1 443.7,153.4 444.3,156.6 444.9,158.2 445.5,155.3 446.1,154.2 446.7,158.8 447.3,150.7 447.9,157.2 448.5,156.4 449.1,157.9 449.7,147.6 450.3,157.5 450.9,152.8 451.5,153.5 452.1,148.6 452.7,149.8 453.3,144.8 453.9,152.7 454.5,147.6 455.1,155.1 455.7,155.7 456.3,150.0 456.9,151.3 457.5,151.1 458.1,150.5 458.7,151.3 459.3,157.2 459.9,152.0 460.5,152.9 461.1,152.8 461.7,158.4 462.3,150.0 462.9,149.7 463.5,157.1 464.1,159.0 464.7,160.6 465.3,151.3 465.9,155.0 466.5,154.8 467.1,154.7 467.7,155.6 468.3,153.5 468.9,153.2 469.5,160.0 470.1,158.7 470.7,154.4 471.3,154.2 471.9,153.8 472.5,158.6 473.1,150.1 473.7,161.3 474.3,159.9 474.9,155.9 475.5,157.8 476.1,156.9 476.7,154.5 477.3,156.9 477.9,153.8 478.5,149.6 479.1,151.6 479.7,150.4 480.3,156.8 480.9,153.6 481.5,153.2 482.1,155.9 482.7,148.9 483.3,145.8 483.9,148.2 484.5,145.2 485.1,149.2 485.7,160.0 486.3,149.9 486.9,156.6 487.5,151.5 488.1,158.2 488.7,157.6 489.3,158.0 489.9,157.7 490.5,156.7 491.1,151.8 491.7,156.6 492.3,149.5 492.9,155.7 493.5,149.4 494.1,157.7 494.7,157.0 495.3,154.7 495.9,156.7 496.5,157.7 497.1,156.1 497.7,154.9 498.3,155.5 498.9,154.0 499.5,155.0 500.1,157.3 500.7,161.4 501.3,152.8 501.9,153.0 502.5,151.7 503.1,156.0 503.7,149.8 504.3,158.3 504.9,155.6 505.5,147.6 506.1,158.8 506.7,150.4 507.3,148.5 507.9,151.2 508.5,152.8 509.1,155.4 509.7,159.5 510.3,149.2 510.9,152.2 511.5,159.9 512.1,158.9 512.7,158.4 513.3,153.3 513.9,154.6 514.5,154.8 515.1,159.7 515.7,157.5 516.3,158.0 516.9,156.1 517.5,150.7 518.1,156.8 518.7,162.0 519.3,160.2 519.9,159.6 520.5,158.0 521.1,151.5 521.7,155.0 522.3,156.3 522.9,156.9 523.5,156.9 524.1,152.7 524.7,159.0 525.3,153.5 525.9,151.3 526.5,153.6 527.1,157.7 527.7,154.6 528.3,164.5 528.9,159.8 529.5,157.8 530.1,160.3 530.7,155.4 531.3,153.7 531.9,159.3 532.5,159.1 533.1,160.3 533.7,155.0 534.3,159.4 534.9,154.2 535.5,154.2 536.1,154.3 536.7,155.6 537.3,151.1 537.9,148.5 538.5,157.5 539.1,156.1 539.7,153.2 540.3,156.3 540.9,156.9 541.5,158.6 541.5,177.4 540.9,175.1 540.3,177.5 539.7,173.6 539.1,180.5 538.5,179.9 537.9,179.1 537.3,175.6 536.7,176.2 536.1,178.1 535.5,175.4 534.9,174.3 534.3,177.7 533.7,175.4 533.1,175.2 532.5,175.0 531.9,181.4 531.3,177.8 530.7,176.5 530.1,177.6 529.5,174.7 528.9,174.8 528.3,180.2 527.7,179.2 527.1,178.5 526.5,179.0 525.9,178.4 525.3,182.4 524.7,179.3 524.1,178.5 523.5,175.8 522.9,173.8 522.3,173.7 521.7,176.0 521.1,175.8 520.5,182.7 519.9,175.8 519.3,175.6 518.7,180.9 518.1,179.6 517.5,183.3 516.9,182.8 516.3,177.4 515.7,183.4 515.1,178.4 514.5,181.3 513.9,181.2 513.3,174.4 512.7,174.4 512.1,177.8 511.5,182.0 510.9,179.1 510.3,174.1 509.7,179.2 509.1,178.5 508.5,177.5 507.9,181.9 507.3,181.4 506.7,180.3 506.1,180.4 505.5,180.9 504.9,184.5 504.3,179.2 503.7,177.8 503.1,173.9 502.5,173.7 501.9,181.2 501.3,178.0 500.7,183.2 500.1,179.1 499.5,176.7 498.9,182.2 498.3,174.5 497.7,176.2 497.1,183.0 496.5,173.1 495.9,178.6 495.3,176.2 494.7,176.2 494.1,186.3 493.5,181.5 492.9,178.5 492.3,179.7 491.7,182.4 491.1,182.2 490.5,178.8 489.9,180.1 489.3,178.1 488.7,183.8 488.1,179.2 487.5,177.8 486.9,177.4 486.3,179.0 485.7,180.4 485.1,178.3 484.5,176.3 483.9,183.1 483.3,181.2 482.7,173.9 482.1,183.8 481.5,177.3 480.9,172.4 480.3,177.9 479.7,173.7 479.1,181.7 478.5,175.5 477.9,179.0 477.3,176.9 476.7,175.7 476.1,179.7 475.5,184.0 474.9,178.2 474.3,180.6 473.7,181.7 473.1,180.7 472.5,180.3 471.9,179.2 471.3,181.2 470.7,182.4 470.1,174.1 469.5,180.9 468.9,179.9 468.3,172.4 467.7,175.7 467.1,174.7 466.5,177.5 465.9,176.2 465.3,180.5 464.7,178.8 464.1,175.4 463.5,175.4 462.9,173.5 462.3,177.1 461.7,176.3 461.1,177.9 460.5,180.3 459.9,176.7 459.3,175.7 458.7,179.6 458.1,175.7 457.5,175.6 456.9,174.0 456.3,175.2 455.7,175.5 455.1,179.7 454.5,173.7 453.9,176.0 453.3,173.5 452.7,174.6 452.1,177.9 451.5,176.4 450.9,173.9 450.3,180.4 449.7,181.7 449.1,172.9 448.5,172.7 447.9,170.5 447.3,177.1 446.7,170.9 446.1,180.4 445.5,176.7 444.9,176.9 444.3,175.3 443.7,174.5 443.1,180.6 442.5,179.5 441.9,175.3 441.3,178.3 440.7,180.0 440.1,176.3 439.5,177.5 438.9,174.0 438.3,172.3 437.7,181.9 437.1,176.1 436.5,178.6 435.9,174.7 435.3,172.4 434.7,174.0 434.1,180.5 433.5,177.9 432.9,173.3 432.3,171.2 431.7,177.0 431.1,179.1 430.5,173.6 429.9,176.7 429.3,175.8 428.7,173.5 428.1,171.1 427.5,179.6 426.9,176.6 426.3,175.1 425.7,175.9 425.1,173.6 424.5,182.1 423.9,179.6 423.3,182.9 422.7,182.6 422.1,176.9 421.5,180.2 420.9,177.2 420.3,177.1 419.7,175.0 419.1,176.5 418.5,176.2 417.9,179.1 417.3,174.7 416.7,173.0 416.1,173.5 415.5,178.3 414.9,177.3 414.3,181.2 413.7,176.3 413.1,172.7 412.5,175.5 411.9,173.1 411.3,174.4 410.7,173.4 410.1,182.2 409.5,175.4 408.9,179.8 408.3,175.0 407.7,176.4 407.1,172.2 406.5,175.8 405.9,177.4 405.3,173.6 404.7,173.3 404.1,171.4 403.5,178.2 402.9,174.1 402.3,174.5 401.7,173.9 401.1,175.6 400.5,171.3 399.9,178.4 399.3,179.1 398.7,180.9 398.1,174.1 397.5,175.1 396.9,176.1 396.3,175.1 395.7,182.1 395.1,179.1 394.5,176.5 393.9,181.6 393.3,177.5 392.7,176.2 392.1,179.8 391.5,181.8 390.9,182.7 390.3,182.4 389.7,176.4 389.1,184.3 388.5,182.5 387.9,173.6 387.3,182.0 386.7,179.3 386.1,181.1 385.5,177.6 384.9,177.6 384.3,181.7 383.7,181.0 383.1,175.9 382.5,176.6 381.9,172.5 381.3,174.2 380.7,177.4 380.1,171.7 379.5,175.5 378.9,179.5 378.3,174.9 377.7,173.6 377.1,173.1 376.5,178.2 375.9,183.4 375.3,176.2 374.7,183.4 374.1,182.5 373.5,180.7 372.9,181.1 372.3,177.8 371.7,177.4 371.1,180.4 370.5,177.2 369.9,178.7 369.3,181.5 368.7,173.6 368.1,176.4 367.5,178.1 366.9,185.1 366.3,180.8 365.7,179.3 365.1,178.4 364.5,182.4 363.9,177.9 363.3,179.8 362.7,180.6 362.1,178.7 361.5,177.7 360.9,178.5 360.3,177.1 359.7,177.7 359.1,181.1 358.5,184.1 357.9,172.5 357.3,175.8 356.7,176.4 356.1,180.7 355.5,178.0 354.9,178.4 354.3,176.6 353.7,176.0 353.1,181.1 352.5,176.5 351.9,171.9 351.3,177.8 350.7,173.8 350.1,175.4 349.5,175.8 348.9,174.7 348.3,176.5 347.7,175.7 347.1,175.4 346.5,181.4 345.9,178.8 345.3,180.9 344.7,174.9 344.1,174.8 343.5,173.2 342.9,181.4 342.3,176.1 341.7,176.2 341.1,178.2 340.5,178.3 339.9,175.8 339.3,169.6 338.7,169.8 338.1,177.3 337.5,176.0 336.9,180.5 336.3,183.0 335.7,174.0 335.1,176.7 334.5,177.9 333.9,174.9 333.3,173.0 332.7,176.4 332.1,175.0 331.5,177.9 330.9,174.0 330.3,175.9Z" fill="#00ffff" fill-opacity="0.6"/>
<path d="M330.3,159.7 330.9,158.4 331.5,155.0 332.1,156.9 332.7,158.4 333.3,158.0 333.9,156.5 334.5,155.1 335.1,154.1 335.7,154.9 336.3,157.8 336.9,159.2 337.5,160.1 338.1,162.6 338.7,157.6 339.3,160.6 339.9,156.4 340.5,160.1 341.1,156.3 341.7,162.3 342.3,160.9 342.9,151.7 343.5,159.5 344.1,149.1 344.7,155.9 345.3,145.3 345.9,155.0 346.5,155.6 347.1,156.2 347.7,148.9 348.3,156.9 348.9,156.7 349.5,155.4 350.1,158.5 350.7,155.5 351.3,155.3 351.9,160.8 352.5,153.3 353.1,157.9 353.7,155.5 354.3,154.0 354.9,153.2 355.5,151.6 356.1,153.6 356.7,158.4 357.3,154.7 357.9,159.5 358.5,154.9 359.1,160.5 359.7,156.1 360.3,162.9 360.9,159.9 361.5,158.1 362.1,157.7 362.7,160.0 363.3,158.7 363.9,150.6 364.5,151.7 365.1,155.4 365.7,153.4 366.3,154.5 366.9,152.5 367.5,155.4 368.1,154.8 368.7,151.7 369.3,149.2 369.9,151.7 370.5,157.1 371.1,152.7 371.7,156.0 372.3,153.0 372.9,150.0 373.5,156.6 374.1,150.2 374.7,157.7 375.3,156.1 375.9,157.6 376.5,159.6 377.1,159.7 377.7,159.3 378.3,151.3 378.9,152.5 379.5,158.3 380.1,155.5 380.7,157.1 381.3,149.7 381.9,153.5 382.5,154.7 383.1,152.2 383.7,153.5 384.3,150.4 384.9,149.7 385.5,149.8 386.1,157.7 386.7,146.2 387.3,154.1 387.9,156.3 388.5,158.4 389.1,153.8 389.7,156.0 390.3,155.9 390.9,152.9 391.5,152.9 392.1,150.9 392.7,160.5 393.3,163.9 393.9,162.6 394.5,156.0 395.1,158.3 395.7,160.2 396.3,155.6 396.9,158.3 397.5,154.4 398.1,151.0 398.7,149.0 399.3,155.2 399.9,155.0 400.5,149.4 401.1,149.0 401.7,157.3 402.3,159.5 402.9,158.9 403.5,156.2 404.1,150.8 404.7,159.9 405.3,154.9 405.9,155.1 406.5,152.1 407.1,152.8 407.7,155.8 408.3,151.5 408.9,152.2 409.5,148.6 410.1,155.4 410.7,156.1 411.3,157.6 411.9,151.1 412.5,156.6 413.1,158.3 413.7,156.8 414.3,149.1 414.9,153.2 415.5,157.5 416.1,158.7 416.7,159.1 417.3,151.8 417.9,157.3 418.5,159.8 419.1,158.3 419.7,149.8 420.3,160.3 420.9,156.2 421.5,159.2 422.1,158.3 422.7,159.7 423.3,158.8 423.9,151.3 424.5,155.1 425.1,155.0 425.7,154.5 426.3,155.5 426.9,155.0 427.5,157.5 428.1,151.3 428.7,161.0 429.3,155.8 429.9,160.5 430.5,153.5 431.1,153.0 431.7,156.2 432.3,152.8 432.9,158.2 433.5,156.8 434.1,148.7 434.7,147.8 435.3,149.7 435.9,149.1 436.5,150.1 437.1,156.9 437.7,156.8 438.3,151.3 438.9,153.1 439.5,157.6 440.1,157.3 440.7,157.7 441.3,158.7 441.9,161.4 442.5,159.7 443.1,160.7 443.7,154.4 444.3,159.1 444.9,157.0 445.5,156.7 446.1,156.8 446.7,151.7 447.3,153.7 447.9,149.5 448.5,153.2 449.1,155.5 449.7,154.2 450.3,151.0 450.9,147.5 451.5,156.6 452.1,145.0 452.7,146.0 453.3,153.7 453.9,153.1 454.5,150.8 455.1,155.4 455.7,156.5 456.3,154.9 456.9,155.6 457.5,150.0 458.1,148.3 458.7,152.0 459.3,150.6 459.9,149.4 460.5,156.0 461.1,150.0 461.7,150.3 462.3,152.9 462.9,150.7 463.5,150.8 464.1,159.4 464.7,156.4 465.3,151.1 465.9,149.9 466.5,156.3 467.1,155.0 467.7,154.9 468.3,156.4 468.9,157.4 469.5,154.7 470.1,155.0 470.7,150.5 471.3,156.0 471.9,155.0 472.5,153.2 473.1,157.9 473.7,159.2 474.3,158.1 474.9,161.7 475.5,158.5 476.1,157.3 476.7,159.1 477.3,156.1 477.9,148.8 478.5,155.0 479.1,157.9 479.7,158.9 480.3,156.3 480.9,161.2 481.5,148.6 482.1,156.5 482.7,152.0 483.3,151.6 483.9,149.8 484.5,146.8 485.1,150.5 485.7,152.0 486.3,157.0 486.9,153.9 487.5,150.3 488.1,160.8 488.7,151.7 489.3,154.6 489.9,159.3 490.5,159.8 491.1,161.8 491.7,156.3 492.3,150.0 492.9,157.5 493.5,152.8 494.1,155.9 494.7,154.0 495.3,155.7 495.9,159.6 496.5,149.4 497.1,155.4 497.7,157.6 498.3,157.0 498.9,161.7 499.5,158.8 500.1,150.1 500.7,152.0 501.3,157.4 501.9,151.7 502.5,155.8 503.1,155.7 503.7,154.1 504.3,151.3 504.9,147.2 505.5,154.0 506.1,155.0 506.7,150.5 507.3,157.1 507.9,157.3 508.5,151.1 509.1,152.3 509.7,153.8 510.3,150.5 510.9,156.7 511.5,156.6 512.1,154.9 512.7,157.7 513.3,154.7 513.9,161.3 514.5,157.6 515.1,151.2 515.7,156.4 516.3,156.6 516.9,157.4 517.5,151.6 518.1,154.4 518.7,153.7 519.3,152.5 519.9,148.2 520.5,160.0 521.1,150.0 521.7,157.5 522.3,159.5 522.9,152.8 523.5,156.6 524.1,159.0 524.7,157.7 525.3,154.6 525.9,161.0 526.5,157.7 527.1,158.9 527.7,161.8 528.3,159.7 528.9,159.0 529.5,162.2 530.1,153.9 530.7,158.2 531.3,158.6 531.9,151.4 532.5,155.1 533.1,154.9 533.7,155.1 534.3,155.8 534.9,151.9 535.5,148.7 536.1,151.2 536.7,158.2 537.3,156.4 537.9,156.7 538.5,155.7 539.1,149.6 539.7,150.8 540.3,150.3 540.9,149.9 541.5,156.8 541.5,172.7 540.9,172.4 540.3,174.6 539.7,170.6 539.1,181.6 538.5,175.0 537.9,180.9 537.3,173.9 536.7,176.6 536.1,179.7 535.5,182.3 534.9,174.7 534.3,181.5 533.7,175.3 533.1,179.9 532.5,173.6 531.9,175.7 531.3,174.7 530.7,174.2 530.1,177.8 529.5,174.0 528.9,176.5 528.3,174.9 527.7,175.8 527.1,178.3 526.5,177.3 525.9,177.0 525.3,178.2 524.7,176.1 524.1,179.2 523.5,178.0 522.9,175.2 522.3,174.2 521.7,179.0 521.1,180.2 520.5,176.1 519.9,174.8 519.3,174.8 518.7,182.3 518.1,173.2 517.5,183.5 516.9,177.9 516.3,177.1 515.7,174.4 515.1,180.7 514.5,175.6 513.9,177.3 513.3,175.1 512.7,172.5 512.1,179.3 511.5,181.0 510.9,175.6 510.3,175.4 509.7,181.5 509.1,173.3 508.5,176.2 507.9,176.4 507.3,178.5 506.7,176.0 506.1,178.2 505.5,177.6 504.9,178.2 504.3,178.7 503.7,175.5 503.1,180.1 502.5,177.5 501.9,177.0 501.3,177.7 500.7,180.9 500.1,173.7 499.5,180.1 498.9,177.8 498.3,182.4 497.7,176.1 497.1,177.9 496.5,174.7 495.9,173.6 495.3,178.4 494.7,178.2 494.1,177.4 493.5,178.4 492.9,176.6 492.3,175.4 491.7,182.8 491.1,177.1 490.5,175.9 489.9,174.0 489.3,174.1 488.7,175.3 488.1,184.3 487.5,179.2 486.9,182.2 486.3,184.5 485.7,180.0 485.1,182.4 484.5,180.8 483.9,183.1 483.3,179.3 482.7,176.8 482.1,177.9 481.5,180.0 480.9,172.3 480.3,178.5 479.7,175.1 479.1,175.3 478.5,181.9 477.9,173.6 477.3,176.0 476.7,178.7 476.1,177.3 475.5,175.6 474.9,182.5 474.3,184.7 473.7,181.1 473.1,177.5 472.5,184.8 471.9,175.2 471.3,173.2 470.7,180.9 470.1,178.9 469.5,181.3 468.9,174.8 468.3,174.2 467.7,171.6 467.1,181.6 466.5,181.7 465.9,173.7 465.3,175.3 464.7,184.7 464.1,177.7 463.5,176.2 462.9,173.8 462.3,181.3 461.7,179.4 461.1,172.0 460.5,171.3 459.9,173.2 459.3,175.6 458.7,176.1 458.1,178.1 457.5,176.1 456.9,181.1 456.3,173.7 455.7,176.7 455.1,178.8 454.5,174.3 453.9,174.1 453.3,174.0 452.7,180.9 452.1,180.4 451.5,170.8 450.9,176.1 450.3,175.3 449.7,179.3 449.1,175.9 448.5,180.1 447.9,176.4 447.3,174.6 446.7,180.7 446.1,172.6 445.5,175.1 444.9,174.5 444.3,172.6 443.7,174.7 443.1,182.6 442.5,176.0 441.9,177.3 441.3,182.1 440.7,174.0 440.1,178.4 439.5,172.9 438.9,172.0 438.3,172.6 437.7,175.2 437.1,176.7 436.5,174.1 435.9,182.0 435.3,182.5 434.7,182.9 434.1,175.1 433.5,178.8 432.9,176.7 432.3,177.0 431.7,177.9 431.1,180.6 430.5,179.6 429.9,175.8 429.3,177.2 428.7,182.0 428.1,178.2 427.5,173.4 426.9,180.3 426.3,175.5 425.7,172.7 425.1,171.9 424.5,183.0 423.9,186.6 423.3,182.1 422.7,178.6 422.1,174.6 421.5,177.5 420.9,182.8 420.3,173.4 419.7,173.7 419.1,178.9 418.5,177.1 417.9,181.1 417.3,180.3 416.7,176.5 416.1,175.4 415.5,175.8 414.9,176.8 414.3,178.9 413.7,181.8 413.1,176.9 412.5,179.3 411.9,183.8 411.3,176.0 410.7,172.5 410.1,180.0 409.5,177.2 408.9,177.4 408.3,182.4 407.7,177.3 407.1,173.6 406.5,181.7 405.9,178.9 405.3,177.9 404.7,177.9 404.1,174.1 403.5,174.7 402.9,174.6 402.3,175.3 401.7,172.4 401.1,169.1 400.5,168.1 399.9,170.2 399.3,176.9 398.7,174.1 398.1,173.6 397.5,178.5 396.9,174.9 396.3,178.9 395.7,173.1 395.1,175.2 394.5,176.0 393.9,183.0 393.3,178.0 392.7,176.7 392.1,179.2 391.5,183.5 390.9,177.4 390.3,183.0 389.7,176.4 389.1,173.2 388.5,181.8 387.9,178.4 387.3,182.9 386.7,181.9 386.1,173.6 385.5,177.2 384.9,180.6 384.3,173.0 383.7,176.9 383.1,175.6 382.5,174.5 381.9,175.6 381.3,177.0 380.7,177.8 380.1,174.2 379.5,172.4 378.9,177.3 378.3,181.7 377.7,177.3 377.1,178.1 376.5,176.7 375.9,176.3 375.3,175.2 374.7,178.1 374.1,174.6 373.5,179.7 372.9,175.5 372.3,179.7 371.7,180.9 371.1,181.0 370.5,176.1 369.9,173.4 369.3,181.4 368.7,172.9 368.1,174.7 367.5,176.0 366.9,181.0 366.3,182.2 365.7,177.7 365.1,177.1 364.5,182.6 363.9,174.2 363.3,175.5 362.7,173.7 362.1,176.6 361.5,178.7 360.9,179.1 360.3,178.3 359.7,177.4 359.1,176.2 358.5,175.6 357.9,177.6 357.3,179.3 356.7,184.9 356.1,178.4 355.5,180.5 354.9,175.8 354.3,179.3 353.7,176.5 353.1,176.6 352.5,175.9 351.9,172.3 351.3,176.1 350.7,173.2 350.1,176.8 349.5,175.7 348.9,176.3 348.3,179.2 347.7,173.5 347.1,174.5 346.5,176.0 345.9,185.9 345.3,179.7 344.7,185.8 344.1,177.0 343.5,180.3 342.9,178.3 342.3,178.4 341.7,174.4 341.1,178.9 340.5,178.6 339.9,175.0 339.3,178.4 338.7,174.9 338.1,173.9 337.5,177.5 336.9,174.1 336.3,178.7 335.7,180.0 335.1,179.8 334.5,172.8 333.9,183.7 333.3,181.6 332.7,181.5 332.1,173.7 331.5,177.0 330.9,175.2 330.3,176.0Z" fill="#00ffff" fill-opacity="0.6"/>
<path d="M330.3,156.5 330.9,160.7 331.5,154.9 332.1,159.5 332.7,163.5 333.3,156.8 333.9,158.1 334.5,154.4 335.1,154.8 335.7,156.0 336.3,155.4 336.9,158.2 337.5,159.4 338.1,162.5 338.7,160.1 339.3,154.1 339.9,160.1 340.5,156.8 341.1,160.9 341.7,160.9 342.3,153.4 342.9,157.4 343.5,151.7 344.1,152.9 344.7,155.8 345.3,155.4 345.9,154.5 346.5,145.3 347.1,155.4 347.7,160.3 348.3,153.4 348.9,156.0 349.5,160.8 350.1,154.0 350.7,155.1 351.3,157.0 351.9,155.0 352.5,157.4 353.1,158.3 353.7,150.3 354.3,156.9 354.9,149.6 355.5,154.3 356.1,161.9 356.7,160.1 357.3,158.8 357.9,155.1 358.5,161.1 359.1,162.7 359.7,158.7 360.3,163.6 360.9,157.4 361.5,155.4 362.1,160.1 362.7,159.3 363.3,158.4 363.9,157.1 364.5,158.1 365.1,155.1 365.7,150.0 366.3,154.6 366.9,151.4 367.5,154.5 368.1,149.0 368.7,154.9 369.3,149.6 369.9,158.3 370.5,153.1 371.1,155.2 371.7,148.4 372.3,160.2 372.9,157.6 373.5,151.4 374.1,150.7 374.7,154.2 375.3,158.3 375.9,157.7 376.5,157.0 377.1,153.5 377.7,160.6 378.3,161.1 378.9,155.5 379.5,160.0 380.1,158.0 380.7,152.0 381.3,148.4 381.9,152.5 382.5,152.2 383.1,151.7 383.7,151.3 384.3,149.2 384.9,151.3 385.5,154.2 386.1,148.6 386.7,156.2 387.3,154.1 387.9,155.4 388.5,152.4 389.1,151.3 389.7,155.4 390.3,152.0 390.9,150.5 391.5,158.1 392.1,159.4 392.7,151.3 393.3,159.7 393.9,161.2 394.5,158.4 395.1,154.0 395.7,156.8 396.3,154.8 396.9,158.4 397.5,156.8 398.1,154.0 398.7,155.4 399.3,150.8 399.9,154.2 400.5,158.1 401.1,151.2 401.7,156.1 402.3,159.0 402.9,158.5 403.5,157.7 404.1,156.2 404.7,157.4 405.3,155.0 405.9,156.7 406.5,157.0 407.1,153.5 407.7,153.2 408.3,146.6 408.9,150.6 409.5,153.6 410.1,152.8 410.7,155.1 411.3,148.0 411.9,149.2 412.5,154.6 413.1,159.1 413.7,154.4 414.3,152.6 414.9,155.8 415.5,155.9 416.1,152.4 416.7,154.9 417.3,153.6 417.9,156.6 418.5,159.7 419.1,161.3 419.7,155.2 420.3,152.0 420.9,159.2 421.5,155.8 422.1,154.0 422.7,157.1 423.3,152.8 423.9,155.5 424.5,158.1 425.1,158.7 425.7,155.4 426.3,147.8 426.9,157.0 427.5,155.5 428.1,157.2 428.7,157.5 429.3,157.4 429.9,155.0 430.5,154.2 431.1,157.3 431.7,155.8 432.3,153.5 432.9,152.1 433.5,152.6 434.1,157.0 434.7,149.2 435.3,155.6 435.9,152.4 436.5,154.0 437.1,154.0 437.7,154.5 438.3,148.6 438.9,156.4 439.5,157.8 440.1,160.4 440.7,158.7 441.3,163.4 441.9,160.2 442.5,153.2 443.1,156.4 443.7,155.8 444.3,155.6 444.9,154.8 445.5,156.5 446.1,156.5 446.7,154.1 447.3,155.1 447.9,157.8 448.5,151.6 449.1,150.9 449.7,153.4 450.3,148.0 450.9,155.5 451.5,154.6 452.1,154.5 452.7,147.7 453.3,155.0 453.9,152.7 454.5,147.4 455.1,153.9 455.7,156.6 456.3,155.9 456.9,155.4 457.5,148.0 458.1,155.0 458.7,157.3 459.3,151.0 459.9,156.5 460.5,158.8 461.1,152.1 461.7,154.4 462.3,153.5 462.9,153.9 463.5,162.3 464.1,152.5 464.7,157.1 465.3,161.1 465.9,162.6 466.5,150.0 467.1,156.1 467.7,156.4 468.3,154.5 468.9,149.5 469.5,148.9 470.1,157.5 470.7,150.1 471.3,150.6 471.9,153.8 472.5,150.7 473.1,157.6 473.7,158.2 474.3,155.3 474.9,151.3 475.5,157.1 476.1,156.0 476.7,150.6 477.3,152.3 477.9,153.5 478.5,153.3 479.1,157.0 479.7,155.7 480.3,158.6 480.9,149.4 481.5,150.3 482.1,155.2 482.7,146.1 483.3,152.1 483.9,149.8 484.5,156.0 485.1,151.9 485.7,157.4 486.3,158.8 486.9,160.6 487.5,155.3 488.1,159.2 488.7,160.5 489.3,159.7 489.9,159.5 490.5,153.6 491.1,150.7 491.7,153.2 492.3,150.8 492.9,155.9 493.5,161.2 494.1,156.8 494.7,151.9 495.3,152.8 495.9,156.5 496.5,157.9 497.1,156.7 497.7,153.0 498.3,162.5 498.9,160.0 499.5,155.6 500.1,149.5 500.7,160.4 501.3,159.7 501.9,156.1 502.5,157.5 503.1,154.5 503.7,151.0 504.3,156.0 504.9,153.0 505.5,147.1 506.1,147.2 506.7,155.6 507.3,149.6 507.9,149.4 508.5,155.2 509.1,151.2 509.7,159.1 510.3,154.8 510.9,152.7 511.5,157.5 512.1,158.0 512.7,158.0 513.3,157.3 513.9,157.4 514.5,156.0 515.1,156.1 515.7,159.2 516.3,156.2 516.9,158.9 517.5,160.4 518.1,156.9 518.7,156.6 519.3,153.5 519.9,152.2 520.5,157.6 521.1,155.2 521.7,149.5 522.3,149.4 522.9,154.8 523.5,157.5 524.1,158.1 524.7,158.4 525.3,157.8 525.9,154.7 526.5,155.3 527.1,160.4 527.7,159.0 528.3,160.4 528.9,155.7 529.5,159.2 530.1,159.8 530.7,162.0 531.3,157.9 531.9,151.8 532.5,156.5 533.1,157.8 533.7,150.5 534.3,157.3 534.9,158.9 535.5,152.9 536.1,156.2 536.7,157.9 537.3,154.1 537.9,149.7 538.5,150.1 539.1,156.8 539.7,150.4 540.3,152.4 540.9,158.2 541.5,159.0 541.5,177.6 540.9,171.4 540.3,172.2 539.7,170.3 539.1,173.6 538.5,180.9 537.9,174.9 537.3,173.3 536.7,171.3 536.1,173.4 535.5,173.5 534.9,179.7 534.3,178.7 533.7,176.4 533.1,179.3 532.5,174.4 531.9,180.7 531.3,178.5 530.7,182.4 530.1,175.8 529.5,176.3 528.9,178.5 528.3,177.6 527.7,178.7 527.1,179.0 526.5,181.4 525.9,175.4 525.3,176.8 524.7,175.7 524.1,175.5 523.5,178.0 522.9,178.0 522.3,180.1 521.7,174.4 521.1,180.8 520.5,178.4 519.9,179.9 519.3,175.7 518.7,175.1 518.1,179.4 517.5,177.5 516.9,183.4 516.3,182.5 515.7,174.6 515.1,171.4 514.5,176.3 513.9,179.7 513.3,175.7 512.7,177.9 512.1,180.4 511.5,176.1 510.9,173.3 510.3,179.4 509.7,180.4 509.1,181.7 508.5,176.6 507.9,183.8 507.3,179.9 506.7,178.5 506.1,180.8 505.5,183.3 504.9,183.9 504.3,182.2 503.7,177.1 503.1,179.1 502.5,184.9 501.9,176.8 501.3,173.4 500.7,179.3 500.1,174.8 499.5,175.6 498.9,173.2 498.3,181.1 497.7,179.3 497.1,175.9 496.5,175.4 495.9,175.5 495.3,176.8 494.7,176.9 494.1,184.2 493.5,184.2 492.9,181.5 492.3,176.4 491.7,176.2 491.1,178.5 490.5,178.0 489.9,177.0 489.3,175.7 488.7,176.9 488.1,182.9 487.5,171.8 486.9,179.0 486.3,183.7 485.7,184.2 485.1,182.4 484.5,175.1 483.9,175.0 483.3,177.6 482.7,181.3 482.1,174.1 481.5,179.7 480.9,172.3 480.3,179.5 479.7,175.7 479.1,174.6 478.5,182.5 477.9,172.7 477.3,178.0 476.7,175.1 476.1,183.9 475.5,180.0 474.9,177.3 474.3,181.4 473.7,185.6 473.1,180.2 472.5,181.2 471.9,179.0 471.3,178.5 470.7,181.0 470.1,179.6 469.5,180.8 468.9,181.2 468.3,172.7 467.7,180.9 467.1,174.6 466.5,178.4 465.9,174.9 465.3,182.5 464.7,184.1 464.1,173.2 463.5,182.2 462.9,181.1 462.3,177.4 461.7,173.1 461.1,173.6 460.5,178.8 459.9,175.6 459.3,179.2 458.7,179.1 458.1,174.1 457.5,170.8 456.9,178.0 456.3,183.1 455.7,176.6 455.1,177.5 454.5,175.2 453.9,178.1 453.3,176.1 452.7,182.2 452.1,174.6 451.5,175.3 450.9,181.9 450.3,174.5 449.7,174.2 449.1,180.5 448.5,173.0 447.9,176.6 447.3,174.8 446.7,169.6 446.1,170.9 445.5,179.3 444.9,171.4 444.3,180.9 443.7,176.0 443.1,173.2 442.5,175.2 441.9,174.3 441.3,174.0 440.7,174.3 440.1,176.0 439.5,184.6 438.9,176.2 438.3,175.1 437.7,172.0 437.1,175.8 436.5,180.5 435.9,173.0 435.3,182.5 434.7,172.9 434.1,173.4 433.5,179.9 432.9,179.3 432.3,176.4 431.7,177.5 431.1,179.8 430.5,181.1 429.9,177.2 429.3,183.1 428.7,175.8 428.1,179.7 427.5,179.6 426.9,178.6 426.3,181.1 425.7,174.9 425.1,176.0 424.5,175.1 423.9,181.5 423.3,180.3 422.7,178.6 422.1,182.9 421.5,174.8 420.9,178.0 420.3,180.1 419.7,177.0 419.1,177.6 418.5,178.1 417.9,172.5 417.3,172.2 416.7,174.8 416.1,170.7 415.5,174.8 414.9,173.7 414.3,180.7 413.7,179.5 413.1,177.8 412.5,175.9 411.9,177.5 411.3,178.0 410.7,179.2 410.1,171.7 409.5,181.6 408.9,175.2 408.3,180.6 407.7,174.0 407.1,180.7 406.5,180.9 405.9,180.7 405.3,174.1 404.7,176.1 404.1,171.6 403.5,177.5 402.9,170.4 402.3,171.7 401.7,173.6 401.1,170.2 400.5,173.4 399.9,172.0 399.3,174.5 398.7,177.2 398.1,182.0 397.5,175.4 396.9,180.8 396.3,178.9 395.7,181.9 395.1,176.2 394.5,181.3 393.9,180.1 393.3,179.9 392.7,181.6 392.1,177.2 391.5,182.5 390.9,176.4 390.3,183.5 389.7,176.8 389.1,177.6 388.5,175.0 387.9,175.1 387.3,176.8 386.7,182.0 386.1,177.9 385.5,176.6 384.9,177.4 384.3,178.0 383.7,177.6 383.1,175.0 382.5,182.8 381.9,176.3 381.3,174.7 380.7,177.1 380.1,175.1 379.5,178.9 378.9,173.2 378.3,169.3 377.7,174.1 377.1,174.5 376.5,177.0 375.9,179.8 375.3,174.6 374.7,175.9 374.1,176.5 373.5,182.9 372.9,182.5 372.3,175.0 371.7,177.7 371.1,181.7 370.5,180.9 369.9,183.8 369.3,174.2 368.7,180.8 368.1,173.5 367.5,181.3 366.9,171.4 366.3,178.8 365.7,176.6 365.1,181.5 364.5,180.1 363.9,177.5 363.3,176.4 362.7,174.6 362.1,174.6 361.5,173.6 360.9,179.8 360.3,179.3 359.7,173.6 359.1,177.3 358.5,179.3 357.9,174.3 357.3,177.5 356.7,178.8 356.1,177.1 355.5,177.2 354.9,183.9 354.3,177.0 353.7,181.1 353.1,175.3 352.5,173.1 351.9,170.1 351.3,175.0 350.7,175.0 350.1,174.2 349.5,179.0 348.9,180.2 348.3,179.1 347.7,180.2 347.1,177.4 346.5,179.6 345.9,177.2 345.3,176.3 344.7,175.1 344.1,178.4 343.5,179.8 342.9,175.2 342.3,173.8 341.7,177.9 341.1,179.4 340.5,175.2 339.9,172.0 339.3,172.4 338.7,178.0 338.1,177.3 337.5,177.0 336.9,181.2 336.3,180.2 335.7,183.5 335.1,180.5 334.5,179.6 333.9,175.0 333.3,176.1 332.7,179.0 332.1,175.6 331.5,174.6 330.9,173.7 330.3,173.6Z" fill="#00ffff" fill-opacity="0.6"/>
<path d="M330,167.95 L330.5,167.75 L331,167.04 L331.5,166.94 L332,165.95 L332.5,166.75 L333,166.6 L333.5,166.12 L334,165.33 L334.5,166.41 L335,167.38 L335.5,168.38 L336,169.33 L336.5,169.1 L337,166.9 L337.5,167.2 L338,166.97 L338.5,164.31 L339,166.74 L339.5,165.25 L340,165.6 L340.5,166.95 L341,165.94 L341.5,165.26 L342,164.46 L342.5,164.47 L343,165.79 L343.5,165.46 L344,165.55 L344.5,164.76 L345,165.44 L345.5,164 L346,165.13 L346.5,164.36 L347,165 L347.5,165.7 L348,164.21 L348.5,166.05 L349,166.28 L349.5,166.63 L350,166.63 L350.5,167.76 L351,166.96 L351.5,167.22 L352,165.96 L352.5,165.28 L353,164.52 L353.5,163.07 L354,162.57 L354.5,163.12 L355,164.74 L355.5,165.56 L356,166.07 L356.5,168.33 L357,167.38 L357.5,168.7 L358,169.01 L358.5,167.47 L359,167.3 L359.5,166.91 L360,166.38 L360.5,166.07 L361,166.7 L361.5,167.07 L362,167.45 L362.5,165.75 L363,165.57 L363.5,165.02 L364,164.29 L364.5,165.96 L365,165.49 L365.5,166.3 L366,166.22 L366.5,165.63 L367,165.35 L367.5,164.77 L368,165.36 L368.5,165.7 L369,165.5 L369.5,164.47 L370,166.48 L370.5,165.17 L371,166.66 L371.5,166.54 L372,166.7 L372.5,167.66 L373,167.67 L373.5,166.71 L374,167.39 L374.5,166.99 L375,165.77 L375.5,166.7 L376,165.93 L376.5,164.63 L377,165.32 L377.5,165.67 L378,164.04 L378.5,165.3 L379,166.29 L379.5,167.37 L380,167.7 L380.5,167.43 L381,166.48 L381.5,165.35 L382,164.98 L382.5,164.33 L383,162.96 L383.5,163.57 L384,162.34 L384.5,164.07 L385,164.18 L385.5,164.11 L386,164.92 L386.5,164.54 L387,165.32 L387.5,167.4 L388,166.76 L388.5,167.2 L389,167.56 L389.5,168.77 L390,168.76 L390.5,170.31 L391,169.52 L391.5,169.32 L392,166.82 L392.5,166.05 L393,165.33 L393.5,165.6 L394,165.72 L394.5,164.09 L395,164.7 L395.5,165.23 L396,166.64 L396.5,166.3 L397,165.29 L397.5,165.26 L398,165.73 L398.5,164.8 L399,163.78 L399.5,165 L400,163.69 L400.5,164.55 L401,163.69 L401.5,164.03 L402,162.61 L402.5,163.71 L403,164.96 L403.5,167.14 L404,166.52 L404.5,167.36 L405,167.6 L405.5,170.45 L406,169.88 L406.5,170.93 L407,170.47 L407.5,169.69 L408,169.03 L408.5,167.92 L409,167.72 L409.5,166.72 L410,167.18 L410.5,165.9 L411,164.82 L411.5,164.36 L412,165.9 L412.5,165.65 L413,165.68 L413.5,165.69 L414,166.3 L414.5,166.52 L415,165.07 L415.5,164.84 L416,165.08 L416.5,163.79 L417,164.11 L417.5,164.78 L418,163.61 L418.5,163.6 L419,163.52 L419.5,165.12 L420,165.09 L420.5,165.25 L421,165.47 L421.5,165.65 L422,168.04 L422.5,167.12 L423,167.42 L423.5,167.47 L424,169.87 L424.5,169.87 L425,169.72 L425.5,171.28 L426,169.57 L426.5,168.84 L427,168.01 L427.5,168.5 L428,166.55 L428.5,166.07 L429,165.17 L429.5,164.11 L430,164.68 L430.5,163.11 L431,162.51 L431.5,164.48 L432,162.08 L432.5,163.3 L433,163.42 L433.5,161.67 L434,163.9 L434.5,165.12 L435,165.34 L435.5,165.61 L436,165.9 L436.5,166.1 L437,166.12 L437.5,166.12 L438,167.99 L438.5,168.68 L439,169.86 L439.5,170.59 L440,169.35 L440.5,168.14 L441,167.17 L441.5,166.8 L442,165.3 L442.5,163.96 L443,163.09 L443.5,162.52 L444,165.33 L444.5,166.18 L445,166.88 L445.5,167.78 L446,167.13 L446.5,166.45 L447,166.32 L447.5,165.28 L448,165.25 L448.5,165.17 L449,165.43 L449.5,166.44 L450,164.83 L450.5,165.09 L451,166.13 L451.5,166.56 L452,165.42 L452.5,165.13 L453,164.99 L453.5,165.28 L454,165.59 L454.5,165.53 L455,165.26 L455.5,165.92 L456,165.95 L456.5,166.37 L457,165.99 L457.5,165.18 L458,164.8 L458.5,165.13 L459,165.82 L459.5,163.72 L460,164.34 L460.5,164.54 L461,164.4 L461.5,163.91 L462,164.79 L462.5,164.76 L463,165.72 L463.5,164.86 L464,165.89 L464.5,168.99 L465,169.76 L465.5,170.22 L466,169.88 L466.5,169.24 L467,168.2 L467.5,168.65 L468,167.37 L468.5,165.91 L469,166.07 L469.5,166.91 L470,164.7 L470.5,164.64 L471,162.52 L471.5,161.75 L472,162 L472.5,162.2 L473,164.42 L473.5,165.51 L474,166.91 L474.5,166.38 L475,168.53 L475.5,167.63 L476,169.74 L476.5,169.53 L477,168.91 L477.5,168.26 L478,167.69 L478.5,167.45 L479,166.06 L479.5,165.67 L480,164.79 L480.5,165.05 L481,165.93 L481.5,164.49 L482,163.99 L482.5,163.9 L483,164.09 L483.5,163.33 L484,161.66 L484.5,161.31 L485,163.54 L485.5,163.45 L486,164.72 L486.5,167.45 L487,168.36 L487.5,168.82 L488,172 L488.5,171.54 L489,170.25 L489.5,169.37 L490,168.67 L490.5,167.98 L491,167.23 L491.5,166.47 L492,166.64 L492.5,167.18 L493,165.69 L493.5,166.05 L494,165.82 L494.5,165.93 L495,165.16 L495.5,165.26 L496,163.83 L496.5,164.45 L497,163.37 L497.5,163.29 L498,163.79 L498.5,163.56 L499,163.52 L499.5,165.39 L500,164.87 L500.5,164.43 L501,166.57 L501.5,166.54 L502,166.89 L502.5,167.85 L503,168.93 L503.5,169.05 L504,169.78 L504.5,170.89 L505,170.07 L505.5,169.88 L506,169.8 L506.5,168.4 L507,168.14 L507.5,167.6 L508,167.34 L508.5,167.71 L509,165.71 L509.5,165.09 L510,166.09 L510.5,164.39 L511,163.89 L511.5,163.6 L512,164.26 L512.5,163.1 L513,162.74 L513.5,163.43 L514,164.65 L514.5,164.6 L515,164.62 L515.5,165.67 L516,166.85 L516.5,166.42 L517,166.5 L517.5,166.76 L518,167.56 L518.5,166.98 L519,167.44 L519.5,167.16 L520,167.94 L520.5,167.86 L521,167.71 L521.5,167.29 L522,168.41 L522.5,167.55 L523,166.76 L523.5,164.96 L524,166.37 L524.5,164.72 L525,164.22 L525.5,164.63 L526,163.31 L526.5,163.39 L527,162.33 L527.5,162.7 L528,161.45 L528.5,163.83 L529,166.11 L529.5,169.19 L530,170.02 L530.5,171.41 L531,168.99 L531.5,169.35 L532,168.89 L532.5,169.56 L533,168.93 L533.5,169.32 L534,168.24 L534.5,167.98 L535,166.79 L535.5,166.18 L536,165.37 L536.5,164.03 L537,163.61 L537.5,163.6 L538,161.55 L538.5,161.85 L539,159.93 L539.5,160.05 L540,159.68 L540.5,161.12 L541,163.09" fill="none" stroke="#000" stroke-width="1.25" stroke-linejoin="round"/>
<rect x="342.1" y="144.9" width="6.7" height="42.2" fill="#000" fill-opacity="0.18"/>
<line x1="342.1" y1="144.9" x2="342.1" y2="187.1" stroke="#000" stroke-opacity="0.38" stroke-width="0.7"/>
<line x1="348.8" y1="144.9" x2="348.8" y2="187.1" stroke="#000" stroke-opacity="0.38" stroke-width="0.7"/>
<rect x="353.9" y="144.9" width="5.9" height="42.2" fill="#000" fill-opacity="0.32"/>
<line x1="353.9" y1="144.9" x2="353.9" y2="187.1" stroke="#000" stroke-opacity="0.38" stroke-width="0.7"/>
<line x1="359.8" y1="144.9" x2="359.8" y2="187.1" stroke="#000" stroke-opacity="0.38" stroke-width="0.7"/>
<rect x="365.3" y="144.9" width="14.9" height="42.2" fill="#000" fill-opacity="0.18"/>
<line x1="365.3" y1="144.9" x2="365.3" y2="187.1" stroke="#000" stroke-opacity="0.38" stroke-width="0.7"/>
<line x1="380.2" y1="144.9" x2="380.2" y2="187.1" stroke="#000" stroke-opacity="0.38" stroke-width="0.7"/>
<rect x="385.7" y="144.9" width="14.8" height="42.2" fill="#000" fill-opacity="0.32"/>
<line x1="385.7" y1="144.9" x2="385.7" y2="187.1" stroke="#000" stroke-opacity="0.38" stroke-width="0.7"/>
<line x1="400.5" y1="144.9" x2="400.5" y2="187.1" stroke="#000" stroke-opacity="0.38" stroke-width="0.7"/>
<rect x="406.3" y="144.9" width="9.4" height="42.2" fill="#000" fill-opacity="0.18"/>
<line x1="406.3" y1="144.9" x2="406.3" y2="187.1" stroke="#000" stroke-opacity="0.38" stroke-width="0.7"/>
<line x1="415.7" y1="144.9" x2="415.7" y2="187.1" stroke="#000" stroke-opacity="0.38" stroke-width="0.7"/>
<rect x="421" y="144.9" width="8.9" height="42.2" fill="#000" fill-opacity="0.32"/>
<line x1="421" y1="144.9" x2="421" y2="187.1" stroke="#000" stroke-opacity="0.38" stroke-width="0.7"/>
<line x1="429.9" y1="144.9" x2="429.9" y2="187.1" stroke="#000" stroke-opacity="0.38" stroke-width="0.7"/>
<rect x="435.5" y="144.9" width="8.4" height="42.2" fill="#000" fill-opacity="0.18"/>
<line x1="435.5" y1="144.9" x2="435.5" y2="187.1" stroke="#000" stroke-opacity="0.38" stroke-width="0.7"/>
<line x1="443.9" y1="144.9" x2="443.9" y2="187.1" stroke="#000" stroke-opacity="0.38" stroke-width="0.7"/>
<rect x="448.9" y="144.9" width="7.6" height="42.2" fill="#000" fill-opacity="0.32"/>
<line x1="448.9" y1="144.9" x2="448.9" y2="187.1" stroke="#000" stroke-opacity="0.38" stroke-width="0.7"/>
<line x1="456.5" y1="144.9" x2="456.5" y2="187.1" stroke="#000" stroke-opacity="0.38" stroke-width="0.7"/>
<rect x="462.2" y="144.9" width="4.2" height="42.2" fill="#000" fill-opacity="0.18"/>
<line x1="462.2" y1="144.9" x2="462.2" y2="187.1" stroke="#000" stroke-opacity="0.38" stroke-width="0.7"/>
<line x1="466.4" y1="144.9" x2="466.4" y2="187.1" stroke="#000" stroke-opacity="0.38" stroke-width="0.7"/>
<rect x="472.4" y="144.9" width="4.4" height="42.2" fill="#000" fill-opacity="0.32"/>
<line x1="472.4" y1="144.9" x2="472.4" y2="187.1" stroke="#000" stroke-opacity="0.38" stroke-width="0.7"/>
<line x1="476.8" y1="144.9" x2="476.8" y2="187.1" stroke="#000" stroke-opacity="0.38" stroke-width="0.7"/>
<rect x="482.1" y="144.9" width="12.7" height="42.2" fill="#000" fill-opacity="0.18"/>
<line x1="482.1" y1="144.9" x2="482.1" y2="187.1" stroke="#000" stroke-opacity="0.38" stroke-width="0.7"/>
<line x1="494.8" y1="144.9" x2="494.8" y2="187.1" stroke="#000" stroke-opacity="0.38" stroke-width="0.7"/>
<rect x="500.1" y="144.9" width="11.5" height="42.2" fill="#000" fill-opacity="0.32"/>
<line x1="500.1" y1="144.9" x2="500.1" y2="187.1" stroke="#000" stroke-opacity="0.38" stroke-width="0.7"/>
<line x1="511.6" y1="144.9" x2="511.6" y2="187.1" stroke="#000" stroke-opacity="0.38" stroke-width="0.7"/>
<rect x="517" y="144.9" width="3.2" height="42.2" fill="#000" fill-opacity="0.18"/>
<line x1="517" y1="144.9" x2="517" y2="187.1" stroke="#000" stroke-opacity="0.38" stroke-width="0.7"/>
<line x1="520.2" y1="144.9" x2="520.2" y2="187.1" stroke="#000" stroke-opacity="0.38" stroke-width="0.7"/>
<rect x="526.3" y="144.9" width="3.4" height="42.2" fill="#000" fill-opacity="0.32"/>
<line x1="526.3" y1="144.9" x2="526.3" y2="187.1" stroke="#000" stroke-opacity="0.38" stroke-width="0.7"/>
<line x1="529.7" y1="144.9" x2="529.7" y2="187.1" stroke="#000" stroke-opacity="0.38" stroke-width="0.7"/>
</g>
<rect x="330.3" y="144.9" width="211" height="42.2" fill="none" stroke="#a4a4a4" stroke-width="0.75"/>
<line x1="330.3" y1="187.1" x2="330.3" y2="185.1" stroke="#8a8a8a" stroke-width="0.6"/>
<line x1="330.3" y1="144.9" x2="330.3" y2="146.9" stroke="#8a8a8a" stroke-width="0.6"/>
<line x1="359.61" y1="187.1" x2="359.61" y2="185.1" stroke="#8a8a8a" stroke-width="0.6"/>
<line x1="359.61" y1="144.9" x2="359.61" y2="146.9" stroke="#8a8a8a" stroke-width="0.6"/>
<line x1="388.91" y1="187.1" x2="388.91" y2="185.1" stroke="#8a8a8a" stroke-width="0.6"/>
<line x1="388.91" y1="144.9" x2="388.91" y2="146.9" stroke="#8a8a8a" stroke-width="0.6"/>
<line x1="418.22" y1="187.1" x2="418.22" y2="185.1" stroke="#8a8a8a" stroke-width="0.6"/>
<line x1="418.22" y1="144.9" x2="418.22" y2="146.9" stroke="#8a8a8a" stroke-width="0.6"/>
<line x1="447.52" y1="187.1" x2="447.52" y2="185.1" stroke="#8a8a8a" stroke-width="0.6"/>
<line x1="447.52" y1="144.9" x2="447.52" y2="146.9" stroke="#8a8a8a" stroke-width="0.6"/>
<line x1="476.83" y1="187.1" x2="476.83" y2="185.1" stroke="#8a8a8a" stroke-width="0.6"/>
<line x1="476.83" y1="144.9" x2="476.83" y2="146.9" stroke="#8a8a8a" stroke-width="0.6"/>
<line x1="506.13" y1="187.1" x2="506.13" y2="185.1" stroke="#8a8a8a" stroke-width="0.6"/>
<line x1="506.13" y1="144.9" x2="506.13" y2="146.9" stroke="#8a8a8a" stroke-width="0.6"/>
<line x1="535.44" y1="187.1" x2="535.44" y2="185.1" stroke="#8a8a8a" stroke-width="0.6"/>
<line x1="535.44" y1="144.9" x2="535.44" y2="146.9" stroke="#8a8a8a" stroke-width="0.6"/>
<line x1="330.3" y1="146.3" x2="332.3" y2="146.3" stroke="#8a8a8a" stroke-width="0.6"/>
<line x1="541.3" y1="146.3" x2="539.3" y2="146.3" stroke="#8a8a8a" stroke-width="0.6"/>
<line x1="330.3" y1="166.2" x2="332.3" y2="166.2" stroke="#8a8a8a" stroke-width="0.6"/>
<line x1="541.3" y1="166.2" x2="539.3" y2="166.2" stroke="#8a8a8a" stroke-width="0.6"/>
<line x1="330.3" y1="186.2" x2="332.3" y2="186.2" stroke="#8a8a8a" stroke-width="0.6"/>
<line x1="541.3" y1="186.2" x2="539.3" y2="186.2" stroke="#8a8a8a" stroke-width="0.6"/>
<text font-size="7.9" text-anchor="end" stroke="#1e1e1e" stroke-width="0.18" fill="#1e1e1e" transform="translate(327.7 150.2) scale(1 1.12)">0.2</text>
<text font-size="7.9" text-anchor="end" stroke="#1e1e1e" stroke-width="0.18" fill="#1e1e1e" transform="translate(327.7 170.1) scale(1 1.12)">0</text>
<text font-size="7.9" text-anchor="end" stroke="#1e1e1e" stroke-width="0.18" fill="#1e1e1e" transform="translate(327.7 190.1) scale(1 1.12)">-0.2</text>
<text font-size="7.8" text-anchor="middle" font-weight="bold" fill="#000" transform="translate(435.8 142) scale(1 1.12)" stroke="#000" stroke-width="0.2">UpMC: t=-1.7</text>
<g clip-path="url(#c13)">
<path d="M330.3,224.9 330.9,221.0 331.5,223.8 332.1,219.4 332.7,221.9 333.3,226.7 333.9,226.3 334.5,221.1 335.1,222.2 335.7,217.2 336.3,222.7 336.9,225.1 337.5,222.8 338.1,224.9 338.7,224.4 339.3,225.4 339.9,223.5 340.5,224.8 341.1,227.5 341.7,222.8 342.3,217.1 342.9,215.7 343.5,214.7 344.1,224.6 344.7,222.2 345.3,218.4 345.9,213.1 346.5,218.0 347.1,220.2 347.7,221.4 348.3,225.5 348.9,223.4 349.5,227.9 350.1,227.7 350.7,230.0 351.3,219.9 351.9,221.7 352.5,220.1 353.1,220.6 353.7,223.8 354.3,223.2 354.9,223.3 355.5,221.5 356.1,220.3 356.7,223.4 357.3,220.6 357.9,220.8 358.5,225.5 359.1,225.9 359.7,223.4 360.3,227.0 360.9,226.7 361.5,223.9 362.1,227.7 362.7,228.5 363.3,226.2 363.9,223.9 364.5,223.2 365.1,221.5 365.7,219.2 366.3,211.0 366.9,218.0 367.5,220.7 368.1,218.7 368.7,221.2 369.3,222.3 369.9,226.0 370.5,214.7 371.1,216.6 371.7,216.5 372.3,217.5 372.9,211.4 373.5,220.2 374.1,218.0 374.7,218.2 375.3,215.5 375.9,222.8 376.5,222.8 377.1,221.3 377.7,219.8 378.3,219.6 378.9,222.2 379.5,221.8 380.1,223.7 380.7,218.2 381.3,216.4 381.9,222.6 382.5,217.8 383.1,219.3 383.7,216.4 384.3,210.1 384.9,219.4 385.5,214.3 386.1,219.0 386.7,218.7 387.3,218.3 387.9,220.5 388.5,214.4 389.1,221.6 389.7,221.8 390.3,218.5 390.9,225.9 391.5,221.4 392.1,221.0 392.7,227.8 393.3,225.5 393.9,222.7 394.5,221.7 395.1,222.0 395.7,222.8 396.3,223.6 396.9,220.7 397.5,220.8 398.1,217.5 398.7,215.4 399.3,227.1 399.9,222.5 400.5,222.5 401.1,222.9 401.7,224.3 402.3,219.1 402.9,225.5 403.5,221.0 404.1,221.8 404.7,222.5 405.3,220.7 405.9,218.5 406.5,221.7 407.1,216.9 407.7,220.8 408.3,217.3 408.9,222.2 409.5,220.9 410.1,219.0 410.7,217.1 411.3,220.7 411.9,215.3 412.5,216.0 413.1,219.2 413.7,224.0 414.3,218.3 414.9,222.0 415.5,219.2 416.1,220.8 416.7,225.6 417.3,224.5 417.9,218.7 418.5,221.7 419.1,224.3 419.7,219.5 420.3,223.1 420.9,221.0 421.5,223.5 422.1,218.3 422.7,226.3 423.3,219.6 423.9,221.1 424.5,218.3 425.1,219.4 425.7,222.7 426.3,224.1 426.9,223.7 427.5,216.3 428.1,222.7 428.7,219.7 429.3,221.4 429.9,218.9 430.5,224.7 431.1,222.5 431.7,222.9 432.3,223.8 432.9,219.7 433.5,224.8 434.1,218.7 434.7,221.1 435.3,221.9 435.9,219.2 436.5,216.6 437.1,225.4 437.7,223.3 438.3,218.2 438.9,223.6 439.5,219.4 440.1,217.6 440.7,221.9 441.3,226.0 441.9,221.8 442.5,217.5 443.1,223.9 443.7,223.1 444.3,220.8 444.9,220.7 445.5,222.9 446.1,219.6 446.7,224.6 447.3,219.6 447.9,214.0 448.5,216.2 449.1,217.3 449.7,214.0 450.3,214.4 450.9,211.6 451.5,219.0 452.1,221.2 452.7,224.1 453.3,212.7 453.9,217.1 454.5,216.9 455.1,214.0 455.7,222.4 456.3,222.3 456.9,221.5 457.5,223.4 458.1,225.1 458.7,224.8 459.3,223.5 459.9,222.1 460.5,216.4 461.1,218.0 461.7,221.8 462.3,222.5 462.9,220.7 463.5,224.1 464.1,222.0 464.7,224.1 465.3,218.2 465.9,218.6 466.5,218.1 467.1,219.8 467.7,222.9 468.3,216.6 468.9,216.8 469.5,216.3 470.1,223.5 470.7,214.1 471.3,214.9 471.9,217.6 472.5,224.3 473.1,223.0 473.7,219.3 474.3,222.4 474.9,221.4 475.5,225.8 476.1,215.6 476.7,224.5 477.3,220.4 477.9,226.3 478.5,222.6 479.1,226.2 479.7,220.1 480.3,224.8 480.9,222.1 481.5,216.6 482.1,220.1 482.7,216.1 483.3,219.3 483.9,221.8 484.5,219.8 485.1,220.6 485.7,216.6 486.3,216.0 486.9,223.0 487.5,222.5 488.1,217.6 488.7,223.2 489.3,222.3 489.9,219.2 490.5,222.8 491.1,226.9 491.7,227.3 492.3,224.7 492.9,218.6 493.5,221.5 494.1,217.8 494.7,217.2 495.3,222.4 495.9,219.1 496.5,218.9 497.1,222.1 497.7,227.3 498.3,220.1 498.9,221.1 499.5,218.8 500.1,222.1 500.7,225.6 501.3,216.3 501.9,214.9 502.5,217.1 503.1,222.4 503.7,217.2 504.3,214.8 504.9,217.7 505.5,223.8 506.1,221.3 506.7,218.9 507.3,224.2 507.9,219.5 508.5,221.9 509.1,225.0 509.7,215.5 510.3,226.2 510.9,220.9 511.5,223.0 512.1,222.5 512.7,226.0 513.3,223.7 513.9,224.6 514.5,225.6 515.1,226.2 515.7,218.5 516.3,223.0 516.9,215.9 517.5,221.3 518.1,226.1 518.7,222.5 519.3,222.5 519.9,226.7 520.5,225.9 521.1,225.2 521.7,220.4 522.3,219.7 522.9,220.2 523.5,215.5 524.1,219.4 524.7,221.7 525.3,224.9 525.9,225.8 526.5,224.2 527.1,228.5 527.7,226.1 528.3,224.8 528.9,228.5 529.5,228.3 530.1,225.5 530.7,219.8 531.3,221.3 531.9,220.2 532.5,216.8 533.1,223.1 533.7,218.2 534.3,221.7 534.9,220.1 535.5,221.0 536.1,219.8 536.7,220.1 537.3,219.7 537.9,220.3 538.5,215.5 539.1,215.6 539.7,216.4 540.3,221.4 540.9,222.0 541.5,224.9 541.5,239.8 540.9,244.5 540.3,247.0 539.7,235.5 539.1,242.4 538.5,243.6 537.9,239.9 537.3,245.9 536.7,243.6 536.1,244.4 535.5,240.8 534.9,245.3 534.3,241.5 533.7,238.3 533.1,247.0 532.5,242.2 531.9,241.2 531.3,239.7 530.7,244.9 530.1,248.6 529.5,248.8 528.9,244.3 528.3,243.2 527.7,244.1 527.1,250.3 526.5,243.0 525.9,241.9 525.3,241.9 524.7,242.9 524.1,235.3 523.5,240.7 522.9,248.4 522.3,244.0 521.7,246.0 521.1,242.9 520.5,248.0 519.9,244.9 519.3,246.3 518.7,244.2 518.1,240.5 517.5,245.7 516.9,240.6 516.3,239.3 515.7,240.9 515.1,243.0 514.5,245.0 513.9,244.4 513.3,247.0 512.7,242.1 512.1,249.6 511.5,248.8 510.9,248.7 510.3,241.2 509.7,248.0 509.1,245.3 508.5,242.1 507.9,247.9 507.3,253.1 506.7,243.6 506.1,249.9 505.5,244.8 504.9,244.5 504.3,242.7 503.7,241.5 503.1,246.0 502.5,246.8 501.9,243.0 501.3,240.4 500.7,243.9 500.1,243.4 499.5,248.7 498.9,246.5 498.3,240.1 497.7,248.8 497.1,243.9 496.5,249.1 495.9,243.5 495.3,240.6 494.7,243.4 494.1,246.6 493.5,244.3 492.9,252.6 492.3,251.9 491.7,248.4 491.1,242.8 490.5,242.8 489.9,244.8 489.3,250.1 488.7,241.3 488.1,244.5 487.5,242.2 486.9,249.3 486.3,246.7 485.7,245.8 485.1,242.8 484.5,247.9 483.9,249.8 483.3,236.1 482.7,237.2 482.1,240.8 481.5,241.9 480.9,247.7 480.3,244.2 479.7,245.8 479.1,246.4 478.5,241.4 477.9,239.9 477.3,240.5 476.7,241.8 476.1,250.2 475.5,247.4 474.9,243.2 474.3,244.8 473.7,245.3 473.1,244.3 472.5,247.3 471.9,244.9 471.3,244.7 470.7,238.0 470.1,240.4 469.5,238.4 468.9,245.5 468.3,241.6 467.7,239.4 467.1,238.4 466.5,236.3 465.9,241.6 465.3,243.9 464.7,245.9 464.1,248.5 463.5,240.7 462.9,243.3 462.3,243.7 461.7,244.3 461.1,239.3 460.5,240.4 459.9,247.5 459.3,241.2 458.7,238.0 458.1,243.7 457.5,243.8 456.9,247.6 456.3,245.9 455.7,241.1 455.1,245.1 454.5,240.3 453.9,242.9 453.3,239.6 452.7,245.3 452.1,247.6 451.5,239.7 450.9,243.4 450.3,240.4 449.7,238.8 449.1,236.9 448.5,237.6 447.9,244.1 447.3,245.2 446.7,243.2 446.1,239.2 445.5,244.0 444.9,241.1 444.3,242.8 443.7,241.4 443.1,245.9 442.5,236.9 441.9,238.7 441.3,243.7 440.7,244.4 440.1,240.1 439.5,245.5 438.9,245.1 438.3,247.0 437.7,242.0 437.1,236.8 436.5,241.6 435.9,237.7 435.3,247.8 434.7,243.4 434.1,245.4 433.5,244.1 432.9,242.1 432.3,241.1 431.7,241.8 431.1,245.7 430.5,237.6 429.9,234.7 429.3,240.2 428.7,242.1 428.1,241.1 427.5,243.4 426.9,248.8 426.3,244.0 425.7,244.5 425.1,246.6 424.5,246.5 423.9,244.0 423.3,239.7 422.7,248.8 422.1,243.3 421.5,243.2 420.9,242.2 420.3,242.5 419.7,239.5 419.1,247.0 418.5,242.7 417.9,240.3 417.3,238.7 416.7,240.0 416.1,239.4 415.5,244.7 414.9,244.7 414.3,237.9 413.7,238.3 413.1,239.2 412.5,247.1 411.9,239.9 411.3,246.7 410.7,247.9 410.1,244.2 409.5,245.9 408.9,247.0 408.3,241.1 407.7,247.6 407.1,244.4 406.5,240.0 405.9,239.6 405.3,245.9 404.7,240.4 404.1,242.1 403.5,236.9 402.9,241.7 402.3,238.7 401.7,242.8 401.1,245.0 400.5,244.6 399.9,240.4 399.3,243.1 398.7,241.4 398.1,239.7 397.5,240.6 396.9,239.1 396.3,239.3 395.7,240.1 395.1,240.7 394.5,239.2 393.9,246.2 393.3,239.5 392.7,242.4 392.1,242.3 391.5,242.8 390.9,243.4 390.3,243.0 389.7,250.5 389.1,250.5 388.5,239.8 387.9,241.2 387.3,238.3 386.7,236.5 386.1,242.7 385.5,248.4 384.9,243.1 384.3,241.7 383.7,250.5 383.1,249.0 382.5,243.8 381.9,243.8 381.3,241.8 380.7,240.7 380.1,245.5 379.5,241.5 378.9,242.6 378.3,242.6 377.7,244.0 377.1,236.4 376.5,238.6 375.9,239.3 375.3,249.9 374.7,243.7 374.1,251.0 373.5,245.9 372.9,246.1 372.3,242.1 371.7,237.7 371.1,241.2 370.5,248.4 369.9,244.0 369.3,242.4 368.7,248.5 368.1,248.4 367.5,247.8 366.9,245.2 366.3,243.9 365.7,242.5 365.1,243.5 364.5,241.4 363.9,242.0 363.3,240.5 362.7,242.0 362.1,240.5 361.5,238.3 360.9,245.9 360.3,245.2 359.7,239.9 359.1,243.7 358.5,242.4 357.9,239.9 357.3,241.0 356.7,242.0 356.1,243.7 355.5,244.9 354.9,237.2 354.3,242.3 353.7,241.2 353.1,242.5 352.5,245.0 351.9,239.7 351.3,245.3 350.7,240.4 350.1,240.8 349.5,241.5 348.9,243.2 348.3,245.2 347.7,248.1 347.1,240.9 346.5,243.4 345.9,244.7 345.3,244.1 344.7,244.5 344.1,243.8 343.5,242.5 342.9,244.3 342.3,243.6 341.7,241.1 341.1,242.7 340.5,240.6 339.9,243.7 339.3,239.3 338.7,244.0 338.1,241.9 337.5,238.3 336.9,240.8 336.3,242.8 335.7,249.6 335.1,241.2 334.5,244.1 333.9,246.1 333.3,244.0 332.7,242.9 332.1,240.6 331.5,242.3 330.9,241.0 330.3,240.8Z" fill="#00ffff" fill-opacity="0.6"/>
<path d="M330.3,226.5 330.9,228.2 331.5,221.6 332.1,222.5 332.7,224.2 333.3,223.1 333.9,217.4 334.5,221.9 335.1,219.0 335.7,214.5 336.3,219.1 336.9,222.7 337.5,224.5 338.1,220.0 338.7,222.4 339.3,224.5 339.9,227.6 340.5,228.9 341.1,225.2 341.7,225.8 342.3,227.8 342.9,217.0 343.5,215.5 344.1,216.3 344.7,211.3 345.3,220.0 345.9,220.0 346.5,215.2 347.1,219.8 347.7,215.3 348.3,224.2 348.9,222.8 349.5,224.9 350.1,222.1 350.7,226.8 351.3,225.5 351.9,222.4 352.5,219.9 353.1,222.0 353.7,221.6 354.3,221.8 354.9,219.8 355.5,216.6 356.1,222.7 356.7,223.8 357.3,225.9 357.9,224.4 358.5,224.5 359.1,224.4 359.7,225.9 360.3,221.7 360.9,227.4 361.5,221.3 362.1,226.3 362.7,223.0 363.3,223.6 363.9,222.3 364.5,226.1 365.1,220.6 365.7,216.3 366.3,217.5 366.9,217.0 367.5,214.5 368.1,220.6 368.7,223.2 369.3,217.9 369.9,222.2 370.5,217.3 371.1,212.9 371.7,221.9 372.3,215.7 372.9,213.2 373.5,218.6 374.1,214.4 374.7,218.2 375.3,215.9 375.9,213.5 376.5,221.9 377.1,222.8 377.7,226.3 378.3,221.1 378.9,222.6 379.5,224.9 380.1,219.5 380.7,221.8 381.3,216.5 381.9,222.3 382.5,215.8 383.1,210.6 383.7,214.4 384.3,213.7 384.9,214.3 385.5,208.9 386.1,222.0 386.7,219.7 387.3,221.9 387.9,222.3 388.5,218.7 389.1,223.0 389.7,216.0 390.3,218.3 390.9,219.3 391.5,222.1 392.1,222.1 392.7,220.8 393.3,223.2 393.9,223.8 394.5,226.9 395.1,222.3 395.7,219.1 396.3,223.0 396.9,224.1 397.5,222.6 398.1,223.0 398.7,225.1 399.3,224.4 399.9,217.9 400.5,224.1 401.1,223.6 401.7,219.9 402.3,221.2 402.9,220.1 403.5,220.8 404.1,221.3 404.7,224.6 405.3,219.0 405.9,221.0 406.5,221.9 407.1,224.8 407.7,213.6 408.3,222.6 408.9,222.5 409.5,220.6 410.1,220.7 410.7,221.4 411.3,222.0 411.9,224.5 412.5,218.2 413.1,214.8 413.7,219.3 414.3,221.0 414.9,224.0 415.5,216.6 416.1,221.6 416.7,219.1 417.3,222.0 417.9,225.2 418.5,219.8 419.1,226.3 419.7,224.6 420.3,218.8 420.9,223.6 421.5,221.4 422.1,224.2 422.7,222.7 423.3,226.4 423.9,215.7 424.5,222.3 425.1,217.0 425.7,215.9 426.3,217.4 426.9,216.3 427.5,220.8 428.1,215.0 428.7,221.8 429.3,221.9 429.9,224.8 430.5,223.5 431.1,224.3 431.7,225.4 432.3,224.0 432.9,218.6 433.5,215.6 434.1,215.3 434.7,215.0 435.3,221.7 435.9,218.8 436.5,218.4 437.1,217.8 437.7,215.7 438.3,225.2 438.9,224.6 439.5,222.9 440.1,219.5 440.7,220.2 441.3,227.0 441.9,218.8 442.5,219.8 443.1,224.6 443.7,221.9 444.3,227.8 444.9,226.5 445.5,224.3 446.1,225.9 446.7,224.9 447.3,224.8 447.9,223.1 448.5,219.5 449.1,219.8 449.7,213.9 450.3,219.0 450.9,218.8 451.5,221.6 452.1,222.0 452.7,216.0 453.3,221.2 453.9,215.3 454.5,219.4 455.1,217.7 455.7,215.6 456.3,225.6 456.9,220.5 457.5,224.6 458.1,218.7 458.7,219.2 459.3,214.9 459.9,217.1 460.5,221.5 461.1,224.7 461.7,224.5 462.3,215.7 462.9,220.8 463.5,225.0 464.1,225.4 464.7,225.7 465.3,222.5 465.9,216.5 466.5,216.6 467.1,215.3 467.7,222.4 468.3,223.2 468.9,217.2 469.5,214.6 470.1,220.6 470.7,219.6 471.3,217.6 471.9,221.9 472.5,216.8 473.1,217.4 473.7,216.4 474.3,219.2 474.9,224.8 475.5,216.8 476.1,223.6 476.7,222.0 477.3,215.9 477.9,221.4 478.5,222.7 479.1,220.8 479.7,219.1 480.3,227.5 480.9,220.6 481.5,216.3 482.1,217.3 482.7,220.2 483.3,221.8 483.9,220.2 484.5,224.6 485.1,219.2 485.7,221.2 486.3,217.0 486.9,223.0 487.5,224.5 488.1,224.4 488.7,226.8 489.3,219.8 489.9,229.8 490.5,229.1 491.1,224.0 491.7,220.3 492.3,220.3 492.9,222.9 493.5,225.6 494.1,221.8 494.7,220.0 495.3,222.5 495.9,223.7 496.5,224.4 497.1,226.6 497.7,220.2 498.3,221.0 498.9,219.1 499.5,225.4 500.1,224.2 500.7,225.4 501.3,220.6 501.9,219.5 502.5,218.6 503.1,214.9 503.7,218.2 504.3,219.9 504.9,216.9 505.5,220.6 506.1,222.1 506.7,223.2 507.3,227.2 507.9,226.4 508.5,224.9 509.1,221.6 509.7,224.2 510.3,219.9 510.9,222.1 511.5,227.6 512.1,224.9 512.7,222.0 513.3,219.0 513.9,224.2 514.5,224.1 515.1,219.1 515.7,217.1 516.3,226.8 516.9,221.0 517.5,219.5 518.1,220.5 518.7,218.2 519.3,216.7 519.9,215.5 520.5,222.8 521.1,221.2 521.7,220.6 522.3,218.0 522.9,224.9 523.5,215.6 524.1,215.9 524.7,224.5 525.3,220.3 525.9,223.5 526.5,224.8 527.1,219.0 527.7,229.1 528.3,221.6 528.9,227.0 529.5,226.2 530.1,221.9 530.7,225.7 531.3,225.0 531.9,219.6 532.5,222.6 533.1,218.0 533.7,220.6 534.3,221.0 534.9,221.0 535.5,222.4 536.1,218.0 536.7,219.8 537.3,218.0 537.9,215.2 538.5,220.0 539.1,217.6 539.7,223.0 540.3,219.4 540.9,221.6 541.5,222.8 541.5,239.0 540.9,241.9 540.3,246.5 539.7,244.2 539.1,238.9 538.5,239.9 537.9,239.6 537.3,238.6 536.7,239.8 536.1,241.6 535.5,242.8 534.9,241.5 534.3,239.6 533.7,242.5 533.1,244.2 532.5,248.4 531.9,241.5 531.3,240.3 530.7,243.5 530.1,243.6 529.5,242.4 528.9,247.9 528.3,246.8 527.7,246.2 527.1,243.4 526.5,241.7 525.9,244.3 525.3,244.1 524.7,242.9 524.1,241.3 523.5,245.3 522.9,244.3 522.3,240.1 521.7,242.7 521.1,240.6 520.5,244.0 519.9,244.9 519.3,241.7 518.7,245.4 518.1,239.4 517.5,242.7 516.9,242.7 516.3,238.6 515.7,239.5 515.1,245.1 514.5,244.8 513.9,244.7 513.3,245.0 512.7,245.0 512.1,244.1 511.5,247.7 510.9,244.8 510.3,248.8 509.7,246.1 509.1,245.9 508.5,243.0 507.9,247.6 507.3,252.5 506.7,249.8 506.1,249.4 505.5,245.4 504.9,244.2 504.3,247.2 503.7,242.6 503.1,246.8 502.5,241.5 501.9,249.4 501.3,245.8 500.7,243.1 500.1,243.0 499.5,247.8 498.9,242.3 498.3,240.5 497.7,248.5 497.1,244.3 496.5,244.4 495.9,241.4 495.3,241.2 494.7,242.4 494.1,241.2 493.5,240.9 492.9,242.9 492.3,252.2 491.7,245.2 491.1,242.9 490.5,244.1 489.9,243.3 489.3,246.8 488.7,250.3 488.1,242.0 487.5,248.8 486.9,243.9 486.3,245.1 485.7,245.0 485.1,243.8 484.5,240.7 483.9,244.9 483.3,243.1 482.7,246.2 482.1,244.1 481.5,249.4 480.9,242.2 480.3,239.4 479.7,242.8 479.1,246.4 478.5,238.2 477.9,241.9 477.3,242.8 476.7,243.4 476.1,242.7 475.5,244.9 474.9,242.1 474.3,246.4 473.7,242.8 473.1,240.0 472.5,245.2 471.9,243.0 471.3,243.3 470.7,238.4 470.1,242.4 469.5,242.6 468.9,239.5 468.3,241.7 467.7,241.6 467.1,244.2 466.5,242.4 465.9,244.2 465.3,239.8 464.7,239.2 464.1,246.0 463.5,247.4 462.9,240.9 462.3,239.0 461.7,239.1 461.1,241.0 460.5,242.9 459.9,244.3 459.3,241.4 458.7,244.6 458.1,237.4 457.5,237.6 456.9,248.6 456.3,244.5 455.7,243.6 455.1,247.1 454.5,239.2 453.9,239.4 453.3,239.7 452.7,238.5 452.1,235.1 451.5,248.5 450.9,239.4 450.3,242.7 449.7,235.6 449.1,240.3 448.5,245.9 447.9,246.2 447.3,238.9 446.7,240.4 446.1,238.9 445.5,245.4 444.9,248.3 444.3,246.1 443.7,245.4 443.1,247.3 442.5,238.4 441.9,238.2 441.3,241.3 440.7,245.4 440.1,241.5 439.5,249.3 438.9,243.2 438.3,249.6 437.7,244.8 437.1,242.0 436.5,238.6 435.9,238.4 435.3,239.7 434.7,247.5 434.1,241.7 433.5,243.1 432.9,244.8 432.3,238.6 431.7,246.2 431.1,239.0 430.5,243.6 429.9,237.9 429.3,247.0 428.7,248.2 428.1,247.3 427.5,243.0 426.9,244.7 426.3,242.8 425.7,242.8 425.1,241.6 424.5,243.6 423.9,240.4 423.3,245.7 422.7,247.5 422.1,242.8 421.5,244.1 420.9,243.4 420.3,247.0 419.7,243.5 419.1,246.3 418.5,243.9 417.9,239.9 417.3,240.2 416.7,241.3 416.1,241.7 415.5,241.4 414.9,239.3 414.3,241.4 413.7,240.0 413.1,248.0 412.5,242.8 411.9,246.8 411.3,243.9 410.7,246.5 410.1,243.5 409.5,244.2 408.9,239.6 408.3,241.2 407.7,248.7 407.1,242.1 406.5,239.8 405.9,242.2 405.3,241.5 404.7,238.2 404.1,242.1 403.5,240.1 402.9,240.3 402.3,242.4 401.7,242.0 401.1,240.1 400.5,241.5 399.9,239.5 399.3,247.6 398.7,240.5 398.1,248.1 397.5,243.6 396.9,239.6 396.3,240.4 395.7,244.5 395.1,242.1 394.5,242.3 393.9,246.5 393.3,242.2 392.7,243.3 392.1,241.6 391.5,245.6 390.9,241.9 390.3,242.8 389.7,240.3 389.1,240.5 388.5,242.0 387.9,246.3 387.3,249.5 386.7,246.2 386.1,248.2 385.5,246.8 384.9,243.2 384.3,249.0 383.7,241.3 383.1,247.0 382.5,241.3 381.9,241.8 381.3,243.6 380.7,246.9 380.1,246.1 379.5,239.2 378.9,240.7 378.3,246.2 377.7,244.0 377.1,243.9 376.5,246.6 375.9,239.6 375.3,241.8 374.7,243.8 374.1,246.9 373.5,243.2 372.9,240.1 372.3,237.9 371.7,236.3 371.1,245.5 370.5,248.5 369.9,245.1 369.3,244.4 368.7,242.2 368.1,245.2 367.5,250.6 366.9,245.4 366.3,242.0 365.7,251.9 365.1,246.8 364.5,249.0 363.9,241.1 363.3,243.4 362.7,242.2 362.1,240.0 361.5,240.7 360.9,239.9 360.3,241.6 359.7,246.9 359.1,241.5 358.5,244.0 357.9,242.2 357.3,240.9 356.7,249.8 356.1,241.5 355.5,242.0 354.9,242.6 354.3,245.7 353.7,238.0 353.1,238.7 352.5,237.5 351.9,242.4 351.3,245.4 350.7,242.0 350.1,241.0 349.5,246.0 348.9,241.5 348.3,244.4 347.7,241.8 347.1,246.1 346.5,248.3 345.9,241.9 345.3,242.2 344.7,243.4 344.1,242.1 343.5,242.4 342.9,242.5 342.3,245.9 341.7,241.8 341.1,246.8 340.5,241.2 339.9,240.5 339.3,243.8 338.7,239.4 338.1,241.6 337.5,243.3 336.9,238.2 336.3,240.8 335.7,241.5 335.1,244.3 334.5,244.5 333.9,248.1 333.3,243.2 332.7,243.9 332.1,245.5 331.5,237.7 330.9,237.6 330.3,241.4Z" fill="#00ffff" fill-opacity="0.6"/>
<path d="M330.3,224.9 330.9,222.9 331.5,226.4 332.1,220.1 332.7,226.7 333.3,217.4 333.9,226.3 334.5,224.9 335.1,225.4 335.7,218.0 336.3,220.5 336.9,224.0 337.5,220.5 338.1,227.5 338.7,227.2 339.3,223.9 339.9,225.7 340.5,227.7 341.1,227.3 341.7,225.1 342.3,223.7 342.9,219.5 343.5,220.3 344.1,220.1 344.7,215.0 345.3,214.8 345.9,217.7 346.5,219.4 347.1,224.8 347.7,218.9 348.3,225.5 348.9,226.7 349.5,224.2 350.1,224.9 350.7,219.9 351.3,223.2 351.9,224.7 352.5,221.4 353.1,220.9 353.7,223.0 354.3,223.7 354.9,219.6 355.5,218.6 356.1,225.0 356.7,225.4 357.3,225.8 357.9,221.0 358.5,222.3 359.1,222.0 359.7,225.5 360.3,223.6 360.9,226.6 361.5,225.9 362.1,221.5 362.7,224.9 363.3,227.0 363.9,223.6 364.5,217.6 365.1,225.6 365.7,225.4 366.3,220.9 366.9,218.1 367.5,215.9 368.1,219.4 368.7,222.3 369.3,220.9 369.9,217.3 370.5,213.3 371.1,222.3 371.7,219.3 372.3,219.0 372.9,219.7 373.5,217.3 374.1,218.9 374.7,217.1 375.3,223.0 375.9,214.6 376.5,218.9 377.1,221.8 377.7,221.1 378.3,222.1 378.9,225.8 379.5,224.0 380.1,220.3 380.7,224.5 381.3,217.7 381.9,222.6 382.5,219.7 383.1,217.2 383.7,216.3 384.3,212.4 384.9,210.9 385.5,211.7 386.1,213.0 386.7,210.6 387.3,218.9 387.9,220.6 388.5,224.1 389.1,213.3 389.7,216.0 390.3,223.6 390.9,222.5 391.5,225.0 392.1,219.6 392.7,221.5 393.3,218.9 393.9,228.1 394.5,227.2 395.1,221.3 395.7,226.9 396.3,226.0 396.9,223.4 397.5,215.1 398.1,222.3 398.7,217.7 399.3,218.5 399.9,220.6 400.5,219.7 401.1,221.5 401.7,222.9 402.3,222.7 402.9,224.5 403.5,225.6 404.1,223.6 404.7,220.3 405.3,222.1 405.9,216.0 406.5,215.0 407.1,214.3 407.7,213.5 408.3,222.4 408.9,224.5 409.5,225.0 410.1,218.7 410.7,214.9 411.3,217.4 411.9,224.0 412.5,222.4 413.1,221.7 413.7,223.7 414.3,222.4 414.9,218.5 415.5,224.2 416.1,222.6 416.7,222.4 417.3,226.1 417.9,225.8 418.5,219.8 419.1,221.4 419.7,224.4 420.3,219.4 420.9,226.0 421.5,220.8 422.1,216.6 422.7,223.4 423.3,215.1 423.9,215.7 424.5,224.8 425.1,219.7 425.7,220.5 426.3,223.8 426.9,216.4 427.5,224.3 428.1,222.1 428.7,217.4 429.3,225.6 429.9,227.8 430.5,222.6 431.1,226.0 431.7,225.4 432.3,217.0 432.9,221.5 433.5,221.3 434.1,220.9 434.7,217.4 435.3,214.9 435.9,214.9 436.5,222.6 437.1,224.6 437.7,220.0 438.3,221.0 438.9,218.3 439.5,217.7 440.1,219.8 440.7,214.6 441.3,218.9 441.9,225.3 442.5,225.1 443.1,220.0 443.7,220.5 444.3,222.1 444.9,220.8 445.5,218.9 446.1,221.4 446.7,217.1 447.3,216.6 447.9,222.7 448.5,216.2 449.1,221.9 449.7,220.1 450.3,218.3 450.9,211.9 451.5,220.8 452.1,219.5 452.7,222.8 453.3,219.1 453.9,213.5 454.5,212.6 455.1,223.1 455.7,213.4 456.3,222.4 456.9,222.7 457.5,224.3 458.1,220.1 458.7,219.5 459.3,222.5 459.9,225.7 460.5,222.4 461.1,219.0 461.7,222.3 462.3,225.6 462.9,220.1 463.5,221.5 464.1,224.7 464.7,223.4 465.3,217.7 465.9,221.5 466.5,221.2 467.1,216.2 467.7,218.8 468.3,223.3 468.9,220.0 469.5,219.2 470.1,215.4 470.7,223.8 471.3,215.3 471.9,222.1 472.5,216.2 473.1,223.7 473.7,218.1 474.3,216.9 474.9,216.1 475.5,222.3 476.1,226.0 476.7,225.6 477.3,222.3 477.9,222.9 478.5,223.2 479.1,221.6 479.7,222.7 480.3,225.4 480.9,217.9 481.5,218.0 482.1,221.3 482.7,220.3 483.3,209.4 483.9,220.8 484.5,219.5 485.1,219.9 485.7,215.6 486.3,222.0 486.9,221.6 487.5,223.0 488.1,218.9 488.7,221.2 489.3,220.7 489.9,224.3 490.5,224.1 491.1,225.0 491.7,217.1 492.3,222.7 492.9,216.7 493.5,226.6 494.1,220.0 494.7,216.2 495.3,222.4 495.9,215.0 496.5,223.0 497.1,225.5 497.7,223.4 498.3,224.7 498.9,221.4 499.5,227.1 500.1,222.7 500.7,221.0 501.3,221.6 501.9,219.3 502.5,216.3 503.1,212.4 503.7,222.4 504.3,223.7 504.9,222.1 505.5,220.0 506.1,218.4 506.7,214.6 507.3,216.5 507.9,220.5 508.5,215.5 509.1,222.9 509.7,221.7 510.3,222.9 510.9,221.9 511.5,222.3 512.1,220.5 512.7,224.8 513.3,221.3 513.9,219.3 514.5,226.3 515.1,228.3 515.7,224.7 516.3,223.8 516.9,225.8 517.5,225.8 518.1,225.0 518.7,227.0 519.3,217.9 519.9,218.9 520.5,220.8 521.1,217.2 521.7,220.2 522.3,222.1 522.9,220.9 523.5,218.7 524.1,217.6 524.7,224.7 525.3,224.3 525.9,217.7 526.5,224.7 527.1,223.9 527.7,221.4 528.3,227.8 528.9,228.2 529.5,225.3 530.1,223.1 530.7,224.7 531.3,220.9 531.9,223.8 532.5,226.2 533.1,225.6 533.7,220.4 534.3,223.1 534.9,219.2 535.5,221.4 536.1,218.4 536.7,221.0 537.3,217.8 537.9,212.1 538.5,219.4 539.1,221.0 539.7,223.3 540.3,221.4 540.9,218.1 541.5,223.5 541.5,239.2 540.9,239.1 540.3,240.0 539.7,243.0 539.1,239.1 538.5,238.5 537.9,237.1 537.3,246.1 536.7,245.8 536.1,242.1 535.5,238.9 534.9,247.0 534.3,238.7 533.7,242.5 533.1,239.5 532.5,238.5 531.9,243.9 531.3,240.7 530.7,242.7 530.1,243.8 529.5,246.2 528.9,248.4 528.3,249.0 527.7,250.7 527.1,246.2 526.5,242.4 525.9,245.6 525.3,250.6 524.7,242.5 524.1,244.0 523.5,241.2 522.9,249.1 522.3,242.7 521.7,249.0 521.1,238.8 520.5,249.2 519.9,247.9 519.3,250.0 518.7,243.0 518.1,239.3 517.5,241.0 516.9,245.7 516.3,238.8 515.7,240.0 515.1,245.6 514.5,248.6 513.9,246.0 513.3,242.8 512.7,246.5 512.1,245.6 511.5,247.2 510.9,245.8 510.3,249.3 509.7,241.5 509.1,248.5 508.5,241.5 507.9,251.9 507.3,244.8 506.7,242.5 506.1,250.5 505.5,242.9 504.9,242.2 504.3,242.5 503.7,247.9 503.1,242.4 502.5,242.0 501.9,245.6 501.3,250.2 500.7,242.7 500.1,241.6 499.5,242.2 498.9,241.8 498.3,245.9 497.7,247.0 497.1,249.7 496.5,245.3 495.9,249.0 495.3,243.4 494.7,242.8 494.1,242.0 493.5,245.6 492.9,243.7 492.3,244.5 491.7,240.7 491.1,242.1 490.5,247.1 489.9,246.1 489.3,247.0 488.7,244.1 488.1,244.0 487.5,250.0 486.9,244.0 486.3,245.7 485.7,247.8 485.1,243.4 484.5,242.4 483.9,243.0 483.3,245.5 482.7,242.1 482.1,239.7 481.5,245.3 480.9,239.6 480.3,241.0 479.7,249.4 479.1,241.0 478.5,239.1 477.9,238.7 477.3,240.8 476.7,246.7 476.1,250.4 475.5,244.7 474.9,242.1 474.3,245.8 473.7,247.9 473.1,240.3 472.5,246.0 471.9,247.7 471.3,239.9 470.7,238.5 470.1,236.4 469.5,240.4 468.9,247.5 468.3,244.6 467.7,247.0 467.1,242.0 466.5,242.7 465.9,243.6 465.3,242.5 464.7,244.5 464.1,245.7 463.5,245.8 462.9,242.2 462.3,243.3 461.7,247.0 461.1,250.0 460.5,240.8 459.9,240.4 459.3,239.1 458.7,244.3 458.1,246.0 457.5,241.1 456.9,241.7 456.3,242.3 455.7,244.7 455.1,242.8 454.5,240.6 453.9,242.7 453.3,241.7 452.7,237.8 452.1,239.9 451.5,238.3 450.9,248.1 450.3,244.6 449.7,237.5 449.1,244.4 448.5,237.9 447.9,239.2 447.3,238.0 446.7,242.5 446.1,240.9 445.5,242.1 444.9,246.0 444.3,240.1 443.7,243.0 443.1,244.7 442.5,247.5 441.9,242.1 441.3,243.0 440.7,241.8 440.1,241.9 439.5,239.1 438.9,242.2 438.3,247.2 437.7,244.3 437.1,240.1 436.5,240.5 435.9,246.3 435.3,243.9 434.7,242.0 434.1,247.2 433.5,240.0 432.9,243.7 432.3,240.9 431.7,241.5 431.1,243.4 430.5,238.7 429.9,241.8 429.3,241.1 428.7,240.7 428.1,238.7 427.5,244.0 426.9,243.7 426.3,241.8 425.7,248.6 425.1,244.4 424.5,245.0 423.9,243.6 423.3,243.8 422.7,248.4 422.1,242.3 421.5,246.4 420.9,245.3 420.3,241.5 419.7,238.5 419.1,239.1 418.5,240.2 417.9,239.8 417.3,245.3 416.7,239.7 416.1,242.7 415.5,238.4 414.9,240.2 414.3,241.6 413.7,240.6 413.1,243.2 412.5,241.6 411.9,240.8 411.3,242.4 410.7,247.3 410.1,240.7 409.5,244.5 408.9,238.6 408.3,248.6 407.7,242.5 407.1,244.4 406.5,238.9 405.9,243.3 405.3,240.0 404.7,242.2 404.1,242.7 403.5,239.2 402.9,242.1 402.3,245.6 401.7,239.8 401.1,244.4 400.5,243.1 399.9,240.1 399.3,241.5 398.7,240.5 398.1,239.4 397.5,244.4 396.9,238.4 396.3,238.9 395.7,238.3 395.1,247.2 394.5,244.1 393.9,244.3 393.3,249.4 392.7,246.5 392.1,245.4 391.5,241.0 390.9,246.0 390.3,241.7 389.7,241.5 389.1,239.7 388.5,243.3 387.9,241.7 387.3,239.5 386.7,241.9 386.1,241.4 385.5,240.7 384.9,238.1 384.3,241.4 383.7,241.3 383.1,240.2 382.5,241.2 381.9,247.3 381.3,245.1 380.7,241.5 380.1,239.3 379.5,240.7 378.9,238.6 378.3,240.1 377.7,243.3 377.1,246.6 376.5,240.3 375.9,242.4 375.3,244.5 374.7,250.2 374.1,246.1 373.5,240.7 372.9,245.0 372.3,245.6 371.7,249.3 371.1,239.1 370.5,241.2 369.9,249.9 369.3,244.2 368.7,246.4 368.1,246.6 367.5,244.5 366.9,242.9 366.3,251.0 365.7,243.5 365.1,251.2 364.5,244.3 363.9,243.4 363.3,238.4 362.7,240.1 362.1,242.4 361.5,245.1 360.9,240.4 360.3,243.3 359.7,240.6 359.1,242.9 358.5,241.4 357.9,240.9 357.3,241.3 356.7,242.1 356.1,243.8 355.5,241.5 354.9,245.2 354.3,244.2 353.7,246.8 353.1,238.3 352.5,236.7 351.9,241.4 351.3,239.1 350.7,245.2 350.1,241.8 349.5,245.3 348.9,249.0 348.3,247.8 347.7,242.5 347.1,243.8 346.5,240.2 345.9,244.4 345.3,246.5 344.7,239.2 344.1,239.8 343.5,244.3 342.9,248.5 342.3,245.4 341.7,242.7 341.1,243.7 340.5,244.7 339.9,241.8 339.3,242.5 338.7,237.8 338.1,241.4 337.5,238.3 336.9,241.0 336.3,240.3 335.7,244.3 335.1,242.6 334.5,243.5 333.9,248.7 333.3,247.7 332.7,246.2 332.1,243.6 331.5,244.1 330.9,243.2 330.3,245.7Z" fill="#00ffff" fill-opacity="0.6"/>
<path d="M330,234.44 L330.5,233.81 L331,233.8 L331.5,232.43 L332,233.12 L332.5,233.16 L333,232.34 L333.5,232.55 L334,231.53 L334.5,232.05 L335,233.31 L335.5,233.33 L336,235.96 L336.5,234.8 L337,234.8 L337.5,233.28 L338,233.12 L338.5,231.23 L339,231.61 L339.5,232.16 L340,230.8 L340.5,232.68 L341,232.78 L341.5,232.2 L342,231.64 L342.5,230.79 L343,231.82 L343.5,231.86 L344,231.62 L344.5,231.55 L345,231.05 L345.5,230.2 L346,231.34 L346.5,228.96 L347,230.32 L347.5,231.14 L348,232.06 L348.5,233.1 L349,233.04 L349.5,232.61 L350,233.55 L350.5,232.69 L351,234.29 L351.5,232.84 L352,232.03 L352.5,231.55 L353,231.21 L353.5,229.76 L354,230.12 L354.5,228.4 L355,230.35 L355.5,231.84 L356,232.63 L356.5,233.15 L357,233.32 L357.5,233.76 L358,233.6 L358.5,232.82 L359,233.44 L359.5,233.51 L360,232.31 L360.5,232.2 L361,232.24 L361.5,232.06 L362,231.34 L362.5,232.79 L363,232 L363.5,231.07 L364,231.47 L364.5,231.1 L365,231.3 L365.5,231.71 L366,232.13 L366.5,232.32 L367,232.27 L367.5,230.93 L368,230.61 L368.5,231.06 L369,231.24 L369.5,230.89 L370,231.13 L370.5,232.25 L371,233.08 L371.5,232.3 L372,232.38 L372.5,232.71 L373,232.11 L373.5,232.38 L374,232.63 L374.5,232.16 L375,232.78 L375.5,231.97 L376,232 L376.5,231.45 L377,232.17 L377.5,230.48 L378,230.86 L378.5,230.17 L379,232.34 L379.5,233.35 L380,233.24 L380.5,234.04 L381,232.37 L381.5,231.21 L382,231.37 L382.5,230.98 L383,229.85 L383.5,230.59 L384,229.49 L384.5,230.43 L385,230.64 L385.5,229.22 L386,230.51 L386.5,229.6 L387,231.34 L387.5,232.9 L388,232.23 L388.5,232.85 L389,233.93 L389.5,234.71 L390,234.52 L390.5,235.08 L391,236.18 L391.5,234.6 L392,233.03 L392.5,232.36 L393,231.89 L393.5,231.66 L394,232.38 L394.5,230.72 L395,230.91 L395.5,232.42 L396,231.48 L396.5,233.27 L397,231.7 L397.5,231.39 L398,231.31 L398.5,231.43 L399,231.14 L399.5,230.25 L400,229.98 L400.5,230.11 L401,229.65 L401.5,228.85 L402,229.14 L402.5,230.19 L403,230.86 L403.5,232.86 L404,233.34 L404.5,233.99 L405,234.97 L405.5,235.41 L406,235.96 L406.5,237.15 L407,235.69 L407.5,235.32 L408,234.81 L408.5,234.46 L409,234.01 L409.5,233.27 L410,231.57 L410.5,232.12 L411,231.44 L411.5,231.51 L412,231.84 L412.5,231.39 L413,231.15 L413.5,231.49 L414,230.46 L414.5,231.64 L415,231.69 L415.5,230.56 L416,230.9 L416.5,230.09 L417,230.68 L417.5,230.58 L418,229.43 L418.5,230.46 L419,229.58 L419.5,231.43 L420,230.4 L420.5,231.23 L421,231.82 L421.5,231.74 L422,231.66 L422.5,232.71 L423,234.36 L423.5,234.18 L424,234.85 L424.5,236.62 L425,236.67 L425.5,236.21 L426,235.63 L426.5,233.91 L427,233.86 L427.5,233.21 L428,232.36 L428.5,231.13 L429,231.4 L429.5,229.67 L430,229.77 L430.5,229.51 L431,229.42 L431.5,229.91 L432,230.23 L432.5,230.11 L433,229.39 L433.5,229.26 L434,228.26 L434.5,231.01 L435,232.57 L435.5,231.86 L436,231.9 L436.5,232.34 L437,232.53 L437.5,232.34 L438,233.19 L438.5,234.8 L439,234.92 L439.5,235.78 L440,236.82 L440.5,234.39 L441,233.76 L441.5,232.93 L442,231.62 L442.5,229.56 L443,229.09 L443.5,229.14 L444,230.95 L444.5,232.8 L445,233.36 L445.5,231.69 L446,231.71 L446.5,232.25 L447,233.2 L447.5,232.18 L448,231.81 L448.5,230.61 L449,231.15 L449.5,229.65 L450,231.55 L450.5,232.39 L451,231.52 L451.5,232.82 L452,231.4 L452.5,231.59 L453,231.09 L453.5,230.95 L454,232.06 L454.5,231.93 L455,231.24 L455.5,230.24 L456,232.69 L456.5,232.57 L457,231.97 L457.5,231.28 L458,232.33 L458.5,230.04 L459,230.4 L459.5,229.86 L460,230.84 L460.5,230.21 L461,231.64 L461.5,230.25 L462,230.19 L462.5,231.01 L463,230.56 L463.5,230.69 L464,232.37 L464.5,233.3 L465,235.71 L465.5,236.87 L466,236.08 L466.5,235.38 L467,234.62 L467.5,234.25 L468,233.1 L468.5,231.5 L469,232.06 L469.5,231.07 L470,229.85 L470.5,230.48 L471,229.11 L471.5,227.63 L472,227.96 L472.5,227.11 L473,228.25 L473.5,231.21 L474,231.95 L474.5,233.85 L475,233.71 L475.5,235.67 L476,236.17 L476.5,235.48 L477,234.29 L477.5,234.62 L478,233.72 L478.5,232.72 L479,232.96 L479.5,231.66 L480,231.17 L480.5,231.55 L481,231.32 L481.5,231.2 L482,230.65 L482.5,231.02 L483,228.53 L483.5,228.64 L484,227.6 L484.5,229.11 L485,229.21 L485.5,230.16 L486,231.86 L486.5,232.76 L487,234.32 L487.5,235.38 L488,237.37 L488.5,236.58 L489,235.82 L489.5,235.46 L490,233.21 L490.5,233.83 L491,233.28 L491.5,233.01 L492,231.35 L492.5,230.98 L493,232.7 L493.5,231.94 L494,231.95 L494.5,232.34 L495,231.14 L495.5,229.53 L496,230.19 L496.5,230.64 L497,229.73 L497.5,229.64 L498,229.29 L498.5,230.55 L499,230.75 L499.5,229.25 L500,231.81 L500.5,230.55 L501,232.9 L501.5,231.56 L502,233.68 L502.5,233.34 L503,234.26 L503.5,235.55 L504,235.24 L504.5,236.54 L505,236.69 L505.5,236.72 L506,236.33 L506.5,236.14 L507,234.67 L507.5,234.07 L508,232.81 L508.5,232.03 L509,231.03 L509.5,231.16 L510,230.88 L510.5,230.3 L511,230.13 L511.5,228.73 L512,230.59 L512.5,229.73 L513,230.2 L513.5,229.85 L514,229.62 L514.5,230.45 L515,229.17 L515.5,231.77 L516,232.1 L516.5,233.37 L517,232.09 L517.5,233.6 L518,233.57 L518.5,232.83 L519,232.54 L519.5,232.55 L520,233.82 L520.5,234.15 L521,233.03 L521.5,234.13 L522,234.84 L522.5,233.97 L523,232.03 L523.5,231.74 L524,230.41 L524.5,231.37 L525,231.99 L525.5,230.07 L526,228.48 L526.5,229.82 L527,229.64 L527.5,228.97 L528,227.55 L528.5,229.95 L529,232.19 L529.5,235.07 L530,237.24 L530.5,235.89 L531,235.65 L531.5,235.47 L532,235.2 L532.5,235.26 L533,235.65 L533.5,234.03 L534,235.2 L534.5,233.91 L535,231.31 L535.5,231.79 L536,230.86 L536.5,230.43 L537,229.79 L537.5,228.77 L538,227.62 L538.5,228.01 L539,226.29 L539.5,225.23 L540,224.97 L540.5,227.26 L541,229.73" fill="none" stroke="#000" stroke-width="1.25" stroke-linejoin="round"/>
<rect x="342.1" y="210.9" width="6.7" height="42.2" fill="#000" fill-opacity="0.18"/>
<line x1="342.1" y1="210.9" x2="342.1" y2="253.1" stroke="#000" stroke-opacity="0.38" stroke-width="0.7"/>
<line x1="348.8" y1="210.9" x2="348.8" y2="253.1" stroke="#000" stroke-opacity="0.38" stroke-width="0.7"/>
<rect x="353.9" y="210.9" width="5.9" height="42.2" fill="#000" fill-opacity="0.32"/>
<line x1="353.9" y1="210.9" x2="353.9" y2="253.1" stroke="#000" stroke-opacity="0.38" stroke-width="0.7"/>
<line x1="359.8" y1="210.9" x2="359.8" y2="253.1" stroke="#000" stroke-opacity="0.38" stroke-width="0.7"/>
<rect x="365.3" y="210.9" width="14.9" height="42.2" fill="#000" fill-opacity="0.18"/>
<line x1="365.3" y1="210.9" x2="365.3" y2="253.1" stroke="#000" stroke-opacity="0.38" stroke-width="0.7"/>
<line x1="380.2" y1="210.9" x2="380.2" y2="253.1" stroke="#000" stroke-opacity="0.38" stroke-width="0.7"/>
<rect x="385.7" y="210.9" width="14.8" height="42.2" fill="#000" fill-opacity="0.32"/>
<line x1="385.7" y1="210.9" x2="385.7" y2="253.1" stroke="#000" stroke-opacity="0.38" stroke-width="0.7"/>
<line x1="400.5" y1="210.9" x2="400.5" y2="253.1" stroke="#000" stroke-opacity="0.38" stroke-width="0.7"/>
<rect x="406.3" y="210.9" width="9.4" height="42.2" fill="#000" fill-opacity="0.18"/>
<line x1="406.3" y1="210.9" x2="406.3" y2="253.1" stroke="#000" stroke-opacity="0.38" stroke-width="0.7"/>
<line x1="415.7" y1="210.9" x2="415.7" y2="253.1" stroke="#000" stroke-opacity="0.38" stroke-width="0.7"/>
<rect x="421" y="210.9" width="8.9" height="42.2" fill="#000" fill-opacity="0.32"/>
<line x1="421" y1="210.9" x2="421" y2="253.1" stroke="#000" stroke-opacity="0.38" stroke-width="0.7"/>
<line x1="429.9" y1="210.9" x2="429.9" y2="253.1" stroke="#000" stroke-opacity="0.38" stroke-width="0.7"/>
<rect x="435.5" y="210.9" width="8.4" height="42.2" fill="#000" fill-opacity="0.18"/>
<line x1="435.5" y1="210.9" x2="435.5" y2="253.1" stroke="#000" stroke-opacity="0.38" stroke-width="0.7"/>
<line x1="443.9" y1="210.9" x2="443.9" y2="253.1" stroke="#000" stroke-opacity="0.38" stroke-width="0.7"/>
<rect x="448.9" y="210.9" width="7.6" height="42.2" fill="#000" fill-opacity="0.32"/>
<line x1="448.9" y1="210.9" x2="448.9" y2="253.1" stroke="#000" stroke-opacity="0.38" stroke-width="0.7"/>
<line x1="456.5" y1="210.9" x2="456.5" y2="253.1" stroke="#000" stroke-opacity="0.38" stroke-width="0.7"/>
<rect x="462.2" y="210.9" width="4.2" height="42.2" fill="#000" fill-opacity="0.18"/>
<line x1="462.2" y1="210.9" x2="462.2" y2="253.1" stroke="#000" stroke-opacity="0.38" stroke-width="0.7"/>
<line x1="466.4" y1="210.9" x2="466.4" y2="253.1" stroke="#000" stroke-opacity="0.38" stroke-width="0.7"/>
<rect x="472.4" y="210.9" width="4.4" height="42.2" fill="#000" fill-opacity="0.32"/>
<line x1="472.4" y1="210.9" x2="472.4" y2="253.1" stroke="#000" stroke-opacity="0.38" stroke-width="0.7"/>
<line x1="476.8" y1="210.9" x2="476.8" y2="253.1" stroke="#000" stroke-opacity="0.38" stroke-width="0.7"/>
<rect x="482.1" y="210.9" width="12.7" height="42.2" fill="#000" fill-opacity="0.18"/>
<line x1="482.1" y1="210.9" x2="482.1" y2="253.1" stroke="#000" stroke-opacity="0.38" stroke-width="0.7"/>
<line x1="494.8" y1="210.9" x2="494.8" y2="253.1" stroke="#000" stroke-opacity="0.38" stroke-width="0.7"/>
<rect x="500.1" y="210.9" width="11.5" height="42.2" fill="#000" fill-opacity="0.32"/>
<line x1="500.1" y1="210.9" x2="500.1" y2="253.1" stroke="#000" stroke-opacity="0.38" stroke-width="0.7"/>
<line x1="511.6" y1="210.9" x2="511.6" y2="253.1" stroke="#000" stroke-opacity="0.38" stroke-width="0.7"/>
<rect x="517" y="210.9" width="3.2" height="42.2" fill="#000" fill-opacity="0.18"/>
<line x1="517" y1="210.9" x2="517" y2="253.1" stroke="#000" stroke-opacity="0.38" stroke-width="0.7"/>
<line x1="520.2" y1="210.9" x2="520.2" y2="253.1" stroke="#000" stroke-opacity="0.38" stroke-width="0.7"/>
<rect x="526.3" y="210.9" width="3.4" height="42.2" fill="#000" fill-opacity="0.32"/>
<line x1="526.3" y1="210.9" x2="526.3" y2="253.1" stroke="#000" stroke-opacity="0.38" stroke-width="0.7"/>
<line x1="529.7" y1="210.9" x2="529.7" y2="253.1" stroke="#000" stroke-opacity="0.38" stroke-width="0.7"/>
</g>
<rect x="330.3" y="210.9" width="211" height="42.2" fill="none" stroke="#a4a4a4" stroke-width="0.75"/>
<line x1="330.3" y1="253.1" x2="330.3" y2="251.1" stroke="#8a8a8a" stroke-width="0.6"/>
<line x1="330.3" y1="210.9" x2="330.3" y2="212.9" stroke="#8a8a8a" stroke-width="0.6"/>
<line x1="359.61" y1="253.1" x2="359.61" y2="251.1" stroke="#8a8a8a" stroke-width="0.6"/>
<line x1="359.61" y1="210.9" x2="359.61" y2="212.9" stroke="#8a8a8a" stroke-width="0.6"/>
<line x1="388.91" y1="253.1" x2="388.91" y2="251.1" stroke="#8a8a8a" stroke-width="0.6"/>
<line x1="388.91" y1="210.9" x2="388.91" y2="212.9" stroke="#8a8a8a" stroke-width="0.6"/>
<line x1="418.22" y1="253.1" x2="418.22" y2="251.1" stroke="#8a8a8a" stroke-width="0.6"/>
<line x1="418.22" y1="210.9" x2="418.22" y2="212.9" stroke="#8a8a8a" stroke-width="0.6"/>
<line x1="447.52" y1="253.1" x2="447.52" y2="251.1" stroke="#8a8a8a" stroke-width="0.6"/>
<line x1="447.52" y1="210.9" x2="447.52" y2="212.9" stroke="#8a8a8a" stroke-width="0.6"/>
<line x1="476.83" y1="253.1" x2="476.83" y2="251.1" stroke="#8a8a8a" stroke-width="0.6"/>
<line x1="476.83" y1="210.9" x2="476.83" y2="212.9" stroke="#8a8a8a" stroke-width="0.6"/>
<line x1="506.13" y1="253.1" x2="506.13" y2="251.1" stroke="#8a8a8a" stroke-width="0.6"/>
<line x1="506.13" y1="210.9" x2="506.13" y2="212.9" stroke="#8a8a8a" stroke-width="0.6"/>
<line x1="535.44" y1="253.1" x2="535.44" y2="251.1" stroke="#8a8a8a" stroke-width="0.6"/>
<line x1="535.44" y1="210.9" x2="535.44" y2="212.9" stroke="#8a8a8a" stroke-width="0.6"/>
<line x1="330.3" y1="212.3" x2="332.3" y2="212.3" stroke="#8a8a8a" stroke-width="0.6"/>
<line x1="541.3" y1="212.3" x2="539.3" y2="212.3" stroke="#8a8a8a" stroke-width="0.6"/>
<line x1="330.3" y1="232.3" x2="332.3" y2="232.3" stroke="#8a8a8a" stroke-width="0.6"/>
<line x1="541.3" y1="232.3" x2="539.3" y2="232.3" stroke="#8a8a8a" stroke-width="0.6"/>
<line x1="330.3" y1="251.4" x2="332.3" y2="251.4" stroke="#8a8a8a" stroke-width="0.6"/>
<line x1="541.3" y1="251.4" x2="539.3" y2="251.4" stroke="#8a8a8a" stroke-width="0.6"/>
<text font-size="7.9" text-anchor="end" stroke="#1e1e1e" stroke-width="0.18" fill="#1e1e1e" transform="translate(327.7 216.2) scale(1 1.12)">0.2</text>
<text font-size="7.9" text-anchor="end" stroke="#1e1e1e" stroke-width="0.18" fill="#1e1e1e" transform="translate(327.7 236.2) scale(1 1.12)">0</text>
<text font-size="7.9" text-anchor="end" stroke="#1e1e1e" stroke-width="0.18" fill="#1e1e1e" transform="translate(327.7 255.3) scale(1 1.12)">-0.2</text>
<text font-size="7.8" text-anchor="middle" font-weight="bold" fill="#000" transform="translate(435.8 208) scale(1 1.12)" stroke="#000" stroke-width="0.2">HighMC: t=-2.4</text>
<g clip-path="url(#c14)">
<path d="M330,302.42 L330.3,302.43 L330.6,302.44 L330.9,302.45 L331.2,302.46 L331.5,302.47 L331.8,302.48 L332.1,302.49 L332.4,302.5 L332.7,302.51 L333,302.52 L333.3,302.53 L333.6,302.54 L333.9,302.55 L334.2,302.55 L334.5,302.55 L334.8,302.55 L335.1,302.55 L335.4,302.55 L335.7,302.55 L336,302.55 L336.3,302.55 L336.6,302.55 L336.9,302.55 L337.2,302.55 L337.5,302.55 L337.8,302.55 L338.1,302.55 L338.4,302.55 L338.7,302.54 L339,302.53 L339.3,302.52 L339.6,302.51 L339.9,302.5 L340.2,302.49 L340.5,302.48 L340.8,302.47 L341.1,302.46 L341.4,302.45 L341.7,302.44 L342,302.43 L342.3,302.42 L342.6,302.41 L342.9,302.39 L343.2,302.37 L343.5,302.35 L343.8,302.33 L344.1,302.31 L344.4,302.29 L344.7,302.27 L345,302.25 L345.3,302.23 L345.6,302.21 L345.9,302.19 L346.2,302.17 L346.5,302.15 L346.8,302.1 L347.1,302.02 L347.4,301.95 L347.7,301.87 L348,301.8 L348.3,301.72 L348.6,301.65 L348.9,301.57 L349.2,301.5 L349.5,301.4 L349.8,301.24 L350.1,301.08 L350.4,300.92 L350.7,300.76 L351,300.6 L351.3,300.44 L351.6,300.25 L351.9,300.02 L352.2,299.79 L352.5,299.56 L352.8,299.33 L353.1,299.09 L353.4,299.51 L353.7,301.01 L354,302.78 L354.3,304.78 L354.6,306.78 L354.9,307.11 L355.2,306.89 L355.5,306.68 L355.8,306.47 L356.1,306.27 L356.4,306.07 L356.7,305.87 L357,305.67 L357.3,305.47 L357.6,305.27 L357.9,305.07 L358.2,304.87 L358.5,304.67 L358.8,304.47 L359.1,304.27 L359.4,304.07 L359.7,303.87 L360,303.67 L360.3,303.47 L360.6,303.27 L360.9,303.07 L361.2,302.87 L361.5,302.67 L361.8,302.47 L362.1,302.31 L362.4,302.16 L362.7,302.01 L363,301.86 L363.3,301.53 L363.6,299.73 L363.9,297.93 L364.2,296.61 L364.5,295.41 L364.8,295.52 L365.1,297.02 L365.4,298.3 L365.7,298.51 L366,298.72 L366.3,298.94 L366.6,299.17 L366.9,299.4 L367.2,299.63 L367.5,299.86 L367.8,300.09 L368.1,300.32 L368.4,300.62 L368.7,300.92 L369,301.22 L369.3,301.52 L369.6,301.82 L369.9,302.12 L370.2,302.42 L370.5,302.72 L370.8,303.02 L371.1,303.32 L371.4,303.62 L371.7,303.92 L372,304.22 L372.3,304.52 L372.6,304.82 L372.9,305.12 L373.2,304.76 L373.5,304.19 L373.8,303.63 L374.1,303.17 L374.4,304.03 L374.7,304.88 L375,305.74 L375.3,306.63 L375.6,307.53 L375.9,308.43 L376.2,309.33 L376.5,310.17 L376.8,310.77 L377.1,311.37 L377.4,311.97 L377.7,312.57 L378,313.52 L378.3,314.72 L378.6,314.73 L378.9,311.73 L379.2,308.73 L379.5,305.32 L379.8,301.89 L380.1,298.46 L380.4,296.46 L380.7,294.96 L381,293.46 L381.3,293.61 L381.6,293.83 L381.9,294.04 L382.2,293.66 L382.5,293.06 L382.8,294.36 L383.1,298.26 L383.4,302.17 L383.7,306.17 L384,305.09 L384.3,302.09 L384.6,296.46 L384.9,290.46 L385.2,284.74 L385.5,281.44 L385.8,278.14 L386.1,278.18 L386.4,279.08 L386.7,282.75 L387,289.35 L387.3,295.95 L387.6,302.55 L387.9,309.15 L388.2,313.15 L388.5,316.75 L388.8,317.64 L389.1,316.36 L389.4,315.07 L389.7,313.91 L390,313.01 L390.3,312.11 L390.6,311.21 L390.9,310.31 L391.2,309.62 L391.5,309.02 L391.8,308.42 L392.1,307.82 L392.4,307.22 L392.7,306.62 L393,306.02 L393.3,305.42 L393.6,304.82 L393.9,304.22 L394.2,303.62 L394.5,303.02 L394.8,302.42 L395.1,301.82 L395.4,301.47 L395.7,301.17 L396,300.87 L396.3,300.57 L396.6,300.27 L396.9,299.97 L397.2,299.67 L397.5,299.15 L397.8,298.62 L398.1,298.28 L398.4,298.34 L398.7,298.4 L399,298.46 L399.3,298.52 L399.6,298.58 L399.9,298.64 L400.2,298.73 L400.5,298.87 L400.8,299.01 L401.1,299.15 L401.4,299.29 L401.7,299.43 L402,299.57 L402.3,299.88 L402.6,300.38 L402.9,300.88 L403.2,301.38 L403.5,301.88 L403.8,302.38 L404.1,302.88 L404.4,302.46 L404.7,301.26 L405,300.06 L405.3,298.86 L405.6,297.66 L405.9,298.55 L406.2,299.62 L406.5,300.69 L406.8,301.54 L407.1,302.29 L407.4,303.04 L407.7,303.79 L408,303.36 L408.3,302.91 L408.6,302.46 L408.9,302.01 L409.2,302.17 L409.5,303.37 L409.8,304.57 L410.1,305.77 L410.4,306.97 L410.7,307.83 L411,308.58 L411.3,309.33 L411.6,310.08 L411.9,310.89 L412.2,312.09 L412.5,313.29 L412.8,311.79 L413.1,309.69 L413.4,307.03 L413.7,303.85 L414,300.66 L414.3,297.47 L414.6,296.7 L414.9,296.48 L415.2,296.27 L415.5,296.44 L415.8,296.89 L416.1,297.34 L416.4,297.79 L416.7,298.24 L417,298.35 L417.3,298.45 L417.6,298.55 L417.9,298.65 L418.2,298.75 L418.5,298.85 L418.8,298.95 L419.1,298.8 L419.4,298.65 L419.7,298.5 L420,298.35 L420.3,298.11 L420.6,297.73 L420.9,297.36 L421.2,296.98 L421.5,298.39 L421.8,300.53 L422.1,302.68 L422.4,304.72 L422.7,306.65 L423,308.58 L423.3,309.86 L423.6,309.11 L423.9,308.36 L424.2,307.61 L424.5,307.06 L424.8,306.69 L425.1,306.31 L425.4,305.94 L425.7,305.56 L426,305.19 L426.3,304.81 L426.6,304.44 L426.9,304.06 L427.2,303.71 L427.5,303.41 L427.8,303.11 L428.1,302.81 L428.4,302.51 L428.7,302.21 L429,301.91 L429.3,301.61 L429.6,301.31 L429.9,301.02 L430.2,300.87 L430.5,300.72 L430.8,300.57 L431.1,300.42 L431.4,300.27 L431.7,300.12 L432,299.97 L432.3,299.82 L432.6,299.67 L432.9,299.77 L433.2,299.92 L433.5,300.07 L433.8,300.22 L434.1,300.37 L434.4,300.52 L434.7,300.67 L435,300.82 L435.3,300.97 L435.6,301.2 L435.9,301.5 L436.2,301.8 L436.5,302.1 L436.8,302.4 L437.1,302.7 L437.4,303 L437.7,303.3 L438,303.6 L438.3,303.9 L438.6,304.2 L438.9,304.5 L439.2,304.8 L439.5,305.1 L439.8,305.4 L440.1,305.7 L440.4,306 L440.7,306.3 L441,306.61 L441.3,306.99 L441.6,307.36 L441.9,307.74 L442.2,308.11 L442.5,308.49 L442.8,308.86 L443.1,309.24 L443.4,309.61 L443.7,309.99 L444,309.52 L444.3,308.92 L444.6,308.32 L444.9,307.72 L445.2,306.66 L445.5,304.11 L445.8,301.56 L446.1,299.01 L446.4,296.46 L446.7,295.3 L447,295 L447.3,294.7 L447.6,294.4 L447.9,294.1 L448.2,294.4 L448.5,294.7 L448.8,295 L449.1,295.3 L449.4,295.27 L449.7,294.71 L450,294.15 L450.3,293.59 L450.6,295.15 L450.9,297.73 L451.2,300.3 L451.5,300.58 L451.8,298.01 L452.1,295.43 L452.4,293.41 L452.7,293.41 L453,293.41 L453.3,293.41 L453.6,296.19 L453.9,301.59 L454.2,306.58 L454.5,310.01 L454.8,313.44 L455.1,316.87 L455.4,317.46 L455.7,317.96 L456,318.19 L456.3,317.33 L456.6,316.47 L456.9,315.62 L457.2,315.44 L457.5,315.29 L457.8,315.14 L458.1,314.99 L458.4,314.23 L458.7,312.3 L459,310.37 L459.3,308 L459.6,302 L459.9,296 L460.2,289.04 L460.5,281.84 L460.8,278.01 L461.1,277.71 L461.4,278.8 L461.7,286.3 L462,293.8 L462.3,297.61 L462.6,300.86 L462.9,303.74 L463.2,303.1 L463.5,302.45 L463.8,301.81 L464.1,301.72 L464.4,301.72 L464.7,301.72 L465,301.72 L465.3,301.74 L465.6,301.83 L465.9,301.91 L466.2,301.99 L466.5,302.07 L466.8,302.16 L467.1,302.24 L467.4,302.32 L467.7,302.4 L468,302.49 L468.3,302.57 L468.6,302.65 L468.9,302.73 L469.2,302.79 L469.5,302.85 L469.8,302.91 L470.1,302.97 L470.4,303.03 L470.7,303.09 L471,303.15 L471.3,303.21 L471.6,303.27 L471.9,303.31 L472.2,303.32 L472.5,303.34 L472.8,303.35 L473.1,303.37 L473.4,303.38 L473.7,303.4 L474,303.41 L474.3,303.43 L474.6,303.44 L474.9,303.4 L475.2,303.36 L475.5,303.31 L475.8,303.27 L476.1,303.22 L476.4,303.18 L476.7,303.13 L477,303.09 L477.3,303.04 L477.6,302.99 L477.9,302.93 L478.2,302.87 L478.5,302.81 L478.8,302.75 L479.1,302.69 L479.4,302.63 L479.7,302.57 L480,302.51 L480.3,302.45 L480.6,302.4 L480.9,302.35 L481.2,302.3 L481.5,302.25 L481.8,302.2 L482.1,302.15 L482.4,302.1 L482.7,302.05 L483,302 L483.3,301.95 L483.6,301.9 L483.9,301.85 L484.2,301.8 L484.5,301.75 L484.8,301.73 L485.1,301.75 L485.4,301.77 L485.7,301.79 L486,301.81 L486.3,301.83 L486.6,301.85 L486.9,301.87 L487.2,301.89 L487.5,301.91 L487.8,301.93 L488.1,301.95 L488.4,301.97 L488.7,301.99 L489,302.01 L489.3,302.03 L489.6,302.06 L489.9,302.08 L490.2,302.1 L490.5,302.12 L490.8,302.15 L491.1,302.17 L491.4,302.19 L491.7,302.21 L492,302.24 L492.3,302.26 L492.6,302.28 L492.9,302.3 L493.2,302.33 L493.5,302.35 L493.8,302.37 L494.1,302.39 L494.4,302.42 L494.7,302.44 L495,302.44 L495.3,302.43 L495.6,302.43 L495.9,302.43 L496.2,302.43 L496.5,302.42 L496.8,302.42 L497.1,302.42 L497.4,302.41 L497.7,302.41 L498,302.41 L498.3,302.4 L498.6,302.4 L498.9,302.4 L499.2,302.4 L499.5,302.39 L499.8,302.39 L500.1,302.39 L500.4,302.38 L500.7,302.38 L501,302.38 L501.3,302.37 L501.6,302.37 L501.9,302.37 L502.2,302.37 L502.5,302.36 L502.8,302.36 L503.1,302.36 L503.4,302.35 L503.7,302.35 L504,302.35 L504.3,302.34 L504.6,302.34 L504.9,302.34 L505.2,302.34 L505.5,302.33 L505.8,302.33 L506.1,302.33 L506.4,302.32 L506.7,302.32 L507,302.32 L507.3,302.31 L507.6,302.31 L507.9,302.31 L508.2,302.31 L508.5,302.3 L508.8,302.3 L509.1,302.3 L509.4,302.3 L509.7,302.3 L510,302.3 L510.3,302.3 L510.6,302.3 L510.9,302.3 L511.2,302.3 L511.5,302.3 L511.8,302.3 L512.1,302.3 L512.4,302.3 L512.7,302.3 L513,302.3 L513.3,302.3 L513.6,302.3 L513.9,302.3 L514.2,302.3 L514.5,302.3 L514.8,302.3 L515.1,302.3 L515.4,302.3 L515.7,302.3 L516,302.3 L516.3,302.3 L516.6,302.3 L516.9,302.3 L517.2,302.3 L517.5,302.3 L517.8,302.3 L518.1,302.3 L518.4,302.3 L518.7,302.3 L519,302.3 L519.3,302.3 L519.6,302.3 L519.9,302.3 L520.2,302.3 L520.5,302.3 L520.8,302.3 L521.1,302.3 L521.4,302.3 L521.7,302.3 L522,302.3 L522.3,302.3 L522.6,302.3 L522.9,302.3 L523.2,302.3 L523.5,302.3 L523.8,302.3 L524.1,302.3 L524.4,302.3 L524.7,302.3 L525,302.3 L525.3,302.3 L525.6,302.3 L525.9,302.3 L526.2,302.3 L526.5,302.3 L526.8,302.3 L527.1,302.3 L527.4,302.3 L527.7,302.3 L528,302.3 L528.3,302.3 L528.6,302.3 L528.9,302.3 L529.2,302.3 L529.5,302.3 L529.8,302.3 L530.1,302.3 L530.4,302.3 L530.7,302.3 L531,302.3 L531.3,302.3 L531.6,302.3 L531.9,302.3 L532.2,302.3 L532.5,302.3 L532.8,302.3 L533.1,302.3 L533.4,302.3 L533.7,302.3 L534,302.3 L534.3,302.3 L534.6,302.3 L534.9,302.3 L535.2,302.3 L535.5,302.3 L535.8,302.3 L536.1,302.3 L536.4,302.3 L536.7,302.3 L537,302.3 L537.3,302.3 L537.6,302.3 L537.9,302.3 L538.2,302.3 L538.5,302.3 L538.8,302.3 L539.1,302.3 L539.4,302.3 L539.7,302.3 L540,302.3 L540.3,302.3 L540.6,302.3 L540.9,302.3" fill="none" stroke="#111" stroke-width="1.1" stroke-linejoin="round"/>
<rect x="342.1" y="276.9" width="6.7" height="42.2" fill="#000" fill-opacity="0.1"/>
<line x1="342.1" y1="276.9" x2="342.1" y2="319.1" stroke="#000" stroke-opacity="0.3" stroke-width="0.7"/>
<line x1="348.8" y1="276.9" x2="348.8" y2="319.1" stroke="#000" stroke-opacity="0.3" stroke-width="0.7"/>
<rect x="353.9" y="276.9" width="5.9" height="42.2" fill="#000" fill-opacity="0.155"/>
<line x1="353.9" y1="276.9" x2="353.9" y2="319.1" stroke="#000" stroke-opacity="0.3" stroke-width="0.7"/>
<line x1="359.8" y1="276.9" x2="359.8" y2="319.1" stroke="#000" stroke-opacity="0.3" stroke-width="0.7"/>
<rect x="365.3" y="276.9" width="14.9" height="42.2" fill="#000" fill-opacity="0.1"/>
<line x1="365.3" y1="276.9" x2="365.3" y2="319.1" stroke="#000" stroke-opacity="0.3" stroke-width="0.7"/>
<line x1="380.2" y1="276.9" x2="380.2" y2="319.1" stroke="#000" stroke-opacity="0.3" stroke-width="0.7"/>
<rect x="385.7" y="276.9" width="14.8" height="42.2" fill="#000" fill-opacity="0.155"/>
<line x1="385.7" y1="276.9" x2="385.7" y2="319.1" stroke="#000" stroke-opacity="0.3" stroke-width="0.7"/>
<line x1="400.5" y1="276.9" x2="400.5" y2="319.1" stroke="#000" stroke-opacity="0.3" stroke-width="0.7"/>
<rect x="406.3" y="276.9" width="9.4" height="42.2" fill="#000" fill-opacity="0.1"/>
<line x1="406.3" y1="276.9" x2="406.3" y2="319.1" stroke="#000" stroke-opacity="0.3" stroke-width="0.7"/>
<line x1="415.7" y1="276.9" x2="415.7" y2="319.1" stroke="#000" stroke-opacity="0.3" stroke-width="0.7"/>
<rect x="421" y="276.9" width="8.9" height="42.2" fill="#000" fill-opacity="0.155"/>
<line x1="421" y1="276.9" x2="421" y2="319.1" stroke="#000" stroke-opacity="0.3" stroke-width="0.7"/>
<line x1="429.9" y1="276.9" x2="429.9" y2="319.1" stroke="#000" stroke-opacity="0.3" stroke-width="0.7"/>
<rect x="435.5" y="276.9" width="8.4" height="42.2" fill="#000" fill-opacity="0.1"/>
<line x1="435.5" y1="276.9" x2="435.5" y2="319.1" stroke="#000" stroke-opacity="0.3" stroke-width="0.7"/>
<line x1="443.9" y1="276.9" x2="443.9" y2="319.1" stroke="#000" stroke-opacity="0.3" stroke-width="0.7"/>
<rect x="448.9" y="276.9" width="7.6" height="42.2" fill="#000" fill-opacity="0.155"/>
<line x1="448.9" y1="276.9" x2="448.9" y2="319.1" stroke="#000" stroke-opacity="0.3" stroke-width="0.7"/>
<line x1="456.5" y1="276.9" x2="456.5" y2="319.1" stroke="#000" stroke-opacity="0.3" stroke-width="0.7"/>
<rect x="462.2" y="276.9" width="4.2" height="42.2" fill="#000" fill-opacity="0.1"/>
<line x1="462.2" y1="276.9" x2="462.2" y2="319.1" stroke="#000" stroke-opacity="0.3" stroke-width="0.7"/>
<line x1="466.4" y1="276.9" x2="466.4" y2="319.1" stroke="#000" stroke-opacity="0.3" stroke-width="0.7"/>
<rect x="472.4" y="276.9" width="4.4" height="42.2" fill="#000" fill-opacity="0.155"/>
<line x1="472.4" y1="276.9" x2="472.4" y2="319.1" stroke="#000" stroke-opacity="0.3" stroke-width="0.7"/>
<line x1="476.8" y1="276.9" x2="476.8" y2="319.1" stroke="#000" stroke-opacity="0.3" stroke-width="0.7"/>
<rect x="482.1" y="276.9" width="12.7" height="42.2" fill="#000" fill-opacity="0.1"/>
<line x1="482.1" y1="276.9" x2="482.1" y2="319.1" stroke="#000" stroke-opacity="0.3" stroke-width="0.7"/>
<line x1="494.8" y1="276.9" x2="494.8" y2="319.1" stroke="#000" stroke-opacity="0.3" stroke-width="0.7"/>
<rect x="500.1" y="276.9" width="11.5" height="42.2" fill="#000" fill-opacity="0.155"/>
<line x1="500.1" y1="276.9" x2="500.1" y2="319.1" stroke="#000" stroke-opacity="0.3" stroke-width="0.7"/>
<line x1="511.6" y1="276.9" x2="511.6" y2="319.1" stroke="#000" stroke-opacity="0.3" stroke-width="0.7"/>
<rect x="517" y="276.9" width="3.2" height="42.2" fill="#000" fill-opacity="0.1"/>
<line x1="517" y1="276.9" x2="517" y2="319.1" stroke="#000" stroke-opacity="0.3" stroke-width="0.7"/>
<line x1="520.2" y1="276.9" x2="520.2" y2="319.1" stroke="#000" stroke-opacity="0.3" stroke-width="0.7"/>
<rect x="526.3" y="276.9" width="3.4" height="42.2" fill="#000" fill-opacity="0.155"/>
<line x1="526.3" y1="276.9" x2="526.3" y2="319.1" stroke="#000" stroke-opacity="0.3" stroke-width="0.7"/>
<line x1="529.7" y1="276.9" x2="529.7" y2="319.1" stroke="#000" stroke-opacity="0.3" stroke-width="0.7"/>
</g>
<rect x="330.3" y="276.9" width="211" height="42.2" fill="none" stroke="#a4a4a4" stroke-width="0.75"/>
<line x1="330.3" y1="319.1" x2="330.3" y2="317.1" stroke="#8a8a8a" stroke-width="0.6"/>
<line x1="330.3" y1="276.9" x2="330.3" y2="278.9" stroke="#8a8a8a" stroke-width="0.6"/>
<line x1="359.61" y1="319.1" x2="359.61" y2="317.1" stroke="#8a8a8a" stroke-width="0.6"/>
<line x1="359.61" y1="276.9" x2="359.61" y2="278.9" stroke="#8a8a8a" stroke-width="0.6"/>
<line x1="388.91" y1="319.1" x2="388.91" y2="317.1" stroke="#8a8a8a" stroke-width="0.6"/>
<line x1="388.91" y1="276.9" x2="388.91" y2="278.9" stroke="#8a8a8a" stroke-width="0.6"/>
<line x1="418.22" y1="319.1" x2="418.22" y2="317.1" stroke="#8a8a8a" stroke-width="0.6"/>
<line x1="418.22" y1="276.9" x2="418.22" y2="278.9" stroke="#8a8a8a" stroke-width="0.6"/>
<line x1="447.52" y1="319.1" x2="447.52" y2="317.1" stroke="#8a8a8a" stroke-width="0.6"/>
<line x1="447.52" y1="276.9" x2="447.52" y2="278.9" stroke="#8a8a8a" stroke-width="0.6"/>
<line x1="476.83" y1="319.1" x2="476.83" y2="317.1" stroke="#8a8a8a" stroke-width="0.6"/>
<line x1="476.83" y1="276.9" x2="476.83" y2="278.9" stroke="#8a8a8a" stroke-width="0.6"/>
<line x1="506.13" y1="319.1" x2="506.13" y2="317.1" stroke="#8a8a8a" stroke-width="0.6"/>
<line x1="506.13" y1="276.9" x2="506.13" y2="278.9" stroke="#8a8a8a" stroke-width="0.6"/>
<line x1="535.44" y1="319.1" x2="535.44" y2="317.1" stroke="#8a8a8a" stroke-width="0.6"/>
<line x1="535.44" y1="276.9" x2="535.44" y2="278.9" stroke="#8a8a8a" stroke-width="0.6"/>
<line x1="330.3" y1="279.5" x2="332.3" y2="279.5" stroke="#8a8a8a" stroke-width="0.6"/>
<line x1="541.3" y1="279.5" x2="539.3" y2="279.5" stroke="#8a8a8a" stroke-width="0.6"/>
<line x1="330.3" y1="291.1" x2="332.3" y2="291.1" stroke="#8a8a8a" stroke-width="0.6"/>
<line x1="541.3" y1="291.1" x2="539.3" y2="291.1" stroke="#8a8a8a" stroke-width="0.6"/>
<line x1="330.3" y1="302.4" x2="332.3" y2="302.4" stroke="#8a8a8a" stroke-width="0.6"/>
<line x1="541.3" y1="302.4" x2="539.3" y2="302.4" stroke="#8a8a8a" stroke-width="0.6"/>
<line x1="330.3" y1="313.3" x2="332.3" y2="313.3" stroke="#8a8a8a" stroke-width="0.6"/>
<line x1="541.3" y1="313.3" x2="539.3" y2="313.3" stroke="#8a8a8a" stroke-width="0.6"/>
<text font-size="7.9" text-anchor="end" stroke="#1e1e1e" stroke-width="0.18" fill="#1e1e1e" transform="translate(327.7 283.4) scale(1 1.12)">0.04</text>
<text font-size="7.9" text-anchor="end" stroke="#1e1e1e" stroke-width="0.18" fill="#1e1e1e" transform="translate(327.7 295) scale(1 1.12)">0.02</text>
<text font-size="7.9" text-anchor="end" stroke="#1e1e1e" stroke-width="0.18" fill="#1e1e1e" transform="translate(327.7 306.3) scale(1 1.12)">0</text>
<text font-size="7.9" text-anchor="end" stroke="#1e1e1e" stroke-width="0.18" fill="#1e1e1e" transform="translate(327.7 317.2) scale(1 1.12)">-0.02</text>
<text font-size="7.9" text-anchor="middle" stroke="#1e1e1e" stroke-width="0.18" fill="#1e1e1e" transform="translate(330.3 330) scale(1 1.12)">0</text>
<text font-size="7.9" text-anchor="middle" stroke="#1e1e1e" stroke-width="0.18" fill="#1e1e1e" transform="translate(359.61 330) scale(1 1.12)">100</text>
<text font-size="7.9" text-anchor="middle" stroke="#1e1e1e" stroke-width="0.18" fill="#1e1e1e" transform="translate(388.91 330) scale(1 1.12)">200</text>
<text font-size="7.9" text-anchor="middle" stroke="#1e1e1e" stroke-width="0.18" fill="#1e1e1e" transform="translate(418.22 330) scale(1 1.12)">300</text>
<text font-size="7.9" text-anchor="middle" stroke="#1e1e1e" stroke-width="0.18" fill="#1e1e1e" transform="translate(447.52 330) scale(1 1.12)">400</text>
<text font-size="7.9" text-anchor="middle" stroke="#1e1e1e" stroke-width="0.18" fill="#1e1e1e" transform="translate(476.83 330) scale(1 1.12)">500</text>
<text font-size="7.9" text-anchor="middle" stroke="#1e1e1e" stroke-width="0.18" fill="#1e1e1e" transform="translate(506.13 330) scale(1 1.12)">600</text>
<text font-size="7.9" text-anchor="middle" stroke="#1e1e1e" stroke-width="0.18" fill="#1e1e1e" transform="translate(535.44 330) scale(1 1.12)">700</text>
<text font-size="7.8" text-anchor="middle" font-weight="bold" fill="#000" transform="translate(435.8 274) scale(1 1.12)" stroke="#000" stroke-width="0.2">Deoxy: HighMC-UpMC</text>
<text font-size="7.9" text-anchor="middle" stroke="#262626" stroke-width="0.18" fill="#262626" transform="translate(26.6 34.2) rotate(-90) scale(1 1.12)">BOLD (A.U.)</text>
<text font-size="7.9" text-anchor="middle" stroke="#1e1e1e" stroke-width="0.18" fill="#1e1e1e" transform="translate(33.2 166.5) rotate(-90) scale(1 1.12)">Oxyhemoglobin (A.U.)</text>
<text font-size="8.2" text-anchor="middle" stroke="#1e1e1e" stroke-width="0.18" fill="#1e1e1e" transform="translate(33.2 298) rotate(-90) scale(1 1.12)">Difference</text>
<text font-size="7.9" text-anchor="middle" stroke="#1e1e1e" stroke-width="0.18" fill="#1e1e1e" transform="translate(313.6 34.5) rotate(-90) scale(1 1.12)">BOLD (%)</text>
<text font-size="7.9" text-anchor="middle" stroke="#1e1e1e" stroke-width="0.18" fill="#1e1e1e" transform="translate(310.8 166.8) rotate(-90) scale(1 1.12)">Deoxyhemoglobin (A.U.)</text>
<text font-size="8.2" text-anchor="middle" stroke="#1e1e1e" stroke-width="0.18" fill="#1e1e1e" transform="translate(306.2 297.5) rotate(-90) scale(1 1.12)">Difference</text>
<text font-size="7.9" text-anchor="middle" stroke="#1e1e1e" stroke-width="0.18" fill="#1e1e1e" transform="translate(157.8 339.2) scale(1 1.12)">Time in seconds</text>
<text font-size="7.9" text-anchor="middle" stroke="#1e1e1e" stroke-width="0.18" fill="#1e1e1e" transform="translate(435.8 339.2) scale(1 1.12)">Time in seconds</text>
<text font-size="8.4" fill="#3a3a3a" transform="translate(331.0 11.8) scale(1 1.1)">×10<tspan font-size="6" dx="1.1" dy="-3.7">4</tspan></text>
<text font-size="12" text-anchor="middle" font-weight="bold" fill="#111" transform="translate(11.7 36.95) scale(1 1.0)" stroke="#111" stroke-width="0.3" textLength="12.4" lengthAdjust="spacingAndGlyphs">(a)</text>
<text font-size="12" text-anchor="middle" font-weight="bold" fill="#111" transform="translate(11.3 104.95) scale(1 1.0)" stroke="#111" stroke-width="0.3" textLength="12.4" lengthAdjust="spacingAndGlyphs">(b)</text>
<text font-size="12" text-anchor="middle" font-weight="bold" fill="#111" transform="translate(12.9 169.1) scale(1 1.0)" stroke="#111" stroke-width="0.3" textLength="12.4" lengthAdjust="spacingAndGlyphs">(c)</text>
<text font-size="12" text-anchor="middle" font-weight="bold" fill="#111" transform="translate(11.3 235.7) scale(1 1.0)" stroke="#111" stroke-width="0.3" textLength="12.4" lengthAdjust="spacingAndGlyphs">(d)</text>
<text font-size="12" text-anchor="middle" font-weight="bold" fill="#111" transform="translate(12.4 302.6) scale(1 1.0)" stroke="#111" stroke-width="0.3" textLength="12.4" lengthAdjust="spacingAndGlyphs">(e)</text></svg>
</body></html>
